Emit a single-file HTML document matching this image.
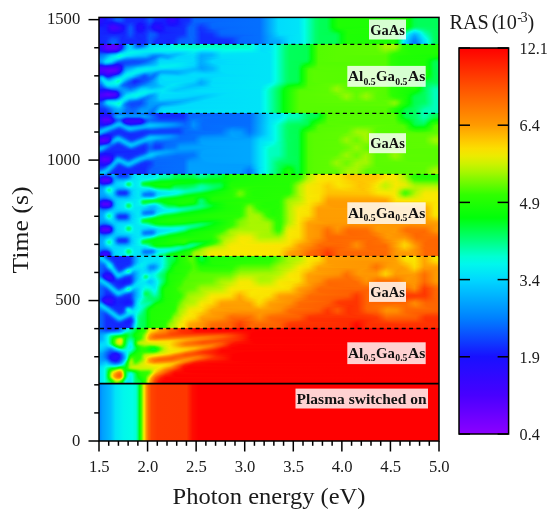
<!DOCTYPE html><html><head><meta charset="utf-8"><style>html,body{margin:0;padding:0;background:#fff;overflow:hidden}#w{position:relative;width:550px;height:517px}#h{position:absolute;left:99px;top:17px;width:340px;height:424px}#h i{display:block;height:1px;width:340px}svg{position:absolute;left:0;top:0;display:block}</style></head><body><div id="w"><div id="h"><i style="background:linear-gradient(90deg,#3008ff 0.5px,#1715ff 6.5px,#1326ff 9.5px,#1131ff 12.5px,#0664ff 17.5px,#0663ff 21.5px,#122aff 27.5px,#122bff 45.5px,#0958ff 50.5px,#0a51ff 52.5px,#122bff 56.5px,#1423ff 64.5px,#220dff 68.5px,#2f08ff 72.5px,#210dff 77.5px,#1326ff 82.5px,#122dff 89.5px,#0666ff 95.5px,#046fff 160.5px,#00dcfd 179.5px,#00e4f8 199.5px,#00fee8 205.5px,#00ff6e 216.5px,#00ff59 220.5px,#00ff54 227.5px,#00ff34 230.5px,#02ff0a 233.5px,#1fff04 239.5px,#1dff04 305.5px,#02ff0a 310.5px,#00ff4d 315.5px,#00ff59 319.5px,#00ff59 339.5px)"></i><i style="background:linear-gradient(90deg,#2f08ff 0.5px,#1715ff 6.5px,#1327ff 10.5px,#0f3aff 13.5px,#0663ff 17.5px,#0663ff 21.5px,#122aff 27.5px,#122bff 45.5px,#0957ff 50.5px,#0a51ff 52.5px,#122bff 56.5px,#151eff 65.5px,#220dff 68.5px,#2f08ff 73.5px,#1a0fff 78.5px,#1326ff 82.5px,#122dff 89.5px,#0666ff 95.5px,#046fff 160.5px,#00dcfd 179.5px,#00e4f8 199.5px,#00fee8 205.5px,#00ff6e 216.5px,#00ff59 220.5px,#00ff54 227.5px,#00ff34 230.5px,#02ff0a 233.5px,#1fff04 239.5px,#1dff04 305.5px,#02ff0a 310.5px,#00ff4d 315.5px,#00ff59 319.5px,#00ff59 339.5px)"></i><i style="background:linear-gradient(90deg,#2f08ff 0.5px,#1715ff 6.5px,#1424ff 9.5px,#122eff 12.5px,#075fff 17.5px,#0760ff 21.5px,#122bff 27.5px,#1327ff 44.5px,#0f3bff 47.5px,#0956ff 50.5px,#0a50ff 52.5px,#1329ff 56.5px,#151eff 65.5px,#220dff 68.5px,#2f08ff 73.5px,#1a0fff 78.5px,#1326ff 82.5px,#122eff 89.5px,#0665ff 95.5px,#046fff 160.5px,#00dcfd 179.5px,#00e4f8 199.5px,#00fee8 205.5px,#00ff6e 216.5px,#00ff59 220.5px,#00ff54 227.5px,#00ff34 230.5px,#02ff0a 233.5px,#1fff04 239.5px,#1dff04 305.5px,#02ff0a 310.5px,#00ff4d 315.5px,#00ff59 319.5px,#00ff59 339.5px)"></i><i style="background:linear-gradient(90deg,#2d09ff 0.5px,#1716ff 6.5px,#1421ff 9.5px,#1327ff 12.5px,#0956ff 17.5px,#0859ff 21.5px,#122bff 27.5px,#1424ff 43.5px,#0f3aff 47.5px,#0954ff 50.5px,#0d42ff 53.5px,#1326ff 56.5px,#151dff 65.5px,#260bff 69.5px,#2c09ff 74.5px,#1a0fff 78.5px,#1424ff 81.5px,#1130ff 89.5px,#0665ff 95.5px,#046fff 160.5px,#00dcfd 179.5px,#00e4f8 199.5px,#00fee8 205.5px,#00ff6e 216.5px,#00ff59 220.5px,#00ff54 227.5px,#00ff34 230.5px,#02ff0a 233.5px,#1fff04 239.5px,#1dff04 305.5px,#02ff0a 310.5px,#00ff4d 315.5px,#00ff59 319.5px,#00ff59 339.5px)"></i><i style="background:linear-gradient(90deg,#2a0aff 0.5px,#1716ff 6.5px,#161bff 9.5px,#161aff 12.5px,#0c4aff 18.5px,#0c49ff 22.5px,#122bff 27.5px,#1328ff 35.5px,#1520ff 43.5px,#1038ff 47.5px,#0a4fff 50.5px,#0c47ff 52.5px,#151fff 56.5px,#151dff 65.5px,#1f0eff 68.5px,#2a0aff 73.5px,#1910ff 78.5px,#1326ff 82.5px,#1034ff 89.5px,#0665ff 95.5px,#0666ff 108.5px,#046fff 160.5px,#00dcfd 179.5px,#00e4f8 199.5px,#00fee8 205.5px,#00ff6e 216.5px,#00ff59 220.5px,#00ff54 227.5px,#00ff34 230.5px,#02ff0a 233.5px,#1fff04 239.5px,#1dff04 305.5px,#02ff0a 310.5px,#00ff4d 315.5px,#00ff59 319.5px,#00ff59 339.5px)"></i><i style="background:linear-gradient(90deg,#270bff 0.5px,#1617ff 6.5px,#1910ff 13.5px,#0f3bff 20.5px,#122cff 27.5px,#1131ff 33.5px,#1717ff 41.5px,#122dff 46.5px,#0c49ff 50.5px,#0e3fff 52.5px,#1716ff 56.5px,#1716ff 61.5px,#151dff 65.5px,#210dff 69.5px,#230cff 75.5px,#1812ff 78.5px,#1326ff 82.5px,#0f3aff 89.5px,#0664ff 95.5px,#085cff 104.5px,#056aff 118.5px,#046fff 160.5px,#00dcfd 179.5px,#00e4f8 199.5px,#00fee8 205.5px,#00ff6e 216.5px,#00ff59 220.5px,#00ff54 227.5px,#00ff34 230.5px,#02ff0a 233.5px,#1fff04 239.5px,#1dff04 305.5px,#02ff0a 310.5px,#00ff4d 315.5px,#00ff59 319.5px,#00ff59 339.5px)"></i><i style="background:linear-gradient(90deg,#220dff 0.5px,#1713ff 5.5px,#1713ff 8.5px,#240cff 13.5px,#1618ff 18.5px,#122bff 23.5px,#1131ff 28.5px,#0f3aff 32.5px,#1810ff 40.5px,#151cff 44.5px,#0d41ff 50.5px,#1329ff 53.5px,#1712ff 55.5px,#1713ff 62.5px,#151dff 65.5px,#200dff 70.5px,#1910ff 77.5px,#1326ff 82.5px,#1035ff 87.5px,#0662ff 94.5px,#0a53ff 103.5px,#056aff 114.5px,#046fff 160.5px,#00dcfd 179.5px,#00e4f8 199.5px,#00fee8 205.5px,#00ff6e 216.5px,#00ff59 220.5px,#00ff54 227.5px,#00ff34 230.5px,#02ff0a 233.5px,#1fff04 239.5px,#1dff04 305.5px,#02ff0a 310.5px,#00ff4d 315.5px,#00ff59 319.5px,#00ff59 339.5px)"></i><i style="background:linear-gradient(90deg,#1d0eff 0.5px,#161aff 6.5px,#260bff 10.5px,#2d09ff 14.5px,#1619ff 22.5px,#0d42ff 31.5px,#122dff 35.5px,#1910ff 39.5px,#1810ff 43.5px,#0f39ff 49.5px,#1035ff 51.5px,#1812ff 54.5px,#1f0eff 60.5px,#151cff 66.5px,#1c0fff 70.5px,#1713ff 77.5px,#1326ff 82.5px,#0f3aff 87.5px,#0663ff 94.5px,#0c4aff 102.5px,#0569ff 113.5px,#046fff 160.5px,#00dcfd 179.5px,#00e4f8 199.5px,#00fee8 205.5px,#00ff6e 216.5px,#00ff59 220.5px,#00ff54 227.5px,#00ff34 230.5px,#02ff0a 233.5px,#1fff04 239.5px,#1dff04 305.5px,#02ff0a 310.5px,#00ff4e 315.5px,#00ff59 319.5px,#00ff59 339.5px)"></i><i style="background:linear-gradient(90deg,#1910ff 0.5px,#161bff 6.5px,#2c09ff 10.5px,#3805ff 14.5px,#1810ff 23.5px,#0c4aff 31.5px,#112fff 35.5px,#1810ff 38.5px,#1e0eff 42.5px,#151dff 45.5px,#1132ff 49.5px,#122cff 51.5px,#1b0fff 54.5px,#240cff 59.5px,#1617ff 64.5px,#151cff 67.5px,#1910ff 73.5px,#112fff 85.5px,#0760ff 92.5px,#075dff 96.5px,#0d42ff 102.5px,#0569ff 113.5px,#046fff 160.5px,#00dcfd 179.5px,#00e4f8 199.5px,#00fee8 205.5px,#00ff6e 216.5px,#00ff59 220.5px,#00ff54 227.5px,#00ff34 230.5px,#02ff0a 233.5px,#1fff04 239.5px,#1dff04 305.5px,#01ff0a 310.5px,#00ff50 315.5px,#00ff5b 319.5px,#00ff59 339.5px)"></i><i style="background:linear-gradient(90deg,#1618ff 0.5px,#151cff 6.5px,#3805ff 11.5px,#3f03ff 15.5px,#1810ff 24.5px,#0b4dff 30.5px,#0b4eff 32.5px,#1a0fff 38.5px,#200dff 42.5px,#1811ff 44.5px,#122cff 48.5px,#1326ff 51.5px,#1910ff 53.5px,#280bff 58.5px,#1a0fff 63.5px,#1520ff 66.5px,#161aff 75.5px,#1130ff 85.5px,#0760ff 91.5px,#0761ff 95.5px,#0f3cff 101.5px,#0b4bff 106.5px,#0567ff 113.5px,#046fff 160.5px,#00dcfd 179.5px,#00e4f8 199.5px,#00fee8 205.5px,#00ff6e 216.5px,#00ff59 220.5px,#00ff54 227.5px,#00ff35 230.5px,#01ff0a 233.5px,#1eff04 239.5px,#1bff04 305.5px,#00ff0d 310.5px,#00ff57 315.5px,#00ff60 319.5px,#00ff59 339.5px)"></i><i style="background:linear-gradient(90deg,#1520ff 0.5px,#151dff 6.5px,#280bff 9.5px,#4102ff 12.5px,#3f03ff 17.5px,#1a0fff 24.5px,#0a51ff 30.5px,#0a52ff 32.5px,#1a0fff 38.5px,#210dff 42.5px,#1810ff 44.5px,#122bff 48.5px,#1424ff 51.5px,#1910ff 53.5px,#290aff 59.5px,#1715ff 64.5px,#1423ff 67.5px,#1327ff 82.5px,#1132ff 85.5px,#0761ff 90.5px,#0665ff 94.5px,#1036ff 101.5px,#0e40ff 105.5px,#0665ff 113.5px,#046fff 160.5px,#00dcfd 179.5px,#00e4f8 199.5px,#00fee8 205.5px,#00ff6e 216.5px,#00ff59 220.5px,#00ff54 227.5px,#00ff37 230.5px,#00ff0b 233.5px,#1cff04 240.5px,#1bff04 301.5px,#0cff07 307.5px,#00ff0d 309.5px,#00ff5e 314.5px,#00ff71 317.5px,#00ff59 335.5px,#00ff59 339.5px)"></i><i style="background:linear-gradient(90deg,#1424ff 0.5px,#151fff 6.5px,#270bff 9.5px,#4202ff 13.5px,#3a05ff 18.5px,#1a0fff 24.5px,#0954ff 30.5px,#0955ff 32.5px,#1a0fff 38.5px,#200dff 42.5px,#1811ff 44.5px,#122cff 48.5px,#1328ff 51.5px,#1c0fff 54.5px,#260bff 60.5px,#1716ff 64.5px,#1425ff 67.5px,#122cff 84.5px,#0663ff 90.5px,#0665ff 94.5px,#1133ff 101.5px,#0f3cff 105.5px,#0760ff 113.5px,#056aff 133.5px,#046fff 160.5px,#00dcfd 179.5px,#00e4f8 199.5px,#00fee8 205.5px,#00ff6e 216.5px,#00ff59 220.5px,#00ff55 227.5px,#00ff2e 231.5px,#02ff0a 234.5px,#19ff05 241.5px,#20ff03 265.5px,#1cff04 298.5px,#08ff08 306.5px,#00ff16 308.5px,#00ff7d 314.5px,#00ff8e 316.5px,#00ff65 328.5px,#00ff59 339.5px)"></i><i style="background:linear-gradient(90deg,#1326ff 0.5px,#1520ff 6.5px,#240cff 9.5px,#3b04ff 13.5px,#3506ff 18.5px,#1910ff 24.5px,#0955ff 30.5px,#0956ff 32.5px,#1810ff 38.5px,#1e0eff 42.5px,#151dff 45.5px,#1133ff 49.5px,#1328ff 52.5px,#1a0fff 55.5px,#200dff 61.5px,#1618ff 64.5px,#1326ff 68.5px,#122cff 84.5px,#0664ff 90.5px,#0665ff 94.5px,#1131ff 101.5px,#0f38ff 105.5px,#075dff 115.5px,#056aff 128.5px,#046fff 160.5px,#00dcfd 179.5px,#00e4f8 199.5px,#00fee8 205.5px,#00ff6e 216.5px,#00ff59 220.5px,#00ff51 228.5px,#01ff0a 235.5px,#1fff04 247.5px,#1cff04 297.5px,#00ff0a 305.5px,#00ff5f 310.5px,#00ffa9 314.5px,#00ffb8 316.5px,#00ff8e 322.5px,#00ff6d 328.5px,#00ff59 338.5px,#00ff59 339.5px)"></i><i style="background:linear-gradient(90deg,#1326ff 0.5px,#1421ff 6.5px,#200dff 9.5px,#3307ff 14.5px,#1b0fff 23.5px,#1133ff 27.5px,#0955ff 30.5px,#0956ff 32.5px,#1714ff 38.5px,#1810ff 43.5px,#0f39ff 49.5px,#1035ff 52.5px,#1810ff 57.5px,#1a0fff 62.5px,#1326ff 67.5px,#122cff 84.5px,#0665ff 90.5px,#0665ff 94.5px,#1130ff 101.5px,#1034ff 105.5px,#0569ff 122.5px,#046fff 160.5px,#00dcfd 179.5px,#00e4f8 199.5px,#00fee8 205.5px,#00ff6e 216.5px,#00ff59 220.5px,#00ff52 228.5px,#02ff0a 237.5px,#20ff03 249.5px,#1dff04 296.5px,#03ff09 302.5px,#00ff2a 305.5px,#00ffa0 311.5px,#00ffdb 314.5px,#00ffe8 316.5px,#00ffc1 320.5px,#00ff81 326.5px,#00ff59 336.5px,#00ff59 339.5px)"></i><i style="background:linear-gradient(90deg,#1326ff 0.5px,#1423ff 6.5px,#200dff 10.5px,#290aff 16.5px,#1811ff 23.5px,#0e3fff 28.5px,#0859ff 31.5px,#0d41ff 34.5px,#1713ff 39.5px,#1715ff 43.5px,#0d44ff 50.5px,#1036ff 54.5px,#1810ff 60.5px,#1326ff 68.5px,#122cff 84.5px,#0665ff 90.5px,#0665ff 94.5px,#122dff 102.5px,#0b4dff 114.5px,#0569ff 122.5px,#046fff 160.5px,#00dcfd 179.5px,#00e4f8 199.5px,#00fee8 205.5px,#00ff6e 216.5px,#00ff59 220.5px,#00ff54 228.5px,#00ff0a 239.5px,#20ff03 249.5px,#1cff04 296.5px,#00ff0c 301.5px,#00ff5f 306.5px,#00ffe7 312.5px,#00ecf3 315.5px,#00ffe4 320.5px,#00ff99 325.5px,#00ff63 333.5px,#00ff59 339.5px)"></i><i style="background:linear-gradient(90deg,#1326ff 0.5px,#1520ff 7.5px,#1d0eff 11.5px,#1a0fff 20.5px,#122aff 26.5px,#0955ff 30.5px,#0956ff 32.5px,#1423ff 37.5px,#1716ff 41.5px,#122cff 46.5px,#0b4fff 51.5px,#0e40ff 55.5px,#161aff 60.5px,#1326ff 72.5px,#122dff 84.5px,#0665ff 90.5px,#0665ff 94.5px,#122cff 102.5px,#0d42ff 113.5px,#0568ff 122.5px,#046fff 160.5px,#00defc 180.5px,#00e4f8 199.5px,#00fee8 205.5px,#00ff6e 216.5px,#00ff59 220.5px,#00ff4f 230.5px,#00ff25 238.5px,#02ff0a 241.5px,#20ff03 249.5px,#1eff04 295.5px,#00ff0c 300.5px,#00ff9b 307.5px,#00ffe5 310.5px,#00dafe 315.5px,#00ecf3 319.5px,#00ffdf 322.5px,#00ff9d 326.5px,#00ff60 334.5px,#00ff59 339.5px)"></i><i style="background:linear-gradient(90deg,#1326ff 0.5px,#1520ff 8.5px,#1811ff 15.5px,#1325ff 25.5px,#0957ff 31.5px,#0e40ff 34.5px,#1422ff 38.5px,#1520ff 43.5px,#1038ff 47.5px,#0958ff 51.5px,#0b4dff 55.5px,#1520ff 61.5px,#112eff 84.5px,#0665ff 90.5px,#0665ff 94.5px,#122bff 102.5px,#1037ff 112.5px,#0666ff 122.5px,#046fff 160.5px,#00dcfd 180.5px,#00e4f8 199.5px,#00fee8 205.5px,#00ff6e 216.5px,#00ff59 220.5px,#00ff50 231.5px,#00ff3d 237.5px,#03ff09 242.5px,#20ff03 249.5px,#1dff04 295.5px,#02ff0a 299.5px,#00ff8e 305.5px,#00ffdb 308.5px,#00f0f1 310.5px,#00cbff 314.5px,#00cdff 317.5px,#00f9ec 322.5px,#00ffcc 324.5px,#00ff96 328.5px,#00ff5d 335.5px,#00ff59 339.5px)"></i><i style="background:linear-gradient(90deg,#1326ff 0.5px,#1424ff 24.5px,#0e3dff 28.5px,#0954ff 31.5px,#1327ff 37.5px,#1326ff 44.5px,#0f3aff 47.5px,#075dff 51.5px,#0955ff 55.5px,#1325ff 61.5px,#112fff 83.5px,#0b4cff 87.5px,#0665ff 90.5px,#0665ff 94.5px,#122aff 102.5px,#1131ff 112.5px,#0761ff 122.5px,#046fff 160.5px,#00d9fe 180.5px,#00e7f6 200.5px,#00fee8 205.5px,#00ff6e 216.5px,#00ff59 220.5px,#00ff4d 236.5px,#00ff35 239.5px,#00ff0a 242.5px,#1eff04 248.5px,#1dff04 295.5px,#00ff0e 299.5px,#00ffe1 307.5px,#00ceff 312.5px,#00b7ff 315.5px,#00c8ff 318.5px,#00f9eb 323.5px,#00ffa2 328.5px,#00ff63 334.5px,#00ff59 339.5px)"></i><i style="background:linear-gradient(90deg,#1326ff 0.5px,#122eff 17.5px,#1328ff 25.5px,#0b4fff 31.5px,#1328ff 37.5px,#122bff 45.5px,#0760ff 51.5px,#0956ff 55.5px,#1328ff 61.5px,#122aff 76.5px,#0e3eff 85.5px,#0666ff 90.5px,#0665ff 94.5px,#122aff 102.5px,#122eff 112.5px,#085bff 122.5px,#056aff 153.5px,#046fff 160.5px,#00d4ff 180.5px,#00e7f6 200.5px,#00fee8 205.5px,#00ff6e 216.5px,#00ff59 220.5px,#00ff53 236.5px,#00ff3b 239.5px,#00ff0e 242.5px,#1eff04 248.5px,#1dff04 295.5px,#06ff09 298.5px,#00ff16 299.5px,#00ffde 306.5px,#00eef2 308.5px,#00cdff 311.5px,#00aaff 315.5px,#00bdff 318.5px,#00e8f6 322.5px,#00fbea 324.5px,#00ff7a 332.5px,#00ff5e 335.5px,#00ff59 339.5px)"></i><i style="background:linear-gradient(90deg,#1326ff 0.5px,#1130ff 9.5px,#0f3bff 15.5px,#1327ff 24.5px,#1037ff 28.5px,#0c48ff 31.5px,#1328ff 37.5px,#122bff 45.5px,#0760ff 51.5px,#0b4bff 56.5px,#1329ff 61.5px,#122aff 75.5px,#0b4cff 86.5px,#0569ff 91.5px,#0760ff 95.5px,#122aff 102.5px,#122cff 112.5px,#0a52ff 122.5px,#075dff 135.5px,#056aff 145.5px,#046fff 160.5px,#00c3ff 177.5px,#00e0fa 191.5px,#00e7f6 200.5px,#00fee8 205.5px,#00ff6e 216.5px,#00ff59 220.5px,#00ff56 236.5px,#00ff3d 239.5px,#00ff0f 242.5px,#1eff04 248.5px,#1cff04 295.5px,#04ff09 298.5px,#00ff3b 300.5px,#00ffd5 305.5px,#00fbea 306.5px,#00d0ff 310.5px,#00a5ff 314.5px,#00a2ff 316.5px,#00e1fa 322.5px,#00fde9 325.5px,#00ff71 333.5px,#00ff5b 336.5px,#00ff59 339.5px)"></i><i style="background:linear-gradient(90deg,#1326ff 0.5px,#122bff 7.5px,#0d45ff 13.5px,#0f3cff 18.5px,#1327ff 23.5px,#1034ff 28.5px,#0d41ff 31.5px,#1327ff 38.5px,#122bff 45.5px,#085bff 50.5px,#0958ff 53.5px,#1328ff 61.5px,#122bff 75.5px,#0c47ff 82.5px,#0a52ff 86.5px,#0569ff 91.5px,#0760ff 95.5px,#122aff 102.5px,#122aff 112.5px,#0c49ff 123.5px,#0a51ff 133.5px,#056aff 143.5px,#046fff 160.5px,#00afff 173.5px,#00dffb 190.5px,#00e7f6 200.5px,#00fee8 205.5px,#00ff6e 216.5px,#00ff59 220.5px,#00ff56 236.5px,#00ff3e 239.5px,#00ff10 242.5px,#1eff04 248.5px,#1cff04 295.5px,#03ff09 298.5px,#00ff83 302.5px,#00ffe6 305.5px,#00d3ff 309.5px,#009dff 314.5px,#009aff 316.5px,#00e4f8 323.5px,#00fee8 326.5px,#00ff68 334.5px,#00ff59 337.5px,#00ff59 339.5px)"></i><i style="background:linear-gradient(90deg,#1326ff 0.5px,#122dff 7.5px,#0b4fff 13.5px,#0c48ff 17.5px,#1327ff 23.5px,#1035ff 29.5px,#1035ff 33.5px,#1326ff 39.5px,#122bff 45.5px,#085aff 50.5px,#0a53ff 53.5px,#122aff 60.5px,#1329ff 74.5px,#0b4fff 81.5px,#075dff 87.5px,#0569ff 92.5px,#0958ff 96.5px,#122aff 102.5px,#122bff 113.5px,#0e40ff 124.5px,#0c46ff 132.5px,#0569ff 142.5px,#046fff 160.5px,#00a6ff 171.5px,#00e0fb 191.5px,#00e7f6 200.5px,#00fee8 205.5px,#00ff6e 216.5px,#00ff59 220.5px,#00ff57 236.5px,#00ff3e 239.5px,#00ff10 242.5px,#1eff04 248.5px,#1cff04 295.5px,#01ff0a 298.5px,#00ffd5 304.5px,#00f9eb 305.5px,#00ccff 309.5px,#0095ff 314.5px,#0092ff 316.5px,#00ddfc 323.5px,#00ffe6 327.5px,#00ff78 333.5px,#00ff5b 336.5px,#00ff59 339.5px)"></i><i style="background:linear-gradient(90deg,#1326ff 0.5px,#122eff 7.5px,#0955ff 12.5px,#0955ff 16.5px,#122aff 22.5px,#122dff 28.5px,#1130ff 33.5px,#1326ff 42.5px,#1131ff 46.5px,#0859ff 50.5px,#0957ff 52.5px,#122eff 58.5px,#1326ff 70.5px,#122eff 75.5px,#0958ff 81.5px,#0568ff 93.5px,#0a50ff 97.5px,#122aff 102.5px,#122bff 114.5px,#1037ff 127.5px,#0d43ff 133.5px,#0568ff 141.5px,#046fff 160.5px,#00a5ff 171.5px,#00bbff 181.5px,#00dffb 190.5px,#00e7f6 200.5px,#00fee8 205.5px,#00ff6e 216.5px,#00ff59 220.5px,#00ff57 236.5px,#00ff3e 239.5px,#00ff10 242.5px,#1eff04 248.5px,#1cff04 295.5px,#00ff0c 298.5px,#00ffe3 304.5px,#00d0ff 308.5px,#008eff 314.5px,#008bff 316.5px,#00e1fa 324.5px,#00ffde 328.5px,#00ff6c 334.5px,#00ff59 337.5px,#00ff59 339.5px)"></i><i style="background:linear-gradient(90deg,#1326ff 0.5px,#122aff 6.5px,#085bff 12.5px,#085cff 16.5px,#122aff 22.5px,#1329ff 35.5px,#122bff 45.5px,#0859ff 50.5px,#0b4bff 53.5px,#122dff 57.5px,#1327ff 73.5px,#0d41ff 77.5px,#075fff 81.5px,#0568ff 93.5px,#0a50ff 97.5px,#122aff 102.5px,#122cff 117.5px,#1034ff 131.5px,#0568ff 141.5px,#046fff 160.5px,#00a4ff 171.5px,#00b1ff 180.5px,#00dffb 190.5px,#00e7f6 200.5px,#00fee8 205.5px,#00ff6e 216.5px,#00ff59 220.5px,#00ff57 236.5px,#00ff3e 239.5px,#00ff10 242.5px,#1eff04 248.5px,#1cff04 295.5px,#00ff0f 298.5px,#00fde9 304.5px,#00d7ff 307.5px,#0088ff 314.5px,#0086ff 316.5px,#00dcfd 324.5px,#00ffe7 328.5px,#00ff6d 334.5px,#00ff59 337.5px,#00ff59 339.5px)"></i><i style="background:linear-gradient(90deg,#1326ff 0.5px,#122aff 6.5px,#0760ff 12.5px,#0760ff 16.5px,#122bff 22.5px,#122bff 45.5px,#0958ff 50.5px,#0a53ff 52.5px,#122eff 56.5px,#1326ff 71.5px,#1130ff 75.5px,#0760ff 80.5px,#0568ff 93.5px,#0a50ff 97.5px,#122aff 102.5px,#122dff 130.5px,#0567ff 141.5px,#046fff 160.5px,#00a1ff 170.5px,#00adff 180.5px,#00dffb 190.5px,#00e7f6 200.5px,#00fee8 205.5px,#00ff6e 216.5px,#00ff59 220.5px,#00ff57 236.5px,#00ff3e 239.5px,#00ff10 242.5px,#1eff04 248.5px,#1cff04 295.5px,#00ff11 298.5px,#00ffd0 303.5px,#00faeb 304.5px,#00d3ff 307.5px,#0084ff 314.5px,#0082ff 316.5px,#00d8ff 324.5px,#00fde9 328.5px,#00ff6e 334.5px,#00ff59 337.5px,#00ff59 339.5px)"></i><i style="background:linear-gradient(90deg,#1326ff 0.5px,#122aff 6.5px,#0662ff 12.5px,#0663ff 16.5px,#122bff 22.5px,#122bff 45.5px,#0958ff 50.5px,#0a52ff 52.5px,#122cff 56.5px,#1328ff 73.5px,#0f39ff 76.5px,#0662ff 80.5px,#0569ff 92.5px,#0958ff 96.5px,#122aff 102.5px,#122dff 131.5px,#0567ff 141.5px,#046fff 160.5px,#00a1ff 170.5px,#00abff 180.5px,#00dffb 190.5px,#00e7f6 200.5px,#00fee8 205.5px,#00ff6e 216.5px,#00ff59 220.5px,#00ff57 236.5px,#00ff3e 239.5px,#00ff10 242.5px,#1eff04 248.5px,#1cff04 295.5px,#0aff08 297.5px,#00ff12 298.5px,#00ffd3 303.5px,#00f8ec 304.5px,#00d1ff 307.5px,#0082ff 314.5px,#007fff 316.5px,#00e0fa 325.5px,#00fcea 328.5px,#00ffab 331.5px,#00ff6e 334.5px,#00ff5c 336.5px,#00ff59 339.5px)"></i><i style="background:linear-gradient(90deg,#1326ff 0.5px,#122aff 6.5px,#0663ff 12.5px,#0664ff 16.5px,#122bff 22.5px,#122bff 45.5px,#0958ff 50.5px,#0a51ff 52.5px,#122bff 56.5px,#122aff 74.5px,#0663ff 80.5px,#0569ff 92.5px,#0958ff 96.5px,#122aff 102.5px,#122cff 131.5px,#0567ff 141.5px,#046fff 160.5px,#00a1ff 170.5px,#00aaff 180.5px,#00dffb 190.5px,#00e7f6 200.5px,#00fee8 205.5px,#00ff6e 216.5px,#00ff59 220.5px,#00ff57 236.5px,#00ff3e 239.5px,#00ff10 242.5px,#1eff04 248.5px,#1cff04 295.5px,#0aff08 297.5px,#00ff12 298.5px,#00ffd5 303.5px,#00f8ec 304.5px,#00d0ff 307.5px,#0081ff 314.5px,#007eff 316.5px,#00e0fa 325.5px,#00fbea 328.5px,#00ffc3 330.5px,#00ff6e 334.5px,#00ff5a 337.5px,#00ff59 339.5px)"></i><i style="background:linear-gradient(90deg,#3108ff 0.5px,#4102ff 4.5px,#5900ff 8.5px,#5900ff 16.5px,#3108ff 21.5px,#230cff 22.5px,#151fff 23.5px,#0372ff 25.5px,#00a7ff 27.5px,#00ccff 30.5px,#00c3ff 32.5px,#0a52ff 38.5px,#0e40ff 40.5px,#0d45ff 42.5px,#046fff 45.5px,#00cfff 50.5px,#00e1fa 53.5px,#00e4f8 69.5px,#00fde9 73.5px,#00ffc6 76.5px,#00ffbf 121.5px,#00ffc1 149.5px,#00ffd8 152.5px,#00f7ed 155.5px,#00e0fa 162.5px,#00e4f8 170.5px,#00ffe8 176.5px,#00ff76 186.5px,#00ff5b 190.5px,#00ff55 207.5px,#00ff41 209.5px,#04ff09 212.5px,#39fe00 217.5px,#53fd00 219.5px,#59fc00 237.5px,#5cfc00 276.5px,#a8f700 287.5px,#a5f700 295.5px,#84f900 298.5px,#32ff00 303.5px,#20ff03 308.5px,#20ff03 339.5px)"></i><i style="background:linear-gradient(90deg,#3008ff 0.5px,#4900ff 5.5px,#5c00ff 9.5px,#5700ff 17.5px,#3207ff 21.5px,#230cff 22.5px,#151fff 23.5px,#0372ff 25.5px,#00a7ff 27.5px,#00c5ff 29.5px,#00cdff 31.5px,#00b3ff 33.5px,#0859ff 38.5px,#0b4aff 40.5px,#0a52ff 42.5px,#009dff 47.5px,#00d2ff 50.5px,#00e3f9 53.5px,#00e9f5 70.5px,#00fde9 73.5px,#00ffc9 76.5px,#00ffc0 104.5px,#00ffc2 149.5px,#00ffd9 152.5px,#00fcea 154.5px,#00e1fa 161.5px,#00e4f8 170.5px,#00ffe8 176.5px,#00ff76 186.5px,#00ff5b 190.5px,#00ff55 207.5px,#00ff41 209.5px,#04ff09 212.5px,#39fe00 217.5px,#53fd00 219.5px,#59fc00 237.5px,#5cfc00 276.5px,#a4f700 286.5px,#a4f700 295.5px,#83f900 298.5px,#31ff00 303.5px,#20ff03 308.5px,#20ff03 339.5px)"></i><i style="background:linear-gradient(90deg,#3008ff 0.5px,#4900ff 5.5px,#5c00ff 8.5px,#5900ff 17.5px,#3108ff 21.5px,#220dff 22.5px,#1422ff 23.5px,#0275ff 25.5px,#00a9ff 27.5px,#00ceff 30.5px,#00c5ff 32.5px,#0373ff 37.5px,#075fff 40.5px,#0275ff 43.5px,#00baff 48.5px,#00e0fa 51.5px,#00e7f6 61.5px,#00ecf3 70.5px,#00fde9 73.5px,#00ffcd 76.5px,#00ffc3 99.5px,#00ffc4 149.5px,#00fbea 154.5px,#00e1fa 161.5px,#00e4f8 170.5px,#00ffe8 176.5px,#00ff76 186.5px,#00ff5b 190.5px,#00ff55 207.5px,#00ff41 209.5px,#04ff09 212.5px,#39fe00 217.5px,#53fd00 219.5px,#59fc00 237.5px,#5cfc00 276.5px,#a3f700 286.5px,#a2f700 295.5px,#81f900 298.5px,#31ff00 303.5px,#20ff03 308.5px,#20ff03 339.5px)"></i><i style="background:linear-gradient(90deg,#2d09ff 0.5px,#3f03ff 4.5px,#5c00ff 8.5px,#5900ff 17.5px,#2e09ff 21.5px,#1e0eff 22.5px,#122bff 23.5px,#017cff 25.5px,#00acff 27.5px,#00d0ff 30.5px,#00caff 32.5px,#0091ff 36.5px,#0081ff 39.5px,#0095ff 43.5px,#00e0fa 50.5px,#00ebf4 55.5px,#00f3ef 71.5px,#00ffd9 75.5px,#00ffc9 96.5px,#00ffce 113.5px,#00ffc7 141.5px,#00ffcd 150.5px,#00faeb 154.5px,#00e0fa 162.5px,#00e4f8 170.5px,#00ffe8 176.5px,#00ff76 186.5px,#00ff5b 190.5px,#00ff55 207.5px,#00ff41 209.5px,#04ff09 212.5px,#39fe00 217.5px,#53fd00 219.5px,#59fc00 237.5px,#5cfc00 276.5px,#9ff700 286.5px,#9ff700 294.5px,#8af900 297.5px,#30ff00 303.5px,#20ff03 308.5px,#20ff03 339.5px)"></i><i style="background:linear-gradient(90deg,#280bff 0.5px,#3a05ff 4.5px,#5800ff 8.5px,#5800ff 16.5px,#3407ff 20.5px,#1618ff 22.5px,#0089ff 25.5px,#00c3ff 28.5px,#00d7ff 31.5px,#00a3ff 37.5px,#00aaff 41.5px,#00e3f9 49.5px,#00f0f1 54.5px,#00f5ee 71.5px,#00ffdf 77.5px,#00ffda 89.5px,#00ffd3 95.5px,#00ffe5 104.5px,#00ffdb 116.5px,#00ffd0 127.5px,#00ffd2 149.5px,#00f8ec 154.5px,#00e0fa 162.5px,#00e4f8 170.5px,#00ffe8 176.5px,#00ff76 186.5px,#00ff5b 190.5px,#00ff55 207.5px,#00ff41 209.5px,#04ff09 212.5px,#39fe00 217.5px,#53fd00 219.5px,#59fc00 237.5px,#5cfc00 276.5px,#99f800 286.5px,#90f800 295.5px,#64fb00 299.5px,#2eff00 303.5px,#20ff03 309.5px,#20ff03 339.5px)"></i><i style="background:linear-gradient(90deg,#210dff 0.5px,#3a05ff 5.5px,#5000ff 9.5px,#4c00ff 16.5px,#3307ff 19.5px,#1715ff 21.5px,#0082ff 24.5px,#00bfff 27.5px,#00dcfc 30.5px,#00d6ff 33.5px,#00c3ff 37.5px,#00e4f8 47.5px,#00f2ef 54.5px,#00f9ec 73.5px,#00ffe6 91.5px,#00ffe4 95.5px,#00f5ee 109.5px,#00ffde 129.5px,#00ffe0 149.5px,#00e0fa 162.5px,#00e4f8 170.5px,#00ffe8 176.5px,#00ff76 186.5px,#00ff5b 190.5px,#00ff55 207.5px,#00ff41 209.5px,#04ff09 212.5px,#39fe00 217.5px,#53fd00 219.5px,#59fc00 237.5px,#5bfc00 276.5px,#90f800 286.5px,#7ff900 295.5px,#4cfd00 300.5px,#2cff01 303.5px,#20ff03 310.5px,#20ff03 339.5px)"></i><i style="background:linear-gradient(90deg,#1910ff 0.5px,#2d09ff 5.5px,#3f03ff 9.5px,#3506ff 17.5px,#1f0eff 19.5px,#1421ff 20.5px,#0086ff 23.5px,#00c1ff 26.5px,#00e0fa 29.5px,#00e4f8 33.5px,#00e0fa 39.5px,#00f0f1 55.5px,#00f3ef 88.5px,#00f9eb 95.5px,#00e7f6 105.5px,#00f2f0 116.5px,#00fcea 128.5px,#00f7ed 152.5px,#00e0fa 162.5px,#00e4f8 170.5px,#00ffe8 176.5px,#00ff76 186.5px,#00ff5b 190.5px,#00ff55 207.5px,#00ff41 209.5px,#04ff09 212.5px,#39fe00 217.5px,#53fd00 219.5px,#59fc00 237.5px,#5efc00 277.5px,#85f900 286.5px,#6bfb00 295.5px,#2eff00 302.5px,#20ff03 310.5px,#20ff03 339.5px)"></i><i style="background:linear-gradient(90deg,#1424ff 0.5px,#1e0eff 5.5px,#2a0aff 9.5px,#200dff 16.5px,#1a0fff 17.5px,#1421ff 18.5px,#007fff 21.5px,#00bbff 24.5px,#00e5f7 28.5px,#00eff1 33.5px,#00e9f5 63.5px,#00e6f7 75.5px,#00e7f6 86.5px,#00f2f0 95.5px,#00d9fe 103.5px,#00e1f9 114.5px,#00f6ed 124.5px,#00f1f0 152.5px,#00e0fa 163.5px,#00e8f6 171.5px,#00ffe8 176.5px,#00ff76 186.5px,#00ff5b 190.5px,#00ff55 207.5px,#00ff41 209.5px,#04ff09 212.5px,#39fe00 217.5px,#53fd00 219.5px,#59fc00 237.5px,#5cfc00 277.5px,#7afa00 286.5px,#50fd00 296.5px,#2bff01 302.5px,#20ff03 310.5px,#20ff03 339.5px)"></i><i style="background:linear-gradient(90deg,#0f39ff 0.5px,#122aff 5.5px,#151eff 8.5px,#0d45ff 16.5px,#046bff 18.5px,#00afff 21.5px,#00dffb 25.5px,#00f6ee 31.5px,#00d4ff 60.5px,#00e0fa 69.5px,#00d6ff 80.5px,#00edf3 94.5px,#00cbff 102.5px,#00ceff 112.5px,#00eff1 123.5px,#00ebf4 153.5px,#00e0fa 167.5px,#00f5ee 174.5px,#00ffe8 176.5px,#00ff76 186.5px,#00ff5b 190.5px,#00ff55 207.5px,#00ff41 209.5px,#04ff09 212.5px,#39fe00 217.5px,#53fd00 219.5px,#59fc00 237.5px,#5dfc00 278.5px,#6ffb00 286.5px,#2cff01 300.5px,#20ff03 312.5px,#20ff03 339.5px)"></i><i style="background:linear-gradient(90deg,#0b4dff 0.5px,#0957ff 8.5px,#007fff 14.5px,#0099ff 17.5px,#00dafe 21.5px,#00f4ee 28.5px,#00e9f5 39.5px,#00d5ff 48.5px,#00bcff 56.5px,#00bfff 62.5px,#00d1ff 68.5px,#00c8ff 77.5px,#00e8f6 93.5px,#00bdff 102.5px,#00c1ff 112.5px,#00e9f5 122.5px,#00e3f9 157.5px,#00e4f8 170.5px,#00ffe8 176.5px,#00ff76 186.5px,#00ff5b 190.5px,#00ff55 207.5px,#00ff41 209.5px,#04ff09 212.5px,#39fe00 217.5px,#53fd00 219.5px,#59fc00 237.5px,#5dfc00 279.5px,#65fb00 286.5px,#2dff01 296.5px,#20ff03 312.5px,#1eff04 339.5px)"></i><i style="background:linear-gradient(90deg,#075fff 0.5px,#0278ff 6.5px,#00acff 13.5px,#00beff 16.5px,#00e7f6 19.5px,#00f6ed 22.5px,#00e0fa 38.5px,#00ceff 47.5px,#00a6ff 54.5px,#00a6ff 61.5px,#00bdff 68.5px,#00bcff 75.5px,#00e1fa 89.5px,#00defc 95.5px,#00b3ff 102.5px,#00b9ff 112.5px,#00e4f8 122.5px,#00e4f8 170.5px,#00ffe8 176.5px,#00ff76 186.5px,#00ff5b 190.5px,#00ff55 207.5px,#00ff41 209.5px,#04ff09 212.5px,#39fe00 217.5px,#53fd00 219.5px,#59fc00 237.5px,#5efc00 283.5px,#58fc00 287.5px,#2cff01 294.5px,#20ff03 313.5px,#1bff04 339.5px)"></i><i style="background:linear-gradient(90deg,#046eff 0.5px,#0088ff 5.5px,#00caff 12.5px,#00e0fa 16.5px,#00ffe6 19.5px,#00ffd9 20.5px,#00ffda 21.5px,#00f9eb 23.5px,#00d2ff 37.5px,#00c5ff 46.5px,#0093ff 53.5px,#008dff 57.5px,#00adff 69.5px,#00c1ff 76.5px,#00ddfc 86.5px,#00defb 94.5px,#00acff 102.5px,#00b7ff 112.5px,#00e1fa 122.5px,#00e4f8 170.5px,#00ffe8 176.5px,#00ff76 186.5px,#00ff5b 190.5px,#00ff55 207.5px,#00ff41 209.5px,#04ff09 212.5px,#39fe00 217.5px,#53fd00 219.5px,#59fc00 237.5px,#57fc00 286.5px,#2cff01 293.5px,#20ff03 305.5px,#19ff05 332.5px,#16ff05 339.5px)"></i><i style="background:linear-gradient(90deg,#017aff 0.5px,#008eff 4.5px,#00dffb 12.5px,#00f8ec 17.5px,#00ffd4 19.5px,#00ffd1 20.5px,#00fbeb 22.5px,#00d6ff 27.5px,#00b8ff 39.5px,#00b2ff 46.5px,#0081ff 53.5px,#007fff 56.5px,#00a1ff 62.5px,#00aaff 70.5px,#00d7ff 80.5px,#00ddfc 94.5px,#00aaff 102.5px,#00baff 112.5px,#00e0fb 122.5px,#00e4f8 170.5px,#00ffe8 176.5px,#00ff76 186.5px,#00ff5b 190.5px,#00ff55 207.5px,#00ff41 209.5px,#04ff09 212.5px,#39fe00 217.5px,#53fd00 219.5px,#59fc00 237.5px,#55fc00 286.5px,#2dff01 292.5px,#20ff03 300.5px,#1bff04 328.5px,#0fff07 339.5px)"></i><i style="background:linear-gradient(90deg,#0084ff 0.5px,#0099ff 4.5px,#00defc 10.5px,#00f2f0 15.5px,#00faeb 20.5px,#00d1ff 24.5px,#00b4ff 28.5px,#009eff 40.5px,#009bff 46.5px,#0373ff 53.5px,#017eff 56.5px,#00adff 61.5px,#00a7ff 68.5px,#00d8ff 78.5px,#00dffb 93.5px,#00c1ff 98.5px,#00a9ff 102.5px,#00cbff 115.5px,#00e0fa 123.5px,#00e4f8 170.5px,#00ffe8 176.5px,#00ff76 186.5px,#00ff5b 190.5px,#00ff55 207.5px,#00ff41 209.5px,#04ff09 212.5px,#39fe00 217.5px,#53fd00 219.5px,#59fc00 237.5px,#54fc00 286.5px,#2dff01 292.5px,#20ff03 300.5px,#1dff04 326.5px,#06ff09 338.5px,#06ff09 339.5px)"></i><i style="background:linear-gradient(90deg,#008cff 0.5px,#009bff 3.5px,#00e0fa 9.5px,#00f2f0 12.5px,#00e5f7 19.5px,#00bbff 23.5px,#0099ff 27.5px,#0086ff 38.5px,#0080ff 47.5px,#046eff 52.5px,#017cff 55.5px,#00b9ff 60.5px,#00beff 63.5px,#00b4ff 68.5px,#00dbfd 77.5px,#00dcfd 94.5px,#00acff 101.5px,#00b3ff 106.5px,#00dffb 122.5px,#00e4f8 170.5px,#00ffe8 176.5px,#00ff76 186.5px,#00ff5b 190.5px,#00ff55 207.5px,#00ff41 209.5px,#04ff09 212.5px,#39fe00 217.5px,#53fd00 219.5px,#59fc00 237.5px,#54fc00 286.5px,#2dff01 292.5px,#20ff03 300.5px,#1bff04 326.5px,#00ff0d 335.5px,#00ff11 339.5px)"></i><i style="background:linear-gradient(90deg,#0093ff 0.5px,#00a5ff 3.5px,#00e3f9 8.5px,#00f3ef 12.5px,#00dcfd 16.5px,#0085ff 25.5px,#0370ff 32.5px,#046dff 51.5px,#0092ff 56.5px,#00c7ff 60.5px,#00ceff 63.5px,#00c4ff 68.5px,#00dffb 77.5px,#00dcfd 94.5px,#00aaff 102.5px,#00d9ff 117.5px,#00e0fa 138.5px,#00e4f8 170.5px,#00ffe8 176.5px,#00ff76 186.5px,#00ff5b 190.5px,#00ff54 207.5px,#00ff2d 210.5px,#04ff09 212.5px,#39fe00 217.5px,#53fd00 219.5px,#59fc00 237.5px,#54fc00 286.5px,#2cff01 292.5px,#20ff03 301.5px,#1dff04 325.5px,#00ff0a 332.5px,#00ff25 336.5px,#00ff27 339.5px)"></i><i style="background:linear-gradient(90deg,#0095ff 0.5px,#00abff 3.5px,#00e4f8 7.5px,#00f0f1 11.5px,#00dcfd 14.5px,#008eff 20.5px,#0666ff 25.5px,#0958ff 34.5px,#0662ff 47.5px,#008cff 54.5px,#00d7ff 61.5px,#00d7ff 70.5px,#00e1f9 82.5px,#00dcfd 94.5px,#00adff 101.5px,#00b5ff 105.5px,#00d5ff 113.5px,#00e0fa 129.5px,#00e4f8 170.5px,#00ffe8 176.5px,#00ff76 186.5px,#00ff5b 190.5px,#00ff50 207.5px,#00ff29 210.5px,#00ff13 211.5px,#0fff07 213.5px,#3afe00 217.5px,#53fd00 219.5px,#59fc00 237.5px,#54fc00 286.5px,#2cff01 292.5px,#20ff03 301.5px,#1dff04 325.5px,#00ff0b 331.5px,#00ff35 335.5px,#00ff3a 339.5px)"></i><i style="background:linear-gradient(90deg,#008fff 0.5px,#00a9ff 3.5px,#00dcfd 6.5px,#00e8f6 9.5px,#00dcfd 12.5px,#0371ff 19.5px,#0957ff 23.5px,#0b4cff 35.5px,#0859ff 44.5px,#017dff 50.5px,#00a8ff 56.5px,#00d6ff 60.5px,#00defc 64.5px,#00defb 93.5px,#00c9ff 97.5px,#00abff 102.5px,#00d8ff 113.5px,#00e0fa 137.5px,#00e4f8 170.5px,#00ffe8 176.5px,#00ff76 186.5px,#00ff5b 190.5px,#00ff4d 205.5px,#00ff3e 208.5px,#00ff0b 211.5px,#3bfe00 217.5px,#53fd00 219.5px,#59fc00 237.5px,#54fc00 286.5px,#2cff01 292.5px,#20ff03 301.5px,#1cff04 325.5px,#02ff0a 330.5px,#00ff43 335.5px,#00ff49 339.5px)"></i><i style="background:linear-gradient(90deg,#007fff 0.5px,#009aff 3.5px,#00ceff 6.5px,#00d6ff 8.5px,#00bdff 12.5px,#0954ff 18.5px,#0d45ff 21.5px,#0a52ff 40.5px,#0275ff 47.5px,#00b0ff 56.5px,#00dffb 61.5px,#00e4f8 84.5px,#00d7ff 95.5px,#00acff 101.5px,#00b5ff 105.5px,#00d6ff 113.5px,#00e0fa 131.5px,#00e4f8 170.5px,#00ffe8 176.5px,#00ff76 186.5px,#00ff5b 190.5px,#00ff4f 201.5px,#00ff2d 208.5px,#00ff0f 210.5px,#2eff00 216.5px,#54fc00 219.5px,#54fc00 286.5px,#2cff01 292.5px,#20ff03 301.5px,#1cff04 325.5px,#00ff0a 330.5px,#00ff43 334.5px,#00ff53 338.5px,#00ff53 339.5px)"></i><i style="background:linear-gradient(90deg,#075eff 0.5px,#046dff 2.5px,#00aeff 6.5px,#00abff 9.5px,#0085ff 13.5px,#0f39ff 17.5px,#122bff 19.5px,#0b4cff 27.5px,#085bff 39.5px,#00a6ff 53.5px,#00c1ff 57.5px,#00e2f9 61.5px,#00e8f5 79.5px,#00d7ff 95.5px,#00acff 101.5px,#00b2ff 105.5px,#00d6ff 115.5px,#00e0fa 130.5px,#00e4f8 170.5px,#00ffe8 176.5px,#00ff76 186.5px,#00ff5b 190.5px,#00ff53 199.5px,#00ff14 208.5px,#07ff09 210.5px,#32ff00 216.5px,#54fc00 219.5px,#54fc00 286.5px,#2cff01 292.5px,#20ff03 301.5px,#1cff04 325.5px,#00ff0d 330.5px,#00ff47 334.5px,#00ff57 338.5px,#00ff57 339.5px)"></i><i style="background:linear-gradient(90deg,#1036ff 0.5px,#0d42ff 2.5px,#017dff 6.5px,#017cff 8.5px,#0859ff 12.5px,#161aff 16.5px,#1910ff 18.5px,#151fff 21.5px,#0a51ff 26.5px,#0569ff 37.5px,#00a8ff 50.5px,#00c1ff 56.5px,#00e7f6 61.5px,#00ecf3 76.5px,#00dafe 94.5px,#00aaff 101.5px,#00aeff 105.5px,#00dbfd 119.5px,#00e4f8 170.5px,#00ffe8 176.5px,#00ff76 186.5px,#00ff5b 190.5px,#00ff51 199.5px,#03ff09 207.5px,#2eff00 215.5px,#55fc00 219.5px,#54fc00 286.5px,#2cff01 292.5px,#20ff03 301.5px,#1cff04 325.5px,#00ff0d 330.5px,#00ff48 334.5px,#00ff58 337.5px,#00ff58 339.5px)"></i><i style="background:linear-gradient(90deg,#1a0fff 0.5px,#151dff 3.5px,#1037ff 6.5px,#1423ff 11.5px,#1d0eff 14.5px,#270bff 18.5px,#1a0fff 21.5px,#085cff 26.5px,#017cff 35.5px,#00b5ff 48.5px,#00c7ff 55.5px,#00ecf3 61.5px,#00eef2 75.5px,#00d7ff 94.5px,#00a5ff 102.5px,#00dffb 122.5px,#00e4f8 170.5px,#00ffe8 176.5px,#00ff76 186.5px,#00ff5b 190.5px,#00ff54 198.5px,#00ff2b 202.5px,#03ff09 205.5px,#36ff00 215.5px,#56fc00 219.5px,#54fc00 286.5px,#2cff01 292.5px,#20ff03 301.5px,#1cff04 325.5px,#00ff0d 330.5px,#00ff49 334.5px,#00ff59 338.5px,#00ff59 339.5px)"></i><i style="background:linear-gradient(90deg,#2b0aff 0.5px,#250cff 8.5px,#3706ff 17.5px,#220dff 21.5px,#1810ff 22.5px,#0859ff 25.5px,#0275ff 27.5px,#0091ff 34.5px,#00c8ff 46.5px,#00d7ff 55.5px,#00f1f0 62.5px,#00e7f6 80.5px,#00cdff 95.5px,#00a4ff 101.5px,#00abff 107.5px,#00dffb 122.5px,#00e4f8 170.5px,#00ffe8 176.5px,#00ff76 186.5px,#00ff5b 190.5px,#00ff53 198.5px,#00ff30 201.5px,#00ff0f 203.5px,#2bff01 211.5px,#57fc00 219.5px,#54fc00 286.5px,#2cff01 292.5px,#20ff03 301.5px,#1cff04 325.5px,#00ff0d 330.5px,#00ff49 334.5px,#00ff59 338.5px,#00ff59 339.5px)"></i><i style="background:linear-gradient(90deg,#3a05ff 0.5px,#4302ff 17.5px,#280bff 21.5px,#1c0fff 22.5px,#017bff 26.5px,#008dff 28.5px,#00a2ff 33.5px,#00c7ff 39.5px,#00dcfc 47.5px,#00edf2 65.5px,#00d7ff 87.5px,#00c6ff 95.5px,#00a0ff 102.5px,#00b9ff 113.5px,#00dffb 122.5px,#00e4f8 170.5px,#00ffe8 176.5px,#00ff76 186.5px,#00ff5b 190.5px,#00ff52 198.5px,#00ff29 201.5px,#03ff09 203.5px,#2eff00 209.5px,#58fc00 219.5px,#54fc00 286.5px,#2cff01 292.5px,#20ff03 301.5px,#1cff04 325.5px,#00ff0d 330.5px,#00ff49 334.5px,#00ff59 338.5px,#00ff59 339.5px)"></i><i style="background:linear-gradient(90deg,#4401ff 0.5px,#5100ff 16.5px,#3606ff 20.5px,#1c0fff 22.5px,#0372ff 25.5px,#008aff 26.5px,#009dff 28.5px,#00b7ff 33.5px,#00d9fe 38.5px,#00eaf5 47.5px,#00d6ff 82.5px,#00bcff 96.5px,#00a2ff 102.5px,#00b7ff 113.5px,#00dffb 122.5px,#00e4f8 170.5px,#00ffe8 176.5px,#00ff76 186.5px,#00ff5b 190.5px,#00ff51 198.5px,#00ff24 201.5px,#00ff0e 202.5px,#45fe00 210.5px,#59fc00 221.5px,#54fc00 286.5px,#2cff01 292.5px,#20ff03 301.5px,#1cff04 325.5px,#00ff0d 330.5px,#00ff49 334.5px,#00ff59 338.5px,#00ff59 339.5px)"></i><i style="background:linear-gradient(90deg,#4800ff 0.5px,#5a00ff 13.5px,#5300ff 17.5px,#280bff 21.5px,#1810ff 22.5px,#0082ff 25.5px,#00a6ff 27.5px,#00caff 33.5px,#00e8f6 38.5px,#00eff2 47.5px,#00ccff 66.5px,#00cdff 80.5px,#00b8ff 97.5px,#00a7ff 103.5px,#00b9ff 113.5px,#00dffb 122.5px,#00e4f8 170.5px,#00ffe8 176.5px,#00ff76 186.5px,#00ff5b 190.5px,#00ff51 198.5px,#00ff35 200.5px,#00ff0a 202.5px,#2eff00 207.5px,#4ffd00 210.5px,#59fc00 227.5px,#54fc00 286.5px,#2cff01 292.5px,#20ff03 301.5px,#1cff04 325.5px,#00ff0d 330.5px,#00ff49 334.5px,#00ff59 338.5px,#00ff59 339.5px)"></i><i style="background:linear-gradient(90deg,#4601ff 0.5px,#5d00ff 11.5px,#5800ff 16.5px,#3008ff 20.5px,#210dff 21.5px,#1421ff 22.5px,#0372ff 24.5px,#00a7ff 26.5px,#00beff 28.5px,#00e6f7 35.5px,#00f2f0 41.5px,#00d7ff 54.5px,#00baff 62.5px,#00bcff 73.5px,#00bcff 82.5px,#00c0ff 96.5px,#00b1ff 104.5px,#00beff 113.5px,#00dffb 122.5px,#00e4f8 170.5px,#00ffe8 176.5px,#00ff76 186.5px,#00ff5b 190.5px,#00ff56 197.5px,#00ff45 199.5px,#01ff0a 202.5px,#31ff00 207.5px,#4efd00 209.5px,#58fc00 215.5px,#54fc00 286.5px,#2cff01 292.5px,#20ff03 301.5px,#1cff04 325.5px,#00ff0d 330.5px,#00ff49 334.5px,#00ff59 338.5px,#00ff59 339.5px)"></i><i style="background:linear-gradient(90deg,#4102ff 0.5px,#4b00ff 5.5px,#5a00ff 10.5px,#5100ff 16.5px,#270bff 20.5px,#1713ff 21.5px,#0088ff 24.5px,#00b8ff 26.5px,#00d5ff 29.5px,#00f2f0 37.5px,#00e1fa 44.5px,#00c7ff 53.5px,#00aaff 59.5px,#00aeff 74.5px,#00c1ff 90.5px,#00c8ff 96.5px,#00bbff 104.5px,#00c5ff 113.5px,#00e0fa 123.5px,#00e4f8 170.5px,#00ffe8 176.5px,#00ff76 186.5px,#00ff5b 190.5px,#00ff56 197.5px,#00ff45 199.5px,#01ff0a 202.5px,#32ff00 207.5px,#50fd00 209.5px,#58fc00 214.5px,#54fc00 286.5px,#2cff01 292.5px,#20ff03 301.5px,#1cff04 325.5px,#00ff0d 330.5px,#00ff49 334.5px,#00ff59 338.5px,#00ff59 339.5px)"></i><i style="background:linear-gradient(90deg,#3805ff 0.5px,#4302ff 5.5px,#5200ff 9.5px,#3d04ff 17.5px,#1910ff 20.5px,#0080ff 23.5px,#00caff 26.5px,#00dffb 28.5px,#00f2f0 35.5px,#00e3f8 40.5px,#00bdff 46.5px,#00b7ff 52.5px,#0098ff 57.5px,#00acff 63.5px,#00acff 77.5px,#00d1ff 95.5px,#00c6ff 106.5px,#00d3ff 116.5px,#00e0fa 126.5px,#00e4f8 170.5px,#00ffe8 176.5px,#00ff76 186.5px,#00ff5b 190.5px,#00ff56 197.5px,#00ff45 199.5px,#01ff0a 202.5px,#33ff00 207.5px,#50fd00 209.5px,#59fc00 215.5px,#54fc00 286.5px,#2cff01 292.5px,#20ff03 301.5px,#1cff04 325.5px,#00ff0e 330.5px,#00ff49 334.5px,#00ff59 338.5px,#00ff59 339.5px)"></i><i style="background:linear-gradient(90deg,#2c09ff 0.5px,#3008ff 4.5px,#4501ff 8.5px,#3407ff 15.5px,#200dff 18.5px,#1618ff 19.5px,#007eff 22.5px,#00cbff 25.5px,#00ecf3 28.5px,#00f1f1 34.5px,#00d7ff 39.5px,#009eff 45.5px,#00a7ff 51.5px,#0089ff 56.5px,#009aff 59.5px,#00b6ff 62.5px,#00b1ff 78.5px,#00d8ff 94.5px,#00cfff 108.5px,#00e0fa 128.5px,#00e4f8 170.5px,#00ffe8 176.5px,#00ff76 186.5px,#00ff5b 190.5px,#00ff56 197.5px,#00ff45 199.5px,#01ff0a 202.5px,#33ff00 207.5px,#50fd00 209.5px,#59fc00 215.5px,#54fc00 286.5px,#2cff01 292.5px,#20ff03 301.5px,#1bff04 325.5px,#00ff0e 330.5px,#00ff49 334.5px,#00ff59 338.5px,#00ff59 339.5px)"></i><i style="background:linear-gradient(90deg,#1b0fff 0.5px,#1619ff 2.5px,#260bff 5.5px,#3805ff 8.5px,#230cff 14.5px,#1812ff 16.5px,#0b4cff 19.5px,#009dff 22.5px,#00ddfc 25.5px,#00f3ef 28.5px,#00e7f6 34.5px,#00b0ff 40.5px,#017eff 45.5px,#0089ff 48.5px,#0094ff 51.5px,#017dff 55.5px,#0092ff 58.5px,#00bdff 61.5px,#00c7ff 64.5px,#00bcff 78.5px,#00dbfd 92.5px,#00d8ff 113.5px,#00e0fa 137.5px,#00e4f8 170.5px,#00ffe8 176.5px,#00ff76 186.5px,#00ff5b 190.5px,#00ff56 197.5px,#00ff45 199.5px,#01ff0a 202.5px,#33ff00 207.5px,#50fd00 209.5px,#59fc00 215.5px,#54fc00 286.5px,#2cff01 292.5px,#20ff03 301.5px,#1aff05 325.5px,#00ff10 330.5px,#00ff49 334.5px,#00ff59 338.5px,#00ff59 339.5px)"></i><i style="background:linear-gradient(90deg,#0f39ff 0.5px,#0956ff 2.5px,#0a53ff 3.5px,#1c0fff 6.5px,#280bff 9.5px,#1a0fff 12.5px,#0093ff 20.5px,#00defb 24.5px,#00f3ef 27.5px,#00e4f8 32.5px,#009fff 39.5px,#0665ff 44.5px,#0761ff 46.5px,#0085ff 50.5px,#0276ff 55.5px,#009bff 58.5px,#00caff 61.5px,#00d3ff 65.5px,#00cbff 79.5px,#00defb 93.5px,#00dafe 109.5px,#00e4f8 170.5px,#00ffe8 176.5px,#00ff76 186.5px,#00ff5b 190.5px,#00ff56 197.5px,#00ff45 199.5px,#01ff0a 202.5px,#33ff00 207.5px,#50fd00 209.5px,#59fc00 215.5px,#54fc00 286.5px,#2cff01 292.5px,#20ff03 301.5px,#1aff05 324.5px,#02ff0a 329.5px,#00ff52 335.5px,#00ff59 339.5px)"></i><i style="background:linear-gradient(90deg,#0569ff 0.5px,#008eff 2.5px,#008eff 3.5px,#007eff 4.5px,#0f3bff 6.5px,#1422ff 7.5px,#1716ff 8.5px,#151dff 10.5px,#0760ff 14.5px,#0091ff 17.5px,#00e1fa 23.5px,#00f1f0 26.5px,#00d0ff 32.5px,#0664ff 42.5px,#0a50ff 45.5px,#0567ff 48.5px,#0275ff 50.5px,#0371ff 54.5px,#0095ff 57.5px,#00c9ff 60.5px,#00dafe 63.5px,#00d7ff 80.5px,#00ddfc 96.5px,#00d8ff 105.5px,#00e0fa 141.5px,#00e4f8 170.5px,#00ffe8 176.5px,#00ff76 186.5px,#00ff5b 190.5px,#00ff56 197.5px,#00ff45 199.5px,#01ff0a 202.5px,#33ff00 207.5px,#50fd00 209.5px,#59fc00 215.5px,#54fc00 286.5px,#2cff01 292.5px,#20ff03 301.5px,#18ff05 322.5px,#00ff0e 329.5px,#00ff53 335.5px,#00ff59 339.5px)"></i><i style="background:linear-gradient(90deg,#008aff 0.5px,#00b3ff 2.5px,#00b7ff 3.5px,#00aaff 4.5px,#0956ff 7.5px,#0c46ff 8.5px,#0d42ff 9.5px,#0956ff 11.5px,#00abff 16.5px,#00dffb 21.5px,#00eff2 25.5px,#00bfff 31.5px,#0371ff 38.5px,#0b4bff 44.5px,#0955ff 47.5px,#0569ff 50.5px,#0275ff 54.5px,#00d0ff 60.5px,#00defc 63.5px,#00dbfd 96.5px,#00d1ff 103.5px,#00e0fa 119.5px,#00e4f8 170.5px,#00ffe8 176.5px,#00ff76 186.5px,#00ff5b 190.5px,#00ff56 197.5px,#00ff45 199.5px,#01ff0a 202.5px,#33ff00 207.5px,#50fd00 209.5px,#59fc00 215.5px,#54fc00 286.5px,#2cff01 292.5px,#20ff03 301.5px,#1aff05 318.5px,#00ff0e 328.5px,#00ff54 335.5px,#00ff59 339.5px)"></i><i style="background:linear-gradient(90deg,#0097ff 0.5px,#00c5ff 2.5px,#00d0ff 3.5px,#00caff 4.5px,#0276ff 8.5px,#0274ff 10.5px,#00d8ff 17.5px,#00f1f1 21.5px,#00edf2 24.5px,#00c4ff 28.5px,#0761ff 36.5px,#0c49ff 44.5px,#0859ff 48.5px,#0374ff 53.5px,#00d4ff 60.5px,#00dffb 64.5px,#00dcfd 95.5px,#00c8ff 102.5px,#00dffb 115.5px,#00e4f8 170.5px,#00ffe8 176.5px,#00ff76 186.5px,#00ff5b 190.5px,#00ff56 197.5px,#00ff45 199.5px,#01ff0a 202.5px,#33ff00 207.5px,#50fd00 209.5px,#59fc00 215.5px,#54fc00 286.5px,#2cff01 292.5px,#20ff03 301.5px,#1bff04 317.5px,#00ff0b 326.5px,#00ff55 335.5px,#00ff59 339.5px)"></i><i style="background:linear-gradient(90deg,#0096ff 0.5px,#00d8ff 3.5px,#00dbfd 4.5px,#00bfff 6.5px,#009cff 8.5px,#0099ff 10.5px,#00d9fe 15.5px,#00fde9 19.5px,#00f6ed 22.5px,#00c8ff 26.5px,#0859ff 34.5px,#0e41ff 37.5px,#0a52ff 47.5px,#0275ff 52.5px,#00d6ff 60.5px,#00e0fa 66.5px,#00dafe 95.5px,#00c0ff 102.5px,#00dffb 114.5px,#00e4f8 170.5px,#00ffe7 176.5px,#00ff6c 187.5px,#00ff59 191.5px,#00ff55 197.5px,#00ff45 199.5px,#01ff0a 202.5px,#33ff00 207.5px,#50fd00 209.5px,#59fc00 215.5px,#54fc00 286.5px,#2cff01 292.5px,#20ff03 301.5px,#1cff04 316.5px,#00ff0e 324.5px,#00ff56 335.5px,#00ff59 339.5px)"></i><i style="background:linear-gradient(90deg,#008eff 0.5px,#00d3ff 3.5px,#00dffb 4.5px,#00d8ff 6.5px,#00b7ff 9.5px,#00c0ff 11.5px,#00e1f9 14.5px,#00ffe7 17.5px,#00ffd3 18.5px,#00ffcb 19.5px,#00ffd2 20.5px,#00ffe8 21.5px,#00d3ff 24.5px,#0083ff 29.5px,#1034ff 35.5px,#1034ff 38.5px,#085cff 48.5px,#00b5ff 57.5px,#00d7ff 60.5px,#00e0fa 66.5px,#00dbfd 94.5px,#00b7ff 102.5px,#00defb 114.5px,#00e5f8 170.5px,#00ffe6 176.5px,#00ff6b 187.5px,#00ff57 191.5px,#00ff53 197.5px,#00ff43 199.5px,#02ff0a 202.5px,#33ff00 207.5px,#50fd00 209.5px,#59fc00 215.5px,#54fc00 286.5px,#2cff01 292.5px,#20ff03 301.5px,#1bff04 316.5px,#00ff0b 322.5px,#00ff36 327.5px,#00ff59 336.5px,#00ff5a 339.5px)"></i><i style="background:linear-gradient(90deg,#0084ff 0.5px,#00dbfd 4.5px,#00e4f8 6.5px,#00d4ff 10.5px,#00ffe7 16.5px,#00ffc5 18.5px,#00ffc4 19.5px,#00f8ec 21.5px,#00d1ff 23.5px,#0085ff 27.5px,#112fff 34.5px,#1326ff 36.5px,#0b4eff 44.5px,#0371ff 49.5px,#00c3ff 58.5px,#00dcfd 61.5px,#00dcfd 91.5px,#00cdff 96.5px,#00afff 102.5px,#00defc 114.5px,#00e6f7 170.5px,#00ffe3 176.5px,#00ff5f 188.5px,#00ff52 192.5px,#00ff48 198.5px,#04ff09 202.5px,#34ff00 207.5px,#50fd00 209.5px,#59fc00 215.5px,#54fc00 286.5px,#2cff01 292.5px,#20ff03 301.5px,#1aff05 316.5px,#00ff0a 321.5px,#00ff41 326.5px,#00ff5c 336.5px,#00ff5c 339.5px)"></i><i style="background:linear-gradient(90deg,#0279ff 0.5px,#009dff 2.5px,#00dffb 5.5px,#00e9f5 7.5px,#00eaf4 11.5px,#00ffe3 16.5px,#00ffd0 18.5px,#00faeb 20.5px,#00d0ff 22.5px,#008dff 25.5px,#0957ff 29.5px,#1329ff 35.5px,#0e3cff 39.5px,#046dff 47.5px,#009cff 53.5px,#00b8ff 57.5px,#00dafe 61.5px,#00e0fa 82.5px,#00cdff 95.5px,#00abff 101.5px,#00bbff 106.5px,#00dcfc 113.5px,#00e6f7 169.5px,#00fee8 175.5px,#00ff5f 187.5px,#00ff48 191.5px,#00ff3b 198.5px,#00ff0d 201.5px,#36ff00 207.5px,#51fd00 209.5px,#59fc00 217.5px,#5bfc00 244.5px,#54fc00 286.5px,#2cff01 292.5px,#20ff03 301.5px,#1dff04 315.5px,#03ff09 320.5px,#00ff46 325.5px,#00ff5e 333.5px,#00ff62 339.5px)"></i><i style="background:linear-gradient(90deg,#046cff 0.5px,#00a2ff 3.5px,#00d2ff 5.5px,#00eaf4 7.5px,#00fcea 18.5px,#00e5f7 20.5px,#00b3ff 22.5px,#0276ff 25.5px,#0b4eff 29.5px,#1132ff 35.5px,#046eff 45.5px,#009aff 51.5px,#00afff 56.5px,#00d7ff 61.5px,#00e3f9 77.5px,#00c6ff 95.5px,#00abff 101.5px,#00b7ff 105.5px,#00dbfd 112.5px,#00e6f7 166.5px,#00fee9 174.5px,#00ff47 188.5px,#00ff35 192.5px,#00ff26 198.5px,#00ff0d 200.5px,#3afe00 207.5px,#52fd00 209.5px,#59fc00 223.5px,#64fb00 240.5px,#59fc00 254.5px,#54fc00 286.5px,#2cff01 292.5px,#20ff03 301.5px,#1dff04 315.5px,#01ff0a 320.5px,#00ff4d 325.5px,#00ff63 331.5px,#00ff6c 339.5px)"></i><i style="background:linear-gradient(90deg,#075eff 0.5px,#0277ff 2.5px,#00d3ff 6.5px,#00eaf4 8.5px,#00f0f1 17.5px,#00e0fa 19.5px,#0372ff 24.5px,#0a51ff 28.5px,#0e3fff 35.5px,#0663ff 41.5px,#0094ff 48.5px,#00b0ff 56.5px,#00d5ff 62.5px,#00e5f7 74.5px,#00beff 96.5px,#00b0ff 102.5px,#00defc 113.5px,#00e5f7 163.5px,#00faeb 172.5px,#00ffdd 174.5px,#00ff2b 189.5px,#04ff09 199.5px,#30ff00 206.5px,#53fd00 209.5px,#5ffc00 230.5px,#6efb00 239.5px,#59fc00 250.5px,#54fc00 286.5px,#2cff01 292.5px,#20ff03 301.5px,#1dff04 315.5px,#01ff0a 320.5px,#00ff51 325.5px,#00ff75 334.5px,#00ff78 339.5px)"></i><i style="background:linear-gradient(90deg,#0a50ff 0.5px,#0662ff 2.5px,#00cfff 7.5px,#00e1fa 9.5px,#00dffb 17.5px,#00ccff 19.5px,#0179ff 23.5px,#075eff 26.5px,#0c4aff 33.5px,#0955ff 37.5px,#0091ff 44.5px,#00a4ff 50.5px,#00b1ff 56.5px,#00dafe 65.5px,#00e5f7 73.5px,#00c2ff 92.5px,#00b9ff 102.5px,#00dffb 113.5px,#00e5f7 162.5px,#00ffe4 172.5px,#00ff15 189.5px,#03ff09 193.5px,#19ff05 201.5px,#38fe00 206.5px,#54fc00 209.5px,#5efc00 229.5px,#79fa00 238.5px,#59fc00 249.5px,#54fc00 286.5px,#2cff01 292.5px,#20ff03 301.5px,#1dff04 315.5px,#00ff0a 320.5px,#00ff52 325.5px,#00ff7e 333.5px,#00ff86 339.5px)"></i><i style="background:linear-gradient(90deg,#0d44ff 0.5px,#0a4fff 2.5px,#0087ff 5.5px,#00bfff 8.5px,#00cfff 12.5px,#00c6ff 18.5px,#007eff 23.5px,#0956ff 30.5px,#085bff 35.5px,#00a2ff 43.5px,#00aeff 47.5px,#00b2ff 55.5px,#00e3f8 68.5px,#00d9fe 78.5px,#00c1ff 90.5px,#00c9ff 104.5px,#00dffb 114.5px,#00e4f8 161.5px,#00ffe8 170.5px,#00ff5a 182.5px,#00ff0a 188.5px,#2fff00 204.5px,#55fc00 209.5px,#5ffc00 229.5px,#83f900 238.5px,#59fc00 249.5px,#54fc00 286.5px,#2cff01 292.5px,#20ff03 301.5px,#1dff04 315.5px,#00ff0a 320.5px,#00ff54 325.5px,#00ff92 335.5px,#00ff95 339.5px)"></i><i style="background:linear-gradient(90deg,#1037ff 0.5px,#0d45ff 3.5px,#0099ff 8.5px,#00b3ff 12.5px,#00b2ff 18.5px,#0084ff 24.5px,#075fff 31.5px,#046fff 35.5px,#00b3ff 42.5px,#00bfff 46.5px,#00b7ff 53.5px,#00e4f8 68.5px,#00c3ff 87.5px,#00d8ff 107.5px,#00e0fa 125.5px,#00e5f8 161.5px,#00ffe4 169.5px,#00ff58 181.5px,#00ff10 186.5px,#14ff06 191.5px,#35ff00 203.5px,#56fc00 209.5px,#5dfc00 228.5px,#8bf900 237.5px,#7ef900 241.5px,#5bfc00 248.5px,#54fc00 286.5px,#2cff01 292.5px,#20ff03 301.5px,#1cff04 315.5px,#00ff0a 320.5px,#00ff55 325.5px,#00ff9b 334.5px,#00ffa3 339.5px)"></i><i style="background:linear-gradient(90deg,#132aff 0.5px,#1034ff 4.5px,#056aff 8.5px,#008bff 11.5px,#009cff 20.5px,#0080ff 28.5px,#046fff 31.5px,#008fff 36.5px,#00c9ff 42.5px,#00cfff 46.5px,#00c3ff 52.5px,#00e3f8 66.5px,#00c6ff 83.5px,#00dffb 113.5px,#00e5f7 161.5px,#00ffe2 168.5px,#00ff4c 181.5px,#00ff0f 185.5px,#24ff02 194.5px,#58fc00 210.5px,#5dfc00 228.5px,#91f800 237.5px,#84f900 241.5px,#5efc00 248.5px,#54fc00 286.5px,#2cff01 292.5px,#20ff03 301.5px,#1aff05 315.5px,#00ff0c 320.5px,#00ff61 326.5px,#00ffab 335.5px,#00ffaf 339.5px)"></i><i style="background:linear-gradient(90deg,#1619ff 0.5px,#1618ff 5.5px,#1133ff 8.5px,#0662ff 12.5px,#0279ff 17.5px,#0094ff 21.5px,#0096ff 26.5px,#0082ff 31.5px,#009cff 35.5px,#00d5ff 41.5px,#00ddfc 46.5px,#00d2ff 52.5px,#00e5f7 65.5px,#00c8ff 78.5px,#00dcfd 102.5px,#00e3f9 160.5px,#00ffe5 167.5px,#00ff52 180.5px,#02ff0a 185.5px,#28ff02 193.5px,#4cfd00 201.5px,#59fc00 215.5px,#5dfc00 228.5px,#93f800 237.5px,#86f900 241.5px,#62fb00 248.5px,#5cfc00 261.5px,#5afc00 275.5px,#54fc00 286.5px,#2cff01 292.5px,#20ff03 301.5px,#13ff06 316.5px,#03ff09 319.5px,#00ff6c 327.5px,#00ffb3 335.5px,#00ffb7 339.5px)"></i><i style="background:linear-gradient(90deg,#1c0fff 0.5px,#230cff 7.5px,#1716ff 10.5px,#1132ff 14.5px,#0b4bff 17.5px,#0080ff 20.5px,#009bff 24.5px,#0096ff 29.5px,#0099ff 32.5px,#00ddfc 40.5px,#00e9f5 45.5px,#00ddfc 56.5px,#00e8f6 63.5px,#00caff 76.5px,#00defc 99.5px,#00e3f8 160.5px,#00ffe1 167.5px,#00ff4d 180.5px,#00ff0e 184.5px,#2cff01 193.5px,#52fd00 200.5px,#5dfc00 228.5px,#8ff800 237.5px,#7dfa00 243.5px,#5ffc00 253.5px,#60fc00 261.5px,#64fb00 270.5px,#54fc00 286.5px,#2cff01 292.5px,#20ff03 301.5px,#11ff06 315.5px,#00ff0d 319.5px,#00ff77 328.5px,#00ffb2 334.5px,#00ffbc 339.5px)"></i><i style="background:linear-gradient(90deg,#260bff 0.5px,#3407ff 8.5px,#1b0fff 16.5px,#161bff 17.5px,#017eff 21.5px,#00a1ff 25.5px,#00afff 32.5px,#00e4f8 39.5px,#00f0f1 45.5px,#00dcfd 57.5px,#00e7f6 63.5px,#00d0ff 76.5px,#00dffb 98.5px,#00e3f8 160.5px,#00fee9 166.5px,#00ff4b 180.5px,#00ff0c 184.5px,#2dff01 193.5px,#56fc00 200.5px,#5cfc00 228.5px,#8af900 238.5px,#5cfc00 257.5px,#6ffb00 268.5px,#59fc00 279.5px,#54fc00 286.5px,#2cff01 292.5px,#20ff03 301.5px,#12ff06 312.5px,#00ff0e 318.5px,#00ffb3 334.5px,#00ffbe 339.5px)"></i><i style="background:linear-gradient(90deg,#2f08ff 0.5px,#4401ff 8.5px,#3008ff 16.5px,#1910ff 18.5px,#046eff 21.5px,#0091ff 23.5px,#00b3ff 27.5px,#00ceff 33.5px,#00eef2 39.5px,#00f1f0 46.5px,#00cfff 55.5px,#00e5f8 63.5px,#00d8ff 77.5px,#00dcfd 101.5px,#00defc 119.5px,#00e3f8 160.5px,#00fee9 166.5px,#00ff4a 180.5px,#00ff0b 184.5px,#42fe00 196.5px,#57fc00 200.5px,#5cfc00 228.5px,#82f900 239.5px,#78fa00 249.5px,#5dfc00 257.5px,#7afa00 267.5px,#59fc00 278.5px,#54fc00 286.5px,#2dff01 292.5px,#20ff03 300.5px,#18ff05 308.5px,#00ff0d 316.5px,#00ff82 329.5px,#00ffba 335.5px,#00ffbe 339.5px)"></i><i style="background:linear-gradient(90deg,#3805ff 0.5px,#5200ff 8.5px,#3f03ff 16.5px,#250cff 18.5px,#161aff 19.5px,#0663ff 21.5px,#008fff 23.5px,#00c2ff 27.5px,#00e2f9 33.5px,#00f6ed 40.5px,#00eaf4 46.5px,#00c8ff 51.5px,#00beff 55.5px,#00e3f9 62.5px,#00defc 80.5px,#00d6ff 113.5px,#00e0fa 130.5px,#00e3f8 160.5px,#00fee9 166.5px,#00ff4a 180.5px,#00ff0b 184.5px,#42fe00 196.5px,#57fc00 200.5px,#5dfc00 229.5px,#86f900 245.5px,#7cfa00 250.5px,#5ffc00 257.5px,#84f900 267.5px,#59fc00 278.5px,#54fc00 286.5px,#2dff01 292.5px,#20ff03 300.5px,#16ff05 308.5px,#00ff0f 314.5px,#00ff6e 327.5px,#00ffba 335.5px,#00ffbe 339.5px)"></i><i style="background:linear-gradient(90deg,#4003ff 0.5px,#5800ff 9.5px,#4d00ff 15.5px,#2a0aff 18.5px,#1810ff 19.5px,#075eff 21.5px,#0093ff 23.5px,#00d3ff 27.5px,#00eff1 33.5px,#00f7ed 39.5px,#00e1fa 45.5px,#00afff 51.5px,#00b0ff 55.5px,#00dffb 61.5px,#00d8ff 95.5px,#00d0ff 109.5px,#00e0fa 126.5px,#00e3f8 160.5px,#00fee9 166.5px,#00ff4a 180.5px,#00ff0b 184.5px,#42fe00 196.5px,#57fc00 200.5px,#5ffc00 231.5px,#87f900 244.5px,#8cf900 248.5px,#60fc00 257.5px,#8cf900 267.5px,#5bfc00 277.5px,#54fc00 286.5px,#2aff01 293.5px,#20ff03 303.5px,#0fff07 309.5px,#00ff0a 312.5px,#00ff37 317.5px,#00ff65 326.5px,#00ffba 335.5px,#00ffbe 339.5px)"></i><i style="background:linear-gradient(90deg,#4401ff 0.5px,#5400ff 9.5px,#4800ff 15.5px,#280bff 18.5px,#1714ff 19.5px,#0665ff 21.5px,#009dff 23.5px,#00d6ff 26.5px,#00edf3 29.5px,#00f5ee 38.5px,#00d3ff 44.5px,#00a1ff 49.5px,#009dff 53.5px,#00baff 57.5px,#00defc 61.5px,#00d8ff 90.5px,#00caff 105.5px,#00e0fa 125.5px,#00e3f8 160.5px,#00fee9 166.5px,#00ff4a 180.5px,#00ff0b 184.5px,#42fe00 196.5px,#57fc00 200.5px,#5ffc00 233.5px,#72fa00 240.5px,#93f800 247.5px,#6dfb00 254.5px,#60fc00 257.5px,#91f800 266.5px,#83f900 270.5px,#5bfc00 277.5px,#50fd00 287.5px,#2bff01 293.5px,#17ff05 307.5px,#01ff0a 311.5px,#00ff41 316.5px,#00ff5e 325.5px,#00ffba 335.5px,#00ffbe 339.5px)"></i><i style="background:linear-gradient(90deg,#4302ff 0.5px,#4302ff 11.5px,#3506ff 16.5px,#1d0eff 18.5px,#122bff 19.5px,#017aff 21.5px,#00c4ff 24.5px,#00ebf4 27.5px,#00eef2 37.5px,#00c9ff 42.5px,#0091ff 48.5px,#0094ff 52.5px,#00aeff 56.5px,#00ddfc 61.5px,#00d8ff 85.5px,#00c4ff 101.5px,#00e0fa 122.5px,#00e3f8 160.5px,#00fee9 166.5px,#00ff4a 180.5px,#00ff0b 184.5px,#42fe00 196.5px,#57fc00 200.5px,#5efc00 236.5px,#80f900 243.5px,#93f800 247.5px,#7afa00 252.5px,#61fc00 257.5px,#82f900 263.5px,#93f800 267.5px,#5bfc00 277.5px,#51fd00 287.5px,#2cff01 294.5px,#1bff04 306.5px,#00ff0f 311.5px,#00ff44 315.5px,#00ff54 320.5px,#00ff5e 325.5px,#00ffba 335.5px,#00ffbe 339.5px)"></i><i style="background:linear-gradient(90deg,#3b04ff 0.5px,#2e09ff 11.5px,#200dff 16.5px,#1811ff 17.5px,#0095ff 21.5px,#00d6ff 24.5px,#00ebf4 26.5px,#00dbfd 37.5px,#008dff 45.5px,#0085ff 48.5px,#00aeff 56.5px,#00d7ff 60.5px,#00defc 67.5px,#00d1ff 84.5px,#00c0ff 97.5px,#00dffb 119.5px,#00e3f8 160.5px,#00fee9 166.5px,#00ff4a 180.5px,#00ff0b 184.5px,#42fe00 196.5px,#57fc00 200.5px,#5dfc00 237.5px,#8ff800 247.5px,#71fa00 253.5px,#60fc00 257.5px,#8ef800 266.5px,#81f900 270.5px,#5bfc00 277.5px,#53fd00 287.5px,#2cff01 297.5px,#1bff04 306.5px,#03ff09 310.5px,#00ff4a 315.5px,#00ff57 320.5px,#00ff5f 325.5px,#00ffba 335.5px,#00ffbe 339.5px)"></i><i style="background:linear-gradient(90deg,#3008ff 0.5px,#210dff 6.5px,#1327ff 13.5px,#0f3bff 16.5px,#0665ff 18.5px,#00c9ff 22.5px,#00eaf4 25.5px,#00e0fb 28.5px,#00c9ff 32.5px,#00c4ff 36.5px,#017cff 44.5px,#0084ff 48.5px,#00afff 56.5px,#00d9fe 61.5px,#00cdff 81.5px,#00bbff 93.5px,#00defc 114.5px,#00e3f8 160.5px,#00fee9 166.5px,#00ff4a 180.5px,#00ff0b 184.5px,#42fe00 196.5px,#57fc00 200.5px,#5efc00 238.5px,#87f900 247.5px,#5ffc00 257.5px,#86f900 267.5px,#59fc00 278.5px,#4ffd00 290.5px,#16ff05 307.5px,#03ff09 310.5px,#00ff4c 315.5px,#00ff58 319.5px,#00ff5f 325.5px,#00ffba 335.5px,#00ffbe 339.5px)"></i><i style="background:linear-gradient(90deg,#230cff 0.5px,#1812ff 4.5px,#075eff 8.5px,#0470ff 12.5px,#007fff 16.5px,#00adff 19.5px,#00dffb 22.5px,#00ebf4 24.5px,#00d9ff 27.5px,#00b3ff 30.5px,#00a8ff 34.5px,#009cff 37.5px,#046eff 42.5px,#0370ff 45.5px,#009aff 51.5px,#00aeff 56.5px,#00d3ff 61.5px,#00baff 84.5px,#00beff 94.5px,#00ddfc 109.5px,#00e3f8 160.5px,#00fee9 166.5px,#00ff4a 180.5px,#00ff0b 184.5px,#42fe00 196.5px,#57fc00 200.5px,#5cfc00 238.5px,#7dfa00 247.5px,#5efc00 257.5px,#7dfa00 267.5px,#59fc00 278.5px,#51fd00 296.5px,#2bff01 302.5px,#02ff0a 310.5px,#00ff4d 315.5px,#00ff59 319.5px,#00ff5f 325.5px,#00ffba 335.5px,#00ffbe 339.5px)"></i><i style="background:linear-gradient(90deg,#1717ff 0.5px,#151fff 2.5px,#0e3fff 4.5px,#008eff 7.5px,#00a6ff 9.5px,#00b1ff 16.5px,#00e0fa 20.5px,#00eef2 23.5px,#00d2ff 26.5px,#0095ff 30.5px,#0088ff 34.5px,#0374ff 38.5px,#085cff 42.5px,#046fff 45.5px,#009aff 50.5px,#00adff 56.5px,#00c7ff 61.5px,#00b4ff 87.5px,#00dcfd 105.5px,#00e3f8 160.5px,#00fee9 166.5px,#00ff4a 180.5px,#00ff0b 184.5px,#42fe00 196.5px,#57fc00 200.5px,#5efc00 239.5px,#73fa00 248.5px,#5dfc00 258.5px,#73fa00 267.5px,#59fc00 279.5px,#63fb00 291.5px,#64fb00 296.5px,#2aff01 303.5px,#02ff0a 310.5px,#00ff4d 315.5px,#00ff59 319.5px,#00ff5f 325.5px,#00ffba 335.5px,#00ffbe 339.5px)"></i><i style="background:linear-gradient(90deg,#1033ff 0.5px,#0e3eff 2.5px,#0664ff 4.5px,#00b4ff 7.5px,#00ceff 9.5px,#00d9ff 16.5px,#00f9ec 21.5px,#00ebf4 23.5px,#00b9ff 26.5px,#0279ff 30.5px,#056aff 33.5px,#085bff 38.5px,#0a53ff 42.5px,#0096ff 49.5px,#00b7ff 61.5px,#00adff 80.5px,#00c7ff 91.5px,#00defc 104.5px,#00e3f8 160.5px,#00fee9 166.5px,#00ff4a 180.5px,#00ff0b 184.5px,#42fe00 196.5px,#57fc00 200.5px,#5efc00 240.5px,#68fb00 249.5px,#5cfc00 258.5px,#67fb00 269.5px,#59fc00 281.5px,#61fc00 288.5px,#78fa00 295.5px,#63fb00 298.5px,#31ff00 302.5px,#02ff0a 310.5px,#00ff4d 315.5px,#00ff59 319.5px,#00ff61 325.5px,#00ffba 335.5px,#00ffbe 339.5px)"></i><i style="background:linear-gradient(90deg,#0c49ff 0.5px,#0955ff 2.5px,#017bff 4.5px,#00c6ff 7.5px,#00e0fa 9.5px,#00f5ee 17.5px,#00ffd7 20.5px,#00ffe6 21.5px,#00e0fa 23.5px,#008bff 27.5px,#0761ff 30.5px,#0954ff 35.5px,#0b4bff 41.5px,#046eff 45.5px,#009cff 50.5px,#00a6ff 60.5px,#00a8ff 76.5px,#00dbfd 97.5px,#00e3f8 160.5px,#00fee9 166.5px,#00ff4a 180.5px,#00ff0b 184.5px,#42fe00 196.5px,#57fc00 200.5px,#5ffc00 243.5px,#5ffc00 263.5px,#5bfc00 274.5px,#5bfc00 286.5px,#82f900 295.5px,#6afb00 298.5px,#31ff00 302.5px,#00ff0a 310.5px,#00ff4e 315.5px,#00ff5b 320.5px,#00ff6a 326.5px,#00ffba 335.5px,#00ffbe 339.5px)"></i><i style="background:linear-gradient(90deg,#0955ff 0.5px,#046dff 3.5px,#00d3ff 8.5px,#00ebf4 12.5px,#00fde9 17.5px,#00ffcb 19.5px,#00ffcf 20.5px,#00fde9 21.5px,#00cfff 23.5px,#0086ff 26.5px,#085bff 29.5px,#0b4bff 33.5px,#0b4bff 41.5px,#046fff 45.5px,#009bff 50.5px,#009eff 56.5px,#009bff 64.5px,#00bfff 82.5px,#00dbfd 93.5px,#00e3f8 160.5px,#00fee9 166.5px,#00ff4a 180.5px,#00ff0b 184.5px,#42fe00 196.5px,#57fc00 200.5px,#5bfc00 286.5px,#82f900 295.5px,#68fb00 298.5px,#2eff00 302.5px,#00ff0f 310.5px,#00ff4f 315.5px,#00ff5f 320.5px,#00ff70 326.5px,#00ffba 335.5px,#00ffbe 339.5px)"></i><i style="background:linear-gradient(90deg,#0957ff 0.5px,#075fff 2.5px,#00cdff 9.5px,#00f9eb 17.5px,#00ffda 19.5px,#00ffe3 20.5px,#00f3ef 21.5px,#00dcfd 22.5px,#008bff 25.5px,#075dff 28.5px,#0c49ff 32.5px,#0b4dff 40.5px,#0374ff 45.5px,#009cff 50.5px,#009cff 54.5px,#0092ff 60.5px,#00dcfd 90.5px,#00e3f8 160.5px,#00fee9 166.5px,#00ff4a 180.5px,#00ff0b 184.5px,#42fe00 196.5px,#57fc00 200.5px,#5dfc00 287.5px,#78fa00 295.5px,#5cfc00 298.5px,#2eff00 301.5px,#00ff0b 309.5px,#00ff51 315.5px,#00ff79 326.5px,#00ffbb 335.5px,#00ffbe 339.5px)"></i><i style="background:linear-gradient(90deg,#0a51ff 0.5px,#0760ff 3.5px,#00beff 10.5px,#00e5f7 16.5px,#00f6ed 19.5px,#00e4f8 21.5px,#0099ff 24.5px,#0568ff 27.5px,#0c4aff 32.5px,#0a52ff 39.5px,#009cff 50.5px,#0095ff 54.5px,#008aff 58.5px,#00aeff 64.5px,#00ddfc 87.5px,#00e3f8 160.5px,#00fee9 166.5px,#00ff4a 180.5px,#00ff0b 184.5px,#42fe00 196.5px,#57fc00 200.5px,#5dfc00 288.5px,#67fb00 295.5px,#49fd00 298.5px,#26ff02 301.5px,#00ff0e 308.5px,#00ff5a 316.5px,#00ff8a 327.5px,#00ffbb 335.5px,#00ffbe 339.5px)"></i><i style="background:linear-gradient(90deg,#0c48ff 0.5px,#085cff 4.5px,#00b7ff 12.5px,#00e3f9 19.5px,#00d4ff 21.5px,#0087ff 25.5px,#085cff 29.5px,#0b4dff 34.5px,#075fff 39.5px,#0099ff 49.5px,#0094ff 53.5px,#0085ff 57.5px,#00bdff 63.5px,#00dcfd 82.5px,#00e3f8 160.5px,#00fee9 166.5px,#00ff4a 180.5px,#00ff0b 184.5px,#42fe00 196.5px,#57fc00 200.5px,#57fc00 294.5px,#41fe00 297.5px,#2bff01 299.5px,#00ff0b 306.5px,#00ff5c 316.5px,#00ffbc 335.5px,#00ffbe 339.5px)"></i><i style="background:linear-gradient(90deg,#0e3fff 0.5px,#0a53ff 5.5px,#00aaff 13.5px,#00cdff 18.5px,#00cdff 20.5px,#00a6ff 23.5px,#0371ff 27.5px,#0954ff 32.5px,#075dff 37.5px,#0086ff 43.5px,#009aff 50.5px,#0080ff 56.5px,#009eff 59.5px,#00c7ff 62.5px,#00d9ff 71.5px,#00e0fa 130.5px,#00e3f8 160.5px,#00fee9 166.5px,#00ff4a 180.5px,#00ff0b 184.5px,#42fe00 196.5px,#57fc00 200.5px,#54fc00 288.5px,#3ffe00 295.5px,#01ff0a 304.5px,#00ff35 309.5px,#00ffa5 328.5px,#00ffbe 336.5px,#00ffbe 339.5px)"></i><i style="background:linear-gradient(90deg,#1036ff 0.5px,#0d42ff 5.5px,#056aff 9.5px,#00a1ff 14.5px,#00bbff 18.5px,#00b6ff 21.5px,#056bff 28.5px,#085bff 33.5px,#0568ff 37.5px,#008dff 42.5px,#0099ff 49.5px,#017cff 55.5px,#009aff 58.5px,#00caff 61.5px,#00dafe 65.5px,#00e3f8 160.5px,#00fee9 166.5px,#00ff4a 180.5px,#00ff0b 184.5px,#42fe00 196.5px,#57fc00 200.5px,#56fc00 286.5px,#13ff06 300.5px,#00ff0c 303.5px,#00ff32 306.5px,#00ff6e 318.5px,#00ffa8 326.5px,#00ffbe 337.5px,#00ffbe 339.5px)"></i><i style="background:linear-gradient(90deg,#112fff 0.5px,#0f3aff 6.5px,#0666ff 10.5px,#009eff 15.5px,#00b0ff 19.5px,#00a4ff 22.5px,#0371ff 27.5px,#0762ff 33.5px,#0569ff 36.5px,#0096ff 42.5px,#0099ff 48.5px,#017aff 54.5px,#0086ff 56.5px,#00d3ff 61.5px,#00defb 66.5px,#00e3f8 160.5px,#00fee9 166.5px,#00ff4a 180.5px,#00ff0b 184.5px,#42fe00 196.5px,#57fc00 200.5px,#55fc00 286.5px,#06ff09 301.5px,#00ff0c 302.5px,#00ff41 306.5px,#00ff62 316.5px,#00ffad 325.5px,#00ffbe 337.5px,#00ffbe 339.5px)"></i><i style="background:linear-gradient(90deg,#122aff 0.5px,#1131ff 6.5px,#085bff 10.5px,#0097ff 15.5px,#00a8ff 19.5px,#009eff 22.5px,#046fff 27.5px,#0567ff 34.5px,#0277ff 37.5px,#0099ff 41.5px,#009cff 47.5px,#0278ff 53.5px,#0082ff 55.5px,#00cfff 60.5px,#00dffb 64.5px,#00e3f8 160.5px,#00fee9 166.5px,#00ff4a 180.5px,#00ff0b 184.5px,#42fe00 196.5px,#57fc00 200.5px,#54fc00 286.5px,#28ff02 294.5px,#01ff0a 301.5px,#00ff4b 306.5px,#00ff5d 315.5px,#00ffb4 325.5px,#00ffbe 339.5px)"></i><i style="background:linear-gradient(90deg,#1328ff 0.5px,#122dff 6.5px,#0c48ff 9.5px,#0093ff 15.5px,#00a3ff 18.5px,#009aff 22.5px,#046eff 27.5px,#046cff 35.5px,#00a0ff 42.5px,#009aff 47.5px,#0276ff 52.5px,#007eff 54.5px,#00d3ff 60.5px,#00e0fb 64.5px,#00e3f8 160.5px,#00fee9 166.5px,#00ff4a 180.5px,#00ff0b 184.5px,#42fe00 196.5px,#57fc00 200.5px,#54fc00 286.5px,#2aff01 293.5px,#00ff0d 301.5px,#00ff48 305.5px,#00ff57 309.5px,#00ff5d 315.5px,#00ffb7 325.5px,#00ffbe 339.5px)"></i><i style="background:linear-gradient(90deg,#1327ff 0.5px,#122bff 6.5px,#0c46ff 9.5px,#0092ff 15.5px,#00a3ff 19.5px,#0091ff 23.5px,#046eff 27.5px,#046dff 35.5px,#00a1ff 42.5px,#0099ff 47.5px,#0275ff 51.5px,#0179ff 53.5px,#00adff 57.5px,#00d6ff 60.5px,#00e0fa 66.5px,#00e3f8 160.5px,#00fee9 166.5px,#00ff4a 180.5px,#00ff0b 184.5px,#42fe00 196.5px,#57fc00 200.5px,#54fc00 286.5px,#2dff01 292.5px,#00ff0f 301.5px,#00ff4a 305.5px,#00ff58 309.5px,#00ff5e 315.5px,#00ff9f 322.5px,#00ffbc 326.5px,#00ffbe 339.5px)"></i><i style="background:linear-gradient(90deg,#151dff 0.5px,#1810ff 7.5px,#151eff 10.5px,#085bff 16.5px,#056aff 21.5px,#0664ff 45.5px,#1329ff 60.5px,#1328ff 83.5px,#0e3dff 86.5px,#0665ff 90.5px,#046dff 150.5px,#00defc 170.5px,#00e9f5 181.5px,#00ffe4 186.5px,#00ffc5 189.5px,#00ffb6 199.5px,#00ff61 208.5px,#00ff54 217.5px,#00ff3c 219.5px,#00ff11 221.5px,#2dff01 226.5px,#54fc00 229.5px,#56fc00 294.5px,#47fd00 296.5px,#16ff05 300.5px,#03ff09 302.5px,#00ff43 305.5px,#00ff58 308.5px,#00ff5e 315.5px,#00ffaf 324.5px,#00ffaf 326.5px,#00ff63 334.5px,#00ff59 339.5px)"></i><i style="background:linear-gradient(90deg,#1618ff 0.5px,#1f0eff 6.5px,#1716ff 10.5px,#0568ff 15.5px,#0083ff 18.5px,#0084ff 24.5px,#0081ff 45.5px,#122bff 60.5px,#122cff 84.5px,#0665ff 90.5px,#046dff 150.5px,#00defc 170.5px,#00e9f5 181.5px,#00ffe4 186.5px,#00ffc5 189.5px,#00ffb6 199.5px,#00ff61 208.5px,#00ff53 217.5px,#00ff3c 219.5px,#00ff11 221.5px,#2eff01 226.5px,#54fc00 229.5px,#56fc00 294.5px,#47fd00 296.5px,#16ff05 300.5px,#03ff09 302.5px,#00ff4f 306.5px,#00ff59 312.5px,#00ff63 316.5px,#00ffaf 324.5px,#00ffae 326.5px,#00ff5c 335.5px,#00ff58 339.5px)"></i><i style="background:linear-gradient(90deg,#1810ff 0.5px,#280bff 7.5px,#1d0eff 10.5px,#161aff 11.5px,#0179ff 15.5px,#009aff 18.5px,#009eff 22.5px,#008dff 29.5px,#0093ff 42.5px,#0094ff 46.5px,#122eff 60.5px,#1327ff 74.5px,#122dff 84.5px,#0665ff 90.5px,#046dff 150.5px,#00defc 170.5px,#00e9f5 181.5px,#00ffe3 186.5px,#00ffc4 189.5px,#00ffb5 199.5px,#00ff61 208.5px,#00ff51 217.5px,#00ff3a 219.5px,#00ff0f 221.5px,#2eff00 226.5px,#54fc00 229.5px,#56fc00 294.5px,#47fd00 296.5px,#17ff05 300.5px,#03ff09 302.5px,#00ff4c 306.5px,#00ff57 310.5px,#00ff63 316.5px,#00ffae 324.5px,#00ffa5 327.5px,#00ff60 334.5px,#00ff56 339.5px)"></i><i style="background:linear-gradient(90deg,#1d0eff 0.5px,#3407ff 6.5px,#280bff 10.5px,#1d0eff 11.5px,#1422ff 12.5px,#017bff 15.5px,#00a3ff 18.5px,#00a9ff 21.5px,#0086ff 28.5px,#008bff 41.5px,#009eff 45.5px,#0086ff 50.5px,#1131ff 60.5px,#1329ff 68.5px,#112eff 84.5px,#0666ff 90.5px,#056aff 106.5px,#046dff 150.5px,#00defc 170.5px,#00e7f6 180.5px,#00fde9 185.5px,#00ffc1 189.5px,#00ffb2 199.5px,#00ff60 208.5px,#00ff4b 217.5px,#00ff34 219.5px,#00ff0a 221.5px,#2eff00 226.5px,#4dfd00 228.5px,#59fc00 232.5px,#56fc00 294.5px,#47fd00 296.5px,#18ff05 300.5px,#05ff09 302.5px,#00ff29 304.5px,#00ff47 306.5px,#00ff54 311.5px,#00ff63 316.5px,#00ffab 324.5px,#00ffaa 326.5px,#00ff59 334.5px,#00ff4f 339.5px)"></i><i style="background:linear-gradient(90deg,#220dff 0.5px,#3f03ff 5.5px,#3c04ff 9.5px,#1c0fff 12.5px,#056aff 15.5px,#008fff 17.5px,#00a0ff 20.5px,#008dff 23.5px,#0760ff 27.5px,#0760ff 40.5px,#0090ff 45.5px,#008aff 49.5px,#085dff 55.5px,#1131ff 61.5px,#1132ff 84.5px,#0567ff 90.5px,#046dff 98.5px,#046dff 150.5px,#00defb 170.5px,#00edf2 181.5px,#00ffe6 185.5px,#00ffbb 189.5px,#00ffac 199.5px,#00ff59 209.5px,#00ff40 217.5px,#04ff09 221.5px,#2fff00 226.5px,#55fc00 229.5px,#57fc00 294.5px,#49fd00 296.5px,#23ff03 299.5px,#00ff0a 303.5px,#00ff3b 306.5px,#00ff62 316.5px,#00ffa6 324.5px,#00ff9a 327.5px,#00ff4c 334.5px,#00ff41 339.5px)"></i><i style="background:linear-gradient(90deg,#260bff 0.5px,#4a00ff 5.5px,#4800ff 9.5px,#290aff 12.5px,#1a0fff 13.5px,#0665ff 16.5px,#0082ff 18.5px,#0088ff 20.5px,#0279ff 22.5px,#122eff 26.5px,#1520ff 29.5px,#1425ff 40.5px,#0a4fff 43.5px,#0470ff 45.5px,#007eff 48.5px,#0371ff 52.5px,#1037ff 61.5px,#0f38ff 84.5px,#046dff 91.5px,#0371ff 97.5px,#056aff 114.5px,#046dff 150.5px,#00defb 170.5px,#00f1f0 181.5px,#00ffe8 184.5px,#00ffb1 189.5px,#00ffa4 199.5px,#00ff51 210.5px,#00ff2d 217.5px,#02ff0a 220.5px,#33ff00 226.5px,#4ffd00 228.5px,#59fc00 233.5px,#57fc00 294.5px,#3cfe00 297.5px,#0eff07 302.5px,#00ff0c 304.5px,#00ff30 307.5px,#00ff68 317.5px,#00ff9d 324.5px,#00ff98 326.5px,#00ff38 334.5px,#00ff2b 338.5px,#00ff2b 339.5px)"></i><i style="background:linear-gradient(90deg,#280bff 0.5px,#5200ff 5.5px,#5100ff 9.5px,#240cff 13.5px,#1717ff 14.5px,#0b4cff 16.5px,#0372ff 19.5px,#0569ff 21.5px,#0e41ff 23.5px,#1910ff 25.5px,#290aff 29.5px,#260bff 40.5px,#1b0fff 42.5px,#0958ff 46.5px,#0370ff 50.5px,#0d42ff 61.5px,#0e40ff 84.5px,#0274ff 92.5px,#0279ff 96.5px,#056aff 105.5px,#046dff 150.5px,#00dffb 170.5px,#00fbea 182.5px,#00ffdb 184.5px,#00ffa5 189.5px,#00ff99 199.5px,#00ff16 217.5px,#05ff09 219.5px,#38fe00 226.5px,#56fc00 229.5px,#54fc00 295.5px,#2aff01 299.5px,#00ff10 306.5px,#00ff8f 323.5px,#00ff91 325.5px,#00ff62 329.5px,#00ff1e 334.5px,#00ff10 338.5px,#00ff10 339.5px)"></i><i style="background:linear-gradient(90deg,#280bff 0.5px,#5100ff 5.5px,#5000ff 9.5px,#3506ff 12.5px,#1910ff 14.5px,#0957ff 17.5px,#046eff 19.5px,#046eff 20.5px,#0663ff 21.5px,#112fff 23.5px,#1910ff 24.5px,#3407ff 27.5px,#3506ff 40.5px,#1d0eff 43.5px,#0954ff 47.5px,#046fff 50.5px,#0663ff 54.5px,#0a50ff 62.5px,#0b4cff 85.5px,#0080ff 94.5px,#056aff 105.5px,#046dff 150.5px,#00dffb 170.5px,#00ffe4 182.5px,#00ff98 189.5px,#00ff88 200.5px,#00ff50 209.5px,#01ff0a 216.5px,#31ff00 225.5px,#52fd00 228.5px,#59fc00 242.5px,#54fc00 295.5px,#28ff02 300.5px,#00ff0d 308.5px,#00ff5c 316.5px,#00ff86 324.5px,#00ff6e 327.5px,#00ff0f 333.5px,#0aff08 339.5px)"></i><i style="background:linear-gradient(90deg,#250cff 0.5px,#4800ff 5.5px,#4202ff 10.5px,#220dff 13.5px,#1619ff 14.5px,#0567ff 17.5px,#0083ff 19.5px,#0083ff 20.5px,#0276ff 21.5px,#0f39ff 23.5px,#1714ff 24.5px,#3606ff 27.5px,#3706ff 40.5px,#1f0eff 43.5px,#161aff 44.5px,#0568ff 48.5px,#007fff 51.5px,#0567ff 59.5px,#085dff 78.5px,#0954ff 85.5px,#0086ff 94.5px,#0372ff 100.5px,#056aff 108.5px,#046dff 150.5px,#00e0fa 170.5px,#00fee9 180.5px,#00ff8a 189.5px,#00ff79 201.5px,#00ff56 208.5px,#00ff0b 214.5px,#3afe00 225.5px,#57fc00 229.5px,#55fc00 295.5px,#25ff02 302.5px,#03ff09 309.5px,#00ff59 316.5px,#00ff7a 324.5px,#00ff6c 326.5px,#02ff09 332.5px,#16ff05 337.5px,#16ff05 339.5px)"></i><i style="background:linear-gradient(90deg,#210dff 0.5px,#3d04ff 5.5px,#3506ff 10.5px,#1717ff 13.5px,#0371ff 16.5px,#0096ff 18.5px,#009fff 20.5px,#0094ff 21.5px,#007eff 22.5px,#1910ff 25.5px,#3008ff 28.5px,#2e09ff 40.5px,#1713ff 43.5px,#046fff 47.5px,#0091ff 50.5px,#0082ff 62.5px,#0276ff 75.5px,#085cff 85.5px,#0371ff 90.5px,#008bff 94.5px,#017aff 99.5px,#056aff 104.5px,#046dff 150.5px,#00e1fa 170.5px,#00ffe6 179.5px,#00ff7d 189.5px,#00ff6f 201.5px,#00ff53 208.5px,#00ff1b 212.5px,#00ff0a 213.5px,#28ff02 220.5px,#3bfe00 224.5px,#57fc00 229.5px,#56fc00 295.5px,#2aff01 303.5px,#04ff09 310.5px,#00ff22 312.5px,#00ff56 316.5px,#00ff6e 324.5px,#00ff5c 326.5px,#00ff12 330.5px,#14ff06 333.5px,#22ff03 337.5px,#22ff03 339.5px)"></i><i style="background:linear-gradient(90deg,#1c0fff 0.5px,#2f08ff 6.5px,#220dff 10.5px,#1a0fff 11.5px,#0d43ff 13.5px,#0080ff 15.5px,#00b1ff 18.5px,#00b7ff 20.5px,#009dff 22.5px,#0662ff 24.5px,#1423ff 26.5px,#1810ff 27.5px,#260bff 32.5px,#1715ff 41.5px,#008dff 47.5px,#00a8ff 50.5px,#00a3ff 54.5px,#0089ff 74.5px,#0663ff 86.5px,#0373ff 90.5px,#008fff 94.5px,#017cff 99.5px,#056bff 103.5px,#046dff 150.5px,#00e1fa 170.5px,#00ffe3 178.5px,#00ff78 188.5px,#00ff6c 192.5px,#00ff61 203.5px,#00ff4d 208.5px,#00ff21 211.5px,#00ff0e 212.5px,#32ff00 220.5px,#58fc00 229.5px,#55fc00 296.5px,#1aff05 308.5px,#03ff09 311.5px,#00ff47 315.5px,#00ff5b 319.5px,#00ff60 324.5px,#00ff4c 326.5px,#00ff11 329.5px,#25ff02 334.5px,#2dff01 339.5px)"></i><i style="background:linear-gradient(90deg,#1713ff 0.5px,#1e0eff 6.5px,#1812ff 8.5px,#0d43ff 11.5px,#008fff 14.5px,#00baff 17.5px,#00c0ff 20.5px,#00b2ff 22.5px,#0278ff 25.5px,#0f39ff 28.5px,#151eff 31.5px,#122dff 36.5px,#0b4fff 41.5px,#009dff 46.5px,#00bcff 50.5px,#0098ff 72.5px,#0567ff 86.5px,#0274ff 90.5px,#0091ff 94.5px,#017dff 99.5px,#056bff 103.5px,#046eff 150.5px,#00dcfc 169.5px,#00ffe5 177.5px,#00ff6f 188.5px,#00ff63 192.5px,#00ff58 203.5px,#00ff44 208.5px,#04ff09 212.5px,#43fe00 220.5px,#59fc00 231.5px,#58fc00 295.5px,#41fe00 304.5px,#00ff0a 312.5px,#00ff3d 315.5px,#00ff4d 318.5px,#00ff4e 324.5px,#00ff39 326.5px,#00ff13 328.5px,#0eff07 330.5px,#3ffe00 337.5px,#40fe00 339.5px)"></i><i style="background:linear-gradient(90deg,#151fff 0.5px,#151eff 4.5px,#0c47ff 8.5px,#00acff 14.5px,#00bcff 16.5px,#00b2ff 23.5px,#0276ff 28.5px,#0955ff 31.5px,#0569ff 36.5px,#0098ff 43.5px,#00c2ff 49.5px,#00bfff 53.5px,#0092ff 73.5px,#0569ff 86.5px,#0275ff 90.5px,#0091ff 94.5px,#017dff 99.5px,#056bff 103.5px,#0370ff 128.5px,#046eff 150.5px,#00ddfc 169.5px,#00fee9 176.5px,#00ff69 188.5px,#00ff5d 192.5px,#00ff54 201.5px,#00ff34 208.5px,#02ff0a 211.5px,#4ffd00 220.5px,#59fc00 240.5px,#62fc00 268.5px,#59fc00 286.5px,#50fd00 303.5px,#3cfe00 306.5px,#00ff0c 313.5px,#00ff2c 315.5px,#00ff3a 318.5px,#00ff39 324.5px,#05ff09 328.5px,#39fe00 334.5px,#4bfd00 336.5px,#4efd00 339.5px)"></i><i style="background:linear-gradient(90deg,#122eff 0.5px,#0d44ff 4.5px,#0098ff 10.5px,#00b8ff 14.5px,#00abff 17.5px,#0099ff 20.5px,#00b1ff 25.5px,#0097ff 29.5px,#008aff 32.5px,#00bcff 50.5px,#0082ff 74.5px,#046bff 82.5px,#046eff 89.5px,#008eff 94.5px,#017bff 99.5px,#056aff 104.5px,#0370ff 125.5px,#0179ff 138.5px,#046eff 150.5px,#00ddfc 169.5px,#00ffe8 176.5px,#00ff6e 187.5px,#00ff5b 191.5px,#00ff51 200.5px,#00ff1e 208.5px,#03ff09 210.5px,#2fff00 216.5px,#51fd00 219.5px,#59fc00 243.5px,#6bfb00 263.5px,#59fc00 282.5px,#53fd00 304.5px,#45fe00 306.5px,#1dff04 310.5px,#01ff0a 314.5px,#00ff20 317.5px,#00ff1e 324.5px,#06ff09 327.5px,#34ff00 333.5px,#52fd00 336.5px,#55fc00 339.5px)"></i><i style="background:linear-gradient(90deg,#0d42ff 0.5px,#046fff 4.5px,#00a4ff 8.5px,#00b7ff 11.5px,#00afff 14.5px,#0279ff 19.5px,#007eff 21.5px,#00b4ff 26.5px,#00b5ff 29.5px,#00afff 33.5px,#00aeff 41.5px,#00a6ff 49.5px,#009cff 54.5px,#0372ff 73.5px,#0662ff 81.5px,#0372ff 90.5px,#0089ff 94.5px,#0279ff 99.5px,#056aff 104.5px,#046fff 123.5px,#0081ff 134.5px,#0276ff 145.5px,#046fff 150.5px,#00ddfc 169.5px,#00ffe8 176.5px,#00ff6d 187.5px,#00ff5a 191.5px,#00ff52 199.5px,#02ff0a 208.5px,#36ff00 216.5px,#54fc00 219.5px,#5efc00 249.5px,#75fa00 259.5px,#6efb00 269.5px,#59fc00 279.5px,#56fc00 304.5px,#3efe00 307.5px,#23ff03 310.5px,#04ff09 316.5px,#06ff09 325.5px,#2fff00 332.5px,#51fd00 335.5px,#58fc00 339.5px)"></i><i style="background:linear-gradient(90deg,#0761ff 0.5px,#00adff 6.5px,#00bbff 9.5px,#00acff 12.5px,#0955ff 19.5px,#085aff 21.5px,#00b0ff 27.5px,#00bfff 30.5px,#00adff 38.5px,#0086ff 47.5px,#0089ff 52.5px,#0371ff 60.5px,#0a53ff 79.5px,#056bff 88.5px,#0084ff 95.5px,#056aff 104.5px,#046eff 122.5px,#0088ff 133.5px,#0081ff 143.5px,#046fff 150.5px,#00ddfc 169.5px,#00ffe8 176.5px,#00ff64 188.5px,#00ff59 193.5px,#00ff4f 199.5px,#03ff09 206.5px,#30ff00 215.5px,#50fd00 218.5px,#59fc00 224.5px,#5dfc00 248.5px,#7ff900 258.5px,#7afa00 268.5px,#59fc00 278.5px,#53fd00 305.5px,#29ff01 310.5px,#10ff07 316.5px,#15ff06 326.5px,#36ff00 332.5px,#53fd00 335.5px,#58fc00 339.5px)"></i><i style="background:linear-gradient(90deg,#0086ff 0.5px,#00baff 5.5px,#00baff 8.5px,#0084ff 13.5px,#0b4cff 17.5px,#0e3dff 20.5px,#0956ff 23.5px,#00a5ff 28.5px,#00b7ff 31.5px,#0081ff 41.5px,#0664ff 46.5px,#056aff 52.5px,#0956ff 60.5px,#0c48ff 79.5px,#0569ff 86.5px,#0278ff 92.5px,#017dff 96.5px,#056aff 104.5px,#046fff 122.5px,#008eff 132.5px,#0089ff 142.5px,#0370ff 150.5px,#00ddfc 169.5px,#00ffe8 176.5px,#00ff76 186.5px,#00ff5b 190.5px,#00ff54 198.5px,#00ff27 202.5px,#00ff0a 204.5px,#3bfe00 215.5px,#56fc00 219.5px,#5efc00 248.5px,#89f900 258.5px,#86f900 267.5px,#5afc00 277.5px,#55fc00 305.5px,#2bff01 311.5px,#1bff04 318.5px,#23ff03 327.5px,#35ff00 331.5px,#54fc00 335.5px,#59fc00 339.5px)"></i><i style="background:linear-gradient(90deg,#00a5ff 0.5px,#00beff 4.5px,#00b1ff 7.5px,#0760ff 13.5px,#0f38ff 17.5px,#1132ff 21.5px,#0956ff 25.5px,#0093ff 29.5px,#0099ff 32.5px,#0b4cff 44.5px,#0b4bff 48.5px,#0a51ff 52.5px,#0d43ff 62.5px,#0e41ff 79.5px,#0569ff 86.5px,#0277ff 96.5px,#056aff 106.5px,#046dff 121.5px,#0095ff 132.5px,#008eff 142.5px,#0371ff 150.5px,#00ddfc 169.5px,#00ffe8 176.5px,#00ff76 186.5px,#00ff5b 190.5px,#00ff53 198.5px,#00ff2e 201.5px,#00ff0b 203.5px,#2aff01 210.5px,#57fc00 219.5px,#5cfc00 247.5px,#93f800 258.5px,#8ff800 267.5px,#5bfc00 277.5px,#53fd00 306.5px,#2dff01 313.5px,#28ff02 325.5px,#3afe00 330.5px,#58fc00 336.5px,#59fc00 339.5px)"></i><i style="background:linear-gradient(90deg,#00bbff 0.5px,#00bbff 3.5px,#0094ff 7.5px,#0d44ff 13.5px,#122cff 18.5px,#1131ff 23.5px,#0955ff 27.5px,#0277ff 30.5px,#046fff 33.5px,#0e3dff 42.5px,#0f38ff 47.5px,#0d42ff 53.5px,#0e3fff 79.5px,#0569ff 86.5px,#0470ff 98.5px,#046fff 121.5px,#009aff 132.5px,#0097ff 141.5px,#0373ff 150.5px,#00ddfc 169.5px,#00ffe8 176.5px,#00ff76 186.5px,#00ff5b 190.5px,#00ff52 198.5px,#00ff27 201.5px,#04ff09 203.5px,#3dfe00 211.5px,#58fc00 220.5px,#5efc00 247.5px,#9af800 258.5px,#97f800 267.5px,#5bfc00 277.5px,#55fc00 306.5px,#33ff00 317.5px,#38fe00 326.5px,#5afc00 336.5px,#5bfc00 339.5px)"></i><i style="background:linear-gradient(90deg,#00beff 0.5px,#00a6ff 3.5px,#0c46ff 10.5px,#122eff 15.5px,#122eff 24.5px,#0a54ff 31.5px,#1130ff 42.5px,#1034ff 47.5px,#0d43ff 52.5px,#0c48ff 80.5px,#0569ff 86.5px,#0373ff 121.5px,#009fff 132.5px,#009bff 141.5px,#0276ff 150.5px,#00ddfc 169.5px,#00ffe8 176.5px,#00ff76 186.5px,#00ff5b 190.5px,#00ff51 198.5px,#00ff37 200.5px,#00ff0d 202.5px,#47fd00 210.5px,#59fc00 222.5px,#5ffc00 246.5px,#9df700 258.5px,#9df700 267.5px,#5bfc00 277.5px,#54fc00 308.5px,#47fd00 321.5px,#56fc00 331.5px,#5ffc00 339.5px)"></i><i style="background:linear-gradient(90deg,#00abff 0.5px,#0370ff 4.5px,#0f3aff 8.5px,#122aff 12.5px,#1133ff 20.5px,#122dff 26.5px,#0f3bff 31.5px,#122bff 43.5px,#0f3aff 47.5px,#0a53ff 51.5px,#0859ff 73.5px,#0a51ff 80.5px,#0569ff 86.5px,#0275ff 116.5px,#017cff 122.5px,#00a1ff 132.5px,#009dff 141.5px,#017cff 150.5px,#00ddfc 169.5px,#00ffe8 176.5px,#00ff76 186.5px,#00ff5b 190.5px,#00ff51 198.5px,#00ff35 200.5px,#00ff0a 202.5px,#2fff00 207.5px,#4bfd00 209.5px,#58fc00 217.5px,#5ffc00 242.5px,#75fa00 250.5px,#9df700 259.5px,#a3f700 266.5px,#7cfa00 272.5px,#5bfc00 277.5px,#55fc00 326.5px,#66fb00 339.5px)"></i><i style="background:linear-gradient(90deg,#0085ff 0.5px,#1131ff 5.5px,#161cff 8.5px,#1422ff 12.5px,#0c46ff 19.5px,#122bff 25.5px,#122eff 43.5px,#0c4aff 47.5px,#0371ff 51.5px,#0275ff 71.5px,#075dff 80.5px,#056aff 88.5px,#0373ff 98.5px,#017cff 109.5px,#0082ff 122.5px,#00a3ff 133.5px,#009cff 142.5px,#0082ff 150.5px,#00defb 169.5px,#00ffe8 176.5px,#00ff76 186.5px,#00ff5b 190.5px,#00ff56 197.5px,#00ff45 199.5px,#01ff0a 202.5px,#31ff00 207.5px,#4ffd00 209.5px,#58fc00 215.5px,#5efc00 240.5px,#a4f700 265.5px,#95f800 269.5px,#5bfc00 277.5px,#5cfc00 327.5px,#6ffb00 338.5px,#6ffb00 339.5px)"></i><i style="background:linear-gradient(90deg,#0b4dff 0.5px,#1811ff 4.5px,#1d0eff 9.5px,#151eff 12.5px,#0662ff 18.5px,#075eff 20.5px,#1035ff 24.5px,#1329ff 31.5px,#112fff 41.5px,#0c48ff 45.5px,#008dff 50.5px,#0092ff 55.5px,#008aff 71.5px,#0666ff 81.5px,#0371ff 96.5px,#0083ff 104.5px,#008aff 123.5px,#00a3ff 133.5px,#009dff 142.5px,#0089ff 150.5px,#00d4ff 166.5px,#00ffe8 176.5px,#00ff76 186.5px,#00ff5b 190.5px,#00ff56 197.5px,#00ff45 199.5px,#01ff0a 202.5px,#32ff00 207.5px,#50fd00 209.5px,#58fc00 214.5px,#5efc00 239.5px,#83f900 253.5px,#a3f700 266.5px,#85f900 271.5px,#5bfc00 277.5px,#5dfc00 326.5px,#79fa00 337.5px,#79fa00 339.5px)"></i><i style="background:linear-gradient(90deg,#1716ff 0.5px,#2c09ff 6.5px,#210dff 10.5px,#1a0fff 11.5px,#017dff 17.5px,#0089ff 19.5px,#0275ff 21.5px,#0f3cff 25.5px,#122aff 29.5px,#122dff 38.5px,#0b4bff 43.5px,#00a1ff 49.5px,#00b0ff 52.5px,#0093ff 71.5px,#056aff 81.5px,#046fff 95.5px,#008aff 103.5px,#0090ff 123.5px,#00a3ff 134.5px,#009aff 144.5px,#008fff 150.5px,#00cdff 163.5px,#00ecf3 172.5px,#00ffe8 176.5px,#00ff76 186.5px,#00ff5b 190.5px,#00ff56 197.5px,#00ff45 199.5px,#01ff0a 202.5px,#33ff00 207.5px,#50fd00 209.5px,#59fc00 215.5px,#5dfc00 238.5px,#82f900 248.5px,#84f900 258.5px,#a2f700 266.5px,#8ef800 270.5px,#5bfc00 277.5px,#5efc00 326.5px,#83f900 336.5px,#84f900 339.5px)"></i><i style="background:linear-gradient(90deg,#290aff 0.5px,#3a05ff 5.5px,#3008ff 9.5px,#1d0eff 11.5px,#0e3eff 13.5px,#008cff 16.5px,#00a7ff 18.5px,#00a3ff 20.5px,#0d44ff 26.5px,#122bff 30.5px,#112fff 36.5px,#0a50ff 41.5px,#00b8ff 49.5px,#00c1ff 52.5px,#008eff 72.5px,#056aff 81.5px,#0370ff 95.5px,#0091ff 103.5px,#0097ff 124.5px,#00a3ff 137.5px,#0096ff 150.5px,#00d0ff 162.5px,#00ecf3 172.5px,#00ffe8 176.5px,#00ff76 186.5px,#00ff5b 190.5px,#00ff56 197.5px,#00ff45 199.5px,#01ff0a 202.5px,#33ff00 207.5px,#50fd00 209.5px,#59fc00 215.5px,#5dfc00 238.5px,#88f900 247.5px,#79fa00 257.5px,#a1f700 266.5px,#8df800 270.5px,#5bfc00 277.5px,#5cfc00 325.5px,#8df800 336.5px,#8ef800 339.5px)"></i><i style="background:linear-gradient(90deg,#3706ff 0.5px,#4601ff 5.5px,#3805ff 9.5px,#1c0fff 11.5px,#017aff 14.5px,#00a8ff 16.5px,#00beff 18.5px,#00bcff 20.5px,#0084ff 24.5px,#0d42ff 28.5px,#112fff 31.5px,#1035ff 35.5px,#0663ff 40.5px,#00b7ff 47.5px,#00c7ff 50.5px,#009aff 65.5px,#056bff 81.5px,#046eff 94.5px,#0095ff 102.5px,#009fff 127.5px,#009eff 145.5px,#009fff 151.5px,#00d4ff 161.5px,#00ecf3 172.5px,#00ffe7 176.5px,#00ff6d 187.5px,#00ff59 191.5px,#00ff56 197.5px,#00ff45 199.5px,#01ff0a 202.5px,#33ff00 207.5px,#50fd00 209.5px,#59fc00 215.5px,#5efc00 238.5px,#90f800 247.5px,#72fa00 257.5px,#a0f700 266.5px,#8df800 270.5px,#5bfc00 277.5px,#5dfc00 325.5px,#94f800 335.5px,#96f800 339.5px)"></i><i style="background:linear-gradient(90deg,#3f03ff 0.5px,#5100ff 4.5px,#4601ff 8.5px,#1810ff 11.5px,#0371ff 13.5px,#0093ff 14.5px,#00b9ff 16.5px,#00c4ff 19.5px,#00bbff 22.5px,#0081ff 26.5px,#0b4cff 29.5px,#0f38ff 32.5px,#0c47ff 35.5px,#00a8ff 43.5px,#00c0ff 48.5px,#00b9ff 52.5px,#009aff 58.5px,#046cff 81.5px,#0371ff 94.5px,#009aff 102.5px,#00a1ff 144.5px,#00a4ff 151.5px,#00d9fe 161.5px,#00e9f5 171.5px,#00ffe6 176.5px,#00ff64 188.5px,#00ff59 193.5px,#00ff50 198.5px,#00ff34 200.5px,#01ff0a 202.5px,#33ff00 207.5px,#50fd00 209.5px,#59fc00 215.5px,#5bfc00 237.5px,#94f800 247.5px,#7cfa00 253.5px,#6efb00 257.5px,#9df700 266.5px,#8bf900 270.5px,#5bfc00 277.5px,#5dfc00 325.5px,#99f800 335.5px,#9cf700 339.5px)"></i><i style="background:linear-gradient(90deg,#4202ff 0.5px,#5400ff 4.5px,#4401ff 8.5px,#250cff 10.5px,#1325ff 11.5px,#0088ff 13.5px,#00a4ff 14.5px,#00baff 16.5px,#00b8ff 20.5px,#00c0ff 23.5px,#009fff 26.5px,#0a4fff 31.5px,#0a4fff 33.5px,#00adff 41.5px,#00b9ff 44.5px,#00aeff 51.5px,#0088ff 57.5px,#0470ff 78.5px,#0275ff 94.5px,#009eff 102.5px,#00a4ff 150.5px,#00ddfc 161.5px,#00ecf3 171.5px,#00ffe3 176.5px,#00ff64 188.5px,#00ff59 193.5px,#00ff50 198.5px,#00ff34 200.5px,#01ff0a 202.5px,#33ff00 207.5px,#50fd00 209.5px,#59fc00 215.5px,#5bfc00 237.5px,#95f800 247.5px,#6dfb00 257.5px,#98f800 266.5px,#88f900 270.5px,#5bfc00 277.5px,#5dfc00 325.5px,#99f800 335.5px,#9cf700 339.5px)"></i><i style="background:linear-gradient(90deg,#3e03ff 0.5px,#4a00ff 4.5px,#3a05ff 8.5px,#1910ff 10.5px,#0373ff 12.5px,#0094ff 13.5px,#00a7ff 14.5px,#00aaff 16.5px,#0097ff 19.5px,#00c1ff 24.5px,#00b7ff 26.5px,#0370ff 31.5px,#0371ff 33.5px,#00b2ff 39.5px,#00b9ff 42.5px,#009eff 48.5px,#0096ff 52.5px,#0371ff 57.5px,#0371ff 77.5px,#007fff 95.5px,#00a1ff 103.5px,#00a6ff 150.5px,#00dffb 161.5px,#00f7ed 173.5px,#00ffdf 176.5px,#00ff64 188.5px,#00ff59 193.5px,#00ff50 198.5px,#00ff34 200.5px,#01ff0a 202.5px,#33ff00 207.5px,#50fd00 209.5px,#59fc00 215.5px,#5efc00 238.5px,#91f800 247.5px,#70fa00 257.5px,#92f800 267.5px,#5bfc00 277.5px,#5dfc00 325.5px,#97f800 336.5px,#98f800 339.5px)"></i><i style="background:linear-gradient(90deg,#3506ff 0.5px,#3a05ff 4.5px,#260bff 8.5px,#1910ff 9.5px,#0082ff 12.5px,#0095ff 13.5px,#0099ff 15.5px,#0277ff 18.5px,#017dff 20.5px,#00b6ff 24.5px,#00c1ff 26.5px,#00aaff 29.5px,#0093ff 31.5px,#0094ff 33.5px,#00bbff 38.5px,#00b3ff 41.5px,#0086ff 46.5px,#008dff 51.5px,#075eff 57.5px,#0665ff 63.5px,#046cff 71.5px,#0374ff 77.5px,#007fff 84.5px,#0085ff 95.5px,#00a2ff 103.5px,#00a6ff 150.5px,#00e1fa 161.5px,#00fee9 174.5px,#00ff96 183.5px,#00ff5e 189.5px,#00ff50 198.5px,#00ff34 200.5px,#01ff0a 202.5px,#33ff00 207.5px,#50fd00 209.5px,#59fc00 215.5px,#5efc00 238.5px,#8af900 247.5px,#77fa00 258.5px,#8af900 267.5px,#5afc00 277.5px,#5cfc00 325.5px,#8df800 335.5px,#8ff800 339.5px)"></i><i style="background:linear-gradient(90deg,#270bff 0.5px,#1e0eff 5.5px,#1618ff 7.5px,#0957ff 10.5px,#0083ff 12.5px,#0087ff 14.5px,#0955ff 18.5px,#085aff 20.5px,#00acff 25.5px,#00c1ff 28.5px,#00afff 32.5px,#00bcff 37.5px,#009cff 41.5px,#046cff 45.5px,#0569ff 47.5px,#0080ff 50.5px,#017aff 52.5px,#0954ff 56.5px,#0954ff 61.5px,#056aff 67.5px,#0373ff 76.5px,#0086ff 82.5px,#008aff 95.5px,#00a3ff 103.5px,#00a7ff 150.5px,#00e2f9 161.5px,#00ffe3 174.5px,#00ffa1 182.5px,#00ff5e 189.5px,#00ff50 198.5px,#00ff34 200.5px,#01ff0a 202.5px,#33ff00 207.5px,#50fd00 209.5px,#59fc00 215.5px,#5dfc00 238.5px,#83f900 248.5px,#7ef900 268.5px,#59fc00 278.5px,#5efc00 326.5px,#84f900 336.5px,#85f900 339.5px)"></i><i style="background:linear-gradient(90deg,#161aff 0.5px,#122cff 3.5px,#0664ff 9.5px,#0277ff 12.5px,#075dff 15.5px,#0e3eff 18.5px,#0e41ff 20.5px,#056bff 23.5px,#00afff 27.5px,#00c3ff 30.5px,#00b7ff 36.5px,#046eff 42.5px,#0b4fff 45.5px,#0954ff 47.5px,#0373ff 50.5px,#046fff 52.5px,#0c49ff 56.5px,#0c48ff 60.5px,#056aff 67.5px,#0370ff 75.5px,#008cff 81.5px,#0093ff 96.5px,#00a3ff 105.5px,#00a7ff 150.5px,#00e3f9 161.5px,#00ffe0 173.5px,#00ffb4 180.5px,#00ff5e 189.5px,#00ff50 198.5px,#00ff34 200.5px,#01ff0a 202.5px,#33ff00 207.5px,#50fd00 209.5px,#59fc00 215.5px,#5efc00 239.5px,#80f900 251.5px,#82f900 261.5px,#6bfb00 271.5px,#59fc00 279.5px,#5dfc00 326.5px,#7bfa00 337.5px,#7bfa00 339.5px)"></i><i style="background:linear-gradient(90deg,#0a4fff 0.5px,#007fff 5.5px,#017bff 8.5px,#0859ff 13.5px,#1035ff 17.5px,#1132ff 20.5px,#0b4dff 23.5px,#00a3ff 28.5px,#00c0ff 31.5px,#00b4ff 34.5px,#085aff 41.5px,#0e3eff 44.5px,#0e3fff 46.5px,#056aff 50.5px,#0666ff 52.5px,#0e40ff 56.5px,#0e41ff 60.5px,#0569ff 66.5px,#0372ff 75.5px,#0093ff 81.5px,#0099ff 97.5px,#00a3ff 109.5px,#00a7ff 150.5px,#00dffb 160.5px,#00ffde 171.5px,#00ffb4 180.5px,#00ff5e 189.5px,#00ff50 198.5px,#00ff34 200.5px,#01ff0a 202.5px,#33ff00 207.5px,#50fd00 209.5px,#59fc00 215.5px,#5dfc00 239.5px,#8df800 257.5px,#59fc00 278.5px,#5efc00 327.5px,#71fa00 339.5px)"></i><i style="background:linear-gradient(90deg,#0086ff 0.5px,#009cff 4.5px,#008cff 7.5px,#0d43ff 13.5px,#122aff 18.5px,#0f39ff 23.5px,#075fff 26.5px,#00a2ff 30.5px,#00aaff 32.5px,#0080ff 36.5px,#0c49ff 40.5px,#1131ff 44.5px,#0d42ff 47.5px,#0664ff 50.5px,#075fff 52.5px,#0f3bff 56.5px,#0e3dff 60.5px,#056bff 66.5px,#0276ff 75.5px,#0099ff 81.5px,#009fff 99.5px,#00a7ff 150.5px,#00e0fa 160.5px,#00ffe6 168.5px,#00ffcd 173.5px,#00ffb4 180.5px,#00ff5e 189.5px,#00ff50 198.5px,#00ff34 200.5px,#01ff0a 202.5px,#33ff00 207.5px,#50fd00 209.5px,#59fc00 215.5px,#5dfc00 240.5px,#72fa00 249.5px,#93f800 257.5px,#63fb00 270.5px,#59fc00 284.5px,#5dfc00 328.5px,#67fb00 339.5px)"></i><i style="background:linear-gradient(90deg,#00abff 0.5px,#00aaff 4.5px,#0084ff 7.5px,#0d45ff 11.5px,#122cff 15.5px,#122bff 22.5px,#0d45ff 26.5px,#0083ff 30.5px,#008aff 32.5px,#0569ff 35.5px,#0e3dff 39.5px,#122bff 44.5px,#0e3fff 47.5px,#0761ff 50.5px,#085dff 52.5px,#0f3bff 56.5px,#0e3fff 60.5px,#0370ff 66.5px,#017cff 75.5px,#009dff 81.5px,#00a1ff 100.5px,#00a7ff 150.5px,#00e0fa 160.5px,#00ffe7 167.5px,#00ffca 171.5px,#00ffba 179.5px,#00ff5e 189.5px,#00ff50 198.5px,#00ff34 200.5px,#01ff0a 202.5px,#33ff00 207.5px,#50fd00 209.5px,#59fc00 215.5px,#5ffc00 242.5px,#70fa00 249.5px,#96f800 257.5px,#62fb00 269.5px,#59fc00 287.5px,#5ffc00 334.5px,#60fc00 339.5px)"></i><i style="background:linear-gradient(90deg,#00bcff 0.5px,#00adff 3.5px,#0081ff 6.5px,#0c4aff 9.5px,#122cff 13.5px,#122cff 24.5px,#0c47ff 28.5px,#0665ff 31.5px,#075eff 33.5px,#1034ff 38.5px,#1329ff 44.5px,#0e40ff 47.5px,#0663ff 50.5px,#0761ff 52.5px,#0d46ff 56.5px,#0b4cff 60.5px,#017bff 66.5px,#0083ff 75.5px,#009eff 81.5px,#009fff 98.5px,#00a7ff 150.5px,#00e0fa 160.5px,#00ffe2 167.5px,#00ffc4 171.5px,#00ffb9 179.5px,#00ff5e 189.5px,#00ff50 198.5px,#00ff34 200.5px,#01ff0a 202.5px,#33ff00 207.5px,#50fd00 209.5px,#59fc00 215.5px,#5ffc00 242.5px,#76fa00 250.5px,#95f800 257.5px,#64fb00 269.5px,#59fc00 283.5px,#60fc00 299.5px,#59fc00 323.5px,#5cfc00 339.5px)"></i><i style="background:linear-gradient(90deg,#00b6ff 0.5px,#0098ff 3.5px,#0d43ff 8.5px,#122aff 12.5px,#122cff 26.5px,#0c46ff 32.5px,#122aff 39.5px,#122dff 45.5px,#056bff 50.5px,#0666ff 53.5px,#085cff 57.5px,#056aff 61.5px,#0089ff 66.5px,#008eff 76.5px,#009cff 82.5px,#0098ff 95.5px,#00a3ff 108.5px,#00a7ff 150.5px,#00e0fa 160.5px,#00fde9 166.5px,#00ffc5 170.5px,#00ffb9 179.5px,#00ff5e 189.5px,#00ff50 198.5px,#00ff34 200.5px,#01ff0a 202.5px,#33ff00 207.5px,#50fd00 209.5px,#59fc00 215.5px,#5efc00 240.5px,#85f900 253.5px,#8ff800 258.5px,#62fb00 272.5px,#59fc00 283.5px,#68fb00 298.5px,#59fc00 309.5px,#59fc00 339.5px)"></i><i style="background:linear-gradient(90deg,#009cff 0.5px,#0279ff 3.5px,#0f3bff 7.5px,#1327ff 11.5px,#122cff 28.5px,#1132ff 33.5px,#1328ff 43.5px,#0f3aff 46.5px,#0277ff 50.5px,#007eff 52.5px,#0179ff 56.5px,#0097ff 67.5px,#0091ff 76.5px,#0097ff 82.5px,#0091ff 94.5px,#00a3ff 105.5px,#00a7ff 150.5px,#00e0fa 160.5px,#00fee9 166.5px,#00ffc4 170.5px,#00ffb9 179.5px,#00ff5e 189.5px,#00ff50 198.5px,#00ff34 200.5px,#01ff0a 202.5px,#33ff00 207.5px,#50fd00 209.5px,#59fc00 215.5px,#5efc00 239.5px,#89f900 257.5px,#59fc00 279.5px,#5ffc00 288.5px,#72fa00 297.5px,#59fc00 308.5px,#59fc00 339.5px)"></i><i style="background:linear-gradient(90deg,#0278ff 0.5px,#1131ff 6.5px,#1423ff 10.5px,#1328ff 37.5px,#112fff 44.5px,#0a53ff 47.5px,#0088ff 50.5px,#009aff 59.5px,#00a0ff 68.5px,#0091ff 77.5px,#008bff 94.5px,#00a3ff 104.5px,#00a7ff 150.5px,#00e0fa 160.5px,#00fee9 166.5px,#00ffc3 170.5px,#00ffb9 179.5px,#00ff5e 189.5px,#00ff50 198.5px,#00ff34 200.5px,#01ff0a 202.5px,#33ff00 207.5px,#50fd00 209.5px,#59fc00 215.5px,#5cfc00 238.5px,#81f900 249.5px,#7efa00 267.5px,#59fc00 278.5px,#5dfc00 287.5px,#7cfa00 296.5px,#59fc00 307.5px,#59fc00 339.5px)"></i><i style="background:linear-gradient(90deg,#0b4eff 0.5px,#1520ff 6.5px,#1520ff 12.5px,#1327ff 26.5px,#122dff 41.5px,#0d43ff 45.5px,#009aff 50.5px,#00aaff 54.5px,#00a3ff 67.5px,#008bff 77.5px,#0084ff 94.5px,#00a3ff 103.5px,#00a7ff 150.5px,#00e0fa 160.5px,#00fee9 166.5px,#00ffc3 170.5px,#00ffb9 179.5px,#00ff5e 189.5px,#00ff50 198.5px,#00ff34 200.5px,#01ff0a 202.5px,#33ff00 207.5px,#50fd00 209.5px,#59fc00 215.5px,#5dfc00 238.5px,#88f900 248.5px,#7afa00 258.5px,#86f900 267.5px,#5afc00 277.5px,#5ffc00 287.5px,#85f900 296.5px,#59fc00 307.5px,#59fc00 339.5px)"></i><i style="background:linear-gradient(90deg,#122eff 0.5px,#1811ff 5.5px,#1715ff 11.5px,#122bff 18.5px,#122aff 37.5px,#0d44ff 43.5px,#046cff 46.5px,#00afff 50.5px,#00bbff 53.5px,#0082ff 77.5px,#017cff 93.5px,#00a2ff 103.5px,#00a7ff 150.5px,#00e0fa 160.5px,#00fee9 166.5px,#00ffc3 170.5px,#00ffb8 179.5px,#00ff5e 189.5px,#00ff50 198.5px,#00ff34 200.5px,#01ff0a 202.5px,#33ff00 207.5px,#50fd00 209.5px,#59fc00 215.5px,#5cfc00 237.5px,#8ef800 247.5px,#72fa00 257.5px,#8ff800 267.5px,#5bfc00 277.5px,#5cfc00 286.5px,#8df800 296.5px,#59fc00 307.5px,#59fc00 339.5px)"></i><i style="background:linear-gradient(90deg,#1715ff 0.5px,#200dff 9.5px,#1618ff 13.5px,#1033ff 18.5px,#1327ff 31.5px,#1036ff 38.5px,#0760ff 43.5px,#00b6ff 49.5px,#00c5ff 52.5px,#0096ff 64.5px,#0278ff 79.5px,#0179ff 94.5px,#00a1ff 102.5px,#00a7ff 150.5px,#00e0fa 160.5px,#00fee9 166.5px,#00ffc3 170.5px,#00ffb6 179.5px,#00ff5e 189.5px,#00ff50 198.5px,#00ff34 200.5px,#01ff0a 202.5px,#33ff00 207.5px,#50fd00 209.5px,#59fc00 215.5px,#5efc00 237.5px,#94f800 247.5px,#7cfa00 253.5px,#6efb00 257.5px,#96f800 267.5px,#5bfc00 277.5px,#5cfc00 286.5px,#92f800 295.5px,#85f900 299.5px,#5bfc00 306.5px,#59fc00 339.5px)"></i><i style="background:linear-gradient(90deg,#1f0eff 0.5px,#2d09ff 7.5px,#1811ff 13.5px,#0d44ff 18.5px,#0e3dff 21.5px,#1329ff 26.5px,#122eff 34.5px,#0a53ff 39.5px,#00b1ff 47.5px,#00c6ff 50.5px,#00beff 53.5px,#0095ff 59.5px,#0371ff 77.5px,#0278ff 94.5px,#00a1ff 102.5px,#00a7ff 150.5px,#00e0fa 160.5px,#00fee9 166.5px,#00ffc3 170.5px,#00ffb1 179.5px,#00ff5e 189.5px,#00ff50 198.5px,#00ff34 200.5px,#01ff0a 202.5px,#33ff00 207.5px,#50fd00 209.5px,#59fc00 215.5px,#5ffc00 236.5px,#96f800 247.5px,#7cfa00 253.5px,#6cfb00 257.5px,#9bf700 266.5px,#8af900 270.5px,#5bfc00 277.5px,#5cfc00 286.5px,#93f800 295.5px,#8df800 298.5px,#5bfc00 306.5px,#59fc00 339.5px)"></i><i style="background:linear-gradient(90deg,#270bff 0.5px,#3905ff 5.5px,#3108ff 10.5px,#1a0fff 13.5px,#075fff 18.5px,#075fff 20.5px,#1131ff 25.5px,#122bff 31.5px,#0d41ff 35.5px,#0099ff 42.5px,#00bfff 48.5px,#00b7ff 52.5px,#0089ff 58.5px,#046dff 75.5px,#0371ff 87.5px,#007fff 95.5px,#00a1ff 102.5px,#00a7ff 150.5px,#00e0fa 160.5px,#00fee9 166.5px,#00ffc2 170.5px,#00ffa3 180.5px,#00ff5d 189.5px,#00ff56 197.5px,#00ff45 199.5px,#01ff0a 202.5px,#33ff00 207.5px,#50fd00 209.5px,#59fc00 215.5px,#60fc00 233.5px,#79fa00 241.5px,#93f800 247.5px,#70fb00 257.5px,#9ff700 266.5px,#8cf800 270.5px,#5bfc00 277.5px,#5cfc00 286.5px,#90f800 295.5px,#84f900 299.5px,#5bfc00 306.5px,#59fc00 339.5px)"></i><i style="background:linear-gradient(90deg,#2e09ff 0.5px,#4401ff 4.5px,#4102ff 9.5px,#1c0fff 13.5px,#0e3dff 15.5px,#0372ff 17.5px,#0083ff 18.5px,#0084ff 20.5px,#0e3fff 25.5px,#122dff 29.5px,#0d41ff 33.5px,#00a3ff 40.5px,#00b9ff 44.5px,#00a9ff 51.5px,#017bff 58.5px,#056bff 76.5px,#0371ff 86.5px,#008cff 97.5px,#00a3ff 103.5px,#00a7ff 150.5px,#00e0fa 160.5px,#00fee9 166.5px,#00ffbb 171.5px,#00ff92 181.5px,#00ff5d 189.5px,#00ff56 197.5px,#00ff45 199.5px,#01ff0a 202.5px,#33ff00 207.5px,#50fd00 209.5px,#59fc00 215.5px,#5efc00 230.5px,#8df800 248.5px,#76fa00 257.5px,#a1f700 266.5px,#8df800 270.5px,#5bfc00 277.5px,#5ffc00 287.5px,#8bf900 296.5px,#59fc00 307.5px,#59fc00 339.5px)"></i><i style="background:linear-gradient(90deg,#3307ff 0.5px,#5100ff 5.5px,#4900ff 9.5px,#1b0fff 13.5px,#0276ff 16.5px,#00a2ff 18.5px,#00a4ff 20.5px,#0c4aff 26.5px,#1038ff 29.5px,#0b4dff 32.5px,#009dff 37.5px,#00baff 40.5px,#00b5ff 44.5px,#0373ff 57.5px,#056aff 83.5px,#0085ff 92.5px,#00a3ff 104.5px,#00a7ff 150.5px,#00e0fa 160.5px,#00fee9 166.5px,#00ffb9 171.5px,#00ff5a 190.5px,#00ff56 197.5px,#00ff45 199.5px,#01ff0a 202.5px,#33ff00 207.5px,#50fd00 209.5px,#59fc00 215.5px,#5dfc00 229.5px,#81f900 242.5px,#81f900 252.5px,#81f900 258.5px,#a2f700 266.5px,#8ef800 270.5px,#5bfc00 277.5px,#5efc00 287.5px,#82f900 296.5px,#59fc00 307.5px,#59fc00 339.5px)"></i><i style="background:linear-gradient(90deg,#3506ff 0.5px,#5500ff 5.5px,#4c00ff 9.5px,#270bff 12.5px,#1715ff 13.5px,#046dff 15.5px,#0091ff 16.5px,#00baff 18.5px,#00bcff 20.5px,#008bff 24.5px,#0b4fff 28.5px,#0a50ff 30.5px,#00abff 36.5px,#00c0ff 39.5px,#00a9ff 43.5px,#007fff 48.5px,#056bff 61.5px,#046dff 84.5px,#008bff 91.5px,#00a3ff 105.5px,#00a7ff 150.5px,#00e0fa 160.5px,#00fee9 166.5px,#00ffb0 172.5px,#00ff62 187.5px,#00ff59 193.5px,#00ff50 198.5px,#00ff34 200.5px,#01ff0a 202.5px,#33ff00 207.5px,#50fd00 209.5px,#59fc00 215.5px,#5ffc00 229.5px,#83f900 239.5px,#83f900 254.5px,#a3f700 266.5px,#85f900 271.5px,#5bfc00 277.5px,#5dfc00 287.5px,#79fa00 296.5px,#59fc00 308.5px,#59fc00 339.5px)"></i><i style="background:linear-gradient(90deg,#3307ff 0.5px,#5100ff 5.5px,#4700ff 9.5px,#200dff 12.5px,#122cff 13.5px,#0089ff 15.5px,#00baff 17.5px,#00c5ff 19.5px,#00bdff 22.5px,#046fff 28.5px,#0371ff 30.5px,#00b6ff 35.5px,#00bfff 38.5px,#0080ff 44.5px,#0761ff 47.5px,#0761ff 52.5px,#056aff 61.5px,#046dff 84.5px,#008fff 90.5px,#00a3ff 106.5px,#00a6ff 150.5px,#00e0fa 160.5px,#00fee9 166.5px,#00ffad 172.5px,#00ff73 181.5px,#00ff58 191.5px,#00ff56 197.5px,#00ff45 199.5px,#01ff0a 202.5px,#33ff00 207.5px,#50fd00 209.5px,#59fc00 215.5px,#5dfc00 228.5px,#8af900 238.5px,#77fa00 248.5px,#a4f700 266.5px,#7dfa00 272.5px,#5bfc00 277.5px,#5efc00 288.5px,#6ffb00 297.5px,#59fc00 308.5px,#59fc00 339.5px)"></i><i style="background:linear-gradient(90deg,#2e09ff 0.5px,#4401ff 4.5px,#4202ff 8.5px,#3407ff 10.5px,#250cff 11.5px,#151cff 12.5px,#007fff 14.5px,#00b5ff 16.5px,#00bdff 18.5px,#00bdff 21.5px,#00bdff 24.5px,#0092ff 28.5px,#0094ff 30.5px,#00beff 34.5px,#00b8ff 37.5px,#0a52ff 45.5px,#0c46ff 49.5px,#0569ff 57.5px,#046eff 84.5px,#0095ff 90.5px,#00a3ff 108.5px,#00a6ff 150.5px,#00e0fa 160.5px,#00fee9 166.5px,#00ff98 174.5px,#00ff6d 180.5px,#00ff57 191.5px,#00ff50 198.5px,#00ff34 200.5px,#01ff0a 202.5px,#33ff00 207.5px,#50fd00 209.5px,#59fc00 215.5px,#5dfc00 228.5px,#90f800 237.5px,#7ef900 243.5px,#71fa00 248.5px,#9ef700 260.5px,#a1f700 267.5px,#5bfc00 277.5px,#5ffc00 290.5px,#66fb00 298.5px,#59fc00 311.5px,#5afc00 339.5px)"></i><i style="background:linear-gradient(90deg,#270bff 0.5px,#3905ff 5.5px,#2e09ff 9.5px,#1618ff 11.5px,#0275ff 13.5px,#0098ff 14.5px,#00afff 15.5px,#00b9ff 16.5px,#00a1ff 19.5px,#00a7ff 21.5px,#00c0ff 24.5px,#00aeff 29.5px,#00c1ff 33.5px,#00aeff 36.5px,#0954ff 42.5px,#0f38ff 46.5px,#0d42ff 51.5px,#0566ff 56.5px,#046eff 84.5px,#009aff 90.5px,#00a3ff 117.5px,#00a4ff 150.5px,#00e0fa 160.5px,#00fee9 166.5px,#00ff78 177.5px,#00ff5e 182.5px,#00ff53 192.5px,#00ff50 198.5px,#00ff34 200.5px,#01ff0a 202.5px,#33ff00 207.5px,#50fd00 209.5px,#59fc00 215.5px,#5efc00 228.5px,#94f800 237.5px,#83f900 242.5px,#6dfb00 247.5px,#a0f700 258.5px,#9ff700 267.5px,#5bfc00 277.5px,#5dfc00 301.5px,#5dfc00 339.5px)"></i><i style="background:linear-gradient(90deg,#200dff 0.5px,#2b0aff 6.5px,#1c0fff 9.5px,#1423ff 10.5px,#0094ff 13.5px,#00abff 14.5px,#00b5ff 15.5px,#00a3ff 17.5px,#0084ff 19.5px,#0088ff 21.5px,#00baff 25.5px,#00c2ff 30.5px,#00b8ff 33.5px,#0081ff 37.5px,#0d45ff 41.5px,#112fff 45.5px,#1038ff 50.5px,#0666ff 56.5px,#046fff 84.5px,#009dff 90.5px,#00a3ff 141.5px,#00a1ff 150.5px,#00e0fa 160.5px,#00fee9 166.5px,#00ff73 177.5px,#00ff57 182.5px,#00ff49 190.5px,#00ff53 197.5px,#00ff44 199.5px,#01ff0a 202.5px,#33ff00 207.5px,#50fd00 209.5px,#59fc00 215.5px,#5efc00 228.5px,#94f800 237.5px,#83f900 242.5px,#6efb00 247.5px,#8cf900 253.5px,#a4f700 258.5px,#9af800 267.5px,#5bfc00 277.5px,#5efc00 330.5px,#62fb00 339.5px)"></i><i style="background:linear-gradient(90deg,#1a0fff 0.5px,#1d0eff 6.5px,#1910ff 7.5px,#151dff 8.5px,#0954ff 10.5px,#0096ff 12.5px,#00aaff 13.5px,#00b3ff 14.5px,#00afff 15.5px,#0663ff 19.5px,#075eff 20.5px,#0373ff 22.5px,#00b0ff 26.5px,#00c1ff 29.5px,#00aeff 32.5px,#0a4fff 38.5px,#1130ff 42.5px,#122dff 47.5px,#0e3fff 51.5px,#0666ff 56.5px,#046fff 84.5px,#009fff 90.5px,#009eff 145.5px,#00a1ff 151.5px,#00e0fa 160.5px,#00fee9 166.5px,#00ff67 178.5px,#00ff41 186.5px,#00ff3e 191.5px,#00ff50 197.5px,#00ff44 199.5px,#01ff0a 202.5px,#33ff00 207.5px,#50fd00 209.5px,#59fc00 215.5px,#5dfc00 228.5px,#8ff800 237.5px,#83f900 242.5px,#72fa00 247.5px,#a4f700 257.5px,#93f800 267.5px,#5bfc00 277.5px,#5efc00 328.5px,#6afb00 339.5px)"></i><i style="background:linear-gradient(90deg,#1618ff 0.5px,#1713ff 4.5px,#1421ff 6.5px,#0c48ff 8.5px,#009cff 11.5px,#00b4ff 13.5px,#00afff 14.5px,#0370ff 17.5px,#0c49ff 19.5px,#0c48ff 21.5px,#0084ff 25.5px,#00abff 28.5px,#00a9ff 30.5px,#046fff 34.5px,#0d43ff 37.5px,#122cff 41.5px,#122eff 47.5px,#0569ff 57.5px,#046fff 84.5px,#009fff 90.5px,#009eff 143.5px,#0097ff 150.5px,#00e0fb 160.5px,#00fee9 166.5px,#00ff5d 179.5px,#00ff2b 188.5px,#00ff3a 193.5px,#00ff4b 198.5px,#00ff33 200.5px,#01ff0a 202.5px,#33ff00 207.5px,#50fd00 209.5px,#59fc00 215.5px,#5cfc00 228.5px,#89f900 238.5px,#79fa00 247.5px,#a5f700 258.5px,#81f900 269.5px,#5afc00 277.5px,#5cfc00 326.5px,#74fa00 338.5px,#74fa00 339.5px)"></i><i style="background:linear-gradient(90deg,#1421ff 0.5px,#1328ff 4.5px,#0e40ff 6.5px,#00a3ff 10.5px,#00b7ff 12.5px,#00a0ff 14.5px,#0d43ff 18.5px,#1034ff 20.5px,#0d45ff 23.5px,#008bff 28.5px,#0089ff 30.5px,#0d43ff 35.5px,#122cff 39.5px,#122cff 46.5px,#0567ff 56.5px,#046fff 84.5px,#009fff 90.5px,#009fff 142.5px,#0091ff 150.5px,#00dffb 160.5px,#00fee9 166.5px,#00ff5c 179.5px,#00ff1a 188.5px,#00ff20 191.5px,#00ff49 197.5px,#00ff42 199.5px,#01ff0a 202.5px,#33ff00 207.5px,#50fd00 209.5px,#59fc00 215.5px,#5ffc00 229.5px,#82f900 238.5px,#83f900 248.5px,#a5f700 257.5px,#59fc00 278.5px,#5efc00 326.5px,#7ef900 337.5px,#7ef900 339.5px)"></i><i style="background:linear-gradient(90deg,#122bff 0.5px,#0e3fff 4.5px,#0762ff 6.5px,#00a9ff 9.5px,#00b7ff 10.5px,#00baff 11.5px,#00a1ff 13.5px,#0d42ff 17.5px,#122cff 20.5px,#0f3cff 24.5px,#0666ff 28.5px,#0664ff 30.5px,#1033ff 35.5px,#1327ff 42.5px,#122dff 46.5px,#0665ff 55.5px,#046fff 84.5px,#00a0ff 90.5px,#009eff 142.5px,#008bff 150.5px,#00cfff 158.5px,#00fee9 166.5px,#00ff51 180.5px,#01ff0a 188.5px,#00ff10 191.5px,#00ff45 197.5px,#00ff41 199.5px,#01ff0a 202.5px,#33ff00 207.5px,#50fd00 209.5px,#59fc00 215.5px,#5dfc00 229.5px,#81f900 242.5px,#a0f700 254.5px,#a3f700 258.5px,#61fc00 274.5px,#59fc00 284.5px,#5cfc00 325.5px,#88f900 336.5px,#89f900 339.5px)"></i><i style="background:linear-gradient(90deg,#0f3aff 0.5px,#0a51ff 3.5px,#0086ff 6.5px,#00bbff 9.5px,#00bdff 10.5px,#00a2ff 12.5px,#0d42ff 16.5px,#122aff 19.5px,#1034ff 25.5px,#0c49ff 29.5px,#1329ff 36.5px,#122aff 45.5px,#0760ff 53.5px,#056aff 63.5px,#046fff 84.5px,#00a0ff 90.5px,#009fff 141.5px,#0085ff 150.5px,#00c4ff 157.5px,#00eaf4 162.5px,#00fee9 166.5px,#00ff0a 186.5px,#07ff09 190.5px,#00ff0b 192.5px,#00ff42 197.5px,#00ff40 199.5px,#01ff0a 202.5px,#33ff00 207.5px,#50fd00 209.5px,#59fc00 215.5px,#5efc00 230.5px,#a6f700 256.5px,#8bf900 262.5px,#67fb00 270.5px,#59fc00 280.5px,#5cfc00 325.5px,#92f800 336.5px,#93f800 339.5px)"></i><i style="background:linear-gradient(90deg,#0a53ff 0.5px,#0275ff 3.5px,#00bdff 8.5px,#00bfff 9.5px,#00a3ff 11.5px,#0d42ff 15.5px,#122aff 18.5px,#122cff 25.5px,#1034ff 30.5px,#1327ff 38.5px,#122aff 45.5px,#0761ff 52.5px,#056aff 64.5px,#046fff 84.5px,#00a0ff 90.5px,#009fff 141.5px,#007fff 149.5px,#008dff 152.5px,#00defb 160.5px,#00fee9 166.5px,#00ff33 182.5px,#00ff0b 185.5px,#0fff07 189.5px,#00ff0d 193.5px,#00ff3e 197.5px,#00ff3f 199.5px,#01ff0a 202.5px,#33ff00 207.5px,#50fd00 209.5px,#59fc00 215.5px,#60fc00 233.5px,#74fa00 240.5px,#9ef700 249.5px,#a5f700 257.5px,#65fb00 268.5px,#59fc00 283.5px,#5dfc00 325.5px,#99f800 335.5px,#9cf700 339.5px)"></i><i style="background:linear-gradient(90deg,#0277ff 0.5px,#00c0ff 7.5px,#00b6ff 9.5px,#0370ff 12.5px,#0d43ff 14.5px,#122aff 17.5px,#122bff 45.5px,#0760ff 51.5px,#056aff 61.5px,#046fff 84.5px,#00a0ff 90.5px,#009eff 141.5px,#017aff 149.5px,#008aff 152.5px,#00defb 160.5px,#00fee9 166.5px,#00ff3e 181.5px,#03ff09 185.5px,#14ff06 189.5px,#02ff0a 193.5px,#00ff3c 197.5px,#00ff3f 199.5px,#01ff0a 202.5px,#33ff00 207.5px,#50fd00 209.5px,#59fc00 215.5px,#61fc00 237.5px,#a2f700 248.5px,#a5f700 257.5px,#62fb00 267.5px,#59fc00 287.5px,#5dfc00 325.5px,#a0f700 335.5px,#a3f700 339.5px)"></i><i style="background:linear-gradient(90deg,#009bff 0.5px,#00c2ff 5.5px,#00c0ff 7.5px,#00a3ff 9.5px,#0d43ff 13.5px,#122aff 16.5px,#122bff 45.5px,#0663ff 51.5px,#056aff 72.5px,#046fff 84.5px,#00a0ff 90.5px,#009eff 141.5px,#0277ff 149.5px,#0088ff 152.5px,#00defb 160.5px,#00fee9 166.5px,#00ff4b 180.5px,#00ff0e 184.5px,#17ff05 189.5px,#00ff10 194.5px,#00ff3b 197.5px,#00ff3e 199.5px,#00ff1e 201.5px,#01ff0a 202.5px,#33ff00 207.5px,#50fd00 209.5px,#59fc00 215.5px,#5efc00 237.5px,#a5f700 248.5px,#a5f700 257.5px,#5ffc00 267.5px,#59fc00 303.5px,#5efc00 325.5px,#a4f700 335.5px,#a7f700 339.5px)"></i><i style="background:linear-gradient(90deg,#00bcff 0.5px,#00caff 4.5px,#00b2ff 7.5px,#0372ff 10.5px,#0d43ff 12.5px,#122aff 15.5px,#122bff 45.5px,#0664ff 51.5px,#056aff 81.5px,#0276ff 85.5px,#00a0ff 90.5px,#009eff 141.5px,#0276ff 149.5px,#0087ff 152.5px,#00defb 160.5px,#00fee9 166.5px,#00ff4a 180.5px,#00ff0c 184.5px,#18ff05 189.5px,#00ff0e 194.5px,#00ff3a 197.5px,#00ff3e 199.5px,#01ff0a 202.5px,#33ff00 207.5px,#50fd00 209.5px,#59fc00 215.5px,#5cfc00 237.5px,#a7f700 248.5px,#a5f700 257.5px,#5dfc00 267.5px,#5efc00 325.5px,#a5f700 335.5px,#a9f600 339.5px)"></i><i style="background:linear-gradient(90deg,#00d4ff 0.5px,#00d2ff 3.5px,#00b1ff 6.5px,#0275ff 9.5px,#0c47ff 11.5px,#112fff 13.5px,#1326ff 22.5px,#122bff 45.5px,#0664ff 51.5px,#056aff 75.5px,#046fff 84.5px,#00a0ff 90.5px,#009eff 141.5px,#0275ff 149.5px,#0086ff 152.5px,#00defb 160.5px,#00fee9 166.5px,#00ff4a 180.5px,#00ff0b 184.5px,#18ff05 189.5px,#00ff0e 194.5px,#00ff3a 197.5px,#00ff3e 199.5px,#01ff0a 202.5px,#33ff00 207.5px,#50fd00 209.5px,#59fc00 215.5px,#5cfc00 237.5px,#a7f700 248.5px,#a5f700 257.5px,#5cfc00 267.5px,#5efc00 325.5px,#a6f700 335.5px,#aaf600 339.5px)"></i><i style="background:linear-gradient(90deg,#007eff 0.5px,#0663ff 4.5px,#0569ff 7.5px,#00aeff 13.5px,#00a8ff 15.5px,#0082ff 17.5px,#0a52ff 19.5px,#0e40ff 21.5px,#0c46ff 27.5px,#0a52ff 28.5px,#00b7ff 32.5px,#00d5ff 34.5px,#00eaf4 39.5px,#00e0fa 49.5px,#00e4f8 55.5px,#00ffe1 59.5px,#00ffc5 61.5px,#00ffb8 69.5px,#00ffa2 71.5px,#00ff62 75.5px,#00ff58 80.5px,#00ff59 93.5px,#00ff7b 97.5px,#00ffa9 101.5px,#00ff9e 104.5px,#00ff5c 111.5px,#00ff51 120.5px,#00ff33 123.5px,#02ff0a 126.5px,#1eff04 132.5px,#25ff02 199.5px,#30ff00 201.5px,#aef600 209.5px,#f0ea00 217.5px,#fae800 223.5px,#fbe200 239.5px,#fec400 249.5px,#fec700 277.5px,#fae800 288.5px,#f5e900 296.5px,#adf600 305.5px,#2fff00 313.5px,#20ff03 318.5px,#20ff03 339.5px)"></i><i style="background:linear-gradient(90deg,#056aff 0.5px,#0d43ff 4.5px,#0c48ff 7.5px,#046cff 10.5px,#009eff 13.5px,#00a1ff 15.5px,#007fff 17.5px,#0a4fff 19.5px,#0e3eff 21.5px,#0e3eff 26.5px,#0a51ff 28.5px,#00b7ff 32.5px,#00d5ff 34.5px,#00eaf4 39.5px,#00e0fa 49.5px,#00e5f7 55.5px,#00faeb 58.5px,#00ffc3 61.5px,#00ffb6 69.5px,#00ff8e 72.5px,#00ff60 75.5px,#00ff56 80.5px,#00ff55 93.5px,#00ff76 97.5px,#00ffa2 101.5px,#00ff97 104.5px,#00ff58 111.5px,#00ff4c 120.5px,#00ff30 123.5px,#03ff09 126.5px,#1eff04 132.5px,#25ff02 199.5px,#30ff00 201.5px,#aff600 209.5px,#f0ea00 217.5px,#fae800 223.5px,#fbe200 239.5px,#fec400 249.5px,#fec700 277.5px,#fae800 288.5px,#f5e900 296.5px,#adf600 305.5px,#2fff00 313.5px,#20ff03 318.5px,#20ff03 339.5px)"></i><i style="background:linear-gradient(90deg,#0b4eff 0.5px,#151fff 3.5px,#1715ff 6.5px,#122bff 9.5px,#0370ff 12.5px,#0096ff 14.5px,#0099ff 15.5px,#0080ff 17.5px,#0955ff 19.5px,#0d43ff 22.5px,#0b4bff 27.5px,#046eff 29.5px,#00b9ff 32.5px,#00ddfc 35.5px,#00e9f5 40.5px,#00e2f9 49.5px,#00edf2 56.5px,#00fde9 58.5px,#00ffbc 61.5px,#00ffae 69.5px,#00ff87 72.5px,#00ff5c 75.5px,#00ff50 81.5px,#00ff51 94.5px,#00ff93 101.5px,#00ff88 104.5px,#00ff4e 111.5px,#00ff3e 121.5px,#04ff09 126.5px,#1dff04 132.5px,#23ff03 198.5px,#32ff00 201.5px,#b0f600 209.5px,#f5e900 218.5px,#fbe200 239.5px,#fec400 249.5px,#fec800 277.5px,#f9e800 288.5px,#f5e900 296.5px,#baf500 304.5px,#50fd00 311.5px,#30ff00 313.5px,#21ff03 318.5px,#21ff03 339.5px)"></i><i style="background:linear-gradient(90deg,#112fff 0.5px,#1e0eff 2.5px,#2c09ff 6.5px,#1c0fff 10.5px,#1424ff 11.5px,#046cff 13.5px,#0087ff 14.5px,#0093ff 15.5px,#0087ff 17.5px,#075eff 20.5px,#085aff 25.5px,#0761ff 27.5px,#0080ff 29.5px,#00cdff 33.5px,#00e9f5 38.5px,#00e9f5 52.5px,#00f5ee 56.5px,#00ffdc 58.5px,#00ffb7 60.5px,#00ffa5 63.5px,#00ff9c 69.5px,#00ff79 72.5px,#00ff52 75.5px,#00ff46 81.5px,#00ff43 94.5px,#00ff7a 101.5px,#00ff6a 105.5px,#00ff3f 111.5px,#00ff32 121.5px,#01ff0a 125.5px,#1bff04 132.5px,#25ff02 198.5px,#36ff00 201.5px,#b3f600 209.5px,#f6e900 218.5px,#fbe200 239.5px,#fec500 249.5px,#fec900 277.5px,#f8e900 288.5px,#f5e900 296.5px,#b1f600 305.5px,#34ff00 313.5px,#24ff03 317.5px,#23ff03 339.5px)"></i><i style="background:linear-gradient(90deg,#1713ff 0.5px,#3d04ff 4.5px,#3905ff 9.5px,#230cff 11.5px,#1423ff 12.5px,#0179ff 14.5px,#008fff 15.5px,#0097ff 16.5px,#017aff 21.5px,#0084ff 27.5px,#00a9ff 30.5px,#00d3ff 33.5px,#00ebf4 39.5px,#00f1f0 49.5px,#00fde9 55.5px,#00ffce 57.5px,#00ff99 60.5px,#00ff88 63.5px,#00ff7d 69.5px,#00ff55 73.5px,#00ff3d 76.5px,#00ff2c 93.5px,#00ff40 97.5px,#00ff5a 101.5px,#00ff4d 105.5px,#00ff2a 112.5px,#00ff23 121.5px,#03ff09 125.5px,#1aff05 133.5px,#26ff02 197.5px,#31ff00 200.5px,#b8f500 209.5px,#f6e900 218.5px,#fbe200 239.5px,#fec600 250.5px,#fec900 276.5px,#f4e900 287.5px,#f5e900 296.5px,#b7f600 305.5px,#30ff00 314.5px,#27ff02 323.5px,#27ff02 339.5px)"></i><i style="background:linear-gradient(90deg,#1f0eff 0.5px,#4b00ff 4.5px,#4d00ff 8.5px,#2f08ff 11.5px,#1a0fff 12.5px,#0371ff 14.5px,#0090ff 15.5px,#00a2ff 17.5px,#0098ff 23.5px,#00afff 28.5px,#00dafe 33.5px,#00ffe2 49.5px,#00ffb5 55.5px,#00ff6f 60.5px,#00ff5e 64.5px,#00ff51 70.5px,#00ff27 76.5px,#00ff15 93.5px,#00ff39 102.5px,#00ff19 113.5px,#00ff17 121.5px,#09ff08 126.5px,#1aff05 135.5px,#25ff02 193.5px,#34ff00 199.5px,#c1f400 209.5px,#fae800 219.5px,#fbe400 232.5px,#fbe000 240.5px,#fec600 253.5px,#fec900 274.5px,#f7e900 284.5px,#efea00 289.5px,#f5e900 296.5px,#bff500 305.5px,#34ff00 315.5px,#2dff01 325.5px,#2dff01 339.5px)"></i><i style="background:linear-gradient(90deg,#210dff 0.5px,#4f00ff 4.5px,#5100ff 8.5px,#4202ff 10.5px,#1d0eff 12.5px,#0372ff 14.5px,#0094ff 15.5px,#00a8ff 16.5px,#00b3ff 18.5px,#00b6ff 24.5px,#00e1fa 30.5px,#00eaf4 38.5px,#00fcea 42.5px,#00ff53 58.5px,#00ff37 62.5px,#00ff1f 72.5px,#00ff0c 79.5px,#00ff0c 96.5px,#00ff22 102.5px,#00ff12 114.5px,#00ff13 121.5px,#0cff07 127.5px,#1aff05 136.5px,#25ff02 191.5px,#34ff00 197.5px,#5ffc00 201.5px,#c1f400 208.5px,#f8e800 218.5px,#fbdf00 230.5px,#fbe400 239.5px,#fec600 255.5px,#fec900 271.5px,#fcdb00 279.5px,#f5e900 283.5px,#e6ec00 287.5px,#f5e900 296.5px,#c0f500 306.5px,#46fd00 315.5px,#3cfe00 320.5px,#3cfe00 339.5px)"></i><i style="background:linear-gradient(90deg,#1c0fff 0.5px,#4601ff 4.5px,#4202ff 9.5px,#2a0aff 11.5px,#1715ff 12.5px,#017dff 14.5px,#009dff 15.5px,#00beff 17.5px,#00cdff 24.5px,#00fbea 29.5px,#00f2ef 32.5px,#00e4f8 35.5px,#00f6ed 40.5px,#00ffe8 41.5px,#00ffac 43.5px,#00ff8b 45.5px,#00ff39 55.5px,#00ff13 61.5px,#05ff09 78.5px,#00ff0b 97.5px,#00ff21 103.5px,#00ff16 114.5px,#00ff18 121.5px,#08ff08 126.5px,#1aff05 134.5px,#24ff03 190.5px,#35ff00 195.5px,#65fb00 200.5px,#c2f400 207.5px,#e9ec00 214.5px,#fae500 220.5px,#fcdb00 230.5px,#fae400 239.5px,#fec300 260.5px,#fdd200 275.5px,#f9e800 281.5px,#deee00 286.5px,#f4e900 297.5px,#caf300 306.5px,#5bfc00 315.5px,#51fd00 320.5px,#51fd00 339.5px)"></i><i style="background:linear-gradient(90deg,#151eff 0.5px,#1c0fff 1.5px,#3606ff 4.5px,#2f08ff 9.5px,#1910ff 11.5px,#008dff 14.5px,#00bcff 16.5px,#00ceff 18.5px,#00ddfc 24.5px,#00f4ef 26.5px,#00ffdd 27.5px,#00ffbb 28.5px,#00ffa9 29.5px,#00ffad 30.5px,#00ffc3 31.5px,#00ffe5 32.5px,#00e6f7 35.5px,#00f1f0 39.5px,#00faeb 40.5px,#00ffcf 41.5px,#00ff79 43.5px,#00ff5f 44.5px,#00ff40 47.5px,#00ff0a 56.5px,#09ff08 72.5px,#00ff0d 95.5px,#00ff33 102.5px,#00ff25 114.5px,#00ff26 121.5px,#02ff09 125.5px,#1bff04 132.5px,#25ff02 190.5px,#39fe00 194.5px,#92f800 202.5px,#cdf200 207.5px,#eaec00 213.5px,#fbe400 220.5px,#fcd600 229.5px,#fae500 239.5px,#fec300 260.5px,#fdcf00 272.5px,#f7e900 280.5px,#d5f000 286.5px,#f5e900 297.5px,#d3f000 306.5px,#9df700 311.5px,#70fb00 315.5px,#67fb00 321.5px,#67fb00 339.5px)"></i><i style="background:linear-gradient(90deg,#0f3cff 0.5px,#1715ff 2.5px,#200dff 6.5px,#1a0fff 8.5px,#1329ff 10.5px,#0663ff 12.5px,#00a0ff 14.5px,#00c5ff 16.5px,#00d7ff 19.5px,#00e4f8 24.5px,#00ffe5 26.5px,#00ff8c 28.5px,#00ff79 29.5px,#00ff80 30.5px,#00ff9f 31.5px,#00ffcb 32.5px,#00faeb 33.5px,#00e8f6 35.5px,#00f2ef 39.5px,#00fde9 40.5px,#00ffc0 41.5px,#00ff5b 43.5px,#00ff3d 44.5px,#00ff25 46.5px,#03ff09 52.5px,#0eff07 68.5px,#00ff0c 83.5px,#00ff1e 94.5px,#00ff55 102.5px,#00ff3a 113.5px,#00ff3b 120.5px,#00ff17 124.5px,#05ff09 126.5px,#1cff04 132.5px,#23ff03 189.5px,#38fe00 193.5px,#c6f300 205.5px,#e7ec00 210.5px,#fbe000 221.5px,#fdd200 229.5px,#fae600 239.5px,#fdce00 253.5px,#fec300 264.5px,#fbde00 276.5px,#efea00 280.5px,#ccf200 286.5px,#f6e900 296.5px,#e2ed00 305.5px,#aef600 311.5px,#84f900 315.5px,#7cfa00 323.5px,#7cfa00 339.5px)"></i><i style="background:linear-gradient(90deg,#085cff 0.5px,#1036ff 3.5px,#1033ff 5.5px,#085bff 9.5px,#00c2ff 15.5px,#00d7ff 18.5px,#00dffb 23.5px,#00f2f0 25.5px,#00ffdd 26.5px,#00ff80 28.5px,#00ff6d 29.5px,#00ff75 30.5px,#00ff95 31.5px,#00fbea 33.5px,#00e6f7 36.5px,#00f2ef 39.5px,#00fde9 40.5px,#00ffc0 41.5px,#00ff5c 43.5px,#00ff3f 44.5px,#00ff29 46.5px,#02ff0a 52.5px,#0fff07 62.5px,#0bff08 71.5px,#00ff0e 74.5px,#00ff1e 78.5px,#00ff33 93.5px,#00ff5b 98.5px,#00ff78 102.5px,#00ff50 113.5px,#00ff4a 120.5px,#00ff2d 123.5px,#00ff0f 125.5px,#1eff04 132.5px,#23ff03 189.5px,#32ff00 192.5px,#c0f500 203.5px,#eceb00 209.5px,#fbdf00 221.5px,#fdce00 229.5px,#fae600 239.5px,#fcd800 250.5px,#fec300 260.5px,#fdcb00 269.5px,#f7e900 278.5px,#c8f300 285.5px,#d0f100 289.5px,#f6e900 296.5px,#e2ed00 306.5px,#a6f700 313.5px,#8ff800 317.5px,#91f800 339.5px)"></i><i style="background:linear-gradient(90deg,#0278ff 0.5px,#0761ff 3.5px,#0567ff 5.5px,#00bdff 13.5px,#00d4ff 17.5px,#00dbfd 23.5px,#00fcea 26.5px,#00ff9b 28.5px,#00ff87 29.5px,#00ff8d 30.5px,#00ffa9 31.5px,#00ffd2 32.5px,#00f8ec 33.5px,#00e6f7 36.5px,#00faeb 40.5px,#00ffcf 41.5px,#00ff7c 43.5px,#00ff63 44.5px,#00ff29 51.5px,#01ff0a 54.5px,#0eff07 67.5px,#01ff0a 72.5px,#00ff35 76.5px,#00ff44 91.5px,#00ff56 95.5px,#00ff91 101.5px,#00ff8f 104.5px,#00ff63 112.5px,#00ff52 120.5px,#00ff31 123.5px,#00ff10 125.5px,#1dff04 131.5px,#20ff03 152.5px,#24ff03 189.5px,#37ff00 192.5px,#aaf600 200.5px,#eeeb00 208.5px,#fbe100 220.5px,#feca00 228.5px,#fae400 240.5px,#fcd900 250.5px,#fec300 260.5px,#fdcc00 269.5px,#f3ea00 278.5px,#c3f400 286.5px,#e1ed00 292.5px,#f6e900 297.5px,#e0ee00 306.5px,#a0f700 316.5px,#a4f700 339.5px)"></i><i style="background:linear-gradient(90deg,#008aff 0.5px,#0086ff 4.5px,#00ceff 10.5px,#00ceff 19.5px,#00d6ff 24.5px,#00faeb 27.5px,#00ffc2 29.5px,#00ffc2 30.5px,#00fcea 32.5px,#00e6f7 35.5px,#00eff1 39.5px,#00ffe8 41.5px,#00ffaf 43.5px,#00ff95 45.5px,#00ff77 49.5px,#00ff16 56.5px,#01ff0a 59.5px,#04ff09 70.5px,#00ff0d 71.5px,#00ff4b 75.5px,#00ff51 79.5px,#00ff4d 87.5px,#00ff63 94.5px,#00ffa3 101.5px,#00ff9f 104.5px,#00ff6a 113.5px,#00ff51 120.5px,#00ff2d 123.5px,#00ff0b 125.5px,#20ff03 132.5px,#24ff03 146.5px,#24ff03 189.5px,#39fe00 192.5px,#b2f600 200.5px,#f1ea00 208.5px,#fbe100 220.5px,#fec800 228.5px,#fbe200 241.5px,#fcd800 250.5px,#fec300 260.5px,#fdcc00 269.5px,#f7e900 277.5px,#c6f300 285.5px,#d0f100 289.5px,#f4e900 296.5px,#cdf200 308.5px,#a8f700 316.5px,#b4f600 333.5px,#b4f600 339.5px)"></i><i style="background:linear-gradient(90deg,#0096ff 0.5px,#0096ff 3.5px,#00a9ff 5.5px,#00e0fa 8.5px,#00f0f1 10.5px,#00c8ff 17.5px,#00bdff 22.5px,#00caff 25.5px,#00f1f0 29.5px,#00eef2 32.5px,#00e4f8 36.5px,#00ffe4 43.5px,#00ffbd 49.5px,#00ff8f 52.5px,#00ff48 56.5px,#00ff2a 61.5px,#00ff1c 69.5px,#00ff2c 71.5px,#00ff69 75.5px,#00ff6b 79.5px,#00ff5d 86.5px,#00ff7e 95.5px,#00ffae 101.5px,#00ffa1 105.5px,#00ff65 114.5px,#00ff3d 121.5px,#03ff09 125.5px,#22ff03 133.5px,#2bff01 143.5px,#20ff03 157.5px,#24ff02 189.5px,#3afe00 192.5px,#b6f600 200.5px,#f3e900 208.5px,#fbe100 220.5px,#fec700 228.5px,#fbde00 240.5px,#fcd600 250.5px,#fec300 260.5px,#fdcc00 269.5px,#f7e900 277.5px,#caf200 286.5px,#f3e900 296.5px,#b9f500 310.5px,#acf600 316.5px,#c2f400 327.5px,#c2f400 339.5px)"></i><i style="background:linear-gradient(90deg,#009dff 0.5px,#00a2ff 3.5px,#00bbff 5.5px,#00e7f6 7.5px,#00f9eb 8.5px,#00ffd8 9.5px,#00ffd1 10.5px,#00f8ec 12.5px,#00d2ff 15.5px,#00abff 19.5px,#00a9ff 24.5px,#00c8ff 28.5px,#00dffb 31.5px,#00f8ec 50.5px,#00fde9 51.5px,#00ffc5 53.5px,#00ff88 56.5px,#00ff62 60.5px,#00ff50 67.5px,#00ff4b 70.5px,#00ff8b 75.5px,#00ff88 79.5px,#00ff73 85.5px,#00ff93 95.5px,#00ffb2 101.5px,#00ff9f 105.5px,#00ff53 115.5px,#00ff2b 121.5px,#02ff0a 124.5px,#28ff02 135.5px,#32ff00 142.5px,#20ff03 154.5px,#24ff02 189.5px,#2eff00 191.5px,#b7f600 200.5px,#f4e900 208.5px,#fbe000 220.5px,#fec700 229.5px,#fcd900 241.5px,#fdcf00 252.5px,#fec300 264.5px,#fcdb00 273.5px,#eeeb00 279.5px,#d2f100 286.5px,#f3ea00 295.5px,#e0ee00 299.5px,#abf600 306.5px,#aef600 316.5px,#ccf200 326.5px,#ccf200 339.5px)"></i><i style="background:linear-gradient(90deg,#00a0ff 0.5px,#00a9ff 3.5px,#00c5ff 5.5px,#00f3ef 7.5px,#00ffd3 8.5px,#00ffb4 9.5px,#00ffb0 10.5px,#00ffc4 11.5px,#00ffe8 12.5px,#00cbff 15.5px,#009aff 18.5px,#0089ff 21.5px,#0092ff 26.5px,#00d6ff 32.5px,#00eaf4 40.5px,#00defb 50.5px,#00ffe5 55.5px,#00ffb0 58.5px,#00ff99 61.5px,#00ff8e 66.5px,#00ff7e 70.5px,#00ffb0 75.5px,#00ffaa 79.5px,#00ff90 85.5px,#00ffad 101.5px,#00ff7f 107.5px,#00ff37 116.5px,#03ff09 123.5px,#36ff00 138.5px,#41fe00 141.5px,#22ff03 150.5px,#24ff02 189.5px,#2eff00 191.5px,#b7f600 200.5px,#f4e900 208.5px,#fbe000 220.5px,#fec600 229.5px,#fcd500 244.5px,#fec300 263.5px,#fdd000 270.5px,#f4e900 278.5px,#dbef00 286.5px,#f3ea00 295.5px,#e2ed00 298.5px,#93f800 305.5px,#8ff800 308.5px,#d6f000 326.5px,#d6f000 339.5px)"></i><i style="background:linear-gradient(90deg,#00a2ff 0.5px,#00abff 3.5px,#00c7ff 5.5px,#00defc 6.5px,#00f4ee 7.5px,#00ffd2 8.5px,#00ffb3 9.5px,#00ffb0 10.5px,#00ffc4 11.5px,#00fee8 12.5px,#00d9ff 14.5px,#0082ff 18.5px,#0568ff 20.5px,#0567ff 25.5px,#0277ff 27.5px,#00ccff 32.5px,#00e6f7 37.5px,#00e4f8 41.5px,#00c4ff 50.5px,#00dbfd 54.5px,#00fde9 58.5px,#00ffd2 61.5px,#00ffc7 66.5px,#00ffb4 70.5px,#00ffd6 75.5px,#00ffc7 80.5px,#00ffab 86.5px,#00ff9c 100.5px,#00ff6c 106.5px,#00ff21 115.5px,#02ff0a 120.5px,#2eff00 136.5px,#4dfd00 140.5px,#45fd00 143.5px,#28ff02 148.5px,#20ff03 158.5px,#24ff02 189.5px,#2eff00 191.5px,#b7f500 200.5px,#f4e900 208.5px,#fbe000 220.5px,#fec600 229.5px,#fdcf00 247.5px,#fec300 264.5px,#fcdb00 273.5px,#eeeb00 281.5px,#e6ec00 288.5px,#f3e900 295.5px,#dcee00 298.5px,#a1f700 302.5px,#76fa00 305.5px,#76fa00 308.5px,#ccf200 321.5px,#e0ee00 327.5px,#e0ee00 339.5px)"></i><i style="background:linear-gradient(90deg,#00a3ff 0.5px,#00abff 3.5px,#00c3ff 5.5px,#00d7ff 6.5px,#00fde9 8.5px,#00ffd0 9.5px,#00ffca 10.5px,#00f8ec 12.5px,#00d2ff 14.5px,#0568ff 18.5px,#0c48ff 20.5px,#0d44ff 25.5px,#0955ff 27.5px,#00b3ff 31.5px,#00dafe 34.5px,#00eaf5 39.5px,#00ccff 43.5px,#00abff 49.5px,#00adff 52.5px,#00caff 55.5px,#00f1f1 59.5px,#00ffe6 71.5px,#00ffe6 79.5px,#00ffb4 86.5px,#00ff73 101.5px,#00ff10 113.5px,#24ff02 133.5px,#32ff00 136.5px,#5bfc00 140.5px,#51fd00 143.5px,#2aff01 148.5px,#20ff03 155.5px,#25ff02 189.5px,#2fff00 191.5px,#b7f500 200.5px,#f4e900 208.5px,#fbe000 220.5px,#fec400 229.5px,#fec900 249.5px,#fec600 267.5px,#f7e900 279.5px,#eeeb00 288.5px,#f4e900 295.5px,#d7ef00 298.5px,#8ff800 302.5px,#5dfc00 305.5px,#5afc00 307.5px,#c1f400 318.5px,#e8ec00 326.5px,#e9ec00 339.5px)"></i><i style="background:linear-gradient(90deg,#00a3ff 0.5px,#00b0ff 4.5px,#00ddfc 7.5px,#00f7ed 9.5px,#00f7ed 11.5px,#00dffb 13.5px,#0096ff 16.5px,#0958ff 18.5px,#1036ff 20.5px,#1131ff 25.5px,#0d42ff 27.5px,#0277ff 29.5px,#00c1ff 32.5px,#00d9ff 34.5px,#00e9f5 39.5px,#00dbfd 41.5px,#00a3ff 45.5px,#0090ff 51.5px,#00a3ff 54.5px,#00dffb 58.5px,#00ecf3 63.5px,#00fee9 79.5px,#00ff9d 87.5px,#00ff31 104.5px,#02ff0a 110.5px,#25ff02 133.5px,#39fe00 136.5px,#66fb00 140.5px,#5bfc00 143.5px,#2fff00 147.5px,#20ff03 153.5px,#24ff02 188.5px,#31ff00 191.5px,#b7f500 200.5px,#f4e900 208.5px,#fbe000 220.5px,#fec300 229.5px,#fec400 267.5px,#fae600 279.5px,#f5e900 295.5px,#d4f000 298.5px,#84f900 302.5px,#4efd00 305.5px,#4dfd00 307.5px,#bef500 317.5px,#f0ea00 326.5px,#f1ea00 339.5px)"></i><i style="background:linear-gradient(90deg,#00a2ff 0.5px,#00abff 4.5px,#00e4f8 9.5px,#00eaf5 11.5px,#00d9fe 13.5px,#0095ff 16.5px,#0958ff 18.5px,#1036ff 20.5px,#1130ff 25.5px,#0d42ff 27.5px,#0277ff 29.5px,#00c1ff 32.5px,#00d9ff 34.5px,#00e8f5 39.5px,#00d6ff 41.5px,#0098ff 44.5px,#0085ff 46.5px,#017aff 51.5px,#008fff 54.5px,#00d9fe 58.5px,#00e8f6 62.5px,#00fee9 77.5px,#00ffb0 82.5px,#00ff7d 86.5px,#00ff3a 96.5px,#02ff0a 106.5px,#19ff05 125.5px,#27ff02 133.5px,#31ff00 135.5px,#64fb00 139.5px,#6cfb00 141.5px,#48fd00 145.5px,#2bff01 148.5px,#20ff03 154.5px,#26ff02 187.5px,#2fff00 190.5px,#b7f500 200.5px,#f4e900 208.5px,#fbe000 220.5px,#ffc000 229.5px,#fec400 268.5px,#fbe000 279.5px,#f6e900 295.5px,#d4f000 298.5px,#5bfc00 304.5px,#49fd00 306.5px,#63fb00 309.5px,#bbf500 316.5px,#f2ea00 325.5px,#f6e900 339.5px)"></i><i style="background:linear-gradient(90deg,#00a1ff 0.5px,#00aaff 5.5px,#00dafe 10.5px,#00dcfd 12.5px,#00c6ff 14.5px,#0567ff 18.5px,#0c48ff 20.5px,#0d44ff 25.5px,#0a53ff 27.5px,#00b2ff 31.5px,#00d9fe 34.5px,#00e8f6 39.5px,#00d3ff 41.5px,#008eff 44.5px,#0278ff 46.5px,#0374ff 52.5px,#0089ff 54.5px,#00cbff 57.5px,#00e3f9 59.5px,#00ffe4 73.5px,#00ffb7 78.5px,#00ff58 85.5px,#00ff21 93.5px,#03ff09 103.5px,#19ff05 121.5px,#24ff03 132.5px,#33ff00 135.5px,#69fb00 140.5px,#5bfc00 143.5px,#2aff01 148.5px,#20ff03 155.5px,#25ff02 183.5px,#31ff00 189.5px,#c1f400 201.5px,#f4e900 208.5px,#fbe300 219.5px,#ffbc00 229.5px,#ffc000 268.5px,#fcd800 279.5px,#f8e800 295.5px,#c8f300 299.5px,#69fb00 304.5px,#59fc00 306.5px,#71fa00 309.5px,#c3f400 316.5px,#f5e900 325.5px,#f9e800 339.5px)"></i><i style="background:linear-gradient(90deg,#009eff 0.5px,#00a1ff 5.5px,#00d2ff 11.5px,#00d0ff 13.5px,#00a6ff 16.5px,#0371ff 19.5px,#0663ff 22.5px,#0568ff 26.5px,#0093ff 29.5px,#00c9ff 32.5px,#00dffb 35.5px,#00e8f5 39.5px,#00d5ff 41.5px,#0094ff 44.5px,#0082ff 46.5px,#0082ff 52.5px,#0095ff 54.5px,#00e3f9 58.5px,#00fcea 63.5px,#00ffc9 69.5px,#00ff89 77.5px,#00ff2b 85.5px,#00ff0a 91.5px,#0cff07 107.5px,#1cff04 123.5px,#24ff02 132.5px,#30ff00 135.5px,#5ffc00 140.5px,#52fd00 143.5px,#2dff01 147.5px,#20ff03 154.5px,#24ff02 181.5px,#3afe00 188.5px,#c9f300 202.5px,#f7e900 209.5px,#fbe200 219.5px,#ffb700 229.5px,#ffba00 268.5px,#fdcf00 280.5px,#fcd900 290.5px,#fae800 295.5px,#c2f400 300.5px,#80f900 304.5px,#72fa00 306.5px,#93f800 310.5px,#c5f300 315.5px,#f7e900 325.5px,#fae800 339.5px)"></i><i style="background:linear-gradient(90deg,#0099ff 0.5px,#0098ff 6.5px,#00cbff 12.5px,#00c0ff 15.5px,#0090ff 19.5px,#0089ff 25.5px,#009aff 28.5px,#00cfff 32.5px,#00e9f5 38.5px,#00e5f7 40.5px,#00a2ff 45.5px,#009eff 51.5px,#00b2ff 54.5px,#00d6ff 56.5px,#00fee8 59.5px,#00ffb6 63.5px,#00ff45 78.5px,#01ff0a 85.5px,#0aff08 96.5px,#04ff09 104.5px,#1bff04 116.5px,#24ff02 132.5px,#3dfe00 137.5px,#50fd00 140.5px,#45fe00 143.5px,#27ff02 148.5px,#20ff03 162.5px,#26ff02 181.5px,#3cfe00 186.5px,#e8ec00 206.5px,#fae800 211.5px,#fbe200 219.5px,#ffb200 229.5px,#ffb600 269.5px,#fec600 281.5px,#fdd000 289.5px,#f5e900 296.5px,#a8f700 303.5px,#90f800 306.5px,#d9ef00 317.5px,#f9e800 326.5px,#fae800 339.5px)"></i><i style="background:linear-gradient(90deg,#008fff 0.5px,#0084ff 5.5px,#009eff 9.5px,#00c4ff 13.5px,#00bfff 16.5px,#00a7ff 20.5px,#00abff 27.5px,#00dafe 33.5px,#00e9f5 40.5px,#00c6ff 46.5px,#00ceff 52.5px,#00e8f6 55.5px,#00ffde 57.5px,#00ffa7 59.5px,#00ff7c 62.5px,#00ff45 70.5px,#02ff0a 81.5px,#11ff07 94.5px,#01ff0a 99.5px,#00ff1c 102.5px,#07ff09 107.5px,#1cff04 114.5px,#26ff02 133.5px,#3ffe00 141.5px,#23ff03 149.5px,#24ff02 180.5px,#37fe00 184.5px,#7dfa00 192.5px,#f4e900 208.5px,#fbe100 219.5px,#ffad00 229.5px,#ffaf00 269.5px,#ffbc00 283.5px,#fec900 289.5px,#f8e900 296.5px,#b2f600 305.5px,#b7f500 308.5px,#ebeb00 320.5px,#fae800 328.5px,#fae800 339.5px)"></i><i style="background:linear-gradient(90deg,#0081ff 0.5px,#0567ff 4.5px,#046fff 7.5px,#00c0ff 14.5px,#00c4ff 17.5px,#00beff 26.5px,#00e1fa 35.5px,#00f0f1 43.5px,#00fbea 52.5px,#00ffe5 53.5px,#00ffbf 55.5px,#00ff74 58.5px,#00ff49 61.5px,#00ff21 67.5px,#03ff09 75.5px,#15ff06 93.5px,#00ff0b 98.5px,#00ff36 101.5px,#00ff36 103.5px,#02ff0a 107.5px,#1cff04 113.5px,#26ff02 134.5px,#2dff01 143.5px,#20ff03 157.5px,#25ff02 180.5px,#35ff00 183.5px,#81f900 190.5px,#b1f600 199.5px,#f4e900 208.5px,#fbe000 219.5px,#ffa700 229.5px,#ffab00 271.5px,#ffb800 287.5px,#f5e900 297.5px,#ccf200 305.5px,#dbef00 312.5px,#fae800 326.5px,#fae800 339.5px)"></i><i style="background:linear-gradient(90deg,#0567ff 0.5px,#0e3fff 4.5px,#0d43ff 7.5px,#0568ff 10.5px,#00b5ff 14.5px,#00ccff 17.5px,#00d5ff 28.5px,#00eff2 39.5px,#00fbea 41.5px,#00ffb6 44.5px,#00ff7e 53.5px,#00ff25 60.5px,#02ff0a 65.5px,#18ff05 93.5px,#02ff0a 97.5px,#00ff53 101.5px,#00ff58 102.5px,#00ff37 105.5px,#03ff09 108.5px,#1bff04 113.5px,#26ff02 145.5px,#23ff03 179.5px,#30ff00 182.5px,#8af900 189.5px,#b3f600 199.5px,#f8e800 209.5px,#fbde00 219.5px,#ffa300 229.5px,#ffa700 275.5px,#ffac00 286.5px,#fae800 297.5px,#e1ed00 306.5px,#fae600 326.5px,#fae800 339.5px)"></i><i style="background:linear-gradient(90deg,#0c49ff 0.5px,#1617ff 3.5px,#1a0fff 6.5px,#1716ff 8.5px,#1033ff 10.5px,#00a5ff 14.5px,#00c6ff 16.5px,#00d6ff 20.5px,#00e2f9 33.5px,#00ebf4 38.5px,#00f9eb 40.5px,#00ffd4 41.5px,#00ff85 43.5px,#00ff6c 44.5px,#00ff54 47.5px,#00ff32 56.5px,#01ff0a 62.5px,#1aff05 87.5px,#16ff05 94.5px,#00ff0f 97.5px,#00ff58 100.5px,#00ff68 101.5px,#00ff66 103.5px,#00ff0d 108.5px,#19ff05 113.5px,#24ff03 153.5px,#23ff03 179.5px,#33ff00 182.5px,#8cf900 188.5px,#a4f700 192.5px,#b9f500 199.5px,#f8e800 209.5px,#fcdb00 219.5px,#ff9f00 229.5px,#ffa500 286.5px,#fbe300 297.5px,#f9e800 311.5px,#fae800 339.5px)"></i><i style="background:linear-gradient(90deg,#1329ff 0.5px,#1713ff 1.5px,#2e09ff 4.5px,#280bff 9.5px,#200dff 10.5px,#161bff 11.5px,#0094ff 14.5px,#00c2ff 16.5px,#00d6ff 18.5px,#00eaf4 27.5px,#00eef2 31.5px,#00e4f8 36.5px,#00fde9 40.5px,#00ffc2 41.5px,#00ff60 43.5px,#00ff43 44.5px,#00ff31 46.5px,#00ff3c 56.5px,#00ff0a 63.5px,#0fff07 73.5px,#1bff04 89.5px,#14ff06 94.5px,#05ff09 96.5px,#00ff16 97.5px,#00ff60 100.5px,#00ff70 101.5px,#00ff6e 103.5px,#02ff0a 109.5px,#14ff06 114.5px,#21ff03 137.5px,#26ff02 154.5px,#21ff03 178.5px,#35ff00 182.5px,#9ef700 189.5px,#cbf200 201.5px,#fae800 209.5px,#fcd500 219.5px,#ff9d00 229.5px,#ffa100 286.5px,#fcd900 296.5px,#fbdd00 320.5px,#fae800 339.5px)"></i><i style="background:linear-gradient(90deg,#1910ff 0.5px,#4003ff 4.5px,#3d04ff 9.5px,#260bff 11.5px,#151fff 12.5px,#0084ff 14.5px,#00bdff 16.5px,#00d6ff 18.5px,#00e9f5 25.5px,#00ffe8 28.5px,#00ffe0 29.5px,#00f4ef 32.5px,#00e4f8 35.5px,#00f2ef 39.5px,#00fde9 40.5px,#00ffc1 41.5px,#00ff5f 43.5px,#00ff43 44.5px,#00ff39 46.5px,#00ff72 55.5px,#00ff61 58.5px,#00ff0c 65.5px,#1aff05 84.5px,#10ff07 94.5px,#01ff0a 96.5px,#00ff62 100.5px,#00ff74 102.5px,#00ff63 104.5px,#02ff0a 110.5px,#20ff03 128.5px,#26ff02 144.5px,#2eff00 152.5px,#20ff03 166.5px,#23ff03 179.5px,#36ff00 182.5px,#96f800 188.5px,#b2f600 192.5px,#d7f000 202.5px,#fae700 209.5px,#fec900 220.5px,#ff9c00 229.5px,#ff9f00 286.5px,#fdd300 297.5px,#fcd800 327.5px,#fae800 339.5px)"></i><i style="background:linear-gradient(90deg,#200dff 0.5px,#4d00ff 4.5px,#4f00ff 8.5px,#3108ff 11.5px,#1b0fff 12.5px,#017aff 14.5px,#00a0ff 15.5px,#00ccff 17.5px,#00defc 20.5px,#00e7f6 24.5px,#00faeb 26.5px,#00ffb7 28.5px,#00ffab 29.5px,#00ffb1 30.5px,#00ffe8 32.5px,#00e6f7 35.5px,#00f1f0 39.5px,#00faeb 40.5px,#00ffd0 41.5px,#00ff7e 43.5px,#00ff69 44.5px,#00ff63 45.5px,#00ff7f 48.5px,#00ffb9 53.5px,#00ffc1 55.5px,#00ffb2 57.5px,#00ff2a 65.5px,#01ff0a 69.5px,#0dff07 77.5px,#16ff05 83.5px,#06ff09 94.5px,#00ff0a 95.5px,#00ff68 100.5px,#00ff76 102.5px,#00ff5c 105.5px,#00ff0f 111.5px,#1fff04 129.5px,#26ff02 143.5px,#40fe00 151.5px,#28ff02 157.5px,#20ff03 167.5px,#23ff03 179.5px,#36ff00 182.5px,#97f800 188.5px,#b2f600 191.5px,#fbe300 210.5px,#ffb300 223.5px,#ff9c00 229.5px,#ff9e00 286.5px,#fec900 297.5px,#fdce00 326.5px,#fae800 337.5px,#fae800 339.5px)"></i><i style="background:linear-gradient(90deg,#200dff 0.5px,#4f00ff 4.5px,#5100ff 8.5px,#3207ff 11.5px,#1c0fff 12.5px,#0279ff 14.5px,#009fff 15.5px,#00ccff 17.5px,#00defb 20.5px,#00eaf4 24.5px,#00f5ee 25.5px,#00ffdc 26.5px,#00ff8d 28.5px,#00ff7d 29.5px,#00ff85 30.5px,#00ffa4 31.5px,#00ffcf 32.5px,#00f9ec 33.5px,#00e7f6 35.5px,#00f6ee 40.5px,#00ffe8 41.5px,#00ffb1 43.5px,#00ffa4 44.5px,#00ffac 46.5px,#00fde9 50.5px,#00eff1 55.5px,#00ffe5 58.5px,#00ff5f 64.5px,#00ff2b 68.5px,#00ff1c 72.5px,#00ff15 75.5px,#08ff08 78.5px,#0bff08 84.5px,#00ff10 92.5px,#00ff2b 95.5px,#00ff73 100.5px,#00ff7d 102.5px,#00ff5c 106.5px,#00ff1a 112.5px,#04ff09 116.5px,#1eff04 128.5px,#24ff02 142.5px,#35ff00 146.5px,#53fd00 150.5px,#3cfe00 154.5px,#27ff02 158.5px,#20ff03 172.5px,#27ff02 180.5px,#36ff00 182.5px,#a4f700 189.5px,#c8f300 195.5px,#fae500 209.5px,#ff9c00 229.5px,#ffa000 287.5px,#ffc000 298.5px,#fec300 325.5px,#fae700 336.5px,#fae800 339.5px)"></i><i style="background:linear-gradient(90deg,#1b0fff 0.5px,#4302ff 4.5px,#4003ff 9.5px,#280bff 11.5px,#1619ff 12.5px,#0082ff 14.5px,#00bdff 16.5px,#00d7ff 18.5px,#00ebf4 24.5px,#00f7ed 25.5px,#00ffd1 26.5px,#00ff79 28.5px,#00ff68 29.5px,#00ff71 30.5px,#00ff92 31.5px,#00fcea 33.5px,#00e8f6 35.5px,#00f1f0 40.5px,#00ffe0 44.5px,#00f6ed 47.5px,#00d5ff 53.5px,#00dbfd 56.5px,#00ffe7 60.5px,#00ff75 65.5px,#00ff45 69.5px,#00ff38 75.5px,#00ff0b 80.5px,#00ff1b 85.5px,#00ff53 95.5px,#00ff82 100.5px,#00ff7f 103.5px,#00ff13 114.5px,#0eff07 120.5px,#1dff04 129.5px,#22ff03 141.5px,#34ff00 145.5px,#60fc00 149.5px,#64fb00 151.5px,#2dff01 157.5px,#20ff03 163.5px,#23ff03 179.5px,#36ff00 182.5px,#a5f700 189.5px,#c9f300 194.5px,#efea00 204.5px,#fbdf00 210.5px,#ffab00 222.5px,#ff9b00 231.5px,#ff9e00 287.5px,#ffb600 299.5px,#ffba00 325.5px,#fae700 336.5px,#fae800 339.5px)"></i><i style="background:linear-gradient(90deg,#1423ff 0.5px,#1a0fff 1.5px,#3207ff 4.5px,#2d09ff 9.5px,#1812ff 11.5px,#0091ff 14.5px,#00c2ff 16.5px,#00d8ff 18.5px,#00eaf4 24.5px,#00f6ee 25.5px,#00ffd7 26.5px,#00ff82 28.5px,#00ff72 29.5px,#00ff7a 30.5px,#00ff9b 31.5px,#00fbeb 33.5px,#00e8f6 35.5px,#00eef2 45.5px,#00c6ff 51.5px,#00c5ff 55.5px,#00e8f5 59.5px,#00fbea 61.5px,#00ff8d 66.5px,#00ff6b 69.5px,#00ff62 75.5px,#00ff3b 80.5px,#00ff89 100.5px,#00ff7c 103.5px,#00ff10 114.5px,#1bff04 126.5px,#22ff03 141.5px,#2fff00 144.5px,#71fa00 149.5px,#74fa00 151.5px,#2fff00 157.5px,#21ff03 164.5px,#23ff03 179.5px,#36ff00 182.5px,#a6f700 189.5px,#d4f000 195.5px,#f0ea00 202.5px,#fbe300 209.5px,#ffa900 220.5px,#ff9b00 234.5px,#ffa000 289.5px,#ffac00 302.5px,#ffb000 325.5px,#fae500 335.5px,#fae800 339.5px)"></i><i style="background:linear-gradient(90deg,#0d42ff 0.5px,#1910ff 3.5px,#1910ff 8.5px,#132aff 10.5px,#0666ff 12.5px,#00a3ff 14.5px,#00c9ff 16.5px,#00dcfd 19.5px,#00e7f6 24.5px,#00fde9 26.5px,#00ffa8 28.5px,#00ff99 29.5px,#00ffa0 30.5px,#00ffde 32.5px,#00f5ee 33.5px,#00e5f7 36.5px,#00e7f6 42.5px,#00d5ff 47.5px,#00b9ff 51.5px,#00bcff 55.5px,#00e1fa 59.5px,#00ffe4 63.5px,#00ffa8 67.5px,#00ff91 70.5px,#00ff92 75.5px,#00ff71 80.5px,#00ff8a 91.5px,#00ff80 100.5px,#00ff4d 106.5px,#00ff0c 113.5px,#1bff04 128.5px,#23ff03 141.5px,#35ff00 144.5px,#7ef900 149.5px,#83f900 151.5px,#2eff00 158.5px,#22ff03 165.5px,#23ff03 179.5px,#36ff00 182.5px,#a6f700 189.5px,#d9ef00 195.5px,#f3e900 201.5px,#fbe200 209.5px,#ffa500 219.5px,#ff9b00 237.5px,#ffa000 291.5px,#ffa900 325.5px,#fae500 335.5px,#fae800 339.5px)"></i><i style="background:linear-gradient(90deg,#0762ff 0.5px,#0e3dff 3.5px,#1037ff 6.5px,#0a51ff 9.5px,#00c3ff 15.5px,#00d8ff 18.5px,#00e1f9 24.5px,#00fbea 27.5px,#00ffd0 29.5px,#00ffd4 30.5px,#00f7ed 32.5px,#00e5f7 35.5px,#00e5f7 41.5px,#00b9ff 49.5px,#00aeff 53.5px,#00cbff 57.5px,#00fde9 64.5px,#00ffc0 69.5px,#00ffbf 75.5px,#00ffa2 80.5px,#00ff98 90.5px,#00ff5f 101.5px,#00ff0a 111.5px,#1aff05 127.5px,#23ff03 141.5px,#3afe00 144.5px,#88f900 149.5px,#8df800 151.5px,#42fe00 157.5px,#2aff01 160.5px,#21ff03 178.5px,#36ff00 182.5px,#a7f700 189.5px,#d4f000 194.5px,#f6e900 200.5px,#fbe100 209.5px,#ffa000 219.5px,#ffa000 323.5px,#ffb000 327.5px,#fae500 335.5px,#fae800 339.5px)"></i><i style="background:linear-gradient(90deg,#017cff 0.5px,#0662ff 4.5px,#046dff 7.5px,#00ccff 15.5px,#00d5ff 21.5px,#00e3f9 26.5px,#00f3ef 30.5px,#00e4f8 36.5px,#00e7f6 40.5px,#00bcff 46.5px,#00a2ff 52.5px,#00b3ff 55.5px,#00defb 59.5px,#00fee9 67.5px,#00ffe1 73.5px,#00ffd0 77.5px,#00ffae 83.5px,#00ff66 95.5px,#01ff0a 108.5px,#1aff05 126.5px,#24ff02 141.5px,#2fff00 143.5px,#8ef800 149.5px,#94f800 151.5px,#30ff00 160.5px,#20ff03 174.5px,#27ff02 180.5px,#36ff00 182.5px,#a7f700 189.5px,#ddee00 195.5px,#f8e800 200.5px,#fbe100 209.5px,#ff9e00 219.5px,#ffa100 325.5px,#fae500 335.5px,#fae800 339.5px)"></i><i style="background:linear-gradient(90deg,#008dff 0.5px,#0083ff 4.5px,#009bff 8.5px,#00c9ff 13.5px,#00cfff 17.5px,#00cfff 25.5px,#00e4f8 31.5px,#00e5f7 40.5px,#00aaff 45.5px,#0091ff 51.5px,#009dff 54.5px,#00d8ff 58.5px,#00f4ef 65.5px,#00ffe7 74.5px,#00ff3f 95.5px,#01ff0a 104.5px,#1aff05 124.5px,#25ff02 141.5px,#31ff00 143.5px,#91f800 149.5px,#98f800 151.5px,#33ff00 162.5px,#20ff03 173.5px,#27ff02 180.5px,#36ff00 182.5px,#b4f600 190.5px,#f2ea00 198.5px,#fae800 206.5px,#fcd400 211.5px,#ff9d00 219.5px,#ff9d00 324.5px,#fae500 335.5px,#fae800 339.5px)"></i><i style="background:linear-gradient(90deg,#0097ff 0.5px,#0096ff 4.5px,#00b9ff 8.5px,#00d3ff 11.5px,#00d0ff 15.5px,#00b9ff 21.5px,#00c1ff 27.5px,#00defb 33.5px,#00e8f5 39.5px,#00d7ff 41.5px,#009dff 44.5px,#0087ff 47.5px,#0080ff 52.5px,#0090ff 54.5px,#00dbfd 58.5px,#00f4ef 64.5px,#00ffe3 71.5px,#00ffbd 76.5px,#00ff71 83.5px,#00ff1a 95.5px,#02ff0a 99.5px,#1dff04 126.5px,#22ff03 140.5px,#32ff00 143.5px,#92f800 149.5px,#9bf700 151.5px,#2eff00 165.5px,#20ff03 173.5px,#27ff02 180.5px,#36ff00 182.5px,#b4f600 190.5px,#f7e900 199.5px,#fbe100 209.5px,#ff9d00 219.5px,#ffa000 325.5px,#fae500 335.5px,#fae800 339.5px)"></i><i style="background:linear-gradient(90deg,#009dff 0.5px,#00a3ff 4.5px,#00dffb 9.5px,#00e4f8 12.5px,#00c2ff 16.5px,#00a2ff 20.5px,#00a3ff 26.5px,#00c4ff 30.5px,#00defc 34.5px,#00e8f6 39.5px,#00d3ff 41.5px,#008fff 44.5px,#0277ff 47.5px,#0278ff 52.5px,#008dff 54.5px,#00d2ff 57.5px,#00f0f1 60.5px,#00ffe8 64.5px,#00ffa0 74.5px,#00ff49 82.5px,#00ff0a 92.5px,#1dff04 121.5px,#26ff02 141.5px,#34ff00 143.5px,#93f800 149.5px,#9ef700 151.5px,#67fb00 160.5px,#2eff00 166.5px,#20ff03 174.5px,#27ff02 180.5px,#36ff00 182.5px,#b4f600 190.5px,#f7e900 199.5px,#fae500 208.5px,#ff9d00 219.5px,#ffa000 325.5px,#fae400 335.5px,#fae800 339.5px)"></i><i style="background:linear-gradient(90deg,#00a1ff 0.5px,#00adff 4.5px,#00dcfd 7.5px,#00f6ed 9.5px,#00f8ec 11.5px,#00d7ff 14.5px,#0095ff 18.5px,#0083ff 21.5px,#0086ff 26.5px,#00a4ff 29.5px,#00cfff 32.5px,#00e9f5 38.5px,#00e2f9 40.5px,#00bdff 42.5px,#0090ff 44.5px,#007eff 46.5px,#0086ff 52.5px,#009dff 54.5px,#00dffb 57.5px,#00fee8 60.5px,#00ff9e 66.5px,#00ff5c 75.5px,#00ff1f 82.5px,#02ff0a 87.5px,#1dff04 117.5px,#23ff03 140.5px,#35ff00 143.5px,#94f800 149.5px,#a0f700 152.5px,#79fa00 160.5px,#2dff01 167.5px,#20ff03 173.5px,#27ff02 180.5px,#36ff00 182.5px,#b4f600 190.5px,#f7e900 199.5px,#fbe000 209.5px,#ff9d00 219.5px,#ffa000 325.5px,#fae400 335.5px,#fae700 339.5px)"></i><i style="background:linear-gradient(90deg,#00a3ff 0.5px,#00aaff 3.5px,#00c3ff 5.5px,#00d8ff 6.5px,#00fee9 8.5px,#00ffce 9.5px,#00ffc8 10.5px,#00f9ec 12.5px,#00d6ff 14.5px,#017cff 18.5px,#0761ff 20.5px,#0761ff 26.5px,#017cff 28.5px,#00c8ff 32.5px,#00e2f9 36.5px,#00e9f5 39.5px,#00d8ff 41.5px,#00a1ff 44.5px,#0095ff 47.5px,#00a7ff 52.5px,#00bdff 54.5px,#00e4f8 56.5px,#00ffde 58.5px,#00ffa1 61.5px,#00ff68 65.5px,#01ff0a 80.5px,#1cff04 109.5px,#25ff02 140.5px,#38fe00 143.5px,#95f800 149.5px,#a4f700 152.5px,#90f800 159.5px,#65fb00 163.5px,#30ff00 167.5px,#21ff03 173.5px,#27ff02 180.5px,#36ff00 182.5px,#b4f600 190.5px,#f7e900 199.5px,#fbde00 209.5px,#ff9d00 219.5px,#ffa000 325.5px,#fbe200 335.5px,#fae600 339.5px)"></i><i style="background:linear-gradient(90deg,#00a3ff 0.5px,#00adff 3.5px,#00c9ff 5.5px,#00f5ee 7.5px,#00ffb1 9.5px,#00ffae 10.5px,#00ffc4 11.5px,#00fde9 12.5px,#00d3ff 14.5px,#0663ff 18.5px,#0d43ff 20.5px,#0e3eff 25.5px,#0b4fff 27.5px,#0099ff 30.5px,#00d1ff 33.5px,#00eaf5 39.5px,#00d4ff 42.5px,#00b8ff 45.5px,#00cdff 51.5px,#00e7f6 54.5px,#00f5ee 55.5px,#00ffdb 56.5px,#00ff9a 58.5px,#00ff63 61.5px,#00ff30 65.5px,#02ff0a 75.5px,#1bff04 102.5px,#28ff02 140.5px,#30ff00 142.5px,#a0f700 150.5px,#a3f700 156.5px,#95f800 160.5px,#2fff00 168.5px,#22ff03 175.5px,#2cff01 181.5px,#68fb00 185.5px,#b4f600 190.5px,#f7e900 199.5px,#fcdb00 209.5px,#ff9d00 219.5px,#ffa000 325.5px,#fbdf00 335.5px,#fbe200 339.5px)"></i><i style="background:linear-gradient(90deg,#00a4ff 0.5px,#00adff 3.5px,#00c9ff 5.5px,#00f6ee 7.5px,#00ffb1 9.5px,#00ffae 10.5px,#00ffc4 11.5px,#00fde9 12.5px,#00d1ff 14.5px,#0957ff 18.5px,#0e40ff 19.5px,#112fff 21.5px,#1034ff 26.5px,#0956ff 28.5px,#00acff 31.5px,#00cfff 33.5px,#00e9f5 38.5px,#00dffb 46.5px,#00ffe8 52.5px,#00ff9f 55.5px,#00ff57 58.5px,#00ff10 64.5px,#08ff08 72.5px,#1dff04 105.5px,#27ff02 137.5px,#30ff00 141.5px,#a1f700 150.5px,#a7f700 156.5px,#9cf700 160.5px,#2fff00 169.5px,#24ff02 179.5px,#36ff00 182.5px,#b4f600 190.5px,#f8e800 199.5px,#fcd500 209.5px,#ff9d00 219.5px,#ff9f00 325.5px,#fcd800 335.5px,#fcdb00 339.5px)"></i><i style="background:linear-gradient(90deg,#00a3ff 0.5px,#00b5ff 4.5px,#00d9ff 6.5px,#00ffe8 8.5px,#00ffcc 9.5px,#00ffc7 10.5px,#00f8ec 12.5px,#00cfff 14.5px,#085aff 18.5px,#0f38ff 20.5px,#1133ff 25.5px,#0d44ff 27.5px,#00adff 31.5px,#00d0ff 33.5px,#00edf3 39.5px,#00ffe8 45.5px,#00ff93 51.5px,#00ff23 58.5px,#01ff0a 61.5px,#19ff05 85.5px,#22ff03 131.5px,#31ff00 139.5px,#6dfb00 145.5px,#a2f700 150.5px,#a9f600 157.5px,#98f800 161.5px,#37ff00 170.5px,#25ff02 179.5px,#36ff00 182.5px,#b4f600 190.5px,#f9e800 199.5px,#fec400 211.5px,#ff9c00 219.5px,#ff9f00 325.5px,#fdd200 336.5px,#fdd300 339.5px)"></i><i style="background:linear-gradient(90deg,#00a3ff 0.5px,#00b0ff 4.5px,#00defb 7.5px,#00f8ec 9.5px,#00f9ec 11.5px,#00cfff 14.5px,#0859ff 19.5px,#0c49ff 21.5px,#0b4eff 26.5px,#046cff 28.5px,#00c5ff 32.5px,#00defb 35.5px,#00fde9 41.5px,#00ffa1 44.5px,#00ff18 55.5px,#04ff09 58.5px,#19ff05 79.5px,#18ff05 111.5px,#24ff02 132.5px,#3afe00 138.5px,#a3f700 150.5px,#a9f600 158.5px,#94f800 162.5px,#3afe00 172.5px,#25ff02 178.5px,#2dff01 181.5px,#57fc00 184.5px,#b4f600 190.5px,#fae800 199.5px,#ffaa00 215.5px,#ff9b00 221.5px,#ff9e00 325.5px,#fec800 336.5px,#fec900 339.5px)"></i><i style="background:linear-gradient(90deg,#00a2ff 0.5px,#00aaff 4.5px,#00e5f8 9.5px,#00e7f6 12.5px,#00bfff 15.5px,#0278ff 19.5px,#046bff 22.5px,#0370ff 26.5px,#0097ff 29.5px,#00cbff 32.5px,#00e7f6 37.5px,#00faeb 40.5px,#00ffd1 41.5px,#00ff7c 43.5px,#00ff4f 45.5px,#01ff0a 53.5px,#19ff05 73.5px,#18ff05 99.5px,#13ff06 118.5px,#2cff01 134.5px,#a4f700 150.5px,#a8f700 159.5px,#6cfb00 168.5px,#2cff01 176.5px,#28ff02 180.5px,#36ff00 182.5px,#b4f600 190.5px,#fae700 199.5px,#ff9c00 219.5px,#ffa000 326.5px,#ffbf00 336.5px,#ffbf00 339.5px)"></i><i style="background:linear-gradient(90deg,#00a0ff 0.5px,#00a8ff 5.5px,#00defc 11.5px,#00d2ff 14.5px,#0096ff 19.5px,#008fff 25.5px,#009fff 28.5px,#00d8ff 33.5px,#00f2ef 39.5px,#00fde9 40.5px,#00ffc1 41.5px,#00ff5c 43.5px,#00ff3e 44.5px,#00ff25 46.5px,#03ff09 52.5px,#1aff05 70.5px,#16ff05 94.5px,#08ff08 113.5px,#2aff01 133.5px,#4afd00 137.5px,#7dfa00 143.5px,#a8f700 151.5px,#a6f700 160.5px,#6efb00 170.5px,#2fff00 176.5px,#28ff02 180.5px,#37ff00 182.5px,#b4f600 190.5px,#fae600 199.5px,#ffae00 211.5px,#ff9b00 221.5px,#ffa000 327.5px,#ffb500 338.5px,#ffb500 339.5px)"></i><i style="background:linear-gradient(90deg,#009bff 0.5px,#009cff 5.5px,#00d4ff 12.5px,#00cdff 15.5px,#00acff 20.5px,#00b1ff 27.5px,#00dbfd 33.5px,#00f2ef 39.5px,#00fde9 40.5px,#00ffc0 41.5px,#00ff5d 43.5px,#00ff41 44.5px,#00ff30 46.5px,#03ff09 53.5px,#15ff06 63.5px,#18ff05 84.5px,#00ff10 103.5px,#00ff0f 111.5px,#2bff01 133.5px,#52fd00 137.5px,#7afa00 141.5px,#a8f700 151.5px,#a5f700 161.5px,#87f900 169.5px,#2cff01 177.5px,#29ff02 180.5px,#37fe00 182.5px,#a9f600 189.5px,#d7f000 194.5px,#fae500 199.5px,#ffa900 210.5px,#ff9a00 225.5px,#ff9f00 328.5px,#ffab00 339.5px)"></i><i style="background:linear-gradient(90deg,#0093ff 0.5px,#008dff 5.5px,#009fff 8.5px,#00cdff 13.5px,#00c6ff 18.5px,#00c4ff 26.5px,#00e1fa 35.5px,#00faeb 40.5px,#00ffd0 41.5px,#00ff7d 43.5px,#00ff67 44.5px,#00ff48 49.5px,#01ff0a 54.5px,#11ff06 62.5px,#11ff06 82.5px,#00ff0a 93.5px,#00ff34 102.5px,#00ff2a 109.5px,#03ff09 116.5px,#21ff03 128.5px,#32ff00 134.5px,#81f900 141.5px,#a9f600 152.5px,#a1f700 165.5px,#8cf900 170.5px,#2eff00 177.5px,#29ff01 180.5px,#38fe00 182.5px,#acf600 189.5px,#e0ee00 195.5px,#fae500 199.5px,#ffa500 209.5px,#ff9900 230.5px,#ff9d00 330.5px,#ffa400 339.5px)"></i><i style="background:linear-gradient(90deg,#0087ff 0.5px,#0275ff 4.5px,#007eff 7.5px,#00c9ff 14.5px,#00d1ff 18.5px,#00d5ff 26.5px,#00e2f9 33.5px,#00eff1 39.5px,#00ffe8 41.5px,#00ffb1 43.5px,#00ff9c 45.5px,#00ff88 48.5px,#00ff0e 56.5px,#0bff08 74.5px,#00ff10 85.5px,#00ff56 100.5px,#00ff48 106.5px,#01ff0a 115.5px,#22ff03 128.5px,#2eff01 133.5px,#83f900 141.5px,#a9f600 152.5px,#a2f700 168.5px,#89f900 171.5px,#2fff00 177.5px,#29ff01 180.5px,#3bfe00 182.5px,#b3f600 189.5px,#f7e900 198.5px,#ffa100 209.5px,#ff9700 232.5px,#ff9900 274.5px,#ff9500 305.5px,#ff9a00 331.5px,#ff9f00 339.5px)"></i><i style="background:linear-gradient(90deg,#0372ff 0.5px,#0a51ff 4.5px,#0956ff 7.5px,#017bff 10.5px,#00c8ff 15.5px,#00d8ff 19.5px,#00e2f9 26.5px,#00eff1 30.5px,#00e4f8 36.5px,#00ffe5 43.5px,#00ffcd 47.5px,#00ff7d 52.5px,#00ff3c 56.5px,#00ff22 60.5px,#00ff13 71.5px,#00ff2f 81.5px,#00ff70 97.5px,#00ff68 102.5px,#02ff0a 114.5px,#30ff00 133.5px,#85f900 141.5px,#a8f700 151.5px,#a6f700 168.5px,#8df800 171.5px,#2fff00 177.5px,#2aff01 180.5px,#3efe00 182.5px,#bcf500 189.5px,#fae400 199.5px,#ff9f00 209.5px,#ff9100 230.5px,#ff9800 240.5px,#ff8f00 255.5px,#ff9700 273.5px,#ff9600 300.5px,#ff8f00 321.5px,#ff9c00 339.5px)"></i><i style="background:linear-gradient(90deg,#0956ff 0.5px,#122aff 3.5px,#1421ff 6.5px,#0f38ff 9.5px,#0761ff 11.5px,#00adff 14.5px,#00d4ff 17.5px,#00e7f6 25.5px,#00ffe2 29.5px,#00f3ef 32.5px,#00e5f8 36.5px,#00ffe7 49.5px,#00ff76 56.5px,#00ff57 60.5px,#00ff49 68.5px,#00ff4a 72.5px,#00ff74 83.5px,#00ff84 93.5px,#00ff78 99.5px,#00ff47 105.5px,#02ff0a 112.5px,#30ff00 132.5px,#8af900 141.5px,#a9f700 151.5px,#a7f700 168.5px,#8ef800 171.5px,#2fff00 177.5px,#2bff01 180.5px,#30ff00 181.5px,#b8f500 188.5px,#d9ef00 192.5px,#fbe300 199.5px,#ff9e00 209.5px,#ff8e00 225.5px,#ff9000 232.5px,#ff9600 240.5px,#ff8800 252.5px,#ff8d00 269.5px,#ff9b00 283.5px,#ff9500 299.5px,#ff8800 312.5px,#ff8e00 328.5px,#ff9b00 339.5px)"></i><i style="background:linear-gradient(90deg,#1036ff 0.5px,#1a0fff 2.5px,#270bff 5.5px,#1f0eff 9.5px,#1713ff 10.5px,#0954ff 12.5px,#009bff 14.5px,#00c6ff 16.5px,#00dcfd 19.5px,#00e6f6 24.5px,#00faeb 26.5px,#00ffb9 28.5px,#00ffac 29.5px,#00ffb2 30.5px,#00ffe8 32.5px,#00e6f7 35.5px,#00eef2 49.5px,#00ffe6 53.5px,#00ffa1 58.5px,#00ff8e 61.5px,#00ff87 67.5px,#00ff81 71.5px,#00ffac 85.5px,#00ff76 97.5px,#00ff2c 105.5px,#01ff0a 109.5px,#2fff00 130.5px,#91f800 141.5px,#a9f600 151.5px,#a7f700 168.5px,#8ef800 171.5px,#2fff00 177.5px,#2bff01 180.5px,#32ff00 181.5px,#c2f400 188.5px,#e0ee00 192.5px,#fbe300 199.5px,#ff9e00 209.5px,#ff9100 222.5px,#ff8500 229.5px,#ff9800 238.5px,#ff8100 250.5px,#ff8500 268.5px,#ff9b00 279.5px,#ff9500 298.5px,#ff8100 309.5px,#ff8700 327.5px,#ff9b00 338.5px,#ff9b00 339.5px)"></i><i style="background:linear-gradient(90deg,#1618ff 0.5px,#3407ff 3.5px,#3c04ff 7.5px,#2d09ff 10.5px,#1f0eff 11.5px,#122cff 12.5px,#008aff 14.5px,#00c0ff 16.5px,#00d8ff 18.5px,#00eaf4 24.5px,#00f4ee 25.5px,#00ffdd 26.5px,#00ff8e 28.5px,#00ff7d 29.5px,#00ff86 30.5px,#00ffa4 31.5px,#00ffcf 32.5px,#00f9ec 33.5px,#00e7f6 35.5px,#00e7f6 41.5px,#00defc 49.5px,#00f2ef 55.5px,#00fee9 57.5px,#00ffcc 60.5px,#00ffc3 67.5px,#00ffbd 71.5px,#00ffcc 77.5px,#00ffca 84.5px,#00ffa7 88.5px,#00ff0e 105.5px,#24ff02 125.5px,#38fe00 129.5px,#99f800 141.5px,#aaf600 153.5px,#a8f700 168.5px,#8ff800 171.5px,#2fff00 177.5px,#2cff01 180.5px,#35ff00 181.5px,#bbf500 187.5px,#deee00 190.5px,#fbe300 199.5px,#ff9e00 209.5px,#ff9100 221.5px,#ff7e00 228.5px,#ff9700 238.5px,#ff7a00 250.5px,#ff7f00 268.5px,#ff9b00 278.5px,#ff9600 297.5px,#ff7a00 308.5px,#ff7f00 326.5px,#ff9b00 337.5px,#ff9b00 339.5px)"></i><i style="background:linear-gradient(90deg,#1e0eff 0.5px,#4800ff 4.5px,#4a00ff 8.5px,#3c04ff 10.5px,#1810ff 12.5px,#017eff 14.5px,#00bcff 16.5px,#00d7ff 18.5px,#00ebf4 24.5px,#00f7ed 25.5px,#00ffd1 26.5px,#00ff79 28.5px,#00ff68 29.5px,#00ff71 30.5px,#00ff92 31.5px,#00fcea 33.5px,#00e8f6 35.5px,#00e4f8 41.5px,#00cbff 49.5px,#00d5ff 54.5px,#00f7ed 60.5px,#00ffe4 79.5px,#00ffcc 84.5px,#00ff91 88.5px,#00ff5c 92.5px,#01ff0a 102.5px,#17ff05 117.5px,#29ff01 125.5px,#41fe00 128.5px,#73fa00 133.5px,#a1f700 141.5px,#aaf600 156.5px,#a8f700 168.5px,#8ff800 171.5px,#30ff00 177.5px,#2dff01 180.5px,#38fe00 181.5px,#c3f400 187.5px,#e6ec00 190.5px,#fbe300 199.5px,#ff9e00 209.5px,#ff9300 220.5px,#ff7900 228.5px,#ff9500 238.5px,#ff7400 249.5px,#ff7700 267.5px,#ff9a00 278.5px,#ff9800 296.5px,#ff7400 308.5px,#ff7900 326.5px,#ff9a00 337.5px,#ff9a00 339.5px)"></i><i style="background:linear-gradient(90deg,#210dff 0.5px,#5000ff 4.5px,#5200ff 8.5px,#4202ff 10.5px,#1d0eff 12.5px,#0278ff 14.5px,#009fff 15.5px,#00ccff 17.5px,#00defc 20.5px,#00ebf4 24.5px,#00f6ed 25.5px,#00ffd6 26.5px,#00ff82 28.5px,#00ff71 29.5px,#00ff7a 30.5px,#00ff9a 31.5px,#00ffc8 32.5px,#00fbeb 33.5px,#00e8f6 35.5px,#00e7f6 40.5px,#00c7ff 44.5px,#00b1ff 51.5px,#00bbff 54.5px,#00e8f6 59.5px,#00fbea 77.5px,#00ffc0 83.5px,#00ff93 86.5px,#00ff47 90.5px,#00ff0a 97.5px,#17ff05 114.5px,#25ff02 123.5px,#3bfe00 126.5px,#7cfa00 131.5px,#a6f700 140.5px,#abf600 157.5px,#a3f700 169.5px,#81f900 172.5px,#33ff00 177.5px,#2fff00 180.5px,#54fc00 182.5px,#caf200 187.5px,#edeb00 190.5px,#fbe200 199.5px,#ff9e00 209.5px,#ff9200 220.5px,#ff7300 228.5px,#ff9300 238.5px,#ff6e00 249.5px,#ff7200 267.5px,#ff9900 278.5px,#ff9800 296.5px,#ff7000 307.5px,#ff7100 325.5px,#ff9800 336.5px,#ff9900 339.5px)"></i><i style="background:linear-gradient(90deg,#1e0eff 0.5px,#4800ff 4.5px,#4a00ff 8.5px,#3c04ff 10.5px,#1810ff 12.5px,#017dff 14.5px,#00bbff 16.5px,#00d6ff 18.5px,#00e8f6 24.5px,#00fee9 26.5px,#00ffa6 28.5px,#00ff97 29.5px,#00ff9f 30.5px,#00ffb9 31.5px,#00ffde 32.5px,#00f6ee 33.5px,#00e5f7 36.5px,#00e5f7 40.5px,#00aaff 45.5px,#0097ff 52.5px,#00a3ff 54.5px,#00dbfd 58.5px,#00e7f6 62.5px,#00ffe6 76.5px,#00ff7b 85.5px,#00ff2c 89.5px,#00ff0b 92.5px,#15ff06 110.5px,#27ff02 122.5px,#3ffe00 125.5px,#90f800 131.5px,#aff600 140.5px,#aef600 155.5px,#a4f700 169.5px,#75fa00 173.5px,#30ff00 178.5px,#36ff00 180.5px,#8ef800 184.5px,#d0f100 187.5px,#f2ea00 190.5px,#fbe200 199.5px,#ff9e00 209.5px,#ff9500 219.5px,#ff7000 228.5px,#ff9000 238.5px,#ff6a00 249.5px,#ff6e00 267.5px,#ff9600 278.5px,#ff9800 296.5px,#ff6f00 307.5px,#ff6d00 325.5px,#ff9500 336.5px,#ff9600 339.5px)"></i><i style="background:linear-gradient(90deg,#1618ff 0.5px,#3407ff 3.5px,#3c04ff 7.5px,#2d09ff 10.5px,#1f0eff 11.5px,#122cff 12.5px,#008aff 14.5px,#00bfff 16.5px,#00d6ff 18.5px,#00eaf4 25.5px,#00fde9 27.5px,#00ffcd 29.5px,#00ffd1 30.5px,#00f8ec 32.5px,#00e5f7 35.5px,#00e8f5 39.5px,#00d7ff 41.5px,#009dff 44.5px,#0087ff 47.5px,#0081ff 52.5px,#0091ff 54.5px,#00d9fe 58.5px,#00e8f6 62.5px,#00ffe1 72.5px,#00ffbb 76.5px,#00ff79 81.5px,#00ff4d 85.5px,#00ff0a 89.5px,#11ff06 99.5px,#25ff02 119.5px,#37fe00 123.5px,#9df700 131.5px,#bbf500 141.5px,#b7f500 153.5px,#a4f700 169.5px,#7afa00 173.5px,#3dfe00 178.5px,#43fe00 180.5px,#80f900 183.5px,#c5f400 186.5px,#efea00 189.5px,#f9e800 194.5px,#fbe200 199.5px,#ff9e00 209.5px,#ff9500 219.5px,#ff6d00 228.5px,#ff8c00 238.5px,#ff6800 249.5px,#ff6b00 267.5px,#ff9400 279.5px,#ff9a00 295.5px,#ff6f00 308.5px,#ff6a00 325.5px,#ff9100 336.5px,#ff9100 339.5px)"></i><i style="background:linear-gradient(90deg,#1036ff 0.5px,#1a0fff 2.5px,#270bff 5.5px,#1f0eff 9.5px,#1713ff 10.5px,#0954ff 12.5px,#009aff 14.5px,#00c4ff 16.5px,#00d8ff 19.5px,#00e7f6 26.5px,#00f5ee 30.5px,#00e4f8 36.5px,#00e8f6 39.5px,#00d3ff 41.5px,#008fff 44.5px,#017aff 46.5px,#0276ff 52.5px,#008bff 54.5px,#00ddfc 58.5px,#00f0f1 62.5px,#00ffe8 67.5px,#00ffac 72.5px,#00ff75 77.5px,#00ff47 81.5px,#00ff17 86.5px,#00ff0a 87.5px,#11ff06 94.5px,#20ff03 114.5px,#36ff00 121.5px,#a4f700 131.5px,#c4f400 140.5px,#c1f400 152.5px,#aaf600 162.5px,#a5f700 169.5px,#81f900 173.5px,#4dfd00 178.5px,#54fc00 180.5px,#d9ef00 187.5px,#f6e900 190.5px,#fbe200 199.5px,#ff9e00 209.5px,#ff9500 219.5px,#ff6c00 228.5px,#ff8600 238.5px,#ff6700 249.5px,#ff6c00 268.5px,#ff9300 281.5px,#ff9a00 295.5px,#ff6f00 310.5px,#ff6800 324.5px,#ff8b00 337.5px,#ff8b00 339.5px)"></i><i style="background:linear-gradient(90deg,#0956ff 0.5px,#122aff 3.5px,#1422ff 6.5px,#0f39ff 9.5px,#0662ff 11.5px,#00acff 14.5px,#00c8ff 16.5px,#00d4ff 22.5px,#00e6f7 31.5px,#00e6f7 37.5px,#00e2f9 40.5px,#00bdff 42.5px,#0090ff 44.5px,#017cff 46.5px,#0082ff 52.5px,#0096ff 54.5px,#00d8ff 57.5px,#00f7ed 60.5px,#00ffdd 64.5px,#00ffb4 67.5px,#00ff78 71.5px,#00ff1c 81.5px,#02ff0a 85.5px,#13ff06 93.5px,#21ff03 113.5px,#3afe00 119.5px,#aef600 132.5px,#cef100 141.5px,#c9f300 152.5px,#aaf600 162.5px,#a1f700 170.5px,#5efc00 178.5px,#66fb00 180.5px,#ddee00 187.5px,#f7e900 190.5px,#fbe200 199.5px,#ff9e00 209.5px,#ff9500 219.5px,#ff6b00 228.5px,#ff8000 238.5px,#ff6700 250.5px,#ff6b00 268.5px,#ff9a00 287.5px,#ff9400 298.5px,#ff6700 316.5px,#ff6d00 327.5px,#ff8400 337.5px,#ff8400 339.5px)"></i><i style="background:linear-gradient(90deg,#0372ff 0.5px,#0a51ff 4.5px,#0958ff 7.5px,#017dff 10.5px,#00baff 14.5px,#00c9ff 17.5px,#00ceff 27.5px,#00e0fa 34.5px,#00e8f5 39.5px,#00d7ff 41.5px,#009fff 44.5px,#0092ff 46.5px,#009dff 52.5px,#00c4ff 55.5px,#00d9ff 56.5px,#00f8ec 58.5px,#00ffbf 61.5px,#00ff98 65.5px,#00ff49 70.5px,#01ff0a 79.5px,#17ff05 97.5px,#24ff02 113.5px,#38fe00 117.5px,#9df700 129.5px,#d3f100 139.5px,#d7f000 150.5px,#abf600 161.5px,#a3f700 170.5px,#70fa00 178.5px,#78fa00 180.5px,#e0ee00 187.5px,#f7e900 190.5px,#fbe200 199.5px,#ff9e00 209.5px,#ff9500 219.5px,#ff6b00 228.5px,#ff7900 239.5px,#ff6700 251.5px,#ff6c00 269.5px,#ff9b00 288.5px,#ff9100 300.5px,#ff6700 317.5px,#ff6e00 328.5px,#ff7d00 339.5px)"></i><i style="background:linear-gradient(90deg,#0087ff 0.5px,#0276ff 5.5px,#0093ff 9.5px,#00bfff 13.5px,#00c4ff 16.5px,#00b4ff 22.5px,#00bfff 28.5px,#00dffb 34.5px,#00e9f5 39.5px,#00d1ff 42.5px,#00b2ff 45.5px,#00bdff 51.5px,#00d8ff 54.5px,#00f5ee 56.5px,#00ffdc 57.5px,#00ffa2 59.5px,#00ff78 62.5px,#00ff4e 66.5px,#00ff1a 70.5px,#02ff0a 74.5px,#1bff04 100.5px,#22ff03 112.5px,#37fe00 116.5px,#77fa00 122.5px,#dfee00 140.5px,#e0ee00 150.5px,#acf600 161.5px,#a2f700 171.5px,#82f900 178.5px,#96f800 181.5px,#d8ef00 186.5px,#f8e800 190.5px,#fbe200 199.5px,#ff9e00 209.5px,#ff9400 219.5px,#ff6a00 228.5px,#ff7200 240.5px,#ff6700 254.5px,#ff6e00 271.5px,#ff8f00 283.5px,#ff9b00 291.5px,#ff8b00 305.5px,#ff6700 317.5px,#ff7100 331.5px,#ff7700 339.5px)"></i><i style="background:linear-gradient(90deg,#0093ff 0.5px,#008fff 5.5px,#00c8ff 12.5px,#00c4ff 15.5px,#009cff 20.5px,#00a1ff 27.5px,#00d9fe 33.5px,#00e9f5 40.5px,#00d1ff 45.5px,#00e4f8 51.5px,#00fde9 54.5px,#00ff77 58.5px,#00ff48 61.5px,#00ff0a 68.5px,#14ff06 84.5px,#22ff03 112.5px,#2fff00 115.5px,#83f900 122.5px,#ddee00 138.5px,#eceb00 143.5px,#e5ed00 151.5px,#aef600 161.5px,#a4f700 172.5px,#96f800 179.5px,#f5e900 189.5px,#fbe000 199.5px,#ff9e00 209.5px,#ff9400 219.5px,#ff6a00 228.5px,#ff6a00 244.5px,#ff6c00 272.5px,#ff8000 280.5px,#ff9a00 288.5px,#ff9100 305.5px,#ff6800 317.5px,#ff7000 339.5px)"></i><i style="background:linear-gradient(90deg,#009bff 0.5px,#00a0ff 5.5px,#00d5ff 11.5px,#00cbff 14.5px,#0085ff 19.5px,#017bff 24.5px,#0085ff 27.5px,#00d6ff 33.5px,#00ecf3 40.5px,#00f4ee 47.5px,#00ffe0 50.5px,#00ff3c 58.5px,#00ff1b 61.5px,#02ff0a 65.5px,#15ff06 78.5px,#20ff03 112.5px,#39fe00 116.5px,#89f900 122.5px,#a7f700 127.5px,#caf200 134.5px,#f1ea00 141.5px,#efea00 150.5px,#b2f600 161.5px,#a7f700 179.5px,#f6e900 189.5px,#fbde00 199.5px,#ff9d00 209.5px,#ff8e00 220.5px,#ff6800 229.5px,#ff6c00 275.5px,#ff9800 288.5px,#ff9500 306.5px,#ff6a00 317.5px,#ff6c00 339.5px)"></i><i style="background:linear-gradient(90deg,#00a0ff 0.5px,#00a6ff 4.5px,#00e4f8 10.5px,#00e2f9 12.5px,#00b8ff 15.5px,#0664ff 19.5px,#0955ff 22.5px,#085aff 26.5px,#0276ff 28.5px,#00c7ff 32.5px,#00dffb 35.5px,#00ffe7 43.5px,#00ff67 52.5px,#00ff1c 57.5px,#00ff0a 59.5px,#19ff05 79.5px,#1fff03 87.5px,#1dff04 112.5px,#32ff00 116.5px,#8af900 122.5px,#aff600 127.5px,#dcef00 136.5px,#f6e900 142.5px,#f0ea00 151.5px,#bcf500 160.5px,#b7f500 179.5px,#fae800 190.5px,#fcd400 200.5px,#ff9c00 209.5px,#ff8e00 219.5px,#ff6800 229.5px,#ff6800 265.5px,#ff6d00 277.5px,#ff9500 288.5px,#ff9f00 305.5px,#ff6d00 317.5px,#ff6900 339.5px)"></i><i style="background:linear-gradient(90deg,#00a2ff 0.5px,#00aeff 4.5px,#00dafe 7.5px,#00f3ef 9.5px,#00f5ee 11.5px,#00dffb 13.5px,#0099ff 16.5px,#0b4aff 19.5px,#0f38ff 22.5px,#0e3fff 26.5px,#075fff 28.5px,#00afff 31.5px,#00d0ff 33.5px,#00ffe8 41.5px,#00ff94 44.5px,#00ff5a 48.5px,#00ff0d 55.5px,#13ff06 69.5px,#25ff02 86.5px,#18ff05 96.5px,#19ff05 112.5px,#37ff00 117.5px,#94f800 123.5px,#b7f500 127.5px,#f0ea00 139.5px,#f9e800 148.5px,#ddee00 155.5px,#c3f400 161.5px,#c3f400 179.5px,#fae600 190.5px,#fdcd00 200.5px,#ff9900 210.5px,#ff8200 221.5px,#ff6700 230.5px,#ff6d00 252.5px,#ff6d00 262.5px,#ff6900 276.5px,#ff9300 290.5px,#ffa900 305.5px,#ff7200 317.5px,#ff6700 331.5px,#ff6700 339.5px)"></i><i style="background:linear-gradient(90deg,#00a3ff 0.5px,#00abff 3.5px,#00c2ff 5.5px,#00d6ff 6.5px,#00fbea 8.5px,#00ffd5 9.5px,#00ffcf 10.5px,#00f6ed 12.5px,#00ceff 14.5px,#0956ff 18.5px,#1033ff 20.5px,#122eff 25.5px,#0e40ff 27.5px,#0275ff 29.5px,#00c1ff 32.5px,#00defb 35.5px,#00faeb 40.5px,#00ffd0 41.5px,#00ff78 43.5px,#00ff5a 44.5px,#00ff32 47.5px,#01ff0a 53.5px,#0eff07 67.5px,#1cff04 75.5px,#2aff01 85.5px,#10ff07 94.5px,#11ff06 111.5px,#30ff00 117.5px,#a3f700 124.5px,#bff500 127.5px,#f8e800 141.5px,#f4e900 151.5px,#ccf200 161.5px,#d0f100 180.5px,#fae500 190.5px,#ffbc00 202.5px,#ff9600 211.5px,#ff6700 230.5px,#ff6c00 250.5px,#ff7600 259.5px,#ff6700 270.5px,#ff7000 279.5px,#ffb300 305.5px,#ff7700 317.5px,#ff6700 329.5px,#ff6700 339.5px)"></i><i style="background:linear-gradient(90deg,#00a3ff 0.5px,#00adff 3.5px,#00c8ff 5.5px,#00f4ee 7.5px,#00ffd2 8.5px,#00ffb4 9.5px,#00ffb1 10.5px,#00ffc6 11.5px,#00fde9 12.5px,#00d2ff 14.5px,#085dff 18.5px,#0f3bff 20.5px,#1036ff 25.5px,#0c47ff 27.5px,#017aff 29.5px,#00c2ff 32.5px,#00defb 35.5px,#00fde9 40.5px,#00ffc0 41.5px,#00ff5a 43.5px,#00ff3b 44.5px,#00ff23 46.5px,#04ff09 54.5px,#10ff07 67.5px,#1dff04 74.5px,#22ff03 81.5px,#2aff01 85.5px,#06ff09 92.5px,#05ff09 107.5px,#1eff04 114.5px,#33ff00 117.5px,#b5f600 125.5px,#cef100 129.5px,#fae800 142.5px,#f2ea00 152.5px,#d5f000 162.5px,#d9ef00 180.5px,#fbe400 190.5px,#ff8e00 213.5px,#ff6700 229.5px,#ff6c00 249.5px,#ff7d00 258.5px,#ff6700 269.5px,#ff7000 280.5px,#ffad00 300.5px,#ffbd00 305.5px,#ffa700 309.5px,#ff7c00 317.5px,#ff6700 328.5px,#ff6700 339.5px)"></i><i style="background:linear-gradient(90deg,#00a4ff 0.5px,#00adff 3.5px,#00caff 5.5px,#00f6ed 7.5px,#00ffae 9.5px,#00ffab 10.5px,#00ffc0 11.5px,#00ffe8 12.5px,#00d6ff 14.5px,#075eff 19.5px,#0b4eff 22.5px,#0954ff 26.5px,#0371ff 28.5px,#00c6ff 32.5px,#00dffb 35.5px,#00fde9 40.5px,#00ffc0 41.5px,#00ff5d 43.5px,#00ff41 44.5px,#00ff32 46.5px,#00ff1f 51.5px,#05ff09 55.5px,#15ff06 68.5px,#19ff05 76.5px,#21ff03 82.5px,#22ff03 85.5px,#00ff10 90.5px,#00ff2f 94.5px,#00ff2b 100.5px,#03ff09 107.5px,#30ff00 116.5px,#bdf500 125.5px,#e5ec00 133.5px,#fae800 143.5px,#efea00 154.5px,#dfee00 163.5px,#e4ed00 181.5px,#fbe200 190.5px,#ffa200 206.5px,#ff6e00 224.5px,#ff6600 239.5px,#ff6d00 249.5px,#ff8400 257.5px,#ff6700 269.5px,#ff6e00 280.5px,#ff9800 295.5px,#fec600 305.5px,#ffb100 309.5px,#ff8a00 315.5px,#ff6700 326.5px,#ff6700 339.5px)"></i><i style="background:linear-gradient(90deg,#00a4ff 0.5px,#00acff 3.5px,#00c6ff 5.5px,#00eff1 7.5px,#00ffe2 8.5px,#00ffc4 9.5px,#00ffbe 10.5px,#00fcea 12.5px,#00dafe 14.5px,#008bff 18.5px,#0374ff 21.5px,#0278ff 26.5px,#009cff 29.5px,#00ccff 32.5px,#00faeb 40.5px,#00ffd0 41.5px,#00ff7e 43.5px,#00ff69 44.5px,#00ff4d 49.5px,#00ff0b 54.5px,#0eff07 61.5px,#16ff05 73.5px,#0eff07 80.5px,#16ff05 84.5px,#02ff0a 87.5px,#00ff4a 91.5px,#00ff5b 95.5px,#00ff49 99.5px,#00ff0c 105.5px,#2fff00 114.5px,#c3f400 125.5px,#eaeb00 132.5px,#fae800 144.5px,#edeb00 157.5px,#eceb00 181.5px,#fbe000 190.5px,#ffaa00 201.5px,#ff8000 215.5px,#ff6b00 224.5px,#ff6b00 248.5px,#ff8900 257.5px,#ff6700 268.5px,#ff7100 284.5px,#ff9c00 296.5px,#fdcb00 304.5px,#fec800 307.5px,#ff9000 315.5px,#ff6700 326.5px,#ff6700 339.5px)"></i><i style="background:linear-gradient(90deg,#00a3ff 0.5px,#00b1ff 4.5px,#00e2f9 7.5px,#00fcea 9.5px,#00fde9 11.5px,#00ceff 15.5px,#009bff 19.5px,#0095ff 25.5px,#00a5ff 28.5px,#00d9fe 33.5px,#00f6ee 40.5px,#00ffe8 41.5px,#00ffb2 43.5px,#00ff9e 45.5px,#00ff85 48.5px,#00ff14 54.5px,#08ff08 56.5px,#0eff07 72.5px,#00ff0f 78.5px,#00ff10 81.5px,#00ff0b 84.5px,#00ff3b 87.5px,#00ff6c 90.5px,#00ff7a 93.5px,#00ff64 97.5px,#00ff0b 103.5px,#38fe00 112.5px,#9ef700 121.5px,#d1f100 126.5px,#f0ea00 132.5px,#fae800 149.5px,#f0ea00 171.5px,#fbe200 189.5px,#ffa500 200.5px,#ff8d00 211.5px,#ff6c00 220.5px,#ff6600 241.5px,#ff6f00 249.5px,#ff8c00 257.5px,#ff6700 268.5px,#ff7000 286.5px,#ffaa00 298.5px,#fdd200 305.5px,#ffc100 309.5px,#ff9000 316.5px,#ff6700 326.5px,#ff6600 339.5px)"></i><i style="background:linear-gradient(90deg,#00a2ff 0.5px,#00abff 4.5px,#00defb 8.5px,#00f0f1 11.5px,#00cbff 16.5px,#00b1ff 20.5px,#00b7ff 27.5px,#00ddfc 33.5px,#00ffe8 43.5px,#00ffd6 46.5px,#00ffb6 48.5px,#00ff19 55.5px,#00ff0b 56.5px,#00ff0e 72.5px,#00ff49 79.5px,#00ff49 84.5px,#00ff6c 87.5px,#00ff8a 90.5px,#00ff84 93.5px,#00ff64 96.5px,#02ff0a 101.5px,#34ff00 108.5px,#7afa00 114.5px,#eaeb00 129.5px,#f8e800 136.5px,#fae500 185.5px,#fcd300 191.5px,#ff9f00 200.5px,#ff8a00 211.5px,#ff6800 220.5px,#ff6500 235.5px,#ff6b00 248.5px,#ff8d00 257.5px,#ff6700 268.5px,#ff6c00 286.5px,#ffaa00 298.5px,#fcd400 305.5px,#fec400 309.5px,#ff8a00 318.5px,#ff6800 326.5px,#ff6600 339.5px)"></i><i style="background:linear-gradient(90deg,#00a0ff 0.5px,#00a3ff 4.5px,#00c9ff 8.5px,#00e2f9 11.5px,#00d9fe 15.5px,#00c4ff 21.5px,#00ceff 27.5px,#00e0fa 33.5px,#00f2ef 46.5px,#00ffe7 48.5px,#00ff4a 55.5px,#00ff2f 57.5px,#00ff28 61.5px,#00ff35 70.5px,#00ff81 79.5px,#00ff7b 85.5px,#00ff8f 89.5px,#00ff7c 92.5px,#00ff3d 96.5px,#00ff13 98.5px,#0fff07 100.5px,#30ff00 104.5px,#7ef900 110.5px,#a8f700 116.5px,#cff100 124.5px,#f6e900 131.5px,#fbe300 183.5px,#fdcd00 191.5px,#ff9b00 200.5px,#ff8500 211.5px,#ff6400 221.5px,#ff6000 231.5px,#ff6e00 249.5px,#ff8b00 257.5px,#ff6700 269.5px,#ff6a00 286.5px,#ffb700 300.5px,#fdd000 305.5px,#ffbc00 310.5px,#ff7600 322.5px,#ff6700 327.5px,#ff6600 339.5px)"></i><i style="background:linear-gradient(90deg,#009cff 0.5px,#009bff 5.5px,#00bfff 9.5px,#00dafe 12.5px,#00d5ff 24.5px,#00ecf3 30.5px,#00e4f8 36.5px,#00eaf4 40.5px,#00dffb 46.5px,#00fee9 51.5px,#00ffaf 54.5px,#00ff70 57.5px,#00ff62 60.5px,#00ff78 71.5px,#00ffa6 77.5px,#00ffaa 80.5px,#00ff83 86.5px,#00ff7b 89.5px,#00ff53 92.5px,#03ff09 96.5px,#30ff00 101.5px,#71fa00 105.5px,#acf600 111.5px,#c2f400 118.5px,#d6f000 124.5px,#f9e800 132.5px,#fbe400 181.5px,#ffc100 192.5px,#ff9700 201.5px,#ff7600 214.5px,#ff5800 227.5px,#ff6700 245.5px,#ff7f00 254.5px,#ff8500 258.5px,#ff6700 268.5px,#ff6a00 286.5px,#feca00 305.5px,#ffb300 311.5px,#ff6900 325.5px,#ff6600 339.5px)"></i><i style="background:linear-gradient(90deg,#0094ff 0.5px,#0089ff 5.5px,#009cff 8.5px,#00d6ff 13.5px,#00dafe 21.5px,#00e4f8 25.5px,#00ffe7 29.5px,#00e4f8 35.5px,#00e8f6 40.5px,#00c7ff 45.5px,#00e4f8 53.5px,#00f8ec 55.5px,#00ffb0 58.5px,#00ffa6 61.5px,#00ffb2 71.5px,#00ffc0 77.5px,#00ffa4 81.5px,#00ff6f 85.5px,#00ff42 90.5px,#02ff0a 93.5px,#2dff01 98.5px,#7ff900 103.5px,#baf500 109.5px,#ccf200 115.5px,#d9ef00 123.5px,#f9e800 132.5px,#fae400 180.5px,#ffac00 195.5px,#ff8e00 204.5px,#ff5200 228.5px,#ff6600 241.5px,#ff6f00 250.5px,#ff7f00 258.5px,#ff6700 269.5px,#ff6d00 287.5px,#ffc200 305.5px,#ffaa00 312.5px,#ff6900 325.5px,#ff6600 339.5px)"></i><i style="background:linear-gradient(90deg,#0088ff 0.5px,#056bff 4.5px,#0373ff 7.5px,#00afff 11.5px,#00d6ff 14.5px,#00e5f7 24.5px,#00f8ec 26.5px,#00ffbb 28.5px,#00ffae 29.5px,#00ffb4 30.5px,#00fee8 32.5px,#00e6f7 35.5px,#00e5f7 40.5px,#00adff 45.5px,#00b2ff 52.5px,#00c3ff 54.5px,#00f2f0 57.5px,#00ffe4 59.5px,#00ffd6 69.5px,#00ffc4 75.5px,#00ffa0 79.5px,#00ff43 85.5px,#00ff1e 89.5px,#00ff0e 90.5px,#39fe00 96.5px,#90f800 102.5px,#c5f400 108.5px,#d8ef00 114.5px,#e4ed00 124.5px,#fae800 133.5px,#fbe300 180.5px,#ff8400 206.5px,#ff4c00 228.5px,#ff6600 240.5px,#ff7100 252.5px,#ff7800 259.5px,#ff6700 270.5px,#ff6d00 287.5px,#ffb100 302.5px,#ffb700 307.5px,#ff8100 320.5px,#ff6800 326.5px,#ff6600 339.5px)"></i><i style="background:linear-gradient(90deg,#0275ff 0.5px,#0c49ff 3.5px,#0e41ff 6.5px,#0a51ff 8.5px,#0096ff 11.5px,#00c2ff 13.5px,#00d8ff 15.5px,#00e3f8 23.5px,#00f4ef 25.5px,#00ffde 26.5px,#00ff8e 28.5px,#00ff7e 29.5px,#00ff86 30.5px,#00ffa5 31.5px,#00ffcf 32.5px,#00f9ec 33.5px,#00e7f6 35.5px,#00e3f9 40.5px,#00c4ff 42.5px,#009dff 44.5px,#008dff 46.5px,#008eff 52.5px,#00a1ff 54.5px,#00e0fb 57.5px,#00f6ed 60.5px,#00ffe3 68.5px,#00ffb1 74.5px,#00ff51 81.5px,#00ff13 85.5px,#03ff09 87.5px,#1aff05 91.5px,#2fff00 93.5px,#65fb00 96.5px,#c4f400 106.5px,#e1ed00 112.5px,#efea00 126.5px,#fae800 137.5px,#fae500 179.5px,#ffab00 192.5px,#ff7000 212.5px,#ff5400 223.5px,#ff4500 228.5px,#ff6600 239.5px,#ff7100 254.5px,#ff6e00 262.5px,#ff6700 279.5px,#ff6d00 287.5px,#ffa300 299.5px,#ffaf00 307.5px,#ff8c00 318.5px,#ff6800 326.5px,#ff6600 339.5px)"></i><i style="background:linear-gradient(90deg,#085dff 0.5px,#151fff 3.5px,#1810ff 5.5px,#151fff 8.5px,#1133ff 9.5px,#009aff 12.5px,#00c9ff 14.5px,#00defc 17.5px,#00e4f8 23.5px,#00f7ed 25.5px,#00ffd1 26.5px,#00ff79 28.5px,#00ff68 29.5px,#00ff71 30.5px,#00ff92 31.5px,#00fcea 33.5px,#00e8f6 35.5px,#00e2f9 40.5px,#00bdff 42.5px,#008fff 44.5px,#017bff 46.5px,#017dff 52.5px,#0093ff 54.5px,#00dafe 57.5px,#00f6ee 60.5px,#00ffe2 66.5px,#00ff1d 81.5px,#03ff09 83.5px,#1eff04 90.5px,#36ff00 92.5px,#68fb00 94.5px,#8cf900 97.5px,#e8ec00 111.5px,#fae800 139.5px,#fae500 179.5px,#ffa900 190.5px,#ff8c00 202.5px,#ff6d00 211.5px,#ff5e00 220.5px,#ff4000 228.5px,#ff6600 239.5px,#ff6c00 261.5px,#ff6900 286.5px,#ff9e00 298.5px,#ffa600 308.5px,#ff9100 317.5px,#ff6800 326.5px,#ff6600 339.5px)"></i><i style="background:linear-gradient(90deg,#0c47ff 0.5px,#1810ff 2.5px,#2a0aff 5.5px,#250cff 8.5px,#1c0fff 9.5px,#122bff 10.5px,#0089ff 12.5px,#00c3ff 14.5px,#00dafe 16.5px,#00e5f8 23.5px,#00f6ed 25.5px,#00ffd6 26.5px,#00ff81 28.5px,#00ff71 29.5px,#00ff79 30.5px,#00ff9a 31.5px,#00fbeb 33.5px,#00e8f6 35.5px,#00e2f9 40.5px,#00bdff 42.5px,#008fff 44.5px,#017cff 46.5px,#0085ff 52.5px,#009cff 54.5px,#00e0fa 57.5px,#00fee9 60.5px,#00ffca 65.5px,#00ff5c 72.5px,#01ff0a 79.5px,#26ff02 90.5px,#30ff00 91.5px,#7ff900 94.5px,#97f800 96.5px,#b8f500 103.5px,#f1ea00 112.5px,#fae800 154.5px,#fae500 179.5px,#ffa300 190.5px,#ff9400 200.5px,#ff6b00 210.5px,#ff5d00 220.5px,#ff3b00 228.5px,#ff6600 239.5px,#ff6900 286.5px,#ff9b00 297.5px,#ff9e00 311.5px,#ff9100 317.5px,#ff6800 326.5px,#ff6600 339.5px)"></i><i style="background:linear-gradient(90deg,#0f39ff 0.5px,#151cff 1.5px,#210dff 2.5px,#3606ff 5.5px,#3108ff 8.5px,#1812ff 10.5px,#017dff 12.5px,#00bfff 14.5px,#00d9fe 16.5px,#00e9f5 24.5px,#00ffe8 26.5px,#00ffa3 28.5px,#00ff95 29.5px,#00ff9c 30.5px,#00ffdc 32.5px,#00f6ed 33.5px,#00e5f7 36.5px,#00e3f9 40.5px,#00c4ff 42.5px,#009eff 44.5px,#008fff 47.5px,#009eff 52.5px,#00b4ff 54.5px,#00dcfc 56.5px,#00fcea 58.5px,#00ffbe 61.5px,#00ffa2 65.5px,#00ff3d 70.5px,#00ff0d 74.5px,#1cff04 86.5px,#2aff01 90.5px,#3bfe00 91.5px,#8bf900 94.5px,#a1f700 96.5px,#b2f600 102.5px,#f2ea00 111.5px,#fae800 159.5px,#fae400 179.5px,#ff9f00 190.5px,#ff9300 200.5px,#ff6a00 209.5px,#ff6000 219.5px,#ff3900 228.5px,#ff6600 239.5px,#ff6900 286.5px,#ff9a00 297.5px,#ff9800 315.5px,#ff6800 326.5px,#ff6600 339.5px)"></i><i style="background:linear-gradient(90deg,#1034ff 0.5px,#1716ff 1.5px,#3706ff 4.5px,#3506ff 8.5px,#1b0fff 10.5px,#0278ff 12.5px,#00a1ff 13.5px,#00cfff 15.5px,#00dffb 18.5px,#00e6f7 24.5px,#00ffe4 27.5px,#00ffce 28.5px,#00ffc4 29.5px,#00ffc9 30.5px,#00f9eb 32.5px,#00e5f7 35.5px,#00e5f7 40.5px,#00b2ff 44.5px,#00aaff 47.5px,#00bbff 52.5px,#00dffb 55.5px,#00fde9 57.5px,#00ffb6 59.5px,#00ff95 62.5px,#00ff7e 65.5px,#00ff0f 70.5px,#1bff04 81.5px,#25ff02 89.5px,#2cff01 90.5px,#5dfc00 92.5px,#90f800 94.5px,#a5f700 96.5px,#b3f600 102.5px,#f4e900 111.5px,#fae400 179.5px,#ff9d00 190.5px,#ff9300 200.5px,#ff6900 209.5px,#ff6000 219.5px,#ff3700 228.5px,#ff6600 239.5px,#ff6900 286.5px,#ff9a00 297.5px,#ff9800 315.5px,#ff6800 326.5px,#ff6600 339.5px)"></i><i style="background:linear-gradient(90deg,#1036ff 0.5px,#1618ff 1.5px,#2f08ff 3.5px,#3905ff 6.5px,#2a0aff 9.5px,#1910ff 10.5px,#017aff 12.5px,#00a2ff 13.5px,#00d0ff 15.5px,#00e0fb 19.5px,#00e9f5 25.5px,#00fee9 29.5px,#00e4f8 35.5px,#00e6f6 40.5px,#00c4ff 44.5px,#00c3ff 49.5px,#00dafe 53.5px,#00fde9 56.5px,#00ff9d 59.5px,#00ff83 61.5px,#00ff67 65.5px,#02ff0a 69.5px,#15ff06 73.5px,#26ff02 89.5px,#2dff01 90.5px,#5ffc00 92.5px,#91f800 94.5px,#a6f700 96.5px,#b3f600 102.5px,#f8e900 112.5px,#fae400 179.5px,#ff9d00 190.5px,#ff9300 200.5px,#ff6800 209.5px,#ff6000 219.5px,#ff3800 227.5px,#ff4300 231.5px,#ff6400 238.5px,#ff6900 286.5px,#ff9a00 297.5px,#ff9800 315.5px,#ff6800 326.5px,#ff6600 339.5px)"></i><i style="background:linear-gradient(90deg,#00c1ff 0.5px,#00c3ff 2.5px,#009dff 4.5px,#0b4cff 7.5px,#1131ff 9.5px,#1326ff 15.5px,#122cff 30.5px,#0c47ff 32.5px,#009fff 36.5px,#00d3ff 40.5px,#00e0fa 44.5px,#00e5f7 60.5px,#00fbea 63.5px,#00ffc3 65.5px,#00ff70 69.5px,#00ff59 72.5px,#00ff4f 74.5px,#00ff2c 76.5px,#00ff10 77.5px,#1eff04 81.5px,#31ff00 87.5px,#53fd00 90.5px,#53fd00 93.5px,#02ff0a 99.5px,#00ff35 101.5px,#00ff3d 102.5px,#00ff2f 104.5px,#00ff10 106.5px,#1eff04 112.5px,#25ff02 171.5px,#3efe00 176.5px,#a5f700 189.5px,#b2f600 199.5px,#f4e900 208.5px,#fbe400 218.5px,#ff9f00 228.5px,#ff9d00 295.5px,#fae500 306.5px,#fae400 315.5px,#ffa700 324.5px,#ffad00 327.5px,#fae500 335.5px,#fae800 339.5px)"></i><i style="background:linear-gradient(90deg,#00c6ff 0.5px,#00ceff 2.5px,#00b1ff 4.5px,#0761ff 7.5px,#0f3cff 9.5px,#1328ff 13.5px,#1328ff 29.5px,#1036ff 31.5px,#009fff 36.5px,#00d3ff 40.5px,#00e0fa 44.5px,#00e5f7 60.5px,#00fbea 63.5px,#00ffc3 65.5px,#00ff70 69.5px,#00ff59 72.5px,#00ff4f 74.5px,#00ff2b 76.5px,#00ff10 77.5px,#1eff04 81.5px,#31ff00 87.5px,#53fd00 90.5px,#53fd00 93.5px,#02ff0a 99.5px,#00ff35 101.5px,#00ff3d 102.5px,#00ff2e 104.5px,#00ff0f 106.5px,#1eff04 112.5px,#23ff03 170.5px,#36ff00 175.5px,#a5f700 189.5px,#aef600 198.5px,#f7e900 209.5px,#fbdf00 219.5px,#ff9f00 228.5px,#ff9d00 295.5px,#fae500 306.5px,#fae400 315.5px,#ffa700 324.5px,#ffad00 327.5px,#fae400 335.5px,#fae800 339.5px)"></i><i style="background:linear-gradient(90deg,#00c3ff 0.5px,#00d3ff 2.5px,#00c5ff 4.5px,#0566ff 8.5px,#1035ff 11.5px,#1327ff 15.5px,#122cff 30.5px,#0c47ff 32.5px,#009fff 36.5px,#00d3ff 40.5px,#00e0fa 44.5px,#00e5f7 60.5px,#00fbea 63.5px,#00ffc3 65.5px,#00ff70 69.5px,#00ff58 72.5px,#00ff4d 74.5px,#00ff2a 76.5px,#00ff0f 77.5px,#1eff04 81.5px,#30ff00 87.5px,#52fd00 90.5px,#52fd00 93.5px,#02ff0a 99.5px,#00ff33 101.5px,#00ff3b 102.5px,#00ff2c 104.5px,#00ff0e 106.5px,#1eff04 112.5px,#26ff02 171.5px,#37ff00 175.5px,#a5f700 189.5px,#b4f600 199.5px,#f8e900 209.5px,#fbe300 218.5px,#ff9f00 228.5px,#ff9d00 295.5px,#fae400 306.5px,#fae400 315.5px,#ffa700 324.5px,#ffad00 327.5px,#fbe300 335.5px,#fae700 339.5px)"></i><i style="background:linear-gradient(90deg,#00b6ff 0.5px,#00d3ff 3.5px,#00c7ff 5.5px,#0370ff 9.5px,#0d45ff 11.5px,#122aff 14.5px,#1328ff 29.5px,#1036ff 31.5px,#009fff 36.5px,#00d4ff 40.5px,#00e1f9 44.5px,#00e3f9 59.5px,#00fbea 63.5px,#00ffc3 65.5px,#00ff70 69.5px,#00ff55 72.5px,#00ff49 74.5px,#00ff26 76.5px,#00ff0c 77.5px,#1eff04 81.5px,#30ff00 87.5px,#50fd00 90.5px,#52fd00 93.5px,#04ff09 99.5px,#00ff2e 101.5px,#00ff36 102.5px,#00ff28 104.5px,#00ff0b 106.5px,#1eff04 112.5px,#27ff02 171.5px,#3afe00 175.5px,#a6f700 189.5px,#b7f500 199.5px,#f8e800 209.5px,#fbdc00 219.5px,#ff9f00 228.5px,#ff9c00 294.5px,#ffb500 299.5px,#fbe100 306.5px,#fae400 315.5px,#ffa700 324.5px,#ffac00 327.5px,#fbe100 335.5px,#fae400 339.5px)"></i><i style="background:linear-gradient(90deg,#00a1ff 0.5px,#00cfff 4.5px,#00caff 6.5px,#0092ff 9.5px,#0c49ff 12.5px,#122bff 15.5px,#1328ff 29.5px,#1036ff 31.5px,#00a0ff 36.5px,#00d5ff 40.5px,#00e4f8 45.5px,#00e2f9 59.5px,#00fbea 63.5px,#00ffc3 65.5px,#00ff6f 69.5px,#00ff50 72.5px,#00ff33 75.5px,#02ff0a 77.5px,#1eff04 81.5px,#2eff00 87.5px,#50fd00 91.5px,#50fd00 93.5px,#07ff09 99.5px,#00ff2c 102.5px,#00ff20 104.5px,#02ff0a 106.5px,#1eff04 112.5px,#29ff01 171.5px,#40fe00 175.5px,#a7f700 189.5px,#bdf500 199.5px,#f9e800 209.5px,#fcd700 219.5px,#ff9c00 229.5px,#ff9900 283.5px,#ffa000 296.5px,#fbdd00 306.5px,#fbe400 315.5px,#ffa400 325.5px,#fbde00 336.5px,#fbdf00 339.5px)"></i><i style="background:linear-gradient(90deg,#008dff 0.5px,#00caff 5.5px,#00ceff 7.5px,#00b3ff 9.5px,#0664ff 12.5px,#0f3aff 14.5px,#1328ff 17.5px,#1328ff 29.5px,#1036ff 31.5px,#075fff 33.5px,#00a1ff 36.5px,#00d7ff 40.5px,#00e7f6 45.5px,#00dbfd 57.5px,#00f3ef 62.5px,#00ffdb 64.5px,#00ff6e 69.5px,#00ff26 75.5px,#05ff09 77.5px,#1eff04 81.5px,#33ff00 88.5px,#4efd00 92.5px,#48fd00 94.5px,#0bff08 99.5px,#02ff0a 100.5px,#00ff1e 102.5px,#06ff09 106.5px,#20ff03 113.5px,#2dff01 171.5px,#a3f700 188.5px,#cff100 201.5px,#fae800 209.5px,#fdcc00 220.5px,#ff9c00 229.5px,#ff9600 271.5px,#ff9300 280.5px,#ffa400 297.5px,#fcd900 307.5px,#fbe300 315.5px,#ffa400 325.5px,#fec700 332.5px,#fcd700 338.5px,#fcd700 339.5px)"></i><i style="background:linear-gradient(90deg,#007eff 0.5px,#00a7ff 4.5px,#00d2ff 7.5px,#00d6ff 8.5px,#00bcff 10.5px,#0666ff 13.5px,#0f38ff 15.5px,#1327ff 18.5px,#122dff 30.5px,#0c4aff 32.5px,#00a5ff 36.5px,#00dbfd 40.5px,#00eaf5 45.5px,#00cfff 55.5px,#00e4f8 60.5px,#00fbea 63.5px,#00ffc3 65.5px,#00ff6e 69.5px,#02ff0a 76.5px,#1fff04 81.5px,#2fff00 88.5px,#4cfd00 93.5px,#3cfe00 95.5px,#08ff08 100.5px,#00ff0c 103.5px,#20ff03 113.5px,#27ff02 137.5px,#2eff00 170.5px,#8af900 183.5px,#c3f400 196.5px,#fbe400 210.5px,#ffba00 222.5px,#ff9c00 229.5px,#ff9600 269.5px,#ff8c00 278.5px,#ff9b00 291.5px,#ffa300 297.5px,#fcd700 309.5px,#fbe200 315.5px,#ffbc00 321.5px,#ffa300 325.5px,#fdcd00 336.5px,#fdce00 339.5px)"></i><i style="background:linear-gradient(90deg,#0372ff 0.5px,#008eff 4.5px,#00dbfd 8.5px,#00e0fa 9.5px,#00d8ff 10.5px,#00a5ff 12.5px,#0d45ff 15.5px,#122cff 17.5px,#1328ff 28.5px,#1130ff 30.5px,#0a50ff 32.5px,#0099ff 35.5px,#00ccff 38.5px,#00eaf5 42.5px,#00e4f8 47.5px,#00c2ff 53.5px,#00c9ff 57.5px,#00f2f0 62.5px,#00ffdb 64.5px,#00ff6c 69.5px,#01ff0a 75.5px,#1fff04 81.5px,#2fff00 89.5px,#49fd00 93.5px,#3efe00 95.5px,#16ff05 99.5px,#06ff09 103.5px,#20ff03 113.5px,#25ff02 134.5px,#30ff00 148.5px,#33ff00 169.5px,#88f900 181.5px,#f9e800 208.5px,#ff9c00 229.5px,#ff9700 268.5px,#ff8500 277.5px,#ff9b00 289.5px,#ffa100 297.5px,#fbe100 314.5px,#fdd300 318.5px,#ffa200 325.5px,#fec400 337.5px,#fec400 339.5px)"></i><i style="background:linear-gradient(90deg,#046dff 0.5px,#0278ff 4.5px,#009eff 6.5px,#00d7ff 8.5px,#00e7f6 9.5px,#00e9f5 10.5px,#00ddfc 11.5px,#009fff 13.5px,#0955ff 15.5px,#0e3dff 16.5px,#122aff 18.5px,#122cff 28.5px,#0c47ff 31.5px,#00a6ff 35.5px,#00d6ff 38.5px,#00edf3 42.5px,#00e6f7 46.5px,#00b8ff 51.5px,#00b0ff 55.5px,#00d3ff 59.5px,#00fbea 63.5px,#00ffab 66.5px,#01ff0a 74.5px,#1eff04 80.5px,#2fff00 90.5px,#47fd00 93.5px,#41fe00 95.5px,#1cff04 99.5px,#0dff07 103.5px,#20ff03 115.5px,#25ff02 133.5px,#3bfe00 144.5px,#3efe00 169.5px,#91f800 181.5px,#b8f500 191.5px,#ebeb00 203.5px,#fbe000 210.5px,#ffa400 225.5px,#ff9b00 236.5px,#ff9600 268.5px,#ff7f00 277.5px,#ff9b00 288.5px,#ffa200 298.5px,#fbe100 315.5px,#ffbc00 321.5px,#ffa100 325.5px,#ffb900 338.5px,#ffb900 339.5px)"></i><i style="background:linear-gradient(90deg,#056aff 0.5px,#0567ff 4.5px,#0373ff 5.5px,#00a9ff 7.5px,#00e4f8 9.5px,#00eff1 10.5px,#00ebf4 11.5px,#00d8ff 12.5px,#0569ff 15.5px,#0c49ff 16.5px,#122dff 18.5px,#1328ff 24.5px,#0e3fff 29.5px,#085dff 31.5px,#00b8ff 35.5px,#00dffb 38.5px,#00edf2 42.5px,#00e1fa 46.5px,#00a4ff 51.5px,#009cff 54.5px,#00b2ff 57.5px,#00e8f6 61.5px,#00fbea 63.5px,#00ff0e 73.5px,#1dff04 79.5px,#2dff01 90.5px,#48fd00 94.5px,#17ff05 101.5px,#20ff03 125.5px,#2bff01 135.5px,#45fe00 142.5px,#49fd00 169.5px,#96f800 180.5px,#b5f600 190.5px,#eaec00 200.5px,#fbe200 209.5px,#ffab00 220.5px,#ff9b00 232.5px,#ff9800 267.5px,#ff7a00 277.5px,#ff9c00 288.5px,#ffa400 300.5px,#ffb900 307.5px,#fbdf00 315.5px,#ffbb00 321.5px,#ffa000 325.5px,#ffaf00 339.5px)"></i><i style="background:linear-gradient(90deg,#0569ff 0.5px,#085cff 4.5px,#0663ff 5.5px,#0096ff 7.5px,#00d7ff 9.5px,#00e8f5 10.5px,#00ecf3 11.5px,#00e1fa 12.5px,#00c8ff 13.5px,#007fff 15.5px,#085aff 16.5px,#1132ff 18.5px,#1328ff 22.5px,#0f39ff 26.5px,#046cff 30.5px,#00ccff 35.5px,#00e5f7 38.5px,#00ebf4 43.5px,#00dbfd 46.5px,#0095ff 51.5px,#008fff 54.5px,#00abff 57.5px,#00e9f5 61.5px,#00fde9 63.5px,#03ff09 73.5px,#1bff04 77.5px,#2bff01 90.5px,#48fd00 94.5px,#3efe00 96.5px,#22ff03 100.5px,#1dff04 106.5px,#28ff02 133.5px,#50fd00 142.5px,#54fc00 169.5px,#9ef700 180.5px,#b9f500 190.5px,#f1ea00 200.5px,#fbdf00 209.5px,#ffa700 219.5px,#ff9b00 235.5px,#ff9700 267.5px,#ff7600 277.5px,#ff9e00 288.5px,#ffa200 302.5px,#ffb800 308.5px,#fbdc00 315.5px,#fec800 319.5px,#ff9d00 325.5px,#ffa600 339.5px)"></i><i style="background:linear-gradient(90deg,#0569ff 0.5px,#0957ff 5.5px,#0664ff 6.5px,#00d5ff 10.5px,#00e1fa 11.5px,#00e1fa 12.5px,#00d2ff 13.5px,#0a50ff 17.5px,#1130ff 19.5px,#122cff 22.5px,#0d41ff 25.5px,#00a6ff 31.5px,#00dafe 35.5px,#00e8f5 42.5px,#00d7ff 46.5px,#008fff 51.5px,#008cff 54.5px,#00adff 57.5px,#00e1fa 60.5px,#00ffe3 63.5px,#00ff10 72.5px,#1bff04 76.5px,#2aff01 90.5px,#49fd00 94.5px,#39fe00 97.5px,#24ff03 101.5px,#28ff02 132.5px,#42fe00 137.5px,#5cfc00 142.5px,#5ffc00 169.5px,#a4f700 180.5px,#bff500 190.5px,#f7e900 200.5px,#fcda00 209.5px,#ffa100 219.5px,#ff9900 254.5px,#ff9700 267.5px,#ff7500 276.5px,#ffa200 288.5px,#ff9f00 303.5px,#ffb200 308.5px,#fcd800 315.5px,#ffbb00 320.5px,#ff9900 325.5px,#ffa000 339.5px)"></i><i style="background:linear-gradient(90deg,#0569ff 0.5px,#0b4dff 5.5px,#0a53ff 6.5px,#0664ff 7.5px,#00caff 11.5px,#00d6ff 12.5px,#00d4ff 13.5px,#00c4ff 14.5px,#0665ff 17.5px,#0f39ff 19.5px,#1131ff 21.5px,#0e3dff 23.5px,#075eff 25.5px,#00b8ff 29.5px,#00d5ff 32.5px,#00e4f8 43.5px,#00d5ff 46.5px,#0094ff 51.5px,#0095ff 54.5px,#00b7ff 57.5px,#00e9f5 60.5px,#00fee8 62.5px,#02ff0a 72.5px,#1dff04 76.5px,#28ff02 89.5px,#3bfe00 92.5px,#4bfd00 94.5px,#3efe00 97.5px,#29ff02 101.5px,#2cff01 132.5px,#4cfd00 137.5px,#67fb00 142.5px,#6afb00 169.5px,#acf600 181.5px,#cbf200 191.5px,#fae700 200.5px,#fdcf00 210.5px,#ff9e00 219.5px,#ff9200 246.5px,#ff9a00 266.5px,#ff7900 277.5px,#ffa800 287.5px,#ff9c00 302.5px,#ffa700 307.5px,#fdd100 315.5px,#ffb300 320.5px,#ff9700 324.5px,#ff9a00 333.5px,#ff9d00 339.5px)"></i><i style="background:linear-gradient(90deg,#0568ff 0.5px,#0957ff 3.5px,#0d45ff 5.5px,#0b4cff 7.5px,#0277ff 9.5px,#00c1ff 12.5px,#00ceff 13.5px,#00ccff 14.5px,#00bbff 15.5px,#075fff 18.5px,#0c49ff 19.5px,#0e3eff 20.5px,#0c47ff 22.5px,#056bff 24.5px,#00d9fe 28.5px,#00eff2 30.5px,#00d4ff 36.5px,#00e0fa 44.5px,#00cbff 47.5px,#009fff 51.5px,#00a5ff 54.5px,#00c7ff 57.5px,#00e6f7 59.5px,#00fee9 61.5px,#00ff6b 67.5px,#00ff0e 71.5px,#1eff04 76.5px,#2bff01 89.5px,#4dfd00 94.5px,#3cfe00 98.5px,#2bff01 102.5px,#30ff00 132.5px,#70fa00 141.5px,#78fa00 170.5px,#bef500 185.5px,#eceb00 196.5px,#fbe200 201.5px,#fec200 211.5px,#ff9d00 219.5px,#ff9500 241.5px,#ff8d00 249.5px,#ff9b00 263.5px,#ff8b00 271.5px,#ff7f00 277.5px,#ffb100 287.5px,#ff9b00 299.5px,#ffa000 306.5px,#fec800 315.5px,#ffb200 319.5px,#ff9000 324.5px,#ff9b00 339.5px)"></i><i style="background:linear-gradient(90deg,#0567ff 0.5px,#0954ff 3.5px,#1038ff 6.5px,#0d41ff 8.5px,#046cff 10.5px,#00beff 13.5px,#00cbff 14.5px,#00c7ff 15.5px,#0098ff 17.5px,#0760ff 19.5px,#0955ff 20.5px,#0957ff 21.5px,#0179ff 23.5px,#00cbff 26.5px,#00fee9 28.5px,#00ffce 29.5px,#00ffd2 30.5px,#00faeb 31.5px,#00d7ff 33.5px,#00c5ff 35.5px,#00d3ff 39.5px,#00e0fa 43.5px,#00d0ff 47.5px,#00aeff 51.5px,#00c0ff 55.5px,#00e6f7 58.5px,#00fee8 60.5px,#00ff73 66.5px,#00ff13 70.5px,#0cff07 72.5px,#20ff03 77.5px,#28ff02 87.5px,#3cfe00 91.5px,#50fd00 95.5px,#30ff00 102.5px,#34ff00 131.5px,#78fa00 140.5px,#7ef900 158.5px,#82f900 170.5px,#fae700 199.5px,#ff9b00 220.5px,#ff9500 240.5px,#ff8600 248.5px,#ff9b00 260.5px,#ff9100 270.5px,#ff8500 277.5px,#ffaf00 284.5px,#ffba00 287.5px,#ff9b00 298.5px,#ffa200 307.5px,#ffbf00 315.5px,#ffa700 319.5px,#ff8700 325.5px,#ff9b00 338.5px,#ff9b00 339.5px)"></i><i style="background:linear-gradient(90deg,#0666ff 0.5px,#0b4fff 3.5px,#122cff 6.5px,#122bff 8.5px,#0c49ff 10.5px,#00a7ff 13.5px,#00bfff 14.5px,#00caff 15.5px,#00c4ff 16.5px,#0081ff 19.5px,#0276ff 20.5px,#008aff 22.5px,#00ccff 25.5px,#00fde9 27.5px,#00ffc3 28.5px,#00ffb6 29.5px,#00ffce 30.5px,#00f4ee 31.5px,#00dbfd 32.5px,#00c3ff 33.5px,#00b2ff 35.5px,#00dffb 42.5px,#00ddfc 46.5px,#00bfff 51.5px,#00d5ff 55.5px,#00ffe7 59.5px,#00ffa9 62.5px,#00ff79 65.5px,#00ff17 69.5px,#04ff09 70.5px,#1fff04 76.5px,#2aff01 87.5px,#52fd00 94.5px,#38fe00 104.5px,#3bfe00 130.5px,#6efb00 137.5px,#89f900 142.5px,#8cf800 170.5px,#b5f600 181.5px,#eceb00 194.5px,#fbdd00 201.5px,#ff9f00 217.5px,#ff9600 239.5px,#ff8000 248.5px,#ff9b00 260.5px,#ff8f00 272.5px,#ff8c00 277.5px,#ffb200 283.5px,#fec300 286.5px,#ffae00 292.5px,#ff9b00 298.5px,#ffa300 308.5px,#ffb500 315.5px,#ff8000 325.5px,#ff9b00 337.5px,#ff9b00 339.5px)"></i><i style="background:linear-gradient(90deg,#0663ff 0.5px,#0c46ff 3.5px,#151fff 6.5px,#1619ff 8.5px,#122bff 10.5px,#0663ff 12.5px,#00aaff 14.5px,#00c2ff 15.5px,#00caff 16.5px,#00b0ff 18.5px,#009fff 19.5px,#0099ff 20.5px,#00acff 22.5px,#00dbfd 25.5px,#00ffe5 28.5px,#00ffe8 29.5px,#00dbfd 31.5px,#00aaff 33.5px,#00a1ff 34.5px,#00b5ff 37.5px,#00dbfd 41.5px,#00e5f7 46.5px,#00cfff 51.5px,#00e5f7 55.5px,#00ffe4 58.5px,#00ffa4 61.5px,#00ff6b 65.5px,#02ff0a 69.5px,#1cff04 74.5px,#28ff02 86.5px,#52fd00 93.5px,#4afd00 99.5px,#43fe00 113.5px,#4afd00 131.5px,#92f800 141.5px,#9af800 172.5px,#b2f600 180.5px,#e7ec00 190.5px,#fae400 199.5px,#ffab00 211.5px,#ff9b00 222.5px,#ff9400 239.5px,#ff7a00 248.5px,#ff9a00 259.5px,#ff9300 272.5px,#ff9200 277.5px,#fdcb00 286.5px,#ffb100 292.5px,#ff9b00 297.5px,#ffa300 309.5px,#ffab00 315.5px,#ff7a00 325.5px,#ff9b00 337.5px,#ff9b00 339.5px)"></i><i style="background:linear-gradient(90deg,#0761ff 0.5px,#0f3bff 3.5px,#1619ff 5.5px,#1c0fff 7.5px,#1811ff 10.5px,#1422ff 11.5px,#0e3eff 12.5px,#00b0ff 15.5px,#00c5ff 16.5px,#00cbff 17.5px,#00b9ff 20.5px,#00dafe 27.5px,#00d5ff 29.5px,#0091ff 33.5px,#0098ff 35.5px,#00dcfd 41.5px,#00f3ef 46.5px,#00defb 51.5px,#00faeb 56.5px,#00ffe1 57.5px,#00ff91 61.5px,#00ff5e 65.5px,#00ff10 68.5px,#16ff05 71.5px,#21ff03 82.5px,#2eff00 87.5px,#4ffd00 91.5px,#54fc00 97.5px,#4cfd00 112.5px,#52fd00 130.5px,#85f900 137.5px,#a0f700 142.5px,#a1f700 172.5px,#b6f600 180.5px,#efea00 190.5px,#fbe300 199.5px,#ffa600 210.5px,#ff9900 229.5px,#ff9200 239.5px,#ff7400 247.5px,#ff9900 259.5px,#ff9600 277.5px,#fdcf00 286.5px,#ffb900 291.5px,#ff9c00 296.5px,#ffa300 312.5px,#ff9e00 316.5px,#ff7400 325.5px,#ff9a00 336.5px,#ff9b00 339.5px)"></i><i style="background:linear-gradient(90deg,#0760ff 0.5px,#0d45ff 2.5px,#161aff 4.5px,#210dff 6.5px,#220dff 10.5px,#1d0eff 11.5px,#151cff 12.5px,#0096ff 15.5px,#00b6ff 16.5px,#00caff 17.5px,#00cdff 20.5px,#00bfff 24.5px,#0093ff 30.5px,#017dff 32.5px,#0085ff 34.5px,#00d4ff 40.5px,#00ffe5 45.5px,#00ffd7 46.5px,#00ffd9 47.5px,#00f5ee 49.5px,#00eaf4 52.5px,#00ffe4 56.5px,#00ff85 61.5px,#00ff54 65.5px,#02ff0a 68.5px,#1aff05 71.5px,#28ff02 85.5px,#3efe00 88.5px,#53fd00 91.5px,#5bfc00 129.5px,#6ffb00 133.5px,#a6f700 140.5px,#adf600 150.5px,#a5f700 170.5px,#b6f600 179.5px,#f4e900 190.5px,#fbe300 199.5px,#ffa300 209.5px,#ff8f00 239.5px,#ff7000 247.5px,#ff9700 259.5px,#ff9700 277.5px,#fdcd00 286.5px,#ffb500 291.5px,#ff9900 296.5px,#ff9c00 315.5px,#ff7000 325.5px,#ff9a00 336.5px,#ff9b00 339.5px)"></i><i style="background:linear-gradient(90deg,#0665ff 0.5px,#0d46ff 2.5px,#1810ff 4.5px,#2c09ff 7.5px,#270bff 11.5px,#1f0eff 12.5px,#151fff 13.5px,#009fff 16.5px,#00bbff 17.5px,#00ccff 18.5px,#00cdff 20.5px,#009fff 24.5px,#0373ff 28.5px,#075eff 31.5px,#056bff 33.5px,#00bdff 38.5px,#00e8f6 42.5px,#00ffe0 44.5px,#00ffbc 45.5px,#00ffa6 46.5px,#00ffa6 47.5px,#00ffbc 48.5px,#00ffde 49.5px,#00f7ed 50.5px,#00f1f0 53.5px,#00fcea 55.5px,#00ffcb 57.5px,#00ff80 61.5px,#00ff4f 65.5px,#04ff09 68.5px,#1cff04 71.5px,#2aff01 85.5px,#56fc00 91.5px,#5cfc00 115.5px,#6dfb00 131.5px,#b3f600 140.5px,#baf500 147.5px,#a8f700 166.5px,#bbf500 178.5px,#f7e900 190.5px,#fbe200 199.5px,#ffa000 209.5px,#ff8a00 239.5px,#ff6d00 247.5px,#ff9400 260.5px,#ff9600 271.5px,#ff9500 277.5px,#fec400 286.5px,#ffa500 292.5px,#ff9300 297.5px,#ff9a00 315.5px,#ff6e00 325.5px,#ff9a00 336.5px,#ff9b00 339.5px)"></i><i style="background:linear-gradient(90deg,#0275ff 0.5px,#056aff 1.5px,#1034ff 3.5px,#1812ff 4.5px,#3108ff 7.5px,#2f08ff 11.5px,#1c0fff 13.5px,#122cff 14.5px,#0083ff 16.5px,#00a2ff 17.5px,#00b6ff 18.5px,#00bdff 19.5px,#00acff 21.5px,#0859ff 26.5px,#0e41ff 30.5px,#0b4eff 32.5px,#00afff 37.5px,#00e0fa 41.5px,#00f9ec 43.5px,#00ffcd 44.5px,#00ffa3 45.5px,#00ff89 46.5px,#00ff89 47.5px,#00ffa3 48.5px,#00ffcd 49.5px,#00faeb 50.5px,#00edf3 52.5px,#00ffe2 56.5px,#00ff80 61.5px,#00ff4d 65.5px,#00ff1a 67.5px,#05ff09 68.5px,#1dff04 71.5px,#2aff01 84.5px,#3dfe00 87.5px,#57fc00 91.5px,#5dfc00 113.5px,#71fa00 124.5px,#78fa00 131.5px,#c0f500 140.5px,#c3f400 151.5px,#a9f600 163.5px,#b1f600 172.5px,#dfee00 184.5px,#f9e800 190.5px,#fbe200 199.5px,#ff9e00 209.5px,#ff8200 240.5px,#ff6b00 247.5px,#ff9500 263.5px,#ff9400 271.5px,#ff9100 278.5px,#ffb300 286.5px,#ff8e00 296.5px,#ff9b00 312.5px,#ff9100 317.5px,#ff6d00 325.5px,#ff9a00 336.5px,#ff9b00 339.5px)"></i><i style="background:linear-gradient(90deg,#008dff 0.5px,#0086ff 1.5px,#0373ff 2.5px,#1329ff 4.5px,#1d0eff 5.5px,#3307ff 8.5px,#3207ff 11.5px,#220dff 13.5px,#1618ff 14.5px,#0084ff 17.5px,#0096ff 18.5px,#009cff 19.5px,#0088ff 21.5px,#0d43ff 25.5px,#122dff 29.5px,#1035ff 31.5px,#085aff 33.5px,#009eff 36.5px,#00d8ff 40.5px,#00faeb 43.5px,#00ffa3 45.5px,#00ff8c 46.5px,#00ff8f 47.5px,#00ffab 48.5px,#00ffd7 49.5px,#00f6ee 50.5px,#00e8f6 52.5px,#00fde9 56.5px,#00ff86 61.5px,#00ff4d 65.5px,#00ff19 67.5px,#06ff09 68.5px,#1dff04 71.5px,#2aff01 83.5px,#42fe00 87.5px,#57fc00 91.5px,#5ffc00 113.5px,#7cfa00 123.5px,#84f900 131.5px,#caf200 140.5px,#cef200 150.5px,#aaf600 162.5px,#b1f600 171.5px,#f9e800 190.5px,#fbe200 199.5px,#ff9e00 209.5px,#ff9200 222.5px,#ff8400 232.5px,#ff7c00 240.5px,#ff6b00 248.5px,#ff9800 267.5px,#ff8800 277.5px,#ff9e00 287.5px,#ff8800 297.5px,#ff9b00 309.5px,#ff9500 316.5px,#ff6d00 325.5px,#ff9a00 336.5px,#ff9b00 339.5px)"></i><i style="background:linear-gradient(90deg,#00a6ff 0.5px,#00a4ff 1.5px,#0097ff 2.5px,#007eff 3.5px,#122bff 5.5px,#1b0fff 6.5px,#3008ff 9.5px,#2a0aff 12.5px,#1910ff 14.5px,#075fff 17.5px,#0470ff 18.5px,#0374ff 19.5px,#0b4dff 22.5px,#122cff 25.5px,#1422ff 29.5px,#122eff 31.5px,#0955ff 33.5px,#009fff 36.5px,#00dafe 40.5px,#00f8ec 43.5px,#00ffbb 45.5px,#00ffad 46.5px,#00ffb4 47.5px,#00f9ec 49.5px,#00e1fa 51.5px,#00e8f5 54.5px,#00ffe2 57.5px,#00ff8e 61.5px,#00ff4e 65.5px,#00ff19 67.5px,#06ff09 68.5px,#1dff04 71.5px,#29ff01 82.5px,#40fe00 86.5px,#58fc00 91.5px,#5efc00 112.5px,#86f900 122.5px,#8ff800 131.5px,#d0f100 139.5px,#daef00 145.5px,#d1f100 152.5px,#abf600 161.5px,#aff600 170.5px,#edeb00 185.5px,#fae800 193.5px,#fbe200 199.5px,#ff9e00 209.5px,#ff9200 221.5px,#ff7d00 230.5px,#ff7500 241.5px,#ff6b00 249.5px,#ff9700 267.5px,#ff8100 278.5px,#ff9000 287.5px,#ff8100 297.5px,#ff9b00 308.5px,#ff9500 316.5px,#ff6d00 325.5px,#ff9a00 336.5px,#ff9b00 339.5px)"></i><i style="background:linear-gradient(90deg,#00b9ff 0.5px,#00b7ff 2.5px,#00a5ff 3.5px,#0761ff 5.5px,#161aff 7.5px,#250cff 9.5px,#250cff 12.5px,#1910ff 14.5px,#0d42ff 17.5px,#0b4cff 19.5px,#151fff 25.5px,#151fff 30.5px,#0f3aff 32.5px,#00a1ff 36.5px,#00d3ff 39.5px,#00fde9 44.5px,#00ffda 46.5px,#00f5ee 48.5px,#00d5ff 51.5px,#00e1fa 54.5px,#00fcea 57.5px,#00ff85 62.5px,#00ff4f 65.5px,#00ff19 67.5px,#06ff09 68.5px,#1dff04 71.5px,#27ff02 81.5px,#55fc00 89.5px,#5ffc00 112.5px,#91f800 122.5px,#9bf700 131.5px,#deee00 140.5px,#e3ed00 149.5px,#acf600 161.5px,#b1f600 170.5px,#e8ec00 181.5px,#fae800 193.5px,#fbe100 199.5px,#ff9e00 209.5px,#ff9300 220.5px,#ff7600 230.5px,#ff6b00 250.5px,#ff8500 261.5px,#ff9600 267.5px,#ff7900 278.5px,#ff8200 288.5px,#ff7b00 297.5px,#ff9b00 308.5px,#ff9500 316.5px,#ff6c00 325.5px,#ff9a00 336.5px,#ff9b00 339.5px)"></i><i style="background:linear-gradient(90deg,#00beff 0.5px,#00c9ff 2.5px,#00c2ff 3.5px,#0095ff 5.5px,#1133ff 8.5px,#161bff 9.5px,#1a0fff 10.5px,#1713ff 14.5px,#1034ff 18.5px,#1618ff 25.5px,#151cff 30.5px,#0f38ff 32.5px,#00a6ff 36.5px,#00d9fe 39.5px,#00f2ef 43.5px,#00f5ee 46.5px,#00ceff 50.5px,#00cbff 52.5px,#00eef2 56.5px,#00ffe3 58.5px,#00ff77 63.5px,#00ff34 66.5px,#00ff17 67.5px,#07ff09 68.5px,#1dff04 71.5px,#29ff02 81.5px,#51fd00 87.5px,#5bfc00 102.5px,#62fb00 112.5px,#9bf700 122.5px,#a6f700 131.5px,#e7ec00 140.5px,#eceb00 149.5px,#bcf500 158.5px,#adf600 163.5px,#b4f600 170.5px,#edeb00 180.5px,#fae700 194.5px,#fcdb00 200.5px,#ff9e00 209.5px,#ff9100 220.5px,#ff7000 229.5px,#ff6b00 252.5px,#ff7d00 260.5px,#ff9400 267.5px,#ff7200 277.5px,#ff7400 291.5px,#ff7900 298.5px,#ff9900 307.5px,#ff9500 316.5px,#ff6b00 325.5px,#ff9900 336.5px,#ff9a00 339.5px)"></i><i style="background:linear-gradient(90deg,#00b3ff 0.5px,#00c9ff 2.5px,#00c7ff 4.5px,#00a3ff 6.5px,#1034ff 10.5px,#161bff 12.5px,#1326ff 19.5px,#1714ff 25.5px,#151dff 30.5px,#0e3cff 32.5px,#0097ff 35.5px,#00d5ff 38.5px,#00eff2 42.5px,#00ebf4 46.5px,#00c6ff 50.5px,#00ceff 53.5px,#00fee8 58.5px,#00ff2e 66.5px,#00ff13 67.5px,#12ff06 69.5px,#20ff03 73.5px,#2bff01 81.5px,#52fd00 86.5px,#66fb00 112.5px,#a3f700 122.5px,#b2f600 131.5px,#f1ea00 141.5px,#f0ea00 150.5px,#b3f600 161.5px,#b9f500 170.5px,#f3ea00 180.5px,#fbdd00 199.5px,#ff9d00 209.5px,#ff8e00 220.5px,#ff6c00 229.5px,#ff6b00 256.5px,#ff9100 267.5px,#ff6c00 278.5px,#ff7100 297.5px,#ff9700 307.5px,#ff9500 316.5px,#ff6900 325.5px,#ff9600 336.5px,#ff9700 339.5px)"></i><i style="background:linear-gradient(90deg,#00a0ff 0.5px,#00cbff 4.5px,#00c1ff 6.5px,#0080ff 9.5px,#0c49ff 11.5px,#122cff 13.5px,#1715ff 25.5px,#1424ff 30.5px,#0c49ff 32.5px,#00a5ff 35.5px,#00d0ff 37.5px,#00eaf4 40.5px,#00ebf4 45.5px,#00c8ff 50.5px,#00cfff 53.5px,#00fee9 58.5px,#00ff55 64.5px,#00ff0b 67.5px,#1eff04 71.5px,#2dff01 81.5px,#55fc00 86.5px,#6dfb00 112.5px,#a8f700 122.5px,#bef500 131.5px,#f5e900 141.5px,#f4e900 150.5px,#bcf500 161.5px,#c1f400 170.5px,#f6e900 180.5px,#fbdd00 197.5px,#ffba00 204.5px,#ff9a00 210.5px,#ff8a00 220.5px,#ff6900 229.5px,#ff6b00 257.5px,#ff8d00 267.5px,#ff6900 278.5px,#ff6e00 297.5px,#ff9300 307.5px,#ff9700 315.5px,#ff6500 325.5px,#ff9200 336.5px,#ff9200 339.5px)"></i><i style="background:linear-gradient(90deg,#008dff 0.5px,#00c7ff 5.5px,#00c6ff 7.5px,#00a6ff 9.5px,#0d43ff 13.5px,#1329ff 16.5px,#1618ff 24.5px,#122cff 29.5px,#0c49ff 31.5px,#009fff 34.5px,#00cdff 36.5px,#00e8f6 39.5px,#00e9f5 46.5px,#00cdff 51.5px,#00e1fa 55.5px,#00ffe6 58.5px,#00ff5d 63.5px,#00ff17 66.5px,#04ff09 67.5px,#1eff04 71.5px,#30ff00 81.5px,#53fd00 85.5px,#64fb00 98.5px,#6ffb00 106.5px,#76fa00 112.5px,#b2f600 124.5px,#d6f000 134.5px,#f7e900 141.5px,#f3ea00 151.5px,#c5f300 161.5px,#c9f300 170.5px,#f8e800 180.5px,#fbe100 192.5px,#fec600 201.5px,#ff9900 210.5px,#ff7d00 222.5px,#ff6700 230.5px,#ff6c00 258.5px,#ff8700 267.5px,#ff6700 279.5px,#ff6c00 297.5px,#ff9300 310.5px,#ff9300 316.5px,#ff5f00 325.5px,#ff8b00 336.5px,#ff8c00 339.5px)"></i><i style="background:linear-gradient(90deg,#017dff 0.5px,#00a6ff 4.5px,#00c9ff 7.5px,#00c0ff 9.5px,#017dff 12.5px,#0b4bff 14.5px,#122aff 17.5px,#151dff 23.5px,#1035ff 27.5px,#085aff 30.5px,#00cbff 35.5px,#00e1fa 37.5px,#00edf2 46.5px,#00d8ff 52.5px,#00ecf3 56.5px,#00ffdf 58.5px,#00ff66 62.5px,#01ff0a 66.5px,#1eff04 71.5px,#2fff00 80.5px,#55fc00 85.5px,#61fc00 96.5px,#79fa00 103.5px,#83f900 113.5px,#d0f100 131.5px,#f8e800 141.5px,#f5e900 151.5px,#cff100 161.5px,#d5f000 171.5px,#f9e800 180.5px,#fbe100 191.5px,#ffac00 205.5px,#ff8e00 214.5px,#ff6700 230.5px,#ff6b00 258.5px,#ff8100 267.5px,#ff6700 279.5px,#ff6b00 297.5px,#ff9700 314.5px,#ff7e00 319.5px,#ff5800 325.5px,#ff8500 336.5px,#ff8500 339.5px)"></i><i style="background:linear-gradient(90deg,#0372ff 0.5px,#008dff 4.5px,#00c6ff 8.5px,#00c4ff 10.5px,#009dff 12.5px,#0a50ff 15.5px,#1132ff 17.5px,#1423ff 21.5px,#122dff 24.5px,#046dff 28.5px,#00d8ff 35.5px,#00f4ef 46.5px,#00e1fa 53.5px,#00eef2 56.5px,#00f8ec 57.5px,#00ffd8 58.5px,#00ff56 62.5px,#00ff0b 65.5px,#1fff04 71.5px,#2fff00 79.5px,#56fc00 85.5px,#5ffc00 95.5px,#83f900 102.5px,#8cf900 113.5px,#f5e900 139.5px,#f6e900 151.5px,#d8ef00 162.5px,#e1ed00 172.5px,#fae800 181.5px,#fbe300 190.5px,#ff8700 215.5px,#ff6700 230.5px,#ff6c00 259.5px,#ff7a00 268.5px,#ff6700 279.5px,#ff6c00 298.5px,#ff9500 315.5px,#ff5200 325.5px,#ff7000 332.5px,#ff7e00 338.5px,#ff7e00 339.5px)"></i><i style="background:linear-gradient(90deg,#046cff 0.5px,#0274ff 4.5px,#009fff 7.5px,#00c3ff 9.5px,#00caff 10.5px,#00b8ff 12.5px,#0954ff 16.5px,#1034ff 18.5px,#122bff 21.5px,#1037ff 23.5px,#0859ff 25.5px,#00a4ff 28.5px,#00c9ff 31.5px,#00dbfd 35.5px,#00dffb 40.5px,#00faeb 46.5px,#00e9f5 55.5px,#00fbea 57.5px,#00ffaa 59.5px,#00ff46 62.5px,#00ff0f 64.5px,#1eff04 70.5px,#2eff00 78.5px,#54fc00 84.5px,#61fc00 95.5px,#8df800 102.5px,#9bf700 115.5px,#b9f500 123.5px,#e8ec00 133.5px,#fae800 143.5px,#f3ea00 153.5px,#e2ed00 163.5px,#ebeb00 173.5px,#fae800 183.5px,#fbdd00 191.5px,#ffac00 202.5px,#ff7000 222.5px,#ff6700 235.5px,#ff6c00 260.5px,#ff7300 269.5px,#ff6700 282.5px,#ff6c00 299.5px,#ff8700 310.5px,#ff9300 315.5px,#ff6600 321.5px,#ff4b00 325.5px,#ff6300 331.5px,#ff7700 337.5px,#ff7700 339.5px)"></i><i style="background:linear-gradient(90deg,#056aff 0.5px,#0664ff 5.5px,#0082ff 7.5px,#00c0ff 10.5px,#00caff 11.5px,#00c8ff 12.5px,#00a6ff 14.5px,#0958ff 17.5px,#0f3bff 19.5px,#0f3bff 21.5px,#0a52ff 23.5px,#0084ff 25.5px,#00dafe 28.5px,#00eef2 30.5px,#00d0ff 37.5px,#00eaf4 42.5px,#00ffe2 46.5px,#00f8ec 51.5px,#00ecf3 55.5px,#00fde9 57.5px,#00ff57 61.5px,#00ff1a 63.5px,#04ff09 64.5px,#1bff04 68.5px,#27ff02 76.5px,#3bfe00 79.5px,#55fc00 84.5px,#5ffc00 94.5px,#97f800 102.5px,#acf600 120.5px,#edeb00 132.5px,#fae700 143.5px,#eceb00 169.5px,#fae600 183.5px,#fbdf00 190.5px,#ffa900 200.5px,#ff8a00 212.5px,#ff6e00 221.5px,#ff6600 249.5px,#ff6c00 271.5px,#ff6c00 302.5px,#ff8700 311.5px,#ff9100 315.5px,#ff6200 321.5px,#ff4400 325.5px,#ff7000 336.5px,#ff7100 339.5px)"></i><i style="background:linear-gradient(90deg,#0569ff 0.5px,#0a53ff 5.5px,#0662ff 7.5px,#00beff 11.5px,#00c9ff 12.5px,#00c9ff 13.5px,#00aaff 15.5px,#0760ff 18.5px,#0a51ff 19.5px,#0956ff 21.5px,#008fff 24.5px,#00caff 26.5px,#00ffe8 28.5px,#00ffcb 29.5px,#00ffcf 30.5px,#00fde9 31.5px,#00dbfd 33.5px,#00c5ff 35.5px,#00c9ff 38.5px,#00ebf4 42.5px,#00fcea 44.5px,#00ffd0 46.5px,#00ffd0 49.5px,#00f5ee 53.5px,#00f5ee 56.5px,#00ffe5 57.5px,#00ff4d 61.5px,#00ff0d 63.5px,#1bff04 67.5px,#28ff02 76.5px,#51fd00 82.5px,#68fb00 95.5px,#9ff700 102.5px,#b6f600 121.5px,#f4e900 132.5px,#f9e800 151.5px,#f5e900 171.5px,#fbdf00 189.5px,#ffa200 200.5px,#ff8b00 211.5px,#ff6b00 220.5px,#ff6800 263.5px,#ff6c00 306.5px,#ff8c00 315.5px,#ff7000 319.5px,#ff4300 324.5px,#ff4200 327.5px,#ff6b00 336.5px,#ff6c00 339.5px)"></i><i style="background:linear-gradient(90deg,#0569ff 0.5px,#085aff 3.5px,#0d46ff 6.5px,#085aff 8.5px,#00bbff 12.5px,#00c8ff 13.5px,#00caff 14.5px,#00aeff 16.5px,#0374ff 19.5px,#0372ff 20.5px,#009dff 23.5px,#00e4f8 26.5px,#00fbea 27.5px,#00ffc6 28.5px,#00ffb9 29.5px,#00f6ed 31.5px,#00c8ff 33.5px,#00b4ff 35.5px,#00c3ff 38.5px,#00e2f9 41.5px,#00ffe4 44.5px,#00ffbd 46.5px,#00ffb4 48.5px,#00ffcd 51.5px,#00fcea 53.5px,#00f9eb 56.5px,#00ffdc 57.5px,#00ff46 61.5px,#02ff0a 63.5px,#1bff04 66.5px,#27ff02 76.5px,#50fd00 82.5px,#6efb00 95.5px,#a4f700 102.5px,#b7f500 116.5px,#c2f400 122.5px,#f9e800 132.5px,#fbe100 144.5px,#f8e900 169.5px,#fcd900 189.5px,#ff9d00 200.5px,#ff8800 211.5px,#ff6900 219.5px,#ff6400 262.5px,#ff6500 306.5px,#ff8400 315.5px,#ff5800 321.5px,#ff3b00 325.5px,#ff6800 336.5px,#ff6900 339.5px)"></i><i style="background:linear-gradient(90deg,#0569ff 0.5px,#0859ff 3.5px,#0e3cff 6.5px,#0d44ff 8.5px,#046dff 10.5px,#00b8ff 13.5px,#00cbff 15.5px,#00b4ff 17.5px,#0098ff 19.5px,#00a1ff 21.5px,#00d9fe 25.5px,#00fcea 28.5px,#00fbeb 29.5px,#00dafe 31.5px,#00aeff 33.5px,#00a4ff 34.5px,#00b5ff 37.5px,#00e2f9 41.5px,#00faeb 43.5px,#00ffa5 46.5px,#00ff9c 48.5px,#00ffba 51.5px,#00ffe1 53.5px,#00faeb 55.5px,#00fee9 56.5px,#00ffd2 57.5px,#00ff21 62.5px,#03ff09 63.5px,#1cff04 66.5px,#27ff02 76.5px,#41fe00 80.5px,#6cfb00 90.5px,#76fa00 95.5px,#acf600 103.5px,#c2f400 114.5px,#c9f300 122.5px,#fae600 132.5px,#fcd900 142.5px,#fae800 155.5px,#fbe200 173.5px,#fcd500 184.5px,#fdce00 190.5px,#ff9a00 200.5px,#ff7f00 212.5px,#ff6700 220.5px,#ff6000 252.5px,#ff6000 262.5px,#ff6700 282.5px,#ff6000 301.5px,#ff6000 307.5px,#ff7900 315.5px,#ff5200 321.5px,#ff3900 325.5px,#ff5300 331.5px,#ff6700 337.5px,#ff6700 339.5px)"></i><i style="background:linear-gradient(90deg,#0569ff 0.5px,#0958ff 3.5px,#1033ff 7.5px,#0e3fff 9.5px,#0568ff 11.5px,#00b4ff 14.5px,#00c5ff 15.5px,#00c8ff 17.5px,#00b9ff 20.5px,#00d2ff 25.5px,#00d6ff 28.5px,#00c1ff 30.5px,#009dff 32.5px,#0092ff 34.5px,#00d7ff 40.5px,#00fee8 43.5px,#00ffa0 45.5px,#00ff88 46.5px,#00ff80 48.5px,#00ffa8 51.5px,#00ffe1 54.5px,#00ffe7 55.5px,#00ffde 56.5px,#00ffa7 58.5px,#00ff20 62.5px,#04ff09 63.5px,#1dff04 66.5px,#29ff01 77.5px,#76fa00 90.5px,#85f900 96.5px,#bcf500 106.5px,#ccf200 114.5px,#d2f100 122.5px,#fae400 132.5px,#fdcf00 141.5px,#fae800 153.5px,#fbe300 171.5px,#fdcc00 182.5px,#ffc200 191.5px,#ff9600 201.5px,#ff6700 220.5px,#ff6100 250.5px,#ff5500 258.5px,#ff6700 271.5px,#ff6000 299.5px,#ff5800 307.5px,#ff6d00 315.5px,#ff3800 325.5px,#ff6600 336.5px,#ff6700 339.5px)"></i><i style="background:linear-gradient(90deg,#0568ff 0.5px,#0957ff 3.5px,#112eff 7.5px,#1131ff 9.5px,#0b4bff 11.5px,#0099ff 14.5px,#00c3ff 16.5px,#00cfff 18.5px,#00c5ff 23.5px,#008eff 30.5px,#017cff 32.5px,#0086ff 34.5px,#00d7ff 40.5px,#00f2f0 42.5px,#00ffdf 43.5px,#00ff88 45.5px,#00ff6e 46.5px,#00ff65 47.5px,#00ff74 49.5px,#00ffd1 54.5px,#00ffd8 55.5px,#00ffd1 56.5px,#00ff9f 58.5px,#00ff1f 62.5px,#04ff09 63.5px,#1dff04 66.5px,#2aff01 78.5px,#43fe00 82.5px,#7cfa00 89.5px,#97f800 98.5px,#d1f100 110.5px,#deee00 123.5px,#fbe200 132.5px,#fec700 141.5px,#fae800 152.5px,#fbe200 171.5px,#ffc200 181.5px,#ffbd00 190.5px,#ff8300 207.5px,#ff6700 221.5px,#ff6100 249.5px,#ff4f00 258.5px,#ff6600 269.5px,#ff6300 297.5px,#ff4e00 306.5px,#ff6000 315.5px,#ff3700 325.5px,#ff6600 336.5px,#ff6700 339.5px)"></i><i style="background:linear-gradient(90deg,#0568ff 0.5px,#0955ff 3.5px,#122bff 7.5px,#122eff 10.5px,#0c47ff 12.5px,#00acff 16.5px,#00caff 18.5px,#00caff 20.5px,#009dff 24.5px,#075fff 30.5px,#075fff 32.5px,#00cbff 39.5px,#00e5f8 41.5px,#00f3ef 42.5px,#00ffd9 43.5px,#00ff7c 45.5px,#00ff60 46.5px,#00ff56 47.5px,#00ff66 49.5px,#00ffc1 54.5px,#00ffc8 55.5px,#00ffc3 56.5px,#00ff97 58.5px,#00ff1f 62.5px,#04ff09 63.5px,#1dff04 66.5px,#2aff01 79.5px,#3efe00 82.5px,#85f900 89.5px,#a9f600 101.5px,#dfee00 112.5px,#e9ec00 124.5px,#fbe000 132.5px,#ffbe00 140.5px,#fae700 152.5px,#fbe300 170.5px,#ffb700 181.5px,#ffae00 192.5px,#ff7000 213.5px,#ff6600 228.5px,#ff6200 248.5px,#ff4800 257.5px,#ff6600 269.5px,#ff6200 297.5px,#ff4700 306.5px,#ff5200 316.5px,#ff3600 325.5px,#ff6600 336.5px,#ff6600 339.5px)"></i><i style="background:linear-gradient(90deg,#0567ff 0.5px,#0a52ff 3.5px,#1325ff 7.5px,#1423ff 10.5px,#1132ff 12.5px,#0958ff 14.5px,#00a4ff 17.5px,#00b7ff 19.5px,#00a6ff 21.5px,#085aff 26.5px,#0d43ff 29.5px,#0d44ff 31.5px,#0662ff 33.5px,#00b0ff 37.5px,#00d8ff 40.5px,#00f4ef 42.5px,#00ffd9 43.5px,#00ff7f 45.5px,#00ff63 46.5px,#00ff57 47.5px,#00ff61 49.5px,#00ffb0 54.5px,#00ffb8 55.5px,#00ffb4 56.5px,#00ff8e 58.5px,#04ff09 63.5px,#1dff04 66.5px,#2bff01 80.5px,#3afe00 82.5px,#8ef800 89.5px,#b2f600 102.5px,#e8ec00 112.5px,#fbe200 131.5px,#ffb500 140.5px,#fdcf00 146.5px,#fae600 152.5px,#fae400 169.5px,#ffaf00 180.5px,#ffa300 194.5px,#ff6e00 212.5px,#ff6600 236.5px,#ff6100 248.5px,#ff4100 257.5px,#ff6600 268.5px,#ff6100 297.5px,#ff4000 307.5px,#ff4600 317.5px,#ff3600 325.5px,#ff6600 336.5px,#ff6600 339.5px)"></i><i style="background:linear-gradient(90deg,#0664ff 0.5px,#0b4bff 3.5px,#151cff 7.5px,#151cff 11.5px,#0e3dff 14.5px,#0082ff 17.5px,#0094ff 19.5px,#0082ff 21.5px,#0c46ff 25.5px,#1131ff 29.5px,#0f39ff 31.5px,#0278ff 34.5px,#00c0ff 38.5px,#00e6f7 41.5px,#00ffde 43.5px,#00ff8e 45.5px,#00ff73 46.5px,#00ff61 48.5px,#00ff74 51.5px,#00ff9f 54.5px,#00ffa6 55.5px,#00ff95 57.5px,#00ff3a 61.5px,#04ff09 63.5px,#1dff04 66.5px,#2aff01 80.5px,#39fe00 82.5px,#95f800 89.5px,#a0f700 93.5px,#b6f600 102.5px,#f0ea00 112.5px,#fbe200 130.5px,#ffad00 140.5px,#feca00 146.5px,#fae400 152.5px,#fbe200 169.5px,#ffa700 180.5px,#ff9700 198.5px,#ff6c00 210.5px,#ff5f00 248.5px,#ff3c00 257.5px,#ff6600 268.5px,#ff6300 296.5px,#ff3d00 306.5px,#ff3d00 319.5px,#ff3a00 326.5px,#ff6400 335.5px,#ff6600 339.5px)"></i><i style="background:linear-gradient(90deg,#0761ff 0.5px,#0e40ff 3.5px,#1716ff 6.5px,#1910ff 11.5px,#1329ff 14.5px,#0568ff 18.5px,#0666ff 20.5px,#1132ff 25.5px,#1329ff 29.5px,#1034ff 31.5px,#085cff 33.5px,#00a3ff 36.5px,#00ddfc 40.5px,#00ffe2 43.5px,#00ff9e 45.5px,#00ff75 47.5px,#00ff69 50.5px,#00ff92 55.5px,#00ff84 57.5px,#00ff36 61.5px,#04ff09 63.5px,#1dff04 66.5px,#2aff01 80.5px,#3cfe00 82.5px,#91f800 88.5px,#a4f700 91.5px,#b8f500 101.5px,#f6e900 112.5px,#fcda00 131.5px,#ffa800 140.5px,#ffb800 144.5px,#fbde00 151.5px,#fae500 163.5px,#fcd400 171.5px,#ffa100 180.5px,#ff9100 199.5px,#ff6900 210.5px,#ff5b00 248.5px,#ff3900 257.5px,#ff6600 268.5px,#ff6300 296.5px,#ff3c00 307.5px,#ff4100 318.5px,#ff3b00 325.5px,#ff6600 336.5px,#ff6600 339.5px)"></i><i style="background:linear-gradient(90deg,#085dff 0.5px,#0d45ff 2.5px,#1910ff 5.5px,#210dff 10.5px,#1910ff 13.5px,#0c47ff 18.5px,#0e3eff 21.5px,#1325ff 26.5px,#1328ff 30.5px,#0d42ff 32.5px,#00a6ff 36.5px,#00e2f9 40.5px,#00ffdf 43.5px,#00ff90 46.5px,#00ff6e 49.5px,#00ff6e 52.5px,#00ff7f 55.5px,#00ff67 58.5px,#00ff30 61.5px,#05ff09 63.5px,#1fff04 67.5px,#29ff02 79.5px,#34ff00 81.5px,#95f800 88.5px,#a7f700 91.5px,#bdf500 100.5px,#fae800 112.5px,#fcd700 126.5px,#fdce00 132.5px,#ffa400 140.5px,#ffba00 145.5px,#fbdc00 153.5px,#fae400 162.5px,#fdce00 171.5px,#ff9e00 180.5px,#ff8f00 198.5px,#ff6800 210.5px,#ff5f00 234.5px,#ff5300 249.5px,#ff3700 257.5px,#ff6600 268.5px,#ff6100 297.5px,#ff4100 306.5px,#ff4800 318.5px,#ff4300 326.5px,#ff6600 336.5px,#ff6600 339.5px)"></i><i style="background:linear-gradient(90deg,#0859ff 0.5px,#0f3aff 2.5px,#1a0fff 4.5px,#2a0aff 8.5px,#1f0eff 13.5px,#161aff 15.5px,#1132ff 18.5px,#151fff 28.5px,#122cff 31.5px,#0955ff 33.5px,#00a8ff 36.5px,#00dcfd 39.5px,#00fcea 42.5px,#00ff93 46.5px,#00ff71 49.5px,#00ff6b 52.5px,#00ff6d 56.5px,#00ff4c 59.5px,#00ff12 62.5px,#18ff05 65.5px,#2cff01 79.5px,#3dfe00 81.5px,#90f800 87.5px,#a8f700 91.5px,#bdf500 98.5px,#fae600 112.5px,#fdce00 124.5px,#fec600 132.5px,#ffa200 140.5px,#ffb900 146.5px,#fbde00 156.5px,#fbe200 162.5px,#ffbc00 173.5px,#ff9c00 181.5px,#ff9100 194.5px,#ff6700 210.5px,#ff6000 231.5px,#ff5400 243.5px,#ff4600 251.5px,#ff3600 257.5px,#ff6600 268.5px,#ff6200 297.5px,#ff4800 307.5px,#ff5400 317.5px,#ff4900 326.5px,#ff6600 337.5px,#ff6600 339.5px)"></i><i style="background:linear-gradient(90deg,#0859ff 0.5px,#1035ff 2.5px,#1619ff 3.5px,#290aff 5.5px,#3108ff 10.5px,#1812ff 15.5px,#1328ff 18.5px,#151cff 29.5px,#1327ff 31.5px,#0b4eff 33.5px,#00a9ff 36.5px,#00e2f9 39.5px,#00ffe2 42.5px,#00ffa0 45.5px,#00ff7d 48.5px,#00ff61 56.5px,#00ff30 60.5px,#01ff0a 62.5px,#1fff04 67.5px,#27ff02 77.5px,#39fe00 80.5px,#8cf800 86.5px,#a7f700 90.5px,#b7f600 96.5px,#fae800 111.5px,#fec400 123.5px,#ffba00 133.5px,#ffa000 140.5px,#fbe300 160.5px,#ff9b00 181.5px,#ff9300 192.5px,#ff6700 210.5px,#ff6000 230.5px,#ff4c00 241.5px,#ff4400 250.5px,#ff3500 257.5px,#ff6600 268.5px,#ff6300 297.5px,#ff5000 306.5px,#ff6200 316.5px,#ff5000 326.5px,#ff6600 337.5px,#ff6600 339.5px)"></i><i style="background:linear-gradient(90deg,#0760ff 0.5px,#0f3aff 2.5px,#161bff 3.5px,#210dff 4.5px,#3506ff 7.5px,#2d09ff 12.5px,#1619ff 16.5px,#1425ff 19.5px,#1617ff 28.5px,#1421ff 31.5px,#0c46ff 33.5px,#00aaff 36.5px,#00d9fe 38.5px,#00fee9 41.5px,#00ff9a 45.5px,#00ff84 48.5px,#00ff68 54.5px,#00ff2e 59.5px,#00ff0d 61.5px,#1dff04 66.5px,#26ff02 76.5px,#36ff00 79.5px,#8bf900 85.5px,#a8f700 90.5px,#b3f600 95.5px,#e2ed00 103.5px,#fbe300 112.5px,#ffba00 122.5px,#ffb200 133.5px,#ff9f00 141.5px,#fdcc00 154.5px,#fbe200 160.5px,#ff9f00 178.5px,#ff9400 191.5px,#ff6b00 206.5px,#ff5f00 230.5px,#ff4500 240.5px,#ff3d00 251.5px,#ff3500 257.5px,#ff6600 268.5px,#ff6200 298.5px,#ff5900 307.5px,#ff7000 316.5px,#ff5600 326.5px,#ff6600 338.5px,#ff6600 339.5px)"></i><i style="background:linear-gradient(90deg,#0373ff 0.5px,#0b4fff 2.5px,#1a0fff 4.5px,#3307ff 7.5px,#3207ff 11.5px,#1910ff 15.5px,#1423ff 18.5px,#1715ff 28.5px,#151cff 31.5px,#1329ff 32.5px,#0663ff 34.5px,#00acff 36.5px,#00defc 38.5px,#00ffde 41.5px,#00ffa5 44.5px,#00ff93 46.5px,#00ff86 51.5px,#00ff52 55.5px,#01ff0a 60.5px,#1eff04 66.5px,#27ff02 76.5px,#31ff00 78.5px,#94f800 85.5px,#aaf600 90.5px,#b6f600 95.5px,#e7ec00 102.5px,#fbe100 112.5px,#ffb000 122.5px,#ffa400 136.5px,#ffa000 143.5px,#ffbb00 152.5px,#fbdf00 159.5px,#fcd500 163.5px,#ffac00 171.5px,#ff9b00 183.5px,#ff9200 191.5px,#ff6f00 202.5px,#ff6600 223.5px,#ff5d00 230.5px,#ff3f00 239.5px,#ff3400 257.5px,#ff6600 268.5px,#ff6300 299.5px,#ff6100 307.5px,#ff7c00 315.5px,#ff5c00 326.5px,#ff6600 339.5px)"></i><i style="background:linear-gradient(90deg,#008dff 0.5px,#0087ff 1.5px,#0275ff 2.5px,#1910ff 5.5px,#2f08ff 8.5px,#2a0aff 12.5px,#1810ff 15.5px,#1422ff 18.5px,#1714ff 28.5px,#161bff 31.5px,#1328ff 32.5px,#0e40ff 33.5px,#00afff 36.5px,#00e2f9 38.5px,#00fde9 40.5px,#00ffb1 43.5px,#00ff9d 46.5px,#00ff97 50.5px,#00ff68 53.5px,#00ff16 57.5px,#01ff0a 58.5px,#1fff04 66.5px,#28ff02 76.5px,#48fd00 79.5px,#92f800 84.5px,#aaf600 88.5px,#b4f600 94.5px,#eeeb00 102.5px,#fbe200 111.5px,#ffa700 122.5px,#ff9f00 144.5px,#ffae00 151.5px,#fbdc00 159.5px,#fdd000 163.5px,#ffa500 171.5px,#ff9300 190.5px,#ff6d00 200.5px,#ff5e00 229.5px,#ff3a00 239.5px,#ff3400 257.5px,#ff6600 268.5px,#ff6400 301.5px,#ff6700 307.5px,#ff8500 315.5px,#ff6100 327.5px,#ff6600 339.5px)"></i><i style="background:linear-gradient(90deg,#00a7ff 0.5px,#009bff 2.5px,#0086ff 3.5px,#151cff 6.5px,#230cff 8.5px,#240cff 12.5px,#1715ff 15.5px,#1423ff 19.5px,#1717ff 27.5px,#1520ff 31.5px,#122dff 32.5px,#0d45ff 33.5px,#00b4ff 36.5px,#00e6f7 38.5px,#00ffe7 40.5px,#00ffc1 42.5px,#00ffac 45.5px,#00ffa0 49.5px,#00ff6d 52.5px,#00ff0a 56.5px,#1cff04 63.5px,#25ff02 75.5px,#30ff00 77.5px,#99f800 84.5px,#b2f600 89.5px,#c1f400 95.5px,#f4e900 102.5px,#fcd900 112.5px,#ffa100 122.5px,#ffa100 149.5px,#fcd800 160.5px,#ffa000 171.5px,#ff9000 190.5px,#ff6a00 200.5px,#ff5e00 228.5px,#ff3800 240.5px,#ff3400 257.5px,#ff6600 268.5px,#ff6800 301.5px,#ff6b00 307.5px,#ff8900 315.5px,#ff6400 327.5px,#ff6600 339.5px)"></i><i style="background:linear-gradient(90deg,#00bbff 0.5px,#00bbff 2.5px,#0093ff 4.5px,#1132ff 7.5px,#1910ff 9.5px,#1a0fff 13.5px,#1424ff 18.5px,#151cff 26.5px,#122bff 31.5px,#0f38ff 32.5px,#0a51ff 33.5px,#00bcff 36.5px,#00eaf5 38.5px,#00ffe6 40.5px,#00ffc9 42.5px,#00ffa2 48.5px,#00ff6c 51.5px,#00ff1a 54.5px,#04ff09 55.5px,#1bff04 60.5px,#26ff02 75.5px,#34ff00 77.5px,#87f900 82.5px,#b4f600 87.5px,#c7f300 95.5px,#f8e900 102.5px,#fdce00 113.5px,#ff9e00 122.5px,#ffa000 150.5px,#fdd100 159.5px,#ffc000 164.5px,#ff9d00 171.5px,#ff8e00 189.5px,#ff6700 201.5px,#ff5f00 225.5px,#ff3600 243.5px,#ff3400 257.5px,#ff6600 268.5px,#ff7100 296.5px,#ff6a00 306.5px,#ff8800 316.5px,#ff6600 326.5px,#ff6600 339.5px)"></i><i style="background:linear-gradient(90deg,#00bfff 0.5px,#00ccff 2.5px,#00c7ff 3.5px,#00a0ff 5.5px,#0c49ff 8.5px,#1424ff 10.5px,#1618ff 12.5px,#1424ff 19.5px,#1423ff 25.5px,#0e3cff 30.5px,#0b4cff 32.5px,#0085ff 34.5px,#00dcfc 37.5px,#00ffe8 40.5px,#00ffb0 46.5px,#00ff63 50.5px,#00ff16 53.5px,#05ff09 54.5px,#1bff04 58.5px,#26ff02 75.5px,#39fe00 77.5px,#81f900 81.5px,#bbf500 87.5px,#d5f000 96.5px,#fae800 102.5px,#ffc100 114.5px,#ff9d00 122.5px,#ff9e00 150.5px,#fec900 159.5px,#ffba00 164.5px,#ff9c00 171.5px,#ff9100 185.5px,#ff6700 201.5px,#ff6100 221.5px,#ff3000 250.5px,#ff3700 258.5px,#ff6400 267.5px,#ff7100 282.5px,#ff7700 296.5px,#ff6c00 307.5px,#ff8400 316.5px,#ff6600 327.5px,#ff6600 339.5px)"></i><i style="background:linear-gradient(90deg,#00b4ff 0.5px,#00d0ff 3.5px,#00bfff 5.5px,#017aff 8.5px,#0c47ff 10.5px,#122bff 12.5px,#1325ff 17.5px,#1327ff 24.5px,#075eff 28.5px,#056aff 32.5px,#0096ff 34.5px,#00ceff 36.5px,#00eff2 38.5px,#00ffe2 41.5px,#00ffb5 45.5px,#00ff10 52.5px,#1dff04 57.5px,#23ff03 74.5px,#2dff01 76.5px,#7bfa00 80.5px,#c7f300 88.5px,#e2ed00 97.5px,#fbe300 103.5px,#ff9c00 122.5px,#ffa000 151.5px,#ffc100 160.5px,#ff9c00 171.5px,#ff9400 182.5px,#ff6700 200.5px,#ff6100 220.5px,#ff4c00 232.5px,#ff3e00 242.5px,#ff3000 252.5px,#ff3700 258.5px,#ff6400 267.5px,#ff7200 281.5px,#ff7f00 290.5px,#ff7400 300.5px,#ff6b00 307.5px,#ff7e00 316.5px,#ff6600 328.5px,#ff6600 339.5px)"></i><i style="background:linear-gradient(90deg,#00a1ff 0.5px,#00ceff 4.5px,#00c5ff 6.5px,#0089ff 9.5px,#0d43ff 12.5px,#122aff 15.5px,#1328ff 23.5px,#0e41ff 25.5px,#0091ff 28.5px,#009bff 29.5px,#008eff 32.5px,#0096ff 33.5px,#00d8ff 36.5px,#00f8ec 39.5px,#00ffd9 42.5px,#00ffa4 45.5px,#00ff1d 50.5px,#01ff0a 51.5px,#1fff04 57.5px,#23ff03 74.5px,#2fff00 76.5px,#83f900 80.5px,#d5f000 89.5px,#f0ea00 99.5px,#fcd800 105.5px,#ff9f00 120.5px,#ff9f00 151.5px,#ffb700 160.5px,#ff9b00 172.5px,#ff9200 182.5px,#ff6700 199.5px,#ff6000 220.5px,#ff4800 229.5px,#ff4c00 239.5px,#ff3000 249.5px,#ff3700 258.5px,#ff6400 267.5px,#ff6f00 279.5px,#ff8600 288.5px,#ff7f00 298.5px,#ff6a00 307.5px,#ff7700 317.5px,#ff6600 330.5px,#ff6600 339.5px)"></i><i style="background:linear-gradient(90deg,#008dff 0.5px,#00c9ff 5.5px,#00c9ff 7.5px,#00abff 9.5px,#0b4dff 13.5px,#122dff 16.5px,#1327ff 22.5px,#0f39ff 24.5px,#0a53ff 25.5px,#00a1ff 27.5px,#00c0ff 28.5px,#00ceff 29.5px,#00bcff 31.5px,#00b1ff 32.5px,#00b1ff 33.5px,#00e1fa 36.5px,#00fde9 40.5px,#00ffbf 43.5px,#00ff55 47.5px,#00ff1b 49.5px,#03ff09 50.5px,#1dff04 55.5px,#24ff03 74.5px,#31ff00 76.5px,#7afa00 79.5px,#9ff700 82.5px,#e2ed00 90.5px,#fbe300 102.5px,#ffaa00 114.5px,#ff9b00 125.5px,#ff9f00 152.5px,#ffad00 161.5px,#ff9a00 173.5px,#ff9300 181.5px,#ff6f00 193.5px,#ff6600 211.5px,#ff5e00 220.5px,#ff4300 229.5px,#ff5400 238.5px,#ff3000 249.5px,#ff3700 258.5px,#ff6400 267.5px,#ff6d00 278.5px,#ff8c00 288.5px,#ff8400 298.5px,#ff6900 307.5px,#ff7000 318.5px,#ff6600 334.5px,#ff6600 339.5px)"></i><i style="background:linear-gradient(90deg,#007eff 0.5px,#00a7ff 4.5px,#00caff 7.5px,#00c3ff 9.5px,#0087ff 12.5px,#0d44ff 15.5px,#122bff 18.5px,#1329ff 22.5px,#0e40ff 24.5px,#0760ff 25.5px,#00bbff 27.5px,#00e0fa 28.5px,#00f1f0 29.5px,#00eef2 30.5px,#00d0ff 32.5px,#00cbff 33.5px,#00f6ed 38.5px,#00ffe6 40.5px,#00ffaf 43.5px,#01ff0a 49.5px,#1aff05 53.5px,#25ff02 74.5px,#36ff00 76.5px,#81f900 79.5px,#9ef700 81.5px,#c6f300 86.5px,#eaeb00 90.5px,#fae400 101.5px,#ffa600 113.5px,#ff9900 131.5px,#ff9e00 154.5px,#ffa200 163.5px,#ff9100 181.5px,#ff6d00 191.5px,#ff5f00 219.5px,#ff3e00 228.5px,#ff5700 238.5px,#ff3000 249.5px,#ff3700 258.5px,#ff6400 268.5px,#ff6900 277.5px,#ff9100 288.5px,#ff8b00 297.5px,#ff6800 307.5px,#ff6800 322.5px,#ff6400 339.5px)"></i><i style="background:linear-gradient(90deg,#0373ff 0.5px,#008dff 4.5px,#00c6ff 8.5px,#00c7ff 10.5px,#008fff 13.5px,#0c4aff 16.5px,#122dff 19.5px,#122cff 22.5px,#1033ff 23.5px,#0d45ff 24.5px,#0567ff 25.5px,#00c4ff 27.5px,#00eaf5 28.5px,#00fde9 29.5px,#00fde9 30.5px,#00dffb 33.5px,#00fee8 39.5px,#00ff9e 43.5px,#00ff17 48.5px,#07ff09 49.5px,#1dff04 53.5px,#25ff02 73.5px,#2eff00 75.5px,#58fc00 77.5px,#9af800 80.5px,#cbf200 86.5px,#f0ea00 90.5px,#fbe000 101.5px,#ffa200 112.5px,#ff9600 142.5px,#ff9c00 163.5px,#ff8e00 181.5px,#ff6b00 190.5px,#ff5c00 219.5px,#ff3900 228.5px,#ff5800 238.5px,#ff3000 249.5px,#ff3700 258.5px,#ff6100 268.5px,#ff6600 277.5px,#ff9100 287.5px,#ff8c00 297.5px,#ff6800 307.5px,#ff6100 339.5px)"></i><i style="background:linear-gradient(90deg,#046dff 0.5px,#0275ff 4.5px,#009eff 7.5px,#00c1ff 9.5px,#00c9ff 11.5px,#00adff 13.5px,#0a50ff 17.5px,#1035ff 19.5px,#1132ff 22.5px,#0b4dff 24.5px,#0096ff 26.5px,#00e4f8 28.5px,#00f7ed 29.5px,#00f5ee 31.5px,#00e9f5 34.5px,#00fde9 38.5px,#00ffcb 40.5px,#00ff4b 46.5px,#00ff10 48.5px,#1dff04 52.5px,#25ff02 72.5px,#36ff00 75.5px,#9ff700 80.5px,#f4e900 90.5px,#fcda00 101.5px,#ff9f00 112.5px,#ff9100 143.5px,#ff9900 163.5px,#ff8900 181.5px,#ff6800 190.5px,#ff5800 219.5px,#ff3700 228.5px,#ff5600 238.5px,#ff3000 249.5px,#ff3600 258.5px,#ff5c00 268.5px,#ff6200 277.5px,#ff8f00 287.5px,#ff8a00 297.5px,#ff6700 307.5px,#ff5d00 339.5px)"></i><i style="background:linear-gradient(90deg,#056aff 0.5px,#0664ff 5.5px,#0080ff 7.5px,#00bcff 10.5px,#00cbff 12.5px,#00b4ff 14.5px,#0c46ff 19.5px,#0f3aff 21.5px,#0b4aff 23.5px,#017dff 25.5px,#00dcfd 28.5px,#00f2f0 30.5px,#00e9f5 34.5px,#00ffe3 38.5px,#00ff46 46.5px,#00ff0e 48.5px,#1eff04 52.5px,#25ff02 71.5px,#35ff00 74.5px,#a4f700 80.5px,#f6e900 90.5px,#fbdc00 98.5px,#ff9c00 113.5px,#ff9100 127.5px,#ff8b00 149.5px,#ff9700 162.5px,#ff8b00 175.5px,#ff7d00 183.5px,#ff6700 191.5px,#ff5c00 205.5px,#ff4f00 220.5px,#ff3500 228.5px,#ff5100 238.5px,#ff3000 249.5px,#ff3800 259.5px,#ff5600 268.5px,#ff5c00 277.5px,#ff8900 287.5px,#ff8500 297.5px,#ff6700 307.5px,#ff5d00 321.5px,#ff5600 339.5px)"></i><i style="background:linear-gradient(90deg,#0569ff 0.5px,#0a52ff 5.5px,#075fff 7.5px,#00b6ff 11.5px,#00cbff 13.5px,#00baff 15.5px,#0761ff 19.5px,#0a53ff 20.5px,#0957ff 22.5px,#0094ff 25.5px,#00d9fe 28.5px,#00e5f7 30.5px,#00e1fa 34.5px,#00fde9 37.5px,#00ff87 42.5px,#00ff44 46.5px,#00ff0d 48.5px,#1eff04 52.5px,#24ff03 70.5px,#35ff00 73.5px,#a9f600 80.5px,#edeb00 88.5px,#fae700 93.5px,#ffaf00 107.5px,#ff9b00 113.5px,#ff9400 124.5px,#ff8400 134.5px,#ff8900 152.5px,#ff9700 161.5px,#ff8400 173.5px,#ff7b00 182.5px,#ff6700 192.5px,#ff5c00 203.5px,#ff4f00 213.5px,#ff4600 221.5px,#ff3400 228.5px,#ff4b00 238.5px,#ff3000 250.5px,#ff3a00 260.5px,#ff4f00 269.5px,#ff5500 277.5px,#ff8200 287.5px,#ff7d00 298.5px,#ff6700 308.5px,#ff5b00 320.5px,#ff4f00 332.5px,#ff4f00 339.5px)"></i><i style="background:linear-gradient(90deg,#0569ff 0.5px,#085aff 3.5px,#0d44ff 6.5px,#0954ff 8.5px,#00afff 12.5px,#00caff 14.5px,#00bfff 16.5px,#0276ff 20.5px,#0373ff 21.5px,#009dff 24.5px,#00ceff 27.5px,#00d6ff 29.5px,#00c7ff 32.5px,#00d4ff 34.5px,#00ffe7 37.5px,#00ff9b 40.5px,#00ff43 46.5px,#00ff0c 48.5px,#1eff04 52.5px,#25ff02 70.5px,#31ff00 72.5px,#92f800 78.5px,#cdf200 83.5px,#f8e800 90.5px,#fbdd00 96.5px,#ffaa00 107.5px,#ff9b00 114.5px,#ff9100 124.5px,#ff7d00 134.5px,#ff8300 152.5px,#ff9700 160.5px,#ff7d00 172.5px,#ff7200 184.5px,#ff6600 196.5px,#ff5000 206.5px,#ff3c00 223.5px,#ff3400 229.5px,#ff4300 239.5px,#ff3000 251.5px,#ff3a00 261.5px,#ff4800 272.5px,#ff5200 278.5px,#ff7b00 287.5px,#ff7500 299.5px,#ff6600 310.5px,#ff5e00 318.5px,#ff4800 327.5px,#ff4800 339.5px)"></i><i style="background:linear-gradient(90deg,#0569ff 0.5px,#0859ff 3.5px,#0f3cff 6.5px,#0e3fff 8.5px,#0760ff 10.5px,#00bbff 14.5px,#00cbff 16.5px,#00b6ff 18.5px,#009aff 20.5px,#00a0ff 22.5px,#00cbff 26.5px,#00c7ff 28.5px,#00a9ff 31.5px,#00b1ff 33.5px,#00dbfd 35.5px,#00ffe0 37.5px,#00ffa2 39.5px,#00ff7c 41.5px,#00ff53 45.5px,#00ff29 47.5px,#00ff0c 48.5px,#1eff04 52.5px,#26ff02 70.5px,#3afe00 72.5px,#76fa00 75.5px,#ddee00 84.5px,#f9e800 90.5px,#fbe000 95.5px,#ffac00 104.5px,#ff9b00 114.5px,#ff9300 123.5px,#ff7600 132.5px,#ff7a00 151.5px,#ff9600 160.5px,#ff7600 172.5px,#ff6b00 186.5px,#ff6000 200.5px,#ff4100 210.5px,#ff3500 225.5px,#ff3a00 234.5px,#ff3900 242.5px,#ff3000 255.5px,#ff4000 273.5px,#ff4f00 279.5px,#ff7400 287.5px,#ff6d00 301.5px,#ff5f00 317.5px,#ff4000 327.5px,#ff4000 339.5px)"></i><i style="background:linear-gradient(90deg,#0569ff 0.5px,#0958ff 3.5px,#1132ff 7.5px,#0f39ff 9.5px,#0958ff 11.5px,#00b5ff 15.5px,#00cbff 17.5px,#00b9ff 21.5px,#00c9ff 25.5px,#00aaff 28.5px,#0085ff 31.5px,#0089ff 32.5px,#00b3ff 34.5px,#00d3ff 35.5px,#00ffdd 37.5px,#00ffb4 38.5px,#00ff81 40.5px,#00ff62 43.5px,#00ff51 45.5px,#00ff28 47.5px,#00ff0c 48.5px,#1eff04 52.5px,#24ff03 69.5px,#2fff00 71.5px,#85f900 75.5px,#ebeb00 85.5px,#fae700 90.5px,#fbdd00 95.5px,#ffa700 103.5px,#ff9900 117.5px,#ff9000 123.5px,#ff7000 132.5px,#ff7400 151.5px,#ff9400 160.5px,#ff7000 171.5px,#ff6200 199.5px,#ff3a00 210.5px,#ff3400 232.5px,#ff3300 244.5px,#ff3400 262.5px,#ff3f00 277.5px,#ff6d00 287.5px,#ff6000 316.5px,#ff3a00 326.5px,#ff3900 339.5px)"></i><i style="background:linear-gradient(90deg,#0569ff 0.5px,#0958ff 3.5px,#112fff 7.5px,#1036ff 10.5px,#0a51ff 12.5px,#00afff 16.5px,#00cbff 18.5px,#00c9ff 23.5px,#00a8ff 26.5px,#0663ff 30.5px,#075eff 31.5px,#0568ff 32.5px,#00c8ff 35.5px,#00eaf5 36.5px,#00ffdf 37.5px,#00ffb0 38.5px,#00ff79 40.5px,#00ff5d 43.5px,#00ff4f 45.5px,#00ff28 47.5px,#00ff0c 48.5px,#1eff04 52.5px,#26ff02 69.5px,#37fe00 71.5px,#92f800 75.5px,#d4f000 82.5px,#f7e900 86.5px,#fcd900 95.5px,#ffa400 102.5px,#ff9700 115.5px,#ff9100 122.5px,#ff6b00 132.5px,#ff6b00 149.5px,#ff9100 160.5px,#ff6b00 171.5px,#ff5f00 199.5px,#ff3500 210.5px,#ff3100 263.5px,#ff3a00 277.5px,#ff6500 287.5px,#ff5d00 316.5px,#ff3500 326.5px,#ff3500 339.5px)"></i><i style="background:linear-gradient(90deg,#0569ff 0.5px,#0958ff 3.5px,#122eff 7.5px,#122dff 10.5px,#0b4bff 13.5px,#00baff 18.5px,#00ccff 20.5px,#00b7ff 23.5px,#0859ff 28.5px,#0e3fff 30.5px,#0e3fff 31.5px,#0b4dff 32.5px,#0094ff 34.5px,#00e4f8 36.5px,#00ffe6 37.5px,#00ffb1 38.5px,#00ff8d 39.5px,#00ff67 41.5px,#00ff4e 45.5px,#00ff28 47.5px,#00ff0c 48.5px,#1eff04 52.5px,#27ff02 68.5px,#30ff00 70.5px,#9bf700 75.5px,#e4ed00 83.5px,#fae600 86.5px,#fcd300 95.5px,#ff9c00 103.5px,#ff8d00 122.5px,#ff6600 133.5px,#ff6400 146.5px,#ff7900 154.5px,#ff8d00 160.5px,#ff6900 171.5px,#ff5700 200.5px,#ff3200 210.5px,#ff2b00 253.5px,#ff3600 277.5px,#ff5e00 287.5px,#ff5900 316.5px,#ff3300 326.5px,#ff3200 339.5px)"></i><i style="background:linear-gradient(90deg,#0569ff 0.5px,#0958ff 3.5px,#122dff 7.5px,#122bff 11.5px,#0d45ff 14.5px,#009dff 18.5px,#00b5ff 20.5px,#00a6ff 22.5px,#0957ff 26.5px,#122dff 29.5px,#122bff 31.5px,#0f3bff 32.5px,#085aff 33.5px,#00b3ff 35.5px,#00defc 36.5px,#00fce9 37.5px,#00ffb5 38.5px,#00ff8e 39.5px,#00ff74 40.5px,#00ff5d 42.5px,#00ff4e 45.5px,#00ff28 47.5px,#00ff0c 48.5px,#1eff04 52.5px,#24ff02 66.5px,#30ff00 69.5px,#a1f700 75.5px,#fae800 85.5px,#fdd300 92.5px,#ffbf00 97.5px,#ff9a00 103.5px,#ff8c00 117.5px,#ff8000 124.5px,#ff6000 135.5px,#ff5e00 144.5px,#ff7600 154.5px,#ff8700 160.5px,#ff6700 172.5px,#ff5b00 187.5px,#ff5200 200.5px,#ff3100 210.5px,#ff2b00 251.5px,#ff2700 260.5px,#ff3800 278.5px,#ff5800 288.5px,#ff5300 316.5px,#ff3100 326.5px,#ff3000 339.5px)"></i><i style="background:linear-gradient(90deg,#0569ff 0.5px,#0958ff 3.5px,#122dff 7.5px,#122aff 12.5px,#0e40ff 15.5px,#008bff 19.5px,#008dff 21.5px,#046cff 23.5px,#1035ff 26.5px,#151dff 29.5px,#1421ff 31.5px,#1131ff 32.5px,#0a51ff 33.5px,#00adff 35.5px,#00dafe 36.5px,#00faeb 37.5px,#00ff8f 39.5px,#00ff74 40.5px,#00ff5d 42.5px,#00ff4e 45.5px,#00ff28 47.5px,#00ff0c 48.5px,#1eff04 52.5px,#26ff02 66.5px,#31ff00 68.5px,#a6f700 75.5px,#f5e900 84.5px,#feca00 91.5px,#ffb800 97.5px,#ff9500 104.5px,#ff8500 116.5px,#ff7b00 124.5px,#ff5400 140.5px,#ff7900 156.5px,#ff8000 161.5px,#ff6700 172.5px,#ff5a00 185.5px,#ff5000 197.5px,#ff3000 211.5px,#ff2c00 249.5px,#ff2000 259.5px,#ff3000 271.5px,#ff3c00 280.5px,#ff5100 289.5px,#ff4d00 316.5px,#ff3000 327.5px,#ff3000 339.5px)"></i><i style="background:linear-gradient(90deg,#0569ff 0.5px,#0958ff 3.5px,#122dff 7.5px,#1329ff 13.5px,#0f3bff 16.5px,#0663ff 19.5px,#0663ff 21.5px,#122bff 25.5px,#1617ff 29.5px,#151fff 31.5px,#1130ff 32.5px,#0a50ff 33.5px,#00adff 35.5px,#00dafe 36.5px,#00faeb 37.5px,#00ffb7 38.5px,#00ff8f 39.5px,#00ff74 40.5px,#00ff5d 42.5px,#00ff4e 45.5px,#00ff28 47.5px,#00ff0c 48.5px,#1eff04 52.5px,#24ff02 65.5px,#2fff00 67.5px,#aaf600 75.5px,#daef00 80.5px,#fbe200 85.5px,#ffc200 90.5px,#ffb100 97.5px,#ff8200 110.5px,#ff7200 126.5px,#ff4d00 141.5px,#ff7b00 160.5px,#ff6700 173.5px,#ff5e00 182.5px,#ff4900 192.5px,#ff3e00 203.5px,#ff3000 213.5px,#ff2b00 249.5px,#ff1900 258.5px,#ff3000 270.5px,#ff3900 280.5px,#ff4900 290.5px,#ff4400 317.5px,#ff3000 328.5px,#ff3000 339.5px)"></i><i style="background:linear-gradient(90deg,#0569ff 0.5px,#0958ff 3.5px,#122dff 7.5px,#1329ff 14.5px,#0c46ff 20.5px,#161bff 26.5px,#161aff 30.5px,#1036ff 32.5px,#0958ff 33.5px,#00b3ff 35.5px,#00defc 36.5px,#00fde9 37.5px,#00ffb4 38.5px,#00ff8d 39.5px,#00ff65 41.5px,#00ff4e 45.5px,#00ff28 47.5px,#00ff0c 48.5px,#1eff04 52.5px,#25ff02 65.5px,#35ff00 67.5px,#80f900 71.5px,#daef00 79.5px,#fbe000 85.5px,#ffb800 90.5px,#ffa000 100.5px,#ff7700 113.5px,#ff6d00 127.5px,#ff4700 141.5px,#ff7100 156.5px,#ff7000 164.5px,#ff6000 181.5px,#ff4200 191.5px,#ff3600 205.5px,#ff3000 235.5px,#ff2a00 249.5px,#ff1300 257.5px,#ff3000 269.5px,#ff3a00 282.5px,#ff4200 300.5px,#ff3b00 319.5px,#ff3000 331.5px,#ff3000 339.5px)"></i><i style="background:linear-gradient(90deg,#0569ff 0.5px,#0958ff 3.5px,#122dff 7.5px,#1328ff 15.5px,#1132ff 20.5px,#161aff 27.5px,#151fff 30.5px,#122aff 31.5px,#0e41ff 32.5px,#00bdff 35.5px,#00e5f8 36.5px,#00ffe3 37.5px,#00ffae 38.5px,#00ff8a 39.5px,#00ff64 41.5px,#00ff4e 45.5px,#00ff28 47.5px,#00ff0c 48.5px,#1eff04 52.5px,#26ff02 65.5px,#2cff01 66.5px,#80f900 70.5px,#e8ec00 80.5px,#fae500 84.5px,#ffaf00 90.5px,#ff9400 103.5px,#ff7100 113.5px,#ff6600 130.5px,#ff4100 140.5px,#ff5d00 148.5px,#ff6f00 158.5px,#ff6200 180.5px,#ff3c00 190.5px,#ff3000 222.5px,#ff2c00 248.5px,#ff0e00 257.5px,#ff3000 269.5px,#ff3b00 302.5px,#ff3300 322.5px,#ff3000 339.5px)"></i><i style="background:linear-gradient(90deg,#0569ff 0.5px,#0958ff 3.5px,#122dff 7.5px,#1328ff 17.5px,#151fff 29.5px,#1132ff 31.5px,#0b4dff 32.5px,#009fff 34.5px,#00c9ff 35.5px,#00ecf3 36.5px,#00ffd6 37.5px,#00ffa7 38.5px,#00ff71 40.5px,#00ff59 43.5px,#00ff4e 45.5px,#00ff28 47.5px,#00ff0c 48.5px,#1eff04 52.5px,#27ff02 65.5px,#2eff00 66.5px,#8bf900 70.5px,#c2f400 76.5px,#eeeb00 80.5px,#fbe400 84.5px,#ffa800 90.5px,#ff9300 103.5px,#ff6d00 112.5px,#ff6300 131.5px,#ff3c00 140.5px,#ff6700 152.5px,#ff6400 179.5px,#ff3700 190.5px,#ff2b00 248.5px,#ff0a00 257.5px,#ff2f00 268.5px,#ff3300 320.5px,#ff3000 339.5px)"></i><i style="background:linear-gradient(90deg,#0569ff 0.5px,#0958ff 3.5px,#122dff 7.5px,#1421ff 28.5px,#1329ff 30.5px,#0f3aff 31.5px,#0958ff 32.5px,#00aaff 34.5px,#00d2ff 35.5px,#00f3ef 36.5px,#00ffcb 37.5px,#00ffa1 38.5px,#00ff70 40.5px,#00ff5c 42.5px,#00ff4e 45.5px,#00ff28 47.5px,#00ff0c 48.5px,#1eff04 52.5px,#27ff02 65.5px,#2fff00 66.5px,#92f800 70.5px,#a5f700 72.5px,#b7f500 75.5px,#f1ea00 80.5px,#fbe300 84.5px,#ffa400 90.5px,#ff9300 103.5px,#ff6a00 112.5px,#ff6200 131.5px,#ff3900 140.5px,#ff6700 152.5px,#ff6100 180.5px,#ff3300 190.5px,#ff2b00 248.5px,#ff0700 257.5px,#ff2f00 268.5px,#ff3000 339.5px)"></i><i style="background:linear-gradient(90deg,#0569ff 0.5px,#0958ff 3.5px,#122dff 7.5px,#1423ff 27.5px,#122dff 30.5px,#0e3fff 31.5px,#0089ff 33.5px,#00d9fe 35.5px,#00f7ed 36.5px,#00ff9d 38.5px,#00ff70 40.5px,#00ff5c 42.5px,#00ff4e 45.5px,#00ff28 47.5px,#00ff0c 48.5px,#1eff04 52.5px,#27ff02 65.5px,#2fff00 66.5px,#82f900 69.5px,#a2f700 71.5px,#b8f500 75.5px,#f2ea00 80.5px,#fcdb00 85.5px,#ffa200 90.5px,#ff9200 103.5px,#ff6900 112.5px,#ff6200 131.5px,#ff3800 140.5px,#ff4b00 145.5px,#ff6500 151.5px,#ff6400 179.5px,#ff3200 190.5px,#ff2b00 248.5px,#ff0600 257.5px,#ff2f00 268.5px,#ff3000 339.5px)"></i><i style="background:linear-gradient(90deg,#0569ff 0.5px,#0958ff 3.5px,#122dff 7.5px,#1325ff 23.5px,#1327ff 29.5px,#112fff 30.5px,#0d42ff 31.5px,#00b7ff 34.5px,#00ddfc 35.5px,#00faeb 36.5px,#00ff9a 38.5px,#00ff6f 40.5px,#00ff59 43.5px,#00ff4e 45.5px,#00ff28 47.5px,#00ff0c 48.5px,#1eff04 52.5px,#27ff02 65.5px,#2fff00 66.5px,#83f900 69.5px,#a3f700 71.5px,#b8f500 75.5px,#f3ea00 80.5px,#fcdb00 85.5px,#ffa100 90.5px,#ff9200 103.5px,#ff6800 112.5px,#ff6200 131.5px,#ff3700 140.5px,#ff5b00 148.5px,#ff6700 155.5px,#ff6100 180.5px,#ff3100 190.5px,#ff2b00 248.5px,#ff0600 257.5px,#ff2f00 268.5px,#ff3000 339.5px)"></i><i style="background:linear-gradient(90deg,#0569ff 0.5px,#0859ff 3.5px,#1130ff 7.5px,#122cff 15.5px,#0e40ff 18.5px,#046fff 21.5px,#00d7ff 26.5px,#00fbea 29.5px,#00ff67 35.5px,#00ff15 38.5px,#08ff08 39.5px,#1eff04 42.5px,#28ff02 45.5px,#34ff00 46.5px,#89f900 48.5px,#b9f500 49.5px,#eceb00 51.5px,#fae700 53.5px,#fcd800 56.5px,#ff9f00 61.5px,#ff8e00 66.5px,#ff6c00 70.5px,#ff5700 76.5px,#ff3500 80.5px,#ff2c00 89.5px,#ff0300 95.5px,#ff0000 339.5px)"></i><i style="background:linear-gradient(90deg,#046cff 0.5px,#085cff 3.5px,#1036ff 7.5px,#0f3aff 16.5px,#0957ff 19.5px,#009fff 23.5px,#00dcfd 26.5px,#00fee9 29.5px,#00ff4a 36.5px,#00ff12 38.5px,#13ff06 40.5px,#29ff01 45.5px,#39fe00 46.5px,#8ef800 48.5px,#bdf500 49.5px,#f0ea00 51.5px,#fbe400 53.5px,#fcd400 56.5px,#ff9c00 61.5px,#ff8c00 66.5px,#ff6600 71.5px,#ff5600 76.5px,#ff3500 80.5px,#ff2c00 89.5px,#ff0500 95.5px,#ff0000 339.5px)"></i><i style="background:linear-gradient(90deg,#0371ff 0.5px,#085cff 4.5px,#0c46ff 7.5px,#0a52ff 16.5px,#017bff 20.5px,#00c2ff 24.5px,#00e6f7 26.5px,#00fcea 28.5px,#00ff70 34.5px,#00ff0b 38.5px,#20ff03 42.5px,#2dff01 45.5px,#44fe00 46.5px,#c6f300 49.5px,#f9e800 51.5px,#feca00 56.5px,#ff9b00 60.5px,#ff8800 66.5px,#ff6300 71.5px,#ff5300 76.5px,#ff3500 80.5px,#ff2800 90.5px,#ff0900 95.5px,#ff0200 147.5px,#ff0000 339.5px)"></i><i style="background:linear-gradient(90deg,#017aff 0.5px,#0663ff 7.5px,#017bff 15.5px,#0090ff 19.5px,#00b5ff 22.5px,#00dafe 24.5px,#00f9ec 26.5px,#00ff8b 32.5px,#00ff18 37.5px,#04ff09 38.5px,#2cff01 44.5px,#39fe00 45.5px,#56fc00 46.5px,#d5f000 49.5px,#f3ea00 50.5px,#fdcc00 53.5px,#ffad00 57.5px,#ff9300 60.5px,#ff8100 66.5px,#ff5c00 71.5px,#ff4f00 76.5px,#ff3200 81.5px,#ff2a00 90.5px,#ff0e00 96.5px,#ff0d00 139.5px,#ff0000 158.5px,#ff0000 339.5px)"></i><i style="background:linear-gradient(90deg,#0085ff 0.5px,#0086ff 7.5px,#00a8ff 13.5px,#00baff 19.5px,#00d9fe 22.5px,#00f7ed 24.5px,#00ffb6 26.5px,#00ff98 28.5px,#00ff85 31.5px,#00ff48 34.5px,#00ff19 36.5px,#02ff0a 37.5px,#39fe00 44.5px,#70fb00 46.5px,#e9ec00 49.5px,#fbde00 50.5px,#ffb700 53.5px,#ff8b00 59.5px,#ff7700 66.5px,#ff5400 71.5px,#ff4400 77.5px,#ff3300 82.5px,#ff2a00 91.5px,#ff1900 97.5px,#ff1f00 132.5px,#ff0000 154.5px,#ff0000 339.5px)"></i><i style="background:linear-gradient(90deg,#008fff 0.5px,#009fff 6.5px,#00d6ff 12.5px,#00edf3 20.5px,#00fee8 22.5px,#00ff86 25.5px,#00ff70 26.5px,#00ff66 28.5px,#00ff6c 31.5px,#00ff4a 33.5px,#00ff19 35.5px,#03ff09 36.5px,#36ff00 43.5px,#68fb00 45.5px,#dbef00 48.5px,#fae500 49.5px,#ffab00 52.5px,#ff8900 56.5px,#ff7600 62.5px,#ff6c00 66.5px,#ff4d00 71.5px,#ff3700 83.5px,#ff2d00 93.5px,#ff3000 110.5px,#ff3400 128.5px,#ff1500 143.5px,#ff0000 153.5px,#ff0000 339.5px)"></i><i style="background:linear-gradient(90deg,#0098ff 0.5px,#00a7ff 4.5px,#00ddfc 9.5px,#00fde9 12.5px,#00ffa8 20.5px,#00ff6e 23.5px,#00ff42 25.5px,#00ff36 26.5px,#00ff35 27.5px,#00ff58 30.5px,#00ff5a 31.5px,#00ff3b 33.5px,#01ff0a 35.5px,#2eff00 42.5px,#5efc00 44.5px,#f1ea00 48.5px,#ffbe00 50.5px,#ff9700 52.5px,#ff7300 57.5px,#ff6300 66.5px,#ff4900 72.5px,#ff4000 86.5px,#ff4100 102.5px,#ff4b00 124.5px,#ff2600 140.5px,#ff0000 152.5px,#ff0000 339.5px)"></i><i style="background:linear-gradient(90deg,#009eff 0.5px,#00b4ff 4.5px,#00d7ff 7.5px,#00f4ef 9.5px,#00ffdf 10.5px,#00ffa0 12.5px,#00ff72 15.5px,#00ff0e 25.5px,#00ff19 27.5px,#00ff4e 30.5px,#00ff54 31.5px,#00ff4b 32.5px,#02ff0a 35.5px,#31ff00 42.5px,#8ff800 45.5px,#ddee00 47.5px,#fbe200 48.5px,#ff9800 51.5px,#ff6a00 56.5px,#ff5a00 67.5px,#ff4e00 73.5px,#ff5300 95.5px,#ff6000 119.5px,#ff4600 132.5px,#ff0000 152.5px,#ff0000 339.5px)"></i><i style="background:linear-gradient(90deg,#00a2ff 0.5px,#00b0ff 3.5px,#00e1f9 7.5px,#00ffe5 9.5px,#00ff92 11.5px,#00ff56 13.5px,#00ff17 16.5px,#02ff0a 17.5px,#18ff05 22.5px,#05ff09 26.5px,#00ff13 27.5px,#00ff54 30.5px,#00ff5b 31.5px,#00ff54 32.5px,#00ff0f 35.5px,#28ff02 41.5px,#36ff00 42.5px,#9af800 45.5px,#e8ec00 47.5px,#fcd900 48.5px,#ffa200 50.5px,#ff7a00 53.5px,#ff6200 57.5px,#ff5c00 78.5px,#ff7300 108.5px,#ff6100 124.5px,#ff1d00 144.5px,#ff0000 152.5px,#ff0000 339.5px)"></i><i style="background:linear-gradient(90deg,#00a4ff 0.5px,#00b3ff 3.5px,#00d8ff 6.5px,#00f5ee 8.5px,#00ffd7 9.5px,#00ff58 12.5px,#00ff13 14.5px,#15ff06 16.5px,#3cfe00 19.5px,#4dfd00 20.5px,#53fd00 21.5px,#49fd00 22.5px,#30ff00 23.5px,#05ff09 26.5px,#00ff65 30.5px,#00ff6d 31.5px,#00ff66 32.5px,#01ff0a 36.5px,#2bff01 41.5px,#3dfe00 42.5px,#a2f700 45.5px,#efea00 47.5px,#ffb700 49.5px,#ff9c00 50.5px,#ff7300 54.5px,#ff6600 59.5px,#ff8300 101.5px,#ff6600 121.5px,#ff2200 143.5px,#ff0100 151.5px,#ff0000 339.5px)"></i><i style="background:linear-gradient(90deg,#00a6ff 0.5px,#00b5ff 3.5px,#00d9fe 6.5px,#00f6ed 8.5px,#00ffd3 9.5px,#00ff1e 13.5px,#0aff08 14.5px,#2cff01 16.5px,#8ff800 19.5px,#a5f700 20.5px,#a9f600 21.5px,#94f800 22.5px,#68fb00 23.5px,#2fff00 24.5px,#02ff0a 26.5px,#00ff4f 28.5px,#00ff7b 30.5px,#00ff82 31.5px,#00ff7c 32.5px,#00ff51 34.5px,#00ff15 36.5px,#08ff08 37.5px,#30ff00 41.5px,#aaf600 45.5px,#f1ea00 47.5px,#ffb900 49.5px,#ff9200 51.5px,#ff7900 56.5px,#ff9300 90.5px,#ff7b00 108.5px,#ff2200 143.5px,#ff0100 151.5px,#ff0000 339.5px)"></i><i style="background:linear-gradient(90deg,#00aaff 0.5px,#00b8ff 3.5px,#00dafe 6.5px,#00f7ed 8.5px,#00ffd2 9.5px,#00ff0e 13.5px,#29ff02 15.5px,#aaf600 18.5px,#caf200 19.5px,#dcef00 20.5px,#ddee00 21.5px,#c7f300 22.5px,#90f800 23.5px,#44fe00 24.5px,#19ff05 25.5px,#00ff0d 26.5px,#00ff40 27.5px,#00ff7f 29.5px,#00ff93 30.5px,#00ff9a 31.5px,#00ff93 32.5px,#00ff62 34.5px,#00ff16 36.5px,#1aff04 38.5px,#33ff00 40.5px,#b5f600 45.5px,#efea00 47.5px,#fcda00 48.5px,#ffa300 51.5px,#ff9200 55.5px,#ffa000 67.5px,#ffaa00 78.5px,#ff8900 98.5px,#ff2d00 138.5px,#ff0e00 147.5px,#ff0000 154.5px,#ff0000 339.5px)"></i><i style="background:linear-gradient(90deg,#00b1ff 0.5px,#00c6ff 4.5px,#00e8f6 7.5px,#00f7ed 8.5px,#00ffd2 9.5px,#02ff0a 13.5px,#33ff00 15.5px,#9ef700 17.5px,#c8f300 18.5px,#f6e900 20.5px,#f5e900 21.5px,#dcef00 22.5px,#a3f700 23.5px,#4dfd00 24.5px,#19ff05 25.5px,#00ff16 26.5px,#00ff4e 27.5px,#00ff94 29.5px,#00ffa9 30.5px,#00ffb1 31.5px,#00ffa8 32.5px,#00ff90 33.5px,#00ff3e 35.5px,#00ff0a 36.5px,#71fa00 41.5px,#e9ec00 47.5px,#fae500 48.5px,#ffc200 51.5px,#ffb700 57.5px,#fec900 72.5px,#ffb000 82.5px,#ff6000 107.5px,#ff3e00 128.5px,#ff2400 140.5px,#ff0000 152.5px,#ff0000 339.5px)"></i><i style="background:linear-gradient(90deg,#00bbff 0.5px,#00d4ff 5.5px,#00f7ed 8.5px,#00ffd2 9.5px,#04ff09 13.5px,#3bfe00 15.5px,#a9f600 17.5px,#cff100 18.5px,#eaec00 19.5px,#fae800 20.5px,#f8e800 21.5px,#ddee00 22.5px,#a2f700 23.5px,#4afd00 24.5px,#17ff05 25.5px,#00ff1e 26.5px,#00ff59 27.5px,#00ffa6 29.5px,#00ffbd 30.5px,#00ffc6 31.5px,#00ffbb 32.5px,#00ff9e 33.5px,#00ff71 34.5px,#08ff08 36.5px,#49fd00 38.5px,#70fb00 39.5px,#99f800 41.5px,#f9e800 49.5px,#fcd900 54.5px,#fcda00 71.5px,#ffad00 81.5px,#ff8f00 87.5px,#ff5800 104.5px,#ff4a00 124.5px,#ff1e00 137.5px,#ff0c00 146.5px,#ff0000 155.5px,#ff0000 339.5px)"></i><i style="background:linear-gradient(90deg,#00c7ff 0.5px,#00d8ff 5.5px,#00f6ed 8.5px,#00ffd5 9.5px,#02ff0a 13.5px,#39fe00 15.5px,#a4f700 17.5px,#c9f300 18.5px,#f0ea00 20.5px,#eceb00 21.5px,#d0f100 22.5px,#93f800 23.5px,#3efe00 24.5px,#13ff06 25.5px,#00ff26 26.5px,#00ff62 27.5px,#00ffb6 29.5px,#00ffd0 30.5px,#00ffd9 31.5px,#00ffcd 32.5px,#00ffab 33.5px,#00ff77 34.5px,#00ff34 35.5px,#0eff07 36.5px,#2dff01 37.5px,#66fb00 38.5px,#8ef800 39.5px,#b1f600 41.5px,#e7ec00 50.5px,#fbe200 70.5px,#ff9f00 81.5px,#ff8000 87.5px,#ff5400 103.5px,#ff5900 120.5px,#ff3900 128.5px,#ff1600 136.5px,#ff0000 155.5px,#ff0000 339.5px)"></i><i style="background:linear-gradient(90deg,#00d1ff 0.5px,#00dffb 6.5px,#00f3ef 8.5px,#00ffe0 9.5px,#00ff4f 12.5px,#00ff16 13.5px,#14ff06 14.5px,#2cff01 15.5px,#8ef800 17.5px,#b4f600 18.5px,#cdf200 19.5px,#d9ef00 20.5px,#d5f000 21.5px,#b9f500 22.5px,#7afa00 23.5px,#2eff00 24.5px,#0dff07 25.5px,#00ff31 26.5px,#00ff9d 28.5px,#00ffe1 30.5px,#00fee9 31.5px,#00ffde 32.5px,#00ffb9 33.5px,#00ff7f 34.5px,#00ff3a 35.5px,#0dff07 36.5px,#2cff01 37.5px,#65fb00 38.5px,#8cf900 39.5px,#a2f700 40.5px,#c6f300 45.5px,#fbe200 70.5px,#ff7d00 85.5px,#ff6600 97.5px,#ff5a00 103.5px,#ff6700 116.5px,#ff5400 123.5px,#ff1300 134.5px,#ff0000 157.5px,#ff0000 339.5px)"></i><i style="background:linear-gradient(90deg,#00d9fe 0.5px,#00ddfc 6.5px,#00f8ec 9.5px,#00ffd3 10.5px,#00ff75 12.5px,#03ff09 14.5px,#31ff00 16.5px,#84f900 18.5px,#a0f700 19.5px,#b0f600 20.5px,#acf600 21.5px,#8df800 22.5px,#22ff03 24.5px,#05ff09 25.5px,#00ff79 27.5px,#00ffd2 29.5px,#00fcea 30.5px,#00fee9 32.5px,#00ffc5 33.5px,#00ff49 35.5px,#05ff09 36.5px,#45fe00 38.5px,#6bfb00 39.5px,#8ff800 41.5px,#b3f600 46.5px,#b1f600 52.5px,#fae800 69.5px,#ff8d00 82.5px,#ff7800 87.5px,#ff7200 97.5px,#ff6b00 103.5px,#ff7500 113.5px,#ff5700 122.5px,#ff1200 132.5px,#ff0500 140.5px,#ff0000 339.5px)"></i><i style="background:linear-gradient(90deg,#00ddfc 0.5px,#00d9fe 7.5px,#00ffe4 11.5px,#00ff81 13.5px,#00ff10 15.5px,#3afe00 18.5px,#57fc00 19.5px,#69fb00 20.5px,#6afb00 21.5px,#51fd00 22.5px,#2aff01 23.5px,#12ff06 24.5px,#00ff1c 25.5px,#00ff89 27.5px,#00ffdd 29.5px,#00f9ec 30.5px,#00fbeb 32.5px,#00ffce 33.5px,#00ff5c 35.5px,#00ff1c 36.5px,#11ff06 37.5px,#62fb00 41.5px,#8bf900 45.5px,#85f900 48.5px,#76fa00 51.5px,#83f900 55.5px,#c6f300 61.5px,#fae400 70.5px,#ffa500 79.5px,#ff8400 86.5px,#ff8300 98.5px,#ff7e00 112.5px,#ff4c00 122.5px,#ff0b00 132.5px,#ff0100 144.5px,#ff0000 339.5px)"></i><i style="background:linear-gradient(90deg,#00dffb 0.5px,#00ccff 7.5px,#00e3f8 11.5px,#00ffde 13.5px,#00ff3a 16.5px,#00ff0d 17.5px,#24ff02 20.5px,#21ff03 22.5px,#00ff0d 24.5px,#00ff9d 27.5px,#00ffe8 29.5px,#00f3ef 31.5px,#00f9eb 32.5px,#00ffd4 33.5px,#00ff37 36.5px,#02ff0a 37.5px,#53fd00 43.5px,#62fb00 45.5px,#5afc00 47.5px,#31ff00 51.5px,#33ff00 55.5px,#66fb00 58.5px,#b3f600 62.5px,#e5ed00 67.5px,#fbe000 71.5px,#ff9b00 83.5px,#ff9700 91.5px,#ff9600 98.5px,#ff8000 111.5px,#ff0d00 130.5px,#ff0100 139.5px,#ff0000 339.5px)"></i><i style="background:linear-gradient(90deg,#00defc 0.5px,#00ceff 4.5px,#00baff 8.5px,#00c1ff 11.5px,#00ddfc 13.5px,#00f0f1 14.5px,#00ffd9 15.5px,#00ff76 17.5px,#00ff2b 19.5px,#00ff10 20.5px,#01ff0a 22.5px,#00ff1f 23.5px,#00ffd3 28.5px,#00fcea 29.5px,#00f3ef 31.5px,#00faeb 32.5px,#00ffd3 33.5px,#00ff1c 37.5px,#08ff08 38.5px,#2dff01 42.5px,#3cfe00 45.5px,#12ff06 52.5px,#11ff06 55.5px,#2cff01 58.5px,#93f800 62.5px,#c9f300 65.5px,#f8e800 70.5px,#ffb600 82.5px,#ffb000 91.5px,#ffad00 96.5px,#ff8700 106.5px,#ff5f00 114.5px,#ff1d00 124.5px,#ff0200 133.5px,#ff0000 339.5px)"></i><i style="background:linear-gradient(90deg,#00dbfd 0.5px,#00c7ff 4.5px,#00a2ff 9.5px,#00a0ff 11.5px,#00b6ff 13.5px,#00dcfd 15.5px,#00ffe7 17.5px,#00ff95 19.5px,#00ff74 20.5px,#00ff60 21.5px,#00ff5c 22.5px,#00ff7b 24.5px,#00ffde 28.5px,#00f6ee 30.5px,#00fde9 32.5px,#00ffca 33.5px,#00ff25 37.5px,#03ff09 38.5px,#25ff02 42.5px,#27ff02 46.5px,#00ff0f 52.5px,#00ff1c 54.5px,#02ff0a 56.5px,#2aff01 59.5px,#97f800 63.5px,#c2f400 65.5px,#f5e900 70.5px,#fdcb00 82.5px,#ffb500 95.5px,#ff7e00 104.5px,#ff5100 113.5px,#ff1700 122.5px,#ff0100 133.5px,#ff0000 339.5px)"></i><i style="background:linear-gradient(90deg,#00d5ff 0.5px,#00beff 4.5px,#0087ff 10.5px,#0089ff 12.5px,#00c3ff 16.5px,#00e4f8 18.5px,#00ffe5 20.5px,#00ffca 21.5px,#00ffbb 22.5px,#00ffbc 24.5px,#00fcea 29.5px,#00fcea 31.5px,#00ffd9 32.5px,#00ff1f 37.5px,#03ff09 38.5px,#22ff03 42.5px,#21ff03 46.5px,#00ff10 51.5px,#00ff26 53.5px,#00ff24 55.5px,#0aff08 57.5px,#28ff02 59.5px,#aff600 64.5px,#daef00 67.5px,#f6e900 71.5px,#fdcc00 87.5px,#ffa400 95.5px,#ff6600 104.5px,#ff3500 114.5px,#ff0c00 122.5px,#ff0000 138.5px,#ff0000 339.5px)"></i><i style="background:linear-gradient(90deg,#00cbff 0.5px,#00b3ff 4.5px,#046cff 11.5px,#0372ff 13.5px,#00c4ff 19.5px,#00e9f5 22.5px,#00ffe8 28.5px,#00ffe2 30.5px,#00ffd4 31.5px,#00ff97 33.5px,#00ff2b 36.5px,#00ff0f 37.5px,#21ff03 42.5px,#22ff03 46.5px,#01ff0a 53.5px,#0bff08 56.5px,#39fe00 59.5px,#91f800 62.5px,#c9f300 65.5px,#ebeb00 69.5px,#fbdd00 80.5px,#ffbd00 87.5px,#ff6b00 99.5px,#ff4900 105.5px,#ff2000 115.5px,#ff0500 123.5px,#ff0000 339.5px)"></i><i style="background:linear-gradient(90deg,#00bfff 0.5px,#00b1ff 3.5px,#0957ff 11.5px,#0956ff 14.5px,#0373ff 17.5px,#00dafe 24.5px,#00fee8 28.5px,#00ffb1 31.5px,#00ff10 36.5px,#27ff02 43.5px,#28ff02 47.5px,#1bff04 54.5px,#30ff00 57.5px,#9bf700 61.5px,#c9f300 64.5px,#efea00 70.5px,#fbdf00 77.5px,#ffbd00 83.5px,#ff8e00 89.5px,#ff6200 97.5px,#ff3b00 103.5px,#ff2200 113.5px,#ff0600 122.5px,#ff0000 176.5px,#ff0000 339.5px)"></i><i style="background:linear-gradient(90deg,#00b4ff 0.5px,#00a7ff 3.5px,#075dff 9.5px,#0f3cff 12.5px,#1133ff 15.5px,#0e3eff 17.5px,#00aaff 23.5px,#00e3f8 26.5px,#00ffe8 28.5px,#00ff0d 35.5px,#37ff00 44.5px,#47fd00 47.5px,#45fe00 53.5px,#61fc00 56.5px,#bff500 61.5px,#eceb00 68.5px,#fbe000 73.5px,#ffb600 80.5px,#ff8200 86.5px,#ff4300 99.5px,#ff3100 105.5px,#ff1f00 113.5px,#ff0800 122.5px,#ff0000 146.5px,#ff0000 339.5px)"></i><i style="background:linear-gradient(90deg,#00abff 0.5px,#0095ff 4.5px,#151eff 13.5px,#1810ff 16.5px,#1520ff 18.5px,#0858ff 21.5px,#00d9ff 26.5px,#00ffe6 28.5px,#00ff62 31.5px,#00ff22 33.5px,#01ff0a 34.5px,#1bff04 38.5px,#2eff00 42.5px,#67fb00 45.5px,#7cfa00 48.5px,#92f800 54.5px,#d7f000 61.5px,#fbe100 69.5px,#ff6300 87.5px,#ff3900 104.5px,#ff2700 112.5px,#ff0f00 120.5px,#ff0000 138.5px,#ff0000 339.5px)"></i><i style="background:linear-gradient(90deg,#00a6ff 0.5px,#0099ff 3.5px,#0568ff 7.5px,#1618ff 12.5px,#1e0eff 14.5px,#1d0eff 18.5px,#1714ff 19.5px,#0958ff 22.5px,#00cfff 26.5px,#00e9f5 27.5px,#00ffe0 28.5px,#00ff66 30.5px,#00ff37 31.5px,#00ff14 32.5px,#0eff07 34.5px,#2aff01 41.5px,#3afe00 42.5px,#8ef800 45.5px,#a8f700 47.5px,#e1ed00 58.5px,#fae400 63.5px,#ffbe00 70.5px,#ff9200 75.5px,#ff5700 86.5px,#ff4800 105.5px,#ff1800 118.5px,#ff0000 134.5px,#ff0000 339.5px)"></i><i style="background:linear-gradient(90deg,#00a4ff 0.5px,#0097ff 3.5px,#0374ff 6.5px,#1619ff 11.5px,#200dff 13.5px,#260bff 17.5px,#1c0fff 19.5px,#161aff 20.5px,#056aff 23.5px,#00c7ff 26.5px,#00e6f7 27.5px,#00ffd9 28.5px,#00ff87 29.5px,#00ff40 30.5px,#00ff0a 31.5px,#16ff05 33.5px,#26ff02 40.5px,#2eff01 41.5px,#47fd00 42.5px,#8ff800 44.5px,#bef500 46.5px,#eeeb00 54.5px,#fbe300 57.5px,#ffad00 67.5px,#ff7400 76.5px,#ff5500 86.5px,#ff6200 100.5px,#ff4600 109.5px,#ff2100 117.5px,#ff0000 134.5px,#ff0000 339.5px)"></i><i style="background:linear-gradient(90deg,#00a3ff 0.5px,#008dff 4.5px,#0663ff 7.5px,#1810ff 11.5px,#2a0aff 16.5px,#1716ff 20.5px,#0664ff 23.5px,#00c2ff 26.5px,#00e5f7 27.5px,#00ffcd 28.5px,#00ff6d 29.5px,#00ff19 30.5px,#13ff06 31.5px,#25ff02 33.5px,#23ff03 39.5px,#30ff00 41.5px,#bbf500 45.5px,#fae800 50.5px,#ff9600 64.5px,#ff6300 76.5px,#ff5f00 86.5px,#ff7500 98.5px,#ff5400 107.5px,#ff2600 117.5px,#ff0d00 127.5px,#ff0000 134.5px,#ff0000 339.5px)"></i><i style="background:linear-gradient(90deg,#00a3ff 0.5px,#008fff 4.5px,#0666ff 7.5px,#1a0fff 11.5px,#290aff 16.5px,#1c0fff 19.5px,#1618ff 20.5px,#0663ff 23.5px,#00c2ff 26.5px,#00e8f5 27.5px,#00ffba 28.5px,#00ff4f 29.5px,#09ff08 30.5px,#24ff02 31.5px,#34ff00 32.5px,#38fe00 33.5px,#23ff03 37.5px,#2aff01 40.5px,#35ff00 41.5px,#c0f500 45.5px,#f9e800 48.5px,#ffb300 53.5px,#ff8b00 59.5px,#ff5e00 74.5px,#ff7000 86.5px,#ff8100 94.5px,#ff7100 101.5px,#ff2c00 115.5px,#ff1a00 124.5px,#ff0000 133.5px,#ff0000 339.5px)"></i><i style="background:linear-gradient(90deg,#00a3ff 0.5px,#0094ff 4.5px,#0082ff 6.5px,#0d42ff 9.5px,#1812ff 11.5px,#270bff 16.5px,#1910ff 19.5px,#1033ff 21.5px,#00a7ff 25.5px,#00caff 26.5px,#00f1f0 27.5px,#00ff9d 28.5px,#00ff2e 29.5px,#19ff05 30.5px,#58fc00 32.5px,#55fc00 33.5px,#2eff00 35.5px,#26ff02 38.5px,#2eff01 40.5px,#3ffe00 41.5px,#c2f400 45.5px,#f3ea00 47.5px,#ffb500 50.5px,#ff9200 53.5px,#ff6d00 61.5px,#ff5d00 73.5px,#ff8b00 90.5px,#ff7000 99.5px,#ff3000 112.5px,#ff1600 125.5px,#ff0000 133.5px,#ff0000 339.5px)"></i><i style="background:linear-gradient(90deg,#00a3ff 0.5px,#0096ff 5.5px,#0083ff 7.5px,#1811ff 12.5px,#210dff 16.5px,#1a0fff 18.5px,#122aff 20.5px,#085aff 22.5px,#00dbfd 26.5px,#00ffe3 27.5px,#01ff0a 29.5px,#28ff02 30.5px,#5cfc00 31.5px,#75fa00 32.5px,#6bfb00 33.5px,#36ff00 35.5px,#28ff02 37.5px,#2eff00 39.5px,#50fd00 41.5px,#e1ed00 46.5px,#fae500 47.5px,#ffa300 50.5px,#ff8200 53.5px,#ff6600 59.5px,#ff6300 72.5px,#ff9000 85.5px,#ff8900 91.5px,#ff3000 108.5px,#ff1600 124.5px,#ff0000 133.5px,#ff0000 339.5px)"></i><i style="background:linear-gradient(90deg,#00a4ff 0.5px,#009fff 6.5px,#0086ff 8.5px,#132aff 12.5px,#1713ff 14.5px,#1811ff 17.5px,#0f3aff 20.5px,#046dff 22.5px,#00cdff 25.5px,#00f0f1 26.5px,#00ffad 27.5px,#00ff44 28.5px,#12ff06 29.5px,#3dfe00 30.5px,#78fa00 31.5px,#8bf900 32.5px,#7cfa00 33.5px,#3ffe00 35.5px,#2fff00 36.5px,#30ff00 38.5px,#67fb00 41.5px,#e9ec00 46.5px,#fbe000 47.5px,#ff9d00 50.5px,#ff7200 55.5px,#ff6800 61.5px,#ff7300 72.5px,#ff9700 81.5px,#ff8b00 88.5px,#ff3c00 100.5px,#ff1c00 111.5px,#ff0e00 125.5px,#ff0000 135.5px,#ff0000 339.5px)"></i><i style="background:linear-gradient(90deg,#00a6ff 0.5px,#00b1ff 6.5px,#009dff 8.5px,#0c48ff 12.5px,#1328ff 15.5px,#1328ff 17.5px,#0a50ff 20.5px,#00a2ff 23.5px,#00e4f8 25.5px,#00ffd5 26.5px,#00ff16 28.5px,#21ff03 29.5px,#8ef800 31.5px,#9bf700 32.5px,#89f900 33.5px,#4bfd00 35.5px,#39fe00 36.5px,#38fe00 37.5px,#57fc00 39.5px,#f0ea00 46.5px,#fdcb00 48.5px,#ff9700 51.5px,#ff7800 56.5px,#ff8a00 72.5px,#ffa400 79.5px,#ff7d00 87.5px,#ff3000 97.5px,#ff1400 108.5px,#ff0600 127.5px,#ff0000 157.5px,#ff0000 339.5px)"></i><i style="background:linear-gradient(90deg,#00aaff 0.5px,#00c3ff 6.5px,#00b4ff 8.5px,#075fff 13.5px,#0c47ff 16.5px,#075fff 19.5px,#009eff 22.5px,#00dbfd 24.5px,#00faeb 25.5px,#00ff9f 26.5px,#00ff48 27.5px,#0aff08 28.5px,#2cff01 29.5px,#6ffb00 30.5px,#9bf700 31.5px,#a5f700 32.5px,#94f800 33.5px,#5bfc00 35.5px,#4dfd00 36.5px,#4efd00 37.5px,#9ef700 41.5px,#f4e900 46.5px,#ffa800 51.5px,#ff8f00 55.5px,#ff9700 63.5px,#ffa600 72.5px,#ffaf00 77.5px,#ff8e00 82.5px,#ff2800 94.5px,#ff0f00 102.5px,#ff0000 145.5px,#ff0000 339.5px)"></i><i style="background:linear-gradient(90deg,#00b1ff 0.5px,#00c6ff 4.5px,#00d2ff 7.5px,#0081ff 14.5px,#0276ff 16.5px,#008cff 19.5px,#00bfff 22.5px,#00d9ff 23.5px,#00f2f0 24.5px,#00ffc1 25.5px,#00ff27 27.5px,#15ff06 28.5px,#38fe00 29.5px,#78fa00 30.5px,#9ff700 31.5px,#a9f600 32.5px,#86f900 34.5px,#71fa00 35.5px,#68fb00 36.5px,#7cfa00 38.5px,#c5f300 42.5px,#fae400 47.5px,#ffb100 54.5px,#ffb200 59.5px,#ffc000 67.5px,#ffbb00 74.5px,#ff8c00 80.5px,#ff3f00 87.5px,#ff1100 95.5px,#ff0400 110.5px,#ff0000 339.5px)"></i><i style="background:linear-gradient(90deg,#00bbff 0.5px,#00c9ff 3.5px,#00e3f9 7.5px,#00a8ff 15.5px,#00b1ff 18.5px,#00d7ff 21.5px,#00f7ec 23.5px,#00ffc9 24.5px,#00ff54 26.5px,#00ff10 27.5px,#1bff04 28.5px,#42fe00 29.5px,#7bfa00 30.5px,#9ff700 31.5px,#abf600 32.5px,#8af900 36.5px,#9df700 38.5px,#c8f300 41.5px,#fae700 48.5px,#fdd000 55.5px,#fcd500 66.5px,#ffbd00 73.5px,#ff5900 82.5px,#ff2b00 86.5px,#ff0b00 93.5px,#ff0100 113.5px,#ff0000 339.5px)"></i><i style="background:linear-gradient(90deg,#00c7ff 0.5px,#00ddfc 4.5px,#00f1f0 7.5px,#00dafe 16.5px,#00faeb 20.5px,#00ffbf 22.5px,#00ff65 25.5px,#05ff09 27.5px,#20ff03 28.5px,#82f900 30.5px,#a3f700 31.5px,#b2f600 32.5px,#abf600 36.5px,#dbef00 43.5px,#fae700 54.5px,#fbe100 63.5px,#ffc100 71.5px,#ff1d00 85.5px,#ff0700 91.5px,#ff0000 133.5px,#ff0000 339.5px)"></i><i style="background:linear-gradient(90deg,#00d2ff 0.5px,#00e7f6 4.5px,#00ffe8 7.5px,#00ffce 11.5px,#00ffd2 15.5px,#00ffbf 17.5px,#00ff5f 21.5px,#00ff3c 25.5px,#00ff1f 26.5px,#0bff08 27.5px,#25ff02 28.5px,#8af900 30.5px,#abf600 31.5px,#bff500 33.5px,#c9f300 38.5px,#ddee00 45.5px,#fae800 61.5px,#ffb600 70.5px,#ff1600 84.5px,#ff0400 89.5px,#ff0000 339.5px)"></i><i style="background:linear-gradient(90deg,#00dafe 0.5px,#00eef2 4.5px,#00ffe4 6.5px,#00ff8d 10.5px,#00ff69 13.5px,#00ff52 16.5px,#00ff2a 18.5px,#00ff0f 19.5px,#0cff08 22.5px,#00ff17 25.5px,#00ff0c 26.5px,#26ff02 28.5px,#88f900 30.5px,#a7f700 31.5px,#bdf500 33.5px,#d5f000 45.5px,#e0ee00 53.5px,#fae600 60.5px,#ff8000 73.5px,#ff0d00 84.5px,#ff0100 91.5px,#ff0000 339.5px)"></i><i style="background:linear-gradient(90deg,#00defb 0.5px,#00f2f0 4.5px,#00fcea 5.5px,#00ffb7 7.5px,#00ff38 11.5px,#00ff0e 13.5px,#24ff02 18.5px,#43fe00 20.5px,#49fd00 21.5px,#08ff08 25.5px,#04ff09 26.5px,#20ff03 28.5px,#3efe00 29.5px,#6bfb00 30.5px,#87f900 31.5px,#a3f700 34.5px,#c4f400 41.5px,#caf200 51.5px,#fae600 58.5px,#fec800 62.5px,#ff9600 67.5px,#ff7400 72.5px,#ff1600 82.5px,#ff0200 86.5px,#ff0000 339.5px)"></i><i style="background:linear-gradient(90deg,#00e0fa 0.5px,#00f4ef 4.5px,#00fee9 5.5px,#00ffa8 7.5px,#00ff24 10.5px,#06ff09 11.5px,#3bfe00 15.5px,#a6f700 19.5px,#b8f500 20.5px,#b6f600 21.5px,#99f800 22.5px,#2aff01 24.5px,#06ff09 26.5px,#06ff09 27.5px,#58fc00 33.5px,#a4f700 41.5px,#a3f700 49.5px,#c0f400 52.5px,#f7e900 56.5px,#ffc000 61.5px,#ff9000 65.5px,#ff5c00 72.5px,#ff2100 79.5px,#ff0300 85.5px,#ff0000 339.5px)"></i><i style="background:linear-gradient(90deg,#00e0fa 0.5px,#00f4ee 4.5px,#00ffe8 5.5px,#00ffc8 6.5px,#00ff6a 8.5px,#00ff32 9.5px,#07ff09 10.5px,#31ff00 12.5px,#9ef700 15.5px,#d5f000 17.5px,#fae500 19.5px,#fbdd00 20.5px,#fbe100 21.5px,#e5ed00 22.5px,#aaf600 23.5px,#53fd00 24.5px,#1dff04 25.5px,#06ff09 26.5px,#00ff16 27.5px,#0aff08 30.5px,#2fff00 36.5px,#76fa00 41.5px,#7afa00 45.5px,#79fa00 49.5px,#91f800 51.5px,#eeeb00 55.5px,#fcd900 57.5px,#ff7e00 65.5px,#ff1e00 77.5px,#ff0100 86.5px,#ff0000 339.5px)"></i><i style="background:linear-gradient(90deg,#00e0fa 0.5px,#00f5ee 4.5px,#00ffe8 5.5px,#00ffc4 6.5px,#00ff5a 8.5px,#00ff17 9.5px,#16ff05 10.5px,#32ff00 11.5px,#a0f700 13.5px,#c9f300 14.5px,#fbe200 16.5px,#ffb000 19.5px,#ffa900 20.5px,#ffb200 21.5px,#fdce00 22.5px,#ddee00 23.5px,#26ff02 25.5px,#05ff09 26.5px,#00ff31 27.5px,#00ff47 28.5px,#00ff50 30.5px,#00ff41 32.5px,#00ff16 34.5px,#06ff09 35.5px,#38fe00 40.5px,#4efd00 42.5px,#4efd00 48.5px,#62fc00 50.5px,#99f800 52.5px,#dcef00 54.5px,#f7e900 55.5px,#ff8c00 62.5px,#ff1900 75.5px,#ff0000 86.5px,#ff0000 339.5px)"></i><i style="background:linear-gradient(90deg,#00e0fa 0.5px,#00f5ee 4.5px,#00ffe7 5.5px,#00ffc1 6.5px,#00ff8d 7.5px,#03ff09 9.5px,#23ff03 10.5px,#5afc00 11.5px,#9ef700 12.5px,#d1f100 13.5px,#f7e900 14.5px,#ff9600 18.5px,#ff8800 20.5px,#ff9000 21.5px,#ffad00 22.5px,#fbe300 23.5px,#9ff700 24.5px,#2cff01 25.5px,#04ff09 26.5px,#00ff46 27.5px,#00ff71 28.5px,#00ff9d 30.5px,#00ffa2 31.5px,#00ff97 32.5px,#00ff1f 36.5px,#04ff09 37.5px,#2aff01 41.5px,#36ff00 48.5px,#56fc00 50.5px,#9df700 52.5px,#ebeb00 54.5px,#fbdc00 55.5px,#ff9900 59.5px,#ff2900 71.5px,#ff0a00 76.5px,#ff0000 93.5px,#ff0000 339.5px)"></i><i style="background:linear-gradient(90deg,#00e0fa 0.5px,#00f5ee 4.5px,#00ffe6 5.5px,#00ffbf 6.5px,#00ff88 7.5px,#0aff08 9.5px,#2cff01 10.5px,#c0f500 12.5px,#efea00 13.5px,#ffb800 15.5px,#ff8e00 17.5px,#ff7800 19.5px,#ff7500 20.5px,#ff7d00 21.5px,#ff9700 22.5px,#fdd100 23.5px,#b7f600 24.5px,#32ff00 25.5px,#04ff09 26.5px,#00ff52 27.5px,#00ff8b 28.5px,#00ffb4 29.5px,#00ffcf 30.5px,#00ffd9 31.5px,#00ffcf 32.5px,#00ff8e 34.5px,#00ff22 37.5px,#03ff09 38.5px,#26ff02 42.5px,#33ff00 48.5px,#62fb00 50.5px,#e1ee00 53.5px,#fbdf00 54.5px,#ff9d00 57.5px,#ff3900 67.5px,#ff0600 75.5px,#ff0000 129.5px,#ff0000 339.5px)"></i><i style="background:linear-gradient(90deg,#00e0fa 0.5px,#00f5ee 4.5px,#00ffe6 5.5px,#00ffbd 6.5px,#00ff84 7.5px,#00ff3c 8.5px,#0eff07 9.5px,#34ff00 10.5px,#8bf900 11.5px,#d1f100 12.5px,#fbe200 13.5px,#ffa600 15.5px,#ff8100 17.5px,#ff6b00 19.5px,#ff6800 20.5px,#ff7200 21.5px,#ff8d00 22.5px,#fec600 23.5px,#c3f400 24.5px,#39fe00 25.5px,#04ff09 26.5px,#00ff59 27.5px,#00ff99 28.5px,#00ffc8 29.5px,#00ffe8 30.5px,#00fee8 32.5px,#00ffcc 33.5px,#00ff31 37.5px,#00ff11 38.5px,#1dff04 41.5px,#2fff00 47.5px,#5dfc00 49.5px,#dbef00 52.5px,#fbe100 53.5px,#ff9500 56.5px,#ff2e00 66.5px,#ff0300 75.5px,#ff0000 339.5px)"></i><i style="background:linear-gradient(90deg,#00e0fa 0.5px,#00f5ee 4.5px,#00ffe5 5.5px,#00ffbd 6.5px,#00ff83 7.5px,#00ff3a 8.5px,#0fff07 9.5px,#3afe00 10.5px,#92f800 11.5px,#d8ef00 12.5px,#fbdc00 13.5px,#ff9e00 15.5px,#ff6f00 18.5px,#ff6400 20.5px,#ff6e00 21.5px,#ff8a00 22.5px,#fec400 23.5px,#c4f400 24.5px,#37ff00 25.5px,#02ff0a 26.5px,#00ff60 27.5px,#00ffa2 28.5px,#00ffd3 29.5px,#00fbeb 30.5px,#00faeb 32.5px,#00ffd6 33.5px,#00ff38 37.5px,#00ff17 38.5px,#07ff09 39.5px,#1fff04 42.5px,#2dff01 46.5px,#3efe00 47.5px,#7ff900 49.5px,#d7f000 51.5px,#fbe300 52.5px,#ff9000 55.5px,#ff4800 61.5px,#ff1d00 66.5px,#ff0100 76.5px,#ff0000 339.5px)"></i><i style="background:linear-gradient(90deg,#00e0fa 0.5px,#00f5ee 4.5px,#00ffe6 5.5px,#00ffbe 6.5px,#00ff85 7.5px,#00ff3e 8.5px,#0dff07 9.5px,#30ff00 10.5px,#87f900 11.5px,#cff100 12.5px,#fbe200 13.5px,#ffa300 15.5px,#ff7f00 17.5px,#ff6c00 19.5px,#ff6c00 20.5px,#ff7700 21.5px,#ff9300 22.5px,#fdd000 23.5px,#b1f600 24.5px,#2bff01 25.5px,#00ff15 26.5px,#00ff6e 27.5px,#00ffae 28.5px,#00ffdc 29.5px,#00f8ec 30.5px,#00f8ec 32.5px,#00ffda 33.5px,#00ff5f 36.5px,#00ff1e 38.5px,#03ff09 39.5px,#1eff04 43.5px,#2fff00 46.5px,#75fa00 48.5px,#fae800 51.5px,#ff9000 54.5px,#ff5500 58.5px,#ff1400 65.5px,#ff0000 77.5px,#ff0000 339.5px)"></i><i style="background:linear-gradient(90deg,#00e0fa 0.5px,#00f5ee 4.5px,#00ffe6 5.5px,#00ffc0 6.5px,#00ff8c 7.5px,#05ff09 9.5px,#25ff02 10.5px,#64fb00 11.5px,#aff600 12.5px,#e4ed00 13.5px,#fcd700 14.5px,#ff9e00 16.5px,#ff8600 18.5px,#ff8200 20.5px,#ff8e00 21.5px,#ffb200 22.5px,#f3ea00 23.5px,#80f900 24.5px,#1bff04 25.5px,#00ff34 26.5px,#00ff86 27.5px,#00ffc1 28.5px,#00fee8 29.5px,#00f2f0 31.5px,#00f8ec 32.5px,#00ffdb 33.5px,#00ff62 36.5px,#00ff0e 39.5px,#26ff02 45.5px,#32ff00 46.5px,#8cf900 48.5px,#c2f400 49.5px,#edeb00 50.5px,#fdd200 51.5px,#ff9400 53.5px,#ff5e00 56.5px,#ff1e00 62.5px,#ff0500 67.5px,#ff0000 339.5px)"></i><i style="background:linear-gradient(90deg,#00e0fa 0.5px,#00f5ee 4.5px,#00ffe8 5.5px,#00ffc5 6.5px,#00ff5d 8.5px,#00ff1d 9.5px,#14ff06 10.5px,#2fff00 11.5px,#b2f600 13.5px,#e3ed00 14.5px,#fcdb00 15.5px,#ffb100 17.5px,#ffa300 19.5px,#ffa900 20.5px,#ffbe00 21.5px,#fbe300 22.5px,#b1f600 23.5px,#39fe00 24.5px,#05ff09 25.5px,#00ff60 26.5px,#00ffa9 27.5px,#00ffdb 28.5px,#00f8ec 29.5px,#00f0f1 31.5px,#00f7ed 32.5px,#00ffdc 33.5px,#00ff65 36.5px,#00ff1e 39.5px,#00ff0c 40.5px,#24ff03 45.5px,#35ff00 46.5px,#d6f000 49.5px,#fbe000 50.5px,#ff9d00 52.5px,#ff5100 56.5px,#ff1b00 61.5px,#ff0300 66.5px,#ff0000 339.5px)"></i><i style="background:linear-gradient(90deg,#00e0fa 0.5px,#00f4ee 4.5px,#00ffe8 5.5px,#00ffa2 7.5px,#00ff0a 10.5px,#2eff00 12.5px,#a5f700 14.5px,#d5f000 15.5px,#f6e900 16.5px,#fcd700 18.5px,#fbe300 20.5px,#e4ed00 21.5px,#aef600 22.5px,#52fd00 23.5px,#14ff06 24.5px,#00ff3d 25.5px,#00ff92 26.5px,#00ffd0 27.5px,#00f9eb 28.5px,#00eef2 31.5px,#00f6ed 32.5px,#00ffdc 33.5px,#00ff8a 35.5px,#00ff51 37.5px,#00ff11 41.5px,#22ff03 45.5px,#38fe00 46.5px,#e6ec00 49.5px,#fdd300 50.5px,#ff9100 52.5px,#ff4500 56.5px,#ff1300 61.5px,#ff0100 67.5px,#ff0000 339.5px)"></i><i style="background:linear-gradient(90deg,#00e0fa 0.5px,#00f4ee 4.5px,#00fee9 5.5px,#00ffad 7.5px,#00ff37 10.5px,#00ff0a 11.5px,#2bff01 13.5px,#98f800 15.5px,#c2f400 16.5px,#d3f000 17.5px,#d5f000 18.5px,#cbf200 19.5px,#b6f600 20.5px,#8bf900 21.5px,#4cfd00 22.5px,#1bff04 23.5px,#00ff21 24.5px,#00ff77 25.5px,#00ffc1 26.5px,#00fbea 27.5px,#00e9f5 30.5px,#00f5ee 32.5px,#00ffdd 33.5px,#00ff8b 35.5px,#00ff6c 36.5px,#00ff4a 38.5px,#00ff26 41.5px,#00ff12 42.5px,#20ff03 45.5px,#39fe00 46.5px,#bdf500 48.5px,#f3e900 49.5px,#ffa200 51.5px,#ff4b00 55.5px,#ff1900 59.5px,#ff0300 64.5px,#ff0000 339.5px)"></i><i style="background:linear-gradient(90deg,#00e0fa 0.5px,#00f4ee 4.5px,#00fee9 5.5px,#00ff78 9.5px,#02ff0a 12.5px,#2fff00 14.5px,#65fb00 15.5px,#8ff800 16.5px,#a2f700 17.5px,#9ff700 18.5px,#8cf900 19.5px,#6dfb00 20.5px,#40fe00 21.5px,#01ff0a 23.5px,#00ffa3 25.5px,#00ffe3 26.5px,#00e9f5 28.5px,#00ebf4 31.5px,#00f5ee 32.5px,#00ffdd 33.5px,#00ff8c 35.5px,#00ff6f 36.5px,#00ff53 38.5px,#00ff35 41.5px,#02ff0a 43.5px,#1fff03 45.5px,#3bfe00 46.5px,#c4f400 48.5px,#fae600 49.5px,#ff9900 51.5px,#ff4400 55.5px,#ff1300 59.5px,#ff0100 64.5px,#ff0000 339.5px)"></i><i style="background:linear-gradient(90deg,#00e0fa 0.5px,#00f4ee 4.5px,#00fde9 5.5px,#00ff6b 10.5px,#00ff1f 12.5px,#0cff07 13.5px,#24ff03 14.5px,#71fa00 16.5px,#83f900 17.5px,#7dfa00 18.5px,#66fb00 19.5px,#26ff02 21.5px,#0fff07 22.5px,#00ff2b 23.5px,#00ffbc 25.5px,#00faeb 26.5px,#00e5f7 28.5px,#00eaf4 31.5px,#00ffde 33.5px,#00ff8d 35.5px,#00ff70 36.5px,#00ff58 38.5px,#00ff3d 41.5px,#00ff0b 43.5px,#1fff04 45.5px,#3bfe00 46.5px,#c7f300 48.5px,#fbe300 49.5px,#ff9600 51.5px,#ff4000 55.5px,#ff1000 59.5px,#ff0100 63.5px,#ff0000 339.5px)"></i><i style="background:linear-gradient(90deg,#00e0fa 0.5px,#00f4ee 4.5px,#00fde9 5.5px,#00ff72 10.5px,#00ff2a 12.5px,#08ff08 13.5px,#3dfe00 15.5px,#65fb00 16.5px,#76fa00 17.5px,#6ffb00 18.5px,#57fc00 19.5px,#33ff00 20.5px,#08ff08 22.5px,#00ff39 23.5px,#00ffc7 25.5px,#00f7ed 26.5px,#00e3f8 28.5px,#00eaf5 31.5px,#00ffde 33.5px,#00ff8d 35.5px,#00ff71 36.5px,#00ff5a 38.5px,#00ff4e 40.5px,#00ff2a 42.5px,#00ff0d 43.5px,#1eff04 45.5px,#3bfe00 46.5px,#c9f300 48.5px,#fbe100 49.5px,#ff9400 51.5px,#ff3f00 55.5px,#ff0e00 59.5px,#ff0000 63.5px,#ff0000 339.5px)"></i><i style="background:linear-gradient(90deg,#0087ff 0.5px,#009fff 3.5px,#00bdff 11.5px,#00e4f8 16.5px,#00f7ed 24.5px,#00ffe5 33.5px,#00ffd5 36.5px,#00ffba 37.5px,#00ff8f 38.5px,#00ff0c 40.5px,#1dff04 41.5px,#4afd00 42.5px,#d6f000 44.5px,#fbdc00 45.5px,#ff9300 47.5px,#ff6700 49.5px,#ff4400 52.5px,#ff3800 58.5px,#ff3700 87.5px,#ff0c00 93.5px,#ff0000 99.5px,#ff0000 339.5px)"></i><i style="background:linear-gradient(90deg,#0087ff 0.5px,#009fff 3.5px,#00bdff 11.5px,#00e4f8 16.5px,#00f7ed 24.5px,#00ffe5 33.5px,#00ffd5 36.5px,#00ffba 37.5px,#00ff8f 38.5px,#00ff0c 40.5px,#1dff04 41.5px,#4afd00 42.5px,#d6f000 44.5px,#fbdc00 45.5px,#ff9300 47.5px,#ff6700 49.5px,#ff4400 52.5px,#ff3800 58.5px,#ff3700 87.5px,#ff0c00 93.5px,#ff0000 99.5px,#ff0000 339.5px)"></i><i style="background:linear-gradient(90deg,#0087ff 0.5px,#009fff 3.5px,#00bdff 11.5px,#00e4f8 16.5px,#00f7ed 24.5px,#00ffe5 33.5px,#00ffd5 36.5px,#00ffba 37.5px,#00ff8f 38.5px,#00ff0c 40.5px,#1dff04 41.5px,#4afd00 42.5px,#d6f000 44.5px,#fbdc00 45.5px,#ff9300 47.5px,#ff6700 49.5px,#ff4400 52.5px,#ff3800 58.5px,#ff3700 87.5px,#ff0c00 93.5px,#ff0000 99.5px,#ff0000 339.5px)"></i><i style="background:linear-gradient(90deg,#0087ff 0.5px,#009fff 3.5px,#00bdff 11.5px,#00e4f8 16.5px,#00f7ed 24.5px,#00ffe5 33.5px,#00ffd5 36.5px,#00ffba 37.5px,#00ff8f 38.5px,#00ff0c 40.5px,#1dff04 41.5px,#4afd00 42.5px,#d6f000 44.5px,#fbdc00 45.5px,#ff9300 47.5px,#ff6700 49.5px,#ff4400 52.5px,#ff3800 58.5px,#ff3700 87.5px,#ff0c00 93.5px,#ff0000 99.5px,#ff0000 339.5px)"></i><i style="background:linear-gradient(90deg,#0087ff 0.5px,#009fff 3.5px,#00bdff 11.5px,#00e4f8 16.5px,#00f7ed 24.5px,#00ffe5 33.5px,#00ffd5 36.5px,#00ffba 37.5px,#00ff8f 38.5px,#00ff0c 40.5px,#1dff04 41.5px,#4afd00 42.5px,#d6f000 44.5px,#fbdc00 45.5px,#ff9300 47.5px,#ff6700 49.5px,#ff4400 52.5px,#ff3800 58.5px,#ff3700 87.5px,#ff0c00 93.5px,#ff0000 99.5px,#ff0000 339.5px)"></i><i style="background:linear-gradient(90deg,#0087ff 0.5px,#009fff 3.5px,#00bdff 11.5px,#00e4f8 16.5px,#00f7ed 24.5px,#00ffe5 33.5px,#00ffd5 36.5px,#00ffba 37.5px,#00ff8f 38.5px,#00ff0c 40.5px,#1dff04 41.5px,#4afd00 42.5px,#d6f000 44.5px,#fbdc00 45.5px,#ff9300 47.5px,#ff6700 49.5px,#ff4400 52.5px,#ff3800 58.5px,#ff3700 87.5px,#ff0c00 93.5px,#ff0000 99.5px,#ff0000 339.5px)"></i><i style="background:linear-gradient(90deg,#0087ff 0.5px,#009fff 3.5px,#00bdff 11.5px,#00e4f8 16.5px,#00f7ed 24.5px,#00ffe5 33.5px,#00ffd5 36.5px,#00ffba 37.5px,#00ff8f 38.5px,#00ff0c 40.5px,#1dff04 41.5px,#4afd00 42.5px,#d6f000 44.5px,#fbdc00 45.5px,#ff9300 47.5px,#ff6700 49.5px,#ff4400 52.5px,#ff3800 58.5px,#ff3700 87.5px,#ff0c00 93.5px,#ff0000 99.5px,#ff0000 339.5px)"></i><i style="background:linear-gradient(90deg,#0087ff 0.5px,#009fff 3.5px,#00bdff 11.5px,#00e4f8 16.5px,#00f7ed 24.5px,#00ffe5 33.5px,#00ffd5 36.5px,#00ffba 37.5px,#00ff8f 38.5px,#00ff0c 40.5px,#1dff04 41.5px,#4afd00 42.5px,#d6f000 44.5px,#fbdc00 45.5px,#ff9300 47.5px,#ff6700 49.5px,#ff4400 52.5px,#ff3800 58.5px,#ff3700 87.5px,#ff0c00 93.5px,#ff0000 99.5px,#ff0000 339.5px)"></i><i style="background:linear-gradient(90deg,#0087ff 0.5px,#009fff 3.5px,#00bdff 11.5px,#00e4f8 16.5px,#00f7ed 24.5px,#00ffe5 33.5px,#00ffd5 36.5px,#00ffba 37.5px,#00ff8f 38.5px,#00ff0c 40.5px,#1dff04 41.5px,#4afd00 42.5px,#d6f000 44.5px,#fbdc00 45.5px,#ff9300 47.5px,#ff6700 49.5px,#ff4400 52.5px,#ff3800 58.5px,#ff3700 87.5px,#ff0c00 93.5px,#ff0000 99.5px,#ff0000 339.5px)"></i><i style="background:linear-gradient(90deg,#0087ff 0.5px,#009fff 3.5px,#00bdff 11.5px,#00e4f8 16.5px,#00f7ed 24.5px,#00ffe5 33.5px,#00ffd5 36.5px,#00ffba 37.5px,#00ff8f 38.5px,#00ff0c 40.5px,#1dff04 41.5px,#4afd00 42.5px,#d6f000 44.5px,#fbdc00 45.5px,#ff9300 47.5px,#ff6700 49.5px,#ff4400 52.5px,#ff3800 58.5px,#ff3700 87.5px,#ff0c00 93.5px,#ff0000 99.5px,#ff0000 339.5px)"></i><i style="background:linear-gradient(90deg,#0087ff 0.5px,#009fff 3.5px,#00bdff 11.5px,#00e4f8 16.5px,#00f7ed 24.5px,#00ffe5 33.5px,#00ffd5 36.5px,#00ffba 37.5px,#00ff8f 38.5px,#00ff0c 40.5px,#1dff04 41.5px,#4afd00 42.5px,#d6f000 44.5px,#fbdc00 45.5px,#ff9300 47.5px,#ff6700 49.5px,#ff4400 52.5px,#ff3800 58.5px,#ff3700 87.5px,#ff0c00 93.5px,#ff0000 99.5px,#ff0000 339.5px)"></i><i style="background:linear-gradient(90deg,#0087ff 0.5px,#009fff 3.5px,#00bdff 11.5px,#00e4f8 16.5px,#00f7ed 24.5px,#00ffe5 33.5px,#00ffd5 36.5px,#00ffba 37.5px,#00ff8f 38.5px,#00ff0c 40.5px,#1dff04 41.5px,#4afd00 42.5px,#d6f000 44.5px,#fbdc00 45.5px,#ff9300 47.5px,#ff6700 49.5px,#ff4400 52.5px,#ff3800 58.5px,#ff3700 87.5px,#ff0c00 93.5px,#ff0000 99.5px,#ff0000 339.5px)"></i><i style="background:linear-gradient(90deg,#0087ff 0.5px,#009fff 3.5px,#00bdff 11.5px,#00e4f8 16.5px,#00f7ed 24.5px,#00ffe5 33.5px,#00ffd5 36.5px,#00ffba 37.5px,#00ff8f 38.5px,#00ff0c 40.5px,#1dff04 41.5px,#4afd00 42.5px,#d6f000 44.5px,#fbdc00 45.5px,#ff9300 47.5px,#ff6700 49.5px,#ff4400 52.5px,#ff3800 58.5px,#ff3700 87.5px,#ff0c00 93.5px,#ff0000 99.5px,#ff0000 339.5px)"></i><i style="background:linear-gradient(90deg,#0087ff 0.5px,#009fff 3.5px,#00bdff 11.5px,#00e4f8 16.5px,#00f7ed 24.5px,#00ffe5 33.5px,#00ffd5 36.5px,#00ffba 37.5px,#00ff8f 38.5px,#00ff0c 40.5px,#1dff04 41.5px,#4afd00 42.5px,#d6f000 44.5px,#fbdc00 45.5px,#ff9300 47.5px,#ff6700 49.5px,#ff4400 52.5px,#ff3800 58.5px,#ff3700 87.5px,#ff0c00 93.5px,#ff0000 99.5px,#ff0000 339.5px)"></i><i style="background:linear-gradient(90deg,#0087ff 0.5px,#009fff 3.5px,#00bdff 11.5px,#00e4f8 16.5px,#00f7ed 24.5px,#00ffe5 33.5px,#00ffd5 36.5px,#00ffba 37.5px,#00ff8f 38.5px,#00ff0c 40.5px,#1dff04 41.5px,#4afd00 42.5px,#d6f000 44.5px,#fbdc00 45.5px,#ff9300 47.5px,#ff6700 49.5px,#ff4400 52.5px,#ff3800 58.5px,#ff3700 87.5px,#ff0c00 93.5px,#ff0000 99.5px,#ff0000 339.5px)"></i><i style="background:linear-gradient(90deg,#0087ff 0.5px,#009fff 3.5px,#00bdff 11.5px,#00e4f8 16.5px,#00f7ed 24.5px,#00ffe5 33.5px,#00ffd5 36.5px,#00ffba 37.5px,#00ff8f 38.5px,#00ff0c 40.5px,#1dff04 41.5px,#4afd00 42.5px,#d6f000 44.5px,#fbdc00 45.5px,#ff9300 47.5px,#ff6700 49.5px,#ff4400 52.5px,#ff3800 58.5px,#ff3700 87.5px,#ff0c00 93.5px,#ff0000 99.5px,#ff0000 339.5px)"></i><i style="background:linear-gradient(90deg,#0087ff 0.5px,#009fff 3.5px,#00bdff 11.5px,#00e4f8 16.5px,#00f7ed 24.5px,#00ffe5 33.5px,#00ffd5 36.5px,#00ffba 37.5px,#00ff8f 38.5px,#00ff0c 40.5px,#1dff04 41.5px,#4afd00 42.5px,#d6f000 44.5px,#fbdc00 45.5px,#ff9300 47.5px,#ff6700 49.5px,#ff4400 52.5px,#ff3800 58.5px,#ff3700 87.5px,#ff0c00 93.5px,#ff0000 99.5px,#ff0000 339.5px)"></i><i style="background:linear-gradient(90deg,#0087ff 0.5px,#009fff 3.5px,#00bdff 11.5px,#00e4f8 16.5px,#00f7ed 24.5px,#00ffe5 33.5px,#00ffd5 36.5px,#00ffba 37.5px,#00ff8f 38.5px,#00ff0c 40.5px,#1dff04 41.5px,#4afd00 42.5px,#d6f000 44.5px,#fbdc00 45.5px,#ff9300 47.5px,#ff6700 49.5px,#ff4400 52.5px,#ff3800 58.5px,#ff3700 87.5px,#ff0c00 93.5px,#ff0000 99.5px,#ff0000 339.5px)"></i><i style="background:linear-gradient(90deg,#0087ff 0.5px,#009fff 3.5px,#00bdff 11.5px,#00e4f8 16.5px,#00f7ed 24.5px,#00ffe5 33.5px,#00ffd5 36.5px,#00ffba 37.5px,#00ff8f 38.5px,#00ff0c 40.5px,#1dff04 41.5px,#4afd00 42.5px,#d6f000 44.5px,#fbdc00 45.5px,#ff9300 47.5px,#ff6700 49.5px,#ff4400 52.5px,#ff3800 58.5px,#ff3700 87.5px,#ff0c00 93.5px,#ff0000 99.5px,#ff0000 339.5px)"></i><i style="background:linear-gradient(90deg,#0087ff 0.5px,#009fff 3.5px,#00bdff 11.5px,#00e4f8 16.5px,#00f7ed 24.5px,#00ffe5 33.5px,#00ffd5 36.5px,#00ffba 37.5px,#00ff8f 38.5px,#00ff0c 40.5px,#1dff04 41.5px,#4afd00 42.5px,#d6f000 44.5px,#fbdc00 45.5px,#ff9300 47.5px,#ff6700 49.5px,#ff4400 52.5px,#ff3800 58.5px,#ff3700 87.5px,#ff0c00 93.5px,#ff0000 99.5px,#ff0000 339.5px)"></i><i style="background:linear-gradient(90deg,#0087ff 0.5px,#009fff 3.5px,#00bdff 11.5px,#00e4f8 16.5px,#00f7ed 24.5px,#00ffe5 33.5px,#00ffd5 36.5px,#00ffba 37.5px,#00ff8f 38.5px,#00ff0c 40.5px,#1dff04 41.5px,#4afd00 42.5px,#d6f000 44.5px,#fbdc00 45.5px,#ff9300 47.5px,#ff6700 49.5px,#ff4400 52.5px,#ff3800 58.5px,#ff3700 87.5px,#ff0c00 93.5px,#ff0000 99.5px,#ff0000 339.5px)"></i><i style="background:linear-gradient(90deg,#0087ff 0.5px,#009fff 3.5px,#00bdff 11.5px,#00e4f8 16.5px,#00f7ed 24.5px,#00ffe5 33.5px,#00ffd5 36.5px,#00ffba 37.5px,#00ff8f 38.5px,#00ff0c 40.5px,#1dff04 41.5px,#4afd00 42.5px,#d6f000 44.5px,#fbdc00 45.5px,#ff9300 47.5px,#ff6700 49.5px,#ff4400 52.5px,#ff3800 58.5px,#ff3700 87.5px,#ff0c00 93.5px,#ff0000 99.5px,#ff0000 339.5px)"></i><i style="background:linear-gradient(90deg,#0087ff 0.5px,#009fff 3.5px,#00bdff 11.5px,#00e4f8 16.5px,#00f7ed 24.5px,#00ffe5 33.5px,#00ffd5 36.5px,#00ffba 37.5px,#00ff8f 38.5px,#00ff0c 40.5px,#1dff04 41.5px,#4afd00 42.5px,#d6f000 44.5px,#fbdc00 45.5px,#ff9300 47.5px,#ff6700 49.5px,#ff4400 52.5px,#ff3800 58.5px,#ff3700 87.5px,#ff0c00 93.5px,#ff0000 99.5px,#ff0000 339.5px)"></i><i style="background:linear-gradient(90deg,#0087ff 0.5px,#009fff 3.5px,#00bdff 11.5px,#00e4f8 16.5px,#00f7ed 24.5px,#00ffe5 33.5px,#00ffd5 36.5px,#00ffba 37.5px,#00ff8f 38.5px,#00ff0c 40.5px,#1dff04 41.5px,#4afd00 42.5px,#d6f000 44.5px,#fbdc00 45.5px,#ff9300 47.5px,#ff6700 49.5px,#ff4400 52.5px,#ff3800 58.5px,#ff3700 87.5px,#ff0c00 93.5px,#ff0000 99.5px,#ff0000 339.5px)"></i><i style="background:linear-gradient(90deg,#0087ff 0.5px,#009fff 3.5px,#00bdff 11.5px,#00e4f8 16.5px,#00f7ed 24.5px,#00ffe5 33.5px,#00ffd5 36.5px,#00ffba 37.5px,#00ff8f 38.5px,#00ff0c 40.5px,#1dff04 41.5px,#4afd00 42.5px,#d6f000 44.5px,#fbdc00 45.5px,#ff9300 47.5px,#ff6700 49.5px,#ff4400 52.5px,#ff3800 58.5px,#ff3700 87.5px,#ff0c00 93.5px,#ff0000 99.5px,#ff0000 339.5px)"></i><i style="background:linear-gradient(90deg,#0087ff 0.5px,#009fff 3.5px,#00bdff 11.5px,#00e4f8 16.5px,#00f7ed 24.5px,#00ffe5 33.5px,#00ffd5 36.5px,#00ffba 37.5px,#00ff8f 38.5px,#00ff0c 40.5px,#1dff04 41.5px,#4afd00 42.5px,#d6f000 44.5px,#fbdc00 45.5px,#ff9300 47.5px,#ff6700 49.5px,#ff4400 52.5px,#ff3800 58.5px,#ff3700 87.5px,#ff0c00 93.5px,#ff0000 99.5px,#ff0000 339.5px)"></i><i style="background:linear-gradient(90deg,#0087ff 0.5px,#009fff 3.5px,#00bdff 11.5px,#00e4f8 16.5px,#00f7ed 24.5px,#00ffe5 33.5px,#00ffd5 36.5px,#00ffba 37.5px,#00ff8f 38.5px,#00ff0c 40.5px,#1dff04 41.5px,#4afd00 42.5px,#d6f000 44.5px,#fbdc00 45.5px,#ff9300 47.5px,#ff6700 49.5px,#ff4400 52.5px,#ff3800 58.5px,#ff3700 87.5px,#ff0c00 93.5px,#ff0000 99.5px,#ff0000 339.5px)"></i><i style="background:linear-gradient(90deg,#0087ff 0.5px,#009fff 3.5px,#00bdff 11.5px,#00e4f8 16.5px,#00f7ed 24.5px,#00ffe5 33.5px,#00ffd5 36.5px,#00ffba 37.5px,#00ff8f 38.5px,#00ff0c 40.5px,#1dff04 41.5px,#4afd00 42.5px,#d6f000 44.5px,#fbdc00 45.5px,#ff9300 47.5px,#ff6700 49.5px,#ff4400 52.5px,#ff3800 58.5px,#ff3700 87.5px,#ff0c00 93.5px,#ff0000 99.5px,#ff0000 339.5px)"></i><i style="background:linear-gradient(90deg,#0087ff 0.5px,#009fff 3.5px,#00bdff 11.5px,#00e4f8 16.5px,#00f7ed 24.5px,#00ffe5 33.5px,#00ffd5 36.5px,#00ffba 37.5px,#00ff8f 38.5px,#00ff0c 40.5px,#1dff04 41.5px,#4afd00 42.5px,#d6f000 44.5px,#fbdc00 45.5px,#ff9300 47.5px,#ff6700 49.5px,#ff4400 52.5px,#ff3800 58.5px,#ff3700 87.5px,#ff0c00 93.5px,#ff0000 99.5px,#ff0000 339.5px)"></i><i style="background:linear-gradient(90deg,#0087ff 0.5px,#009fff 3.5px,#00bdff 11.5px,#00e4f8 16.5px,#00f7ed 24.5px,#00ffe5 33.5px,#00ffd5 36.5px,#00ffba 37.5px,#00ff8f 38.5px,#00ff0c 40.5px,#1dff04 41.5px,#4afd00 42.5px,#d6f000 44.5px,#fbdc00 45.5px,#ff9300 47.5px,#ff6700 49.5px,#ff4400 52.5px,#ff3800 58.5px,#ff3700 87.5px,#ff0c00 93.5px,#ff0000 99.5px,#ff0000 339.5px)"></i><i style="background:linear-gradient(90deg,#0087ff 0.5px,#009fff 3.5px,#00bdff 11.5px,#00e4f8 16.5px,#00f7ed 24.5px,#00ffe5 33.5px,#00ffd5 36.5px,#00ffba 37.5px,#00ff8f 38.5px,#00ff0c 40.5px,#1dff04 41.5px,#4afd00 42.5px,#d6f000 44.5px,#fbdc00 45.5px,#ff9300 47.5px,#ff6700 49.5px,#ff4400 52.5px,#ff3800 58.5px,#ff3700 87.5px,#ff0c00 93.5px,#ff0000 99.5px,#ff0000 339.5px)"></i><i style="background:linear-gradient(90deg,#0087ff 0.5px,#009fff 3.5px,#00bdff 11.5px,#00e4f8 16.5px,#00f7ed 24.5px,#00ffe5 33.5px,#00ffd5 36.5px,#00ffba 37.5px,#00ff8f 38.5px,#00ff0c 40.5px,#1dff04 41.5px,#4afd00 42.5px,#d6f000 44.5px,#fbdc00 45.5px,#ff9300 47.5px,#ff6700 49.5px,#ff4400 52.5px,#ff3800 58.5px,#ff3700 87.5px,#ff0c00 93.5px,#ff0000 99.5px,#ff0000 339.5px)"></i><i style="background:linear-gradient(90deg,#0087ff 0.5px,#009fff 3.5px,#00bdff 11.5px,#00e4f8 16.5px,#00f7ed 24.5px,#00ffe5 33.5px,#00ffd5 36.5px,#00ffba 37.5px,#00ff8f 38.5px,#00ff0c 40.5px,#1dff04 41.5px,#4afd00 42.5px,#d6f000 44.5px,#fbdc00 45.5px,#ff9300 47.5px,#ff6700 49.5px,#ff4400 52.5px,#ff3800 58.5px,#ff3700 87.5px,#ff0c00 93.5px,#ff0000 99.5px,#ff0000 339.5px)"></i><i style="background:linear-gradient(90deg,#0087ff 0.5px,#009fff 3.5px,#00bdff 11.5px,#00e4f8 16.5px,#00f7ed 24.5px,#00ffe5 33.5px,#00ffd5 36.5px,#00ffba 37.5px,#00ff8f 38.5px,#00ff0c 40.5px,#1dff04 41.5px,#4afd00 42.5px,#d6f000 44.5px,#fbdc00 45.5px,#ff9300 47.5px,#ff6700 49.5px,#ff4400 52.5px,#ff3800 58.5px,#ff3700 87.5px,#ff0c00 93.5px,#ff0000 99.5px,#ff0000 339.5px)"></i><i style="background:linear-gradient(90deg,#0087ff 0.5px,#009fff 3.5px,#00bdff 11.5px,#00e4f8 16.5px,#00f7ed 24.5px,#00ffe5 33.5px,#00ffd5 36.5px,#00ffba 37.5px,#00ff8f 38.5px,#00ff0c 40.5px,#1dff04 41.5px,#4afd00 42.5px,#d6f000 44.5px,#fbdc00 45.5px,#ff9300 47.5px,#ff6700 49.5px,#ff4400 52.5px,#ff3800 58.5px,#ff3700 87.5px,#ff0c00 93.5px,#ff0000 99.5px,#ff0000 339.5px)"></i><i style="background:linear-gradient(90deg,#0087ff 0.5px,#009fff 3.5px,#00bdff 11.5px,#00e4f8 16.5px,#00f7ed 24.5px,#00ffe5 33.5px,#00ffd5 36.5px,#00ffba 37.5px,#00ff8f 38.5px,#00ff0c 40.5px,#1dff04 41.5px,#4afd00 42.5px,#d6f000 44.5px,#fbdc00 45.5px,#ff9300 47.5px,#ff6700 49.5px,#ff4400 52.5px,#ff3800 58.5px,#ff3700 87.5px,#ff0c00 93.5px,#ff0000 99.5px,#ff0000 339.5px)"></i><i style="background:linear-gradient(90deg,#0087ff 0.5px,#009fff 3.5px,#00bdff 11.5px,#00e4f8 16.5px,#00f7ed 24.5px,#00ffe5 33.5px,#00ffd5 36.5px,#00ffba 37.5px,#00ff8f 38.5px,#00ff0c 40.5px,#1dff04 41.5px,#4afd00 42.5px,#d6f000 44.5px,#fbdc00 45.5px,#ff9300 47.5px,#ff6700 49.5px,#ff4400 52.5px,#ff3800 58.5px,#ff3700 87.5px,#ff0c00 93.5px,#ff0000 99.5px,#ff0000 339.5px)"></i><i style="background:linear-gradient(90deg,#0087ff 0.5px,#009fff 3.5px,#00bdff 11.5px,#00e4f8 16.5px,#00f7ed 24.5px,#00ffe5 33.5px,#00ffd5 36.5px,#00ffba 37.5px,#00ff8f 38.5px,#00ff0c 40.5px,#1dff04 41.5px,#4afd00 42.5px,#d6f000 44.5px,#fbdc00 45.5px,#ff9300 47.5px,#ff6700 49.5px,#ff4400 52.5px,#ff3800 58.5px,#ff3700 87.5px,#ff0c00 93.5px,#ff0000 99.5px,#ff0000 339.5px)"></i><i style="background:linear-gradient(90deg,#0087ff 0.5px,#009fff 3.5px,#00bdff 11.5px,#00e4f8 16.5px,#00f7ed 24.5px,#00ffe5 33.5px,#00ffd5 36.5px,#00ffba 37.5px,#00ff8f 38.5px,#00ff0c 40.5px,#1dff04 41.5px,#4afd00 42.5px,#d6f000 44.5px,#fbdc00 45.5px,#ff9300 47.5px,#ff6700 49.5px,#ff4400 52.5px,#ff3800 58.5px,#ff3700 87.5px,#ff0c00 93.5px,#ff0000 99.5px,#ff0000 339.5px)"></i><i style="background:linear-gradient(90deg,#0087ff 0.5px,#009fff 3.5px,#00bdff 11.5px,#00e4f8 16.5px,#00f7ed 24.5px,#00ffe5 33.5px,#00ffd5 36.5px,#00ffba 37.5px,#00ff8f 38.5px,#00ff0c 40.5px,#1dff04 41.5px,#4afd00 42.5px,#d6f000 44.5px,#fbdc00 45.5px,#ff9300 47.5px,#ff6700 49.5px,#ff4400 52.5px,#ff3800 58.5px,#ff3700 87.5px,#ff0c00 93.5px,#ff0000 99.5px,#ff0000 339.5px)"></i><i style="background:linear-gradient(90deg,#0087ff 0.5px,#009fff 3.5px,#00bdff 11.5px,#00e4f8 16.5px,#00f7ed 24.5px,#00ffe5 33.5px,#00ffd5 36.5px,#00ffba 37.5px,#00ff8f 38.5px,#00ff0c 40.5px,#1dff04 41.5px,#4afd00 42.5px,#d6f000 44.5px,#fbdc00 45.5px,#ff9300 47.5px,#ff6700 49.5px,#ff4400 52.5px,#ff3800 58.5px,#ff3700 87.5px,#ff0c00 93.5px,#ff0000 99.5px,#ff0000 339.5px)"></i><i style="background:linear-gradient(90deg,#0087ff 0.5px,#009fff 3.5px,#00bdff 11.5px,#00e4f8 16.5px,#00f7ed 24.5px,#00ffe5 33.5px,#00ffd5 36.5px,#00ffba 37.5px,#00ff8f 38.5px,#00ff0c 40.5px,#1dff04 41.5px,#4afd00 42.5px,#d6f000 44.5px,#fbdc00 45.5px,#ff9300 47.5px,#ff6700 49.5px,#ff4400 52.5px,#ff3800 58.5px,#ff3700 87.5px,#ff0c00 93.5px,#ff0000 99.5px,#ff0000 339.5px)"></i><i style="background:linear-gradient(90deg,#0087ff 0.5px,#009fff 3.5px,#00bdff 11.5px,#00e4f8 16.5px,#00f7ed 24.5px,#00ffe5 33.5px,#00ffd5 36.5px,#00ffba 37.5px,#00ff8f 38.5px,#00ff0c 40.5px,#1dff04 41.5px,#4afd00 42.5px,#d6f000 44.5px,#fbdc00 45.5px,#ff9300 47.5px,#ff6700 49.5px,#ff4400 52.5px,#ff3800 58.5px,#ff3700 87.5px,#ff0c00 93.5px,#ff0000 99.5px,#ff0000 339.5px)"></i><i style="background:linear-gradient(90deg,#0087ff 0.5px,#009fff 3.5px,#00bdff 11.5px,#00e4f8 16.5px,#00f7ed 24.5px,#00ffe5 33.5px,#00ffd5 36.5px,#00ffba 37.5px,#00ff8f 38.5px,#00ff0c 40.5px,#1dff04 41.5px,#4afd00 42.5px,#d6f000 44.5px,#fbdc00 45.5px,#ff9300 47.5px,#ff6700 49.5px,#ff4400 52.5px,#ff3800 58.5px,#ff3700 87.5px,#ff0c00 93.5px,#ff0000 99.5px,#ff0000 339.5px)"></i><i style="background:linear-gradient(90deg,#0087ff 0.5px,#009fff 3.5px,#00bdff 11.5px,#00e4f8 16.5px,#00f7ed 24.5px,#00ffe5 33.5px,#00ffd5 36.5px,#00ffba 37.5px,#00ff8f 38.5px,#00ff0c 40.5px,#1dff04 41.5px,#4afd00 42.5px,#d6f000 44.5px,#fbdc00 45.5px,#ff9300 47.5px,#ff6700 49.5px,#ff4400 52.5px,#ff3800 58.5px,#ff3700 87.5px,#ff0c00 93.5px,#ff0000 99.5px,#ff0000 339.5px)"></i><i style="background:linear-gradient(90deg,#0087ff 0.5px,#009fff 3.5px,#00bdff 11.5px,#00e4f8 16.5px,#00f7ed 24.5px,#00ffe5 33.5px,#00ffd5 36.5px,#00ffba 37.5px,#00ff8f 38.5px,#00ff0c 40.5px,#1dff04 41.5px,#4afd00 42.5px,#d6f000 44.5px,#fbdc00 45.5px,#ff9300 47.5px,#ff6700 49.5px,#ff4400 52.5px,#ff3800 58.5px,#ff3700 87.5px,#ff0c00 93.5px,#ff0000 99.5px,#ff0000 339.5px)"></i><i style="background:linear-gradient(90deg,#0087ff 0.5px,#009fff 3.5px,#00bdff 11.5px,#00e4f8 16.5px,#00f7ed 24.5px,#00ffe5 33.5px,#00ffd5 36.5px,#00ffba 37.5px,#00ff8f 38.5px,#00ff0c 40.5px,#1dff04 41.5px,#4afd00 42.5px,#d6f000 44.5px,#fbdc00 45.5px,#ff9300 47.5px,#ff6700 49.5px,#ff4400 52.5px,#ff3800 58.5px,#ff3700 87.5px,#ff0c00 93.5px,#ff0000 99.5px,#ff0000 339.5px)"></i><i style="background:linear-gradient(90deg,#0087ff 0.5px,#009fff 3.5px,#00bdff 11.5px,#00e4f8 16.5px,#00f7ed 24.5px,#00ffe5 33.5px,#00ffd5 36.5px,#00ffba 37.5px,#00ff8f 38.5px,#00ff0c 40.5px,#1dff04 41.5px,#4afd00 42.5px,#d6f000 44.5px,#fbdc00 45.5px,#ff9300 47.5px,#ff6700 49.5px,#ff4400 52.5px,#ff3800 58.5px,#ff3700 87.5px,#ff0c00 93.5px,#ff0000 99.5px,#ff0000 339.5px)"></i><i style="background:linear-gradient(90deg,#0087ff 0.5px,#009fff 3.5px,#00bdff 11.5px,#00e4f8 16.5px,#00f7ed 24.5px,#00ffe5 33.5px,#00ffd5 36.5px,#00ffba 37.5px,#00ff8f 38.5px,#00ff0c 40.5px,#1dff04 41.5px,#4afd00 42.5px,#d6f000 44.5px,#fbdc00 45.5px,#ff9300 47.5px,#ff6700 49.5px,#ff4400 52.5px,#ff3800 58.5px,#ff3700 87.5px,#ff0c00 93.5px,#ff0000 99.5px,#ff0000 339.5px)"></i><i style="background:linear-gradient(90deg,#0087ff 0.5px,#009fff 3.5px,#00bdff 11.5px,#00e4f8 16.5px,#00f7ed 24.5px,#00ffe5 33.5px,#00ffd5 36.5px,#00ffba 37.5px,#00ff8f 38.5px,#00ff0c 40.5px,#1dff04 41.5px,#4afd00 42.5px,#d6f000 44.5px,#fbdc00 45.5px,#ff9300 47.5px,#ff6700 49.5px,#ff4400 52.5px,#ff3800 58.5px,#ff3700 87.5px,#ff0c00 93.5px,#ff0000 99.5px,#ff0000 339.5px)"></i><i style="background:linear-gradient(90deg,#0087ff 0.5px,#009fff 3.5px,#00bdff 11.5px,#00e4f8 16.5px,#00f7ed 24.5px,#00ffe5 33.5px,#00ffd5 36.5px,#00ffba 37.5px,#00ff8f 38.5px,#00ff0c 40.5px,#1dff04 41.5px,#4afd00 42.5px,#d6f000 44.5px,#fbdc00 45.5px,#ff9300 47.5px,#ff6700 49.5px,#ff4400 52.5px,#ff3800 58.5px,#ff3700 87.5px,#ff0c00 93.5px,#ff0000 99.5px,#ff0000 339.5px)"></i><i style="background:linear-gradient(90deg,#0087ff 0.5px,#009fff 3.5px,#00bdff 11.5px,#00e4f8 16.5px,#00f7ed 24.5px,#00ffe5 33.5px,#00ffd5 36.5px,#00ffba 37.5px,#00ff8f 38.5px,#00ff0c 40.5px,#1dff04 41.5px,#4afd00 42.5px,#d6f000 44.5px,#fbdc00 45.5px,#ff9300 47.5px,#ff6700 49.5px,#ff4400 52.5px,#ff3800 58.5px,#ff3700 87.5px,#ff0c00 93.5px,#ff0000 99.5px,#ff0000 339.5px)"></i><i style="background:linear-gradient(90deg,#0087ff 0.5px,#009fff 3.5px,#00bdff 11.5px,#00e4f8 16.5px,#00f7ed 24.5px,#00ffe5 33.5px,#00ffd5 36.5px,#00ffba 37.5px,#00ff8f 38.5px,#00ff0c 40.5px,#1dff04 41.5px,#4afd00 42.5px,#d6f000 44.5px,#fbdc00 45.5px,#ff9300 47.5px,#ff6700 49.5px,#ff4400 52.5px,#ff3800 58.5px,#ff3700 87.5px,#ff0c00 93.5px,#ff0000 99.5px,#ff0000 339.5px)"></i><i style="background:linear-gradient(90deg,#0087ff 0.5px,#009fff 3.5px,#00bdff 11.5px,#00e4f8 16.5px,#00f7ed 24.5px,#00ffe5 33.5px,#00ffd5 36.5px,#00ffba 37.5px,#00ff8f 38.5px,#00ff0c 40.5px,#1dff04 41.5px,#4afd00 42.5px,#d6f000 44.5px,#fbdc00 45.5px,#ff9300 47.5px,#ff6700 49.5px,#ff4400 52.5px,#ff3800 58.5px,#ff3700 87.5px,#ff0c00 93.5px,#ff0000 99.5px,#ff0000 339.5px)"></i><i style="background:linear-gradient(90deg,#0087ff 0.5px,#009fff 3.5px,#00bdff 11.5px,#00e4f8 16.5px,#00f7ed 24.5px,#00ffe5 33.5px,#00ffd5 36.5px,#00ffba 37.5px,#00ff8f 38.5px,#00ff0c 40.5px,#1dff04 41.5px,#4afd00 42.5px,#d6f000 44.5px,#fbdc00 45.5px,#ff9300 47.5px,#ff6700 49.5px,#ff4400 52.5px,#ff3800 58.5px,#ff3700 87.5px,#ff0c00 93.5px,#ff0000 99.5px,#ff0000 339.5px)"></i><i style="background:linear-gradient(90deg,#0087ff 0.5px,#009fff 3.5px,#00bdff 11.5px,#00e4f8 16.5px,#00f7ed 24.5px,#00ffe5 33.5px,#00ffd5 36.5px,#00ffba 37.5px,#00ff8f 38.5px,#00ff0c 40.5px,#1dff04 41.5px,#4afd00 42.5px,#d6f000 44.5px,#fbdc00 45.5px,#ff9300 47.5px,#ff6700 49.5px,#ff4400 52.5px,#ff3800 58.5px,#ff3700 87.5px,#ff0c00 93.5px,#ff0000 99.5px,#ff0000 339.5px)"></i><i style="background:linear-gradient(90deg,#0087ff 0.5px,#009fff 3.5px,#00bdff 11.5px,#00e4f8 16.5px,#00f7ed 24.5px,#00ffe5 33.5px,#00ffd5 36.5px,#00ffba 37.5px,#00ff8f 38.5px,#00ff0c 40.5px,#1dff04 41.5px,#4afd00 42.5px,#d6f000 44.5px,#fbdc00 45.5px,#ff9300 47.5px,#ff6700 49.5px,#ff4400 52.5px,#ff3800 58.5px,#ff3700 87.5px,#ff0c00 93.5px,#ff0000 99.5px,#ff0000 339.5px)"></i></div><svg width="550" height="517" viewBox="0 0 550 517">
<defs>
<linearGradient id="cb" x1="0" y1="0" x2="0" y2="1"><stop offset="0" stop-color="#ff0000"/><stop offset="0.02" stop-color="#ff1000"/><stop offset="0.04" stop-color="#ff2000"/><stop offset="0.06" stop-color="#ff3000"/><stop offset="0.08" stop-color="#ff4000"/><stop offset="0.1" stop-color="#ff5000"/><stop offset="0.12" stop-color="#ff5f00"/><stop offset="0.14" stop-color="#ff6e00"/><stop offset="0.16" stop-color="#ff7d00"/><stop offset="0.18" stop-color="#ff8c00"/><stop offset="0.2" stop-color="#ff9b00"/><stop offset="0.22" stop-color="#ffb200"/><stop offset="0.24" stop-color="#fec800"/><stop offset="0.26" stop-color="#fbde00"/><stop offset="0.28" stop-color="#ebeb00"/><stop offset="0.3" stop-color="#cdf200"/><stop offset="0.32" stop-color="#aaf600"/><stop offset="0.34" stop-color="#81f900"/><stop offset="0.36" stop-color="#59fc00"/><stop offset="0.38" stop-color="#30ff00"/><stop offset="0.4" stop-color="#20ff03"/><stop offset="0.42" stop-color="#10ff07"/><stop offset="0.44" stop-color="#00ff0a"/><stop offset="0.46" stop-color="#00ff31"/><stop offset="0.48" stop-color="#00ff59"/><stop offset="0.5" stop-color="#00ff80"/><stop offset="0.52" stop-color="#00ffaa"/><stop offset="0.54" stop-color="#00ffd3"/><stop offset="0.56" stop-color="#00f7ed"/><stop offset="0.58" stop-color="#00e8f6"/><stop offset="0.6" stop-color="#00d8ff"/><stop offset="0.62" stop-color="#00c6ff"/><stop offset="0.64" stop-color="#00b5ff"/><stop offset="0.66" stop-color="#00a3ff"/><stop offset="0.68" stop-color="#0092ff"/><stop offset="0.7" stop-color="#0080ff"/><stop offset="0.72" stop-color="#056aff"/><stop offset="0.74" stop-color="#0a53ff"/><stop offset="0.76" stop-color="#0e3dff"/><stop offset="0.78" stop-color="#1326ff"/><stop offset="0.8" stop-color="#1810ff"/><stop offset="0.82" stop-color="#220dff"/><stop offset="0.84" stop-color="#2b0aff"/><stop offset="0.86" stop-color="#3506ff"/><stop offset="0.88" stop-color="#3e03ff"/><stop offset="0.9" stop-color="#4800ff"/><stop offset="0.92" stop-color="#5600ff"/><stop offset="0.94" stop-color="#6300ff"/><stop offset="0.96" stop-color="#7100ff"/><stop offset="0.98" stop-color="#7e00ff"/><stop offset="1" stop-color="#8c00ff"/></linearGradient>
</defs>
<line x1="100" y1="44.40" x2="439" y2="44.40" stroke="#000" stroke-width="1.3" stroke-dasharray="4 3.36"/>
<line x1="100" y1="113.40" x2="439" y2="113.40" stroke="#000" stroke-width="1.3" stroke-dasharray="4 3.36"/>
<line x1="100" y1="174.40" x2="439" y2="174.40" stroke="#000" stroke-width="1.3" stroke-dasharray="4 3.36"/>
<line x1="100" y1="256.40" x2="439" y2="256.40" stroke="#000" stroke-width="1.3" stroke-dasharray="4 3.36"/>
<line x1="100" y1="328.50" x2="439" y2="328.50" stroke="#000" stroke-width="1.3" stroke-dasharray="4 3.36"/>
<line x1="99" y1="383.6" x2="439" y2="383.6" stroke="#000" stroke-width="1.6"/>
<rect x="369" y="19.5" width="37" height="20" fill="#fff" fill-opacity="0.82"/>
<text x="387.5" y="35.4" font-size="14.5" text-anchor="middle" font-family="Liberation Serif, serif" font-weight="bold" fill="#111">GaAs</text>
<rect x="347.3" y="65.9" width="78.4" height="20.9" fill="#fff" fill-opacity="0.82"/>
<text x="348" y="81.4" font-size="14.5" textLength="15.4" lengthAdjust="spacingAndGlyphs" font-family="Liberation Serif, serif" font-weight="bold" fill="#111">Al</text>
<text x="363.4" y="85.1" font-size="9.3" textLength="12.2" lengthAdjust="spacingAndGlyphs" font-family="Liberation Serif, serif" font-weight="bold" fill="#111">0.5</text>
<text x="376.1" y="81.4" font-size="14.5" textLength="18.9" lengthAdjust="spacingAndGlyphs" font-family="Liberation Serif, serif" font-weight="bold" fill="#111">Ga</text>
<text x="395.3" y="85.1" font-size="9.3" textLength="12.2" lengthAdjust="spacingAndGlyphs" font-family="Liberation Serif, serif" font-weight="bold" fill="#111">0.5</text>
<text x="408" y="81.4" font-size="14.5" textLength="17.4" lengthAdjust="spacingAndGlyphs" font-family="Liberation Serif, serif" font-weight="bold" fill="#111">As</text>
<rect x="369" y="133.2" width="37" height="20" fill="#fff" fill-opacity="0.82"/>
<text x="387.5" y="148.3" font-size="14.5" text-anchor="middle" font-family="Liberation Serif, serif" font-weight="bold" fill="#111">GaAs</text>
<rect x="347.3" y="202.3" width="78.4" height="21.7" fill="#fff" fill-opacity="0.82"/>
<text x="348" y="217.7" font-size="14.5" textLength="15.4" lengthAdjust="spacingAndGlyphs" font-family="Liberation Serif, serif" font-weight="bold" fill="#111">Al</text>
<text x="363.4" y="221.4" font-size="9.3" textLength="12.2" lengthAdjust="spacingAndGlyphs" font-family="Liberation Serif, serif" font-weight="bold" fill="#111">0.5</text>
<text x="376.1" y="217.7" font-size="14.5" textLength="18.9" lengthAdjust="spacingAndGlyphs" font-family="Liberation Serif, serif" font-weight="bold" fill="#111">Ga</text>
<text x="395.3" y="221.4" font-size="9.3" textLength="12.2" lengthAdjust="spacingAndGlyphs" font-family="Liberation Serif, serif" font-weight="bold" fill="#111">0.5</text>
<text x="408" y="217.7" font-size="14.5" textLength="17.4" lengthAdjust="spacingAndGlyphs" font-family="Liberation Serif, serif" font-weight="bold" fill="#111">As</text>
<rect x="369" y="281.9" width="37" height="20" fill="#fff" fill-opacity="0.82"/>
<text x="387.5" y="297.2" font-size="14.5" text-anchor="middle" font-family="Liberation Serif, serif" font-weight="bold" fill="#111">GaAs</text>
<rect x="347.3" y="342.3" width="78.4" height="21.8" fill="#fff" fill-opacity="0.82"/>
<text x="348" y="357.7" font-size="14.5" textLength="15.4" lengthAdjust="spacingAndGlyphs" font-family="Liberation Serif, serif" font-weight="bold" fill="#111">Al</text>
<text x="363.4" y="361.4" font-size="9.3" textLength="12.2" lengthAdjust="spacingAndGlyphs" font-family="Liberation Serif, serif" font-weight="bold" fill="#111">0.5</text>
<text x="376.1" y="357.7" font-size="14.5" textLength="18.9" lengthAdjust="spacingAndGlyphs" font-family="Liberation Serif, serif" font-weight="bold" fill="#111">Ga</text>
<text x="395.3" y="361.4" font-size="9.3" textLength="12.2" lengthAdjust="spacingAndGlyphs" font-family="Liberation Serif, serif" font-weight="bold" fill="#111">0.5</text>
<text x="408" y="357.7" font-size="14.5" textLength="17.4" lengthAdjust="spacingAndGlyphs" font-family="Liberation Serif, serif" font-weight="bold" fill="#111">As</text>
<rect x="295.5" y="388.6" width="132.5" height="19.9" fill="#fff" fill-opacity="0.82"/>
<text x="296.6" y="404.1" font-size="14.5" textLength="130" lengthAdjust="spacingAndGlyphs" font-family="Liberation Serif, serif" font-weight="bold" fill="#111">Plasma switched on</text>
<rect x="99" y="17.4" width="340" height="423.6" fill="none" stroke="#000" stroke-width="1.5"/>
<line x1="88.5" y1="441.00" x2="99" y2="441.00" stroke="#000" stroke-width="1.5"/>
<line x1="94.2" y1="412.91" x2="99" y2="412.91" stroke="#000" stroke-width="1.5"/>
<line x1="94.2" y1="384.82" x2="99" y2="384.82" stroke="#000" stroke-width="1.5"/>
<line x1="94.2" y1="356.73" x2="99" y2="356.73" stroke="#000" stroke-width="1.5"/>
<line x1="94.2" y1="328.64" x2="99" y2="328.64" stroke="#000" stroke-width="1.5"/>
<line x1="88.5" y1="300.55" x2="99" y2="300.55" stroke="#000" stroke-width="1.5"/>
<line x1="94.2" y1="272.46" x2="99" y2="272.46" stroke="#000" stroke-width="1.5"/>
<line x1="94.2" y1="244.37" x2="99" y2="244.37" stroke="#000" stroke-width="1.5"/>
<line x1="94.2" y1="216.28" x2="99" y2="216.28" stroke="#000" stroke-width="1.5"/>
<line x1="94.2" y1="188.19" x2="99" y2="188.19" stroke="#000" stroke-width="1.5"/>
<line x1="88.5" y1="160.10" x2="99" y2="160.10" stroke="#000" stroke-width="1.5"/>
<line x1="94.2" y1="132.01" x2="99" y2="132.01" stroke="#000" stroke-width="1.5"/>
<line x1="94.2" y1="103.92" x2="99" y2="103.92" stroke="#000" stroke-width="1.5"/>
<line x1="94.2" y1="75.83" x2="99" y2="75.83" stroke="#000" stroke-width="1.5"/>
<line x1="94.2" y1="47.74" x2="99" y2="47.74" stroke="#000" stroke-width="1.5"/>
<line x1="88.5" y1="19.65" x2="99" y2="19.65" stroke="#000" stroke-width="1.5"/>
<text x="80.2" y="445.70" font-size="16.6" text-anchor="end" font-family="Liberation Serif, serif" fill="#1a1a1a">0</text>
<text x="80.2" y="305.25" font-size="16.6" text-anchor="end" font-family="Liberation Serif, serif" fill="#1a1a1a">500</text>
<text x="80.2" y="164.80" font-size="16.6" text-anchor="end" font-family="Liberation Serif, serif" fill="#1a1a1a">1000</text>
<text x="80.2" y="24.35" font-size="16.6" text-anchor="end" font-family="Liberation Serif, serif" fill="#1a1a1a">1500</text>
<line x1="99.00" y1="441" x2="99.00" y2="451.5" stroke="#000" stroke-width="1.5"/>
<line x1="108.71" y1="441" x2="108.71" y2="445.8" stroke="#000" stroke-width="1.5"/>
<line x1="118.43" y1="441" x2="118.43" y2="445.8" stroke="#000" stroke-width="1.5"/>
<line x1="128.14" y1="441" x2="128.14" y2="445.8" stroke="#000" stroke-width="1.5"/>
<line x1="137.86" y1="441" x2="137.86" y2="445.8" stroke="#000" stroke-width="1.5"/>
<line x1="147.57" y1="441" x2="147.57" y2="451.5" stroke="#000" stroke-width="1.5"/>
<line x1="157.29" y1="441" x2="157.29" y2="445.8" stroke="#000" stroke-width="1.5"/>
<line x1="167.00" y1="441" x2="167.00" y2="445.8" stroke="#000" stroke-width="1.5"/>
<line x1="176.71" y1="441" x2="176.71" y2="445.8" stroke="#000" stroke-width="1.5"/>
<line x1="186.43" y1="441" x2="186.43" y2="445.8" stroke="#000" stroke-width="1.5"/>
<line x1="196.14" y1="441" x2="196.14" y2="451.5" stroke="#000" stroke-width="1.5"/>
<line x1="205.86" y1="441" x2="205.86" y2="445.8" stroke="#000" stroke-width="1.5"/>
<line x1="215.57" y1="441" x2="215.57" y2="445.8" stroke="#000" stroke-width="1.5"/>
<line x1="225.29" y1="441" x2="225.29" y2="445.8" stroke="#000" stroke-width="1.5"/>
<line x1="235.00" y1="441" x2="235.00" y2="445.8" stroke="#000" stroke-width="1.5"/>
<line x1="244.71" y1="441" x2="244.71" y2="451.5" stroke="#000" stroke-width="1.5"/>
<line x1="254.43" y1="441" x2="254.43" y2="445.8" stroke="#000" stroke-width="1.5"/>
<line x1="264.14" y1="441" x2="264.14" y2="445.8" stroke="#000" stroke-width="1.5"/>
<line x1="273.86" y1="441" x2="273.86" y2="445.8" stroke="#000" stroke-width="1.5"/>
<line x1="283.57" y1="441" x2="283.57" y2="445.8" stroke="#000" stroke-width="1.5"/>
<line x1="293.29" y1="441" x2="293.29" y2="451.5" stroke="#000" stroke-width="1.5"/>
<line x1="303.00" y1="441" x2="303.00" y2="445.8" stroke="#000" stroke-width="1.5"/>
<line x1="312.71" y1="441" x2="312.71" y2="445.8" stroke="#000" stroke-width="1.5"/>
<line x1="322.43" y1="441" x2="322.43" y2="445.8" stroke="#000" stroke-width="1.5"/>
<line x1="332.14" y1="441" x2="332.14" y2="445.8" stroke="#000" stroke-width="1.5"/>
<line x1="341.86" y1="441" x2="341.86" y2="451.5" stroke="#000" stroke-width="1.5"/>
<line x1="351.57" y1="441" x2="351.57" y2="445.8" stroke="#000" stroke-width="1.5"/>
<line x1="361.29" y1="441" x2="361.29" y2="445.8" stroke="#000" stroke-width="1.5"/>
<line x1="371.00" y1="441" x2="371.00" y2="445.8" stroke="#000" stroke-width="1.5"/>
<line x1="380.71" y1="441" x2="380.71" y2="445.8" stroke="#000" stroke-width="1.5"/>
<line x1="390.43" y1="441" x2="390.43" y2="451.5" stroke="#000" stroke-width="1.5"/>
<line x1="400.14" y1="441" x2="400.14" y2="445.8" stroke="#000" stroke-width="1.5"/>
<line x1="409.86" y1="441" x2="409.86" y2="445.8" stroke="#000" stroke-width="1.5"/>
<line x1="419.57" y1="441" x2="419.57" y2="445.8" stroke="#000" stroke-width="1.5"/>
<line x1="429.29" y1="441" x2="429.29" y2="445.8" stroke="#000" stroke-width="1.5"/>
<line x1="439.00" y1="441" x2="439.00" y2="451.5" stroke="#000" stroke-width="1.5"/>
<text x="99.30" y="472.2" font-size="16.6" text-anchor="middle" font-family="Liberation Serif, serif" fill="#1a1a1a">1.5</text>
<text x="147.87" y="472.2" font-size="16.6" text-anchor="middle" font-family="Liberation Serif, serif" fill="#1a1a1a">2.0</text>
<text x="196.44" y="472.2" font-size="16.6" text-anchor="middle" font-family="Liberation Serif, serif" fill="#1a1a1a">2.5</text>
<text x="245.01" y="472.2" font-size="16.6" text-anchor="middle" font-family="Liberation Serif, serif" fill="#1a1a1a">3.0</text>
<text x="293.59" y="472.2" font-size="16.6" text-anchor="middle" font-family="Liberation Serif, serif" fill="#1a1a1a">3.5</text>
<text x="342.16" y="472.2" font-size="16.6" text-anchor="middle" font-family="Liberation Serif, serif" fill="#1a1a1a">4.0</text>
<text x="390.73" y="472.2" font-size="16.6" text-anchor="middle" font-family="Liberation Serif, serif" fill="#1a1a1a">4.5</text>
<text x="439.30" y="472.2" font-size="16.6" text-anchor="middle" font-family="Liberation Serif, serif" fill="#1a1a1a">5.0</text>
<text x="269" y="503.5" font-size="22.5" text-anchor="middle" textLength="193" lengthAdjust="spacingAndGlyphs" font-family="Liberation Serif, serif" fill="#1a1a1a">Photon energy (eV)</text>
<text transform="translate(28,230) rotate(-90)" x="0" y="0" font-size="22.5" text-anchor="middle" textLength="87" lengthAdjust="spacingAndGlyphs" font-family="Liberation Serif, serif" fill="#1a1a1a">Time (s)</text>
<rect x="459" y="48" width="49.6" height="386" fill="url(#cb)" stroke="#000" stroke-width="1.5"/>
<line x1="459" y1="48.00" x2="470" y2="48.00" stroke="#000" stroke-width="1.5"/>
<line x1="497.6" y1="48.00" x2="508.6" y2="48.00" stroke="#000" stroke-width="1.5"/>
<text x="519.6" y="54.10" font-size="16.2" font-family="Liberation Serif, serif" fill="#1a1a1a">12.1</text>
<line x1="459" y1="125.20" x2="470" y2="125.20" stroke="#000" stroke-width="1.5"/>
<line x1="497.6" y1="125.20" x2="508.6" y2="125.20" stroke="#000" stroke-width="1.5"/>
<text x="519.6" y="131.30" font-size="16.2" font-family="Liberation Serif, serif" fill="#1a1a1a">6.4</text>
<line x1="459" y1="202.40" x2="470" y2="202.40" stroke="#000" stroke-width="1.5"/>
<line x1="497.6" y1="202.40" x2="508.6" y2="202.40" stroke="#000" stroke-width="1.5"/>
<text x="519.6" y="208.50" font-size="16.2" font-family="Liberation Serif, serif" fill="#1a1a1a">4.9</text>
<line x1="459" y1="279.60" x2="470" y2="279.60" stroke="#000" stroke-width="1.5"/>
<line x1="497.6" y1="279.60" x2="508.6" y2="279.60" stroke="#000" stroke-width="1.5"/>
<text x="519.6" y="285.70" font-size="16.2" font-family="Liberation Serif, serif" fill="#1a1a1a">3.4</text>
<line x1="459" y1="356.80" x2="470" y2="356.80" stroke="#000" stroke-width="1.5"/>
<line x1="497.6" y1="356.80" x2="508.6" y2="356.80" stroke="#000" stroke-width="1.5"/>
<text x="519.6" y="362.90" font-size="16.2" font-family="Liberation Serif, serif" fill="#1a1a1a">1.9</text>
<line x1="459" y1="434.00" x2="470" y2="434.00" stroke="#000" stroke-width="1.5"/>
<line x1="497.6" y1="434.00" x2="508.6" y2="434.00" stroke="#000" stroke-width="1.5"/>
<text x="519.6" y="440.10" font-size="16.2" font-family="Liberation Serif, serif" fill="#1a1a1a">0.4</text>
<text x="449.5" y="29.3" font-size="20.2" font-family="Liberation Serif, serif" fill="#1a1a1a">RAS</text>
<text x="491.8" y="29.3" font-size="20.2" font-family="Liberation Serif, serif" fill="#1a1a1a">(</text>
<text x="496.6" y="29.3" font-size="20.2" font-family="Liberation Serif, serif" fill="#1a1a1a">10</text>
<text x="517.3" y="21.8" font-size="14.3" font-family="Liberation Serif, serif" fill="#1a1a1a">-</text>
<text x="520.6" y="21.8" font-size="14.3" font-family="Liberation Serif, serif" fill="#1a1a1a">3</text>
<text x="527.6" y="29.3" font-size="20.2" font-family="Liberation Serif, serif" fill="#1a1a1a">)</text>
</svg></div></body></html>
